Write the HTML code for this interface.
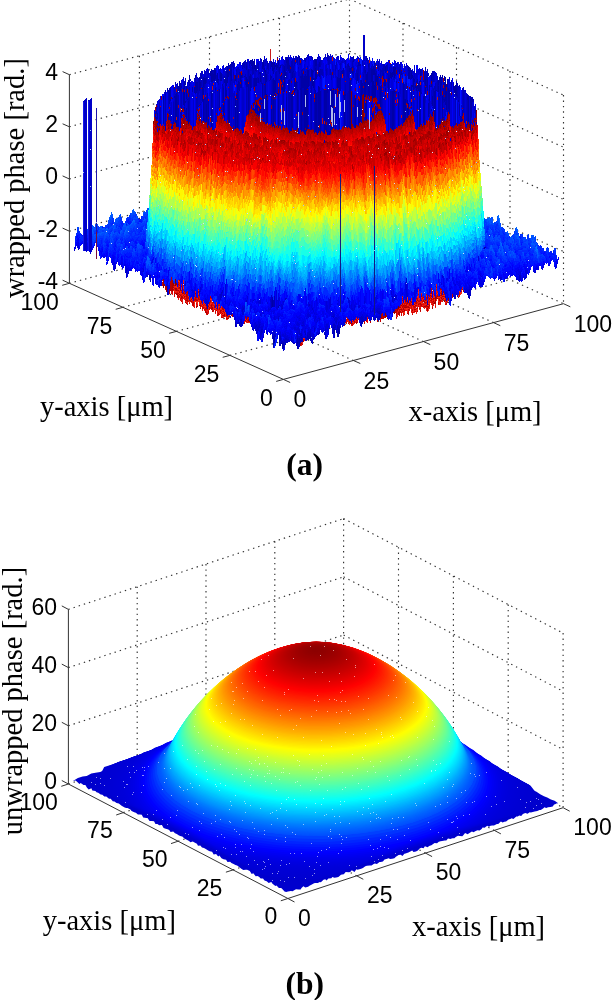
<!DOCTYPE html>
<html><head><meta charset="utf-8"><title>Wrapped and unwrapped phase</title>
<style>
html,body{margin:0;padding:0;background:#fff}
svg{display:block}
.tk text{font-family:"Liberation Sans",Arial,sans-serif;font-size:23px;fill:#000}
.lb text{font-family:"Liberation Serif","Times New Roman",serif;font-size:28.5px;fill:#000}
.cap text{font-family:"Liberation Serif","Times New Roman",serif;font-size:31.5px;font-weight:bold;fill:#000}
</style></head><body>
<svg width="612" height="1000" viewBox="0 0 612 1000">
<rect width="612" height="1000" fill="#fff"/>
<g id="plotA">
<path d="M139.4 55.8L139.4 264.4M209.5 36.8L209.5 245.4M279.5 17.9L279.5 226.5M349.5 -1L349.5 207.6M69.4 283.3L349.5 207.6M349.5 207.6L563.5 303.7M69.4 231.2L349.5 155.5M349.5 155.5L563.5 251.5M69.4 179L349.5 103.3M349.5 103.3L563.5 199.4M69.4 126.8L349.5 51.2M349.5 51.2L563.5 147.2M69.4 74.7L349.5 -1M349.5 -1L563.5 95.1M403 23L403 231.6M456.5 47L456.5 255.7M510 71.1L510 279.7M563.5 95.1L563.5 303.7M353.4 360.5L139.4 264.4M423.4 341.5L209.5 245.4M493.5 322.6L279.5 226.5M229.9 355.4L510 279.7M176.4 331.4L456.5 255.7M122.9 307.3L403 231.6" fill="none" stroke="#333" stroke-width="1.15" stroke-dasharray="1.4 4" />
<g fill="none" stroke-width="1" shape-rendering="crispEdges"><path stroke="#0000a7" d="M149.5 275v5m1 1v1m5-169v1m0 2v3m1-12v2m0 2v2m0 4v4m1-8v6m6-23v28m4-36v2m1 27v2m1-31v16m0 9v1m1-25v12m2-3v1m2-3v2m1-2v27m1-30v24m0 3v7m2-41v5m1-10v12m1-10v8m1-5v2m2 0v17m1-23v7m0 3v14m0 1v4m1-10v2m1-17v13m0 9v11m1-20v1m1-20v1m0 20v23m1-49v3m3 9v5m2-14v1m0 8v6m1-18v19m1-12v11m1-11v9m2-14v14m1-9v6m0 16v1m2-18v14m1-24v10m0 2v6m0 4v22m1-43v6m1-6v6m1 20v18m2-21v16m0 2v6m2-54v5m1-5v11m0 9v36m1-54v9m1-8v7m1-13v13m1-11v9m0 9v2m2-17v10m1-4v1m1 9v19m1-36v9m1-8v8m1 3v2m1 2v13m0 4v11m1-40v2m0 1v4m0 20v1m1-26v19m1-26v2m0 7v6m0 4v8m1-32v17m1-11v5m0 22v24m1-27v27m1-59v12m1-7v12m4-6v6m0 17v8m0 1v22m0 196v1m1-232v5m1-15v44m1-47v9m1-18v1m0 9v9m0 234v1m1-253v9m0 2v4m0 238v1m1-252v3m0 2v8m3-12v1m2-11v4m0 7v10m1-8v8m1-3v30m1-38v8m1-24v4m0 10v17m1-31v6m1-7v10m1-8v3m1-5v10m0 9v9m0 15v1m0 6v2m1-46v6m0 7v8m0 19v8m1-35v8m0 16v6m0 7v1m1-11v10m1-37v5m1-11v2m0 33v7m1-42v10m0 27v4m1-54v2m1 1v7m0 14v16m1-39v7m1 1v4m1-2v25m1-21v8m0 12v30m1-28v1m0 3v23m3-48v5m1-19v6m0 9v2m0 16v11m0 4v15m1-62v9m0 228v8m1-244v2m0 3v6m0 4v20m0 1v27m0 216v5m1-285v7m0 11v15m0 244v4m1-278v2m0 14v12m1-30v7m1-5v3m0 25v1m1-34v5m0 28v35m1-61v7m1-9v3m1 7v7m0 2v6m1-3v3m0 255v4m1-265v8m0 252v4m1-282v26m1-20v4m0 1v1m1-21v6m0 34v30m1-70v12m1-10v12m1-6v8m1-7v1m0 2v4m1 21v37m1-59v6m0 16v34m1-57v1m1 6v9m0 1v5m1-11v9m1-10v9m1-33v4m0 28v39m0 214v2m1 4v1m1-293v6m1 14v2m0 10v2m1-14v56m1-59v15m1-10v10m1-12v58m1-60v21m0 12v21m0 2v5m1-59v55m1-61v19m0 1v39m1-59v17m3-18v7m0 265v2m1-273v16m1-15v1m0 6v2m0 1v7m1 1v1m1-31v7m0 2v12m0 10v42m1-73v7m0 5v8m0 14v40m2-47v40m0 1v6m1-71v5m0 4v6m0 10v38m0 3v3m1-62v1m0 21v42m4-43v31m0 3v10m1-44v40m1-40v32m0 3v7m1-43v4m2 38v4m1-6v5m1-45v18m0 15v1m0 3v2m1-38v18m0 19v2m1-41v40m1 201v4m3-256v11m0 246v3m1-267v1m0 7v10m0 3v5m0 235v6m1-259v16m0 24v11m0 202v3m1-257v14m1-20v1m1-2v4m1-6v8m0 19v1m1-4v8m0 12v16m1-62v2m0 26v2m3-31v2m1 1v4m0 10v46m1-60v2m0 10v49m1-62v2m0 9v1m1-12v1m0 3v3m1-18v6m2 36v30m2-55v8m1-19v4m0 33v25m1-63v5m0 35v22m1-59v2m0 30v26m1-42v16m1-13v10m2-11v15m1-27v3m0 9v15m0 6v17m1-46v9m0 17v21m1-49v13m1-21v3m0 15v3m0 1v10m1-13v14m2-28v13m1-13v29m1-30v7m0 6v17m1-29v6m0 10v13m1-25v24m0 9v3m1-33v6m1-6v9m0 18v1m0 4v3m3-25v21m3-34v6m1 0v7m1-19v6m0 7v6m0 2v4m0 3v3m1-33v1m2 12v12m1-12v2m1-8v6m1-5v6m1-7v5m0 14v39m1-63v8m0 16v35m1-59v11m0 12v3m1-26v3m1 11v2m2 9v34m1-48v3m1-7v5m1-8v4m2 7v41m1-24v23m1-23v12m0 1v8m2-20v4m0 4v10m1-52v5m0 1v7m0 24v12m1-45v9m1-11v4m1-1v8m0 6v14m0 3v4m0 1v1m1-33v3m0 7v2m1-9v12m1-11v3m1 3v3m1-7v2m0 3v5m1-12v5m0 1v4m1-6v8m1-10v11m0 4v31m1-58v7m0 4v2m0 3v23m0 1v16m1-33v2m2 2v27m1-27v29m1-46v7m0 1v7m1-9v1m1-7v12m1 12v14m1-32v16m1-26v1m1-3v8m0 3v3m0 22v2m1-15v10m0 6v4m2-25v18m0 1v12m1-32v36m1-36v1m2-11v5m0 1v6m2-17v21m1-19v8m1-10v3m0 18v24m1-21v1m0 17v1m0 1v1m1-44v5m0 1v5m0 12v3m1-25v24m0 1v3m1-20v2m0 4v19m1-31v7m1 3v20m1-19v24m2-32v3m2-2v7m1-4v7m1-8v10m1-14v15m2 4v2m1-17v3m0 16v12m2 1v1m1-8v6m0 3v1m5-23v3m1-4v26m1-26v1m0 200v1m1-200v32m1-33v20m1-18v3m3 8v4m9 133v2"/><path stroke="#0000b7" d="M150.5 275v6m6-168v1m0 12v1m3-25v22m0 4v2m1-23v17m5-33v40m2 158v6m1-205v18m0 11v1m1-10v3m1-26v2m0 31v1m1-2v1m2-18v22m1-36v1m1-7v2m0 10v2m2-12v43m1-35v1m0 2v10m0 3v19m3-37v19m0 1v8m3-6v1m1-35v7m0 25v7m2 2v2m1-40v2m0 15v3m1-23v8m0 1v35m7-24v22m1-29v18m1-31v16m0 12v1m2-32v3m1-5v6m0 1v6m0 16v1m0 17v3m1-22v1m1-15v2m1-5v4m0 10v24m1-25v26m1-46v6m0 17v4m1-11v35m0 180v1m3-217v1m1-24v2m1-1v3m0 20v15m0 1v13m0 1v7m1-60v4m2 16v1m1-16v7m2-16v1m0 13v5m4 1v17m1-17v2m0 13v2m1-2v2m0 1v9m0 2v6m1-22v1m1-27v7m2-17v9m1-7v4m0 2v4m0 11v10m1-20v9m1-23v7m1-7v5m1-6v9m0 2v4m1 3v6m1 237v3m1-256v3m0 1v9m0 18v28m2-37v38m1-56v2m0 249v1m1-1v2m1-4v3m1-258v2m0 4v5m1-16v5m1-6v7m1 6v11m1-23v4m0 21v29m2-47v13m1-21v5m0 18v26m2-35v13m1-19v6m1-11v10m0 4v11m0 19v2m3-44v6m0 36v6m1-52v7m0 8v6m1-20v12m0 31v2m0 3v4m2-16v6m1-29v8m0 16v3m0 228v1m1-212v1m1-54v3m0 27v25m1-37v11m1 0v1m2-36v8m1-6v7m1 10v1m1-20v1m0 3v4m1 231v8m1-229v17m0 1v30m0 170v2m0 37v3m1-274v3m0 232v7m0 29v6m1-245v25m0 3v3m0 168v11m0 28v4m1-267v9m0 13v4m0 1v25m1-53v10m2-16v7m0 234v2m1-3v1m0 32v8m1-270v4m0 256v5m0 3v2m1-274v1m0 270v1m1-1v2m1-280v15m0 2v2m0 9v15m0 4v14m0 216v2m1 1v1m1-282v8m0 271v2m1-282v8m0 1v7m0 14v4m2-17v50m1-51v12m0 1v41m1-40v38m1-70v18m1-20v13m1-16v2m0 8v5m0 1v6m0 265v1m1-286v8m0 7v5m1-16v2m1-8v6m0 283v1m1-285v4m0 17v1m0 255v4m0 2v5m1-294v3m0 9v2m0 21v22m0 16v6m0 206v4m1-282v3m0 273v7m1-282v2m0 13v10m0 2v40m0 210v3m1-273v6m0 259v1m0 1v5m1-273v2m0 17v24m0 3v16m0 210v1m1-266v2m0 10v44m1-74v3m1-3v4m0 9v2m0 260v2m0 2v1m1 0v1m1-273v3m0 266v3m1-284v5m0 277v1m0 1v2m1-264v10m0 248v1m1 0v3m0 1v2m1-265v54m0 208v3m1-284v3m0 283v1m1-8v1m1-278v12m0 7v11m0 1v4m0 4v1m0 3v31m0 205v1m1-273v2m1-2v5m1-14v3m0 32v43m1-71v12m0 257v2m1-3v2m1-274v7m0 3v9m1-19v1m0 8v6m1-6v7m2-19v2m0 81v3m1 191v1m0 2v2m1-270v7m0 262v1m1-286v8m0 32v42m1-80v10m0 25v28m0 1v16m1-75v4m1 5v6m0 14v2m0 14v15m0 4v5m1-56v7m0 48v2m2 197v6m1-6v1m0 5v4m1-272v6m0 19v4m0 13v23m1-68v3m1 261v4m1-259v7m0 18v34m0 197v4m1-2v2m1-268v6m0 4v4m1-5v5m2 19v2m1-37v1m1-2v6m0 18v10m0 2v30m2-62v13m0 16v35m1-65v2m0 2v11m0 13v36m1-61v2m0 10v4m1-12v4m1-5v4m0 6v2m1-20v6m1-1v12m1-19v1m0 35v33m2-58v14m1-19v8m1-7v17m0 41v2m2-46v16m1 0v19m0 1v7m0 198v6m1-266v5m0 27v2m0 225v4m1-250v3m0 3v6m0 2v6m1-27v6m1 0v7m1-24v5m0 22v12m1-37v2m0 25v13m1-31v15m1-19v20m1-15v15m1-17v3m0 17v10m1 2v4m0 11v4m1-51v2m1-5v6m1-6v10m0 36v1m1-39v5m0 33v2m1-46v4m0 38v1m1-47v10m0 3v11m1-9v1m0 8v19m0 209v1m1-245v13m1-12v2m0 13v26m1-43v8m1-12v9m1-9v7m1-5v1m1-1v6m1-8v7m0 2v2m1-1v4m1-3v3m0 2v3m1 8v37m1-37v38m2-40v2m0 35v5m1-38v36m1-59v6m0 16v2m4-25v5m1-12v1m0 3v8m4 10v15m2-16v6m0 1v13m2-32v1m1-5v3m1 2v8m0 31v1m1-42v1m3 15v3m3 1v19m0 2v18m4-60v7m2 5v1m1-10v12m1-17v12m1-5v11m0 1v2m1-18v9m1-6v3m1 25v13m1-28v1m1 16v1m1-33v12m0 24v1m1-37v11m0 7v22m1-25v3m1-6v7m2-12v1m0 2v11m1-7v1m0 7v35m1-51v6m0 13v29m4-43v3m0 3v11m0 1v3m1-16v8m0 2v2m1 2v1m0 12v2m2-30v26m0 1v2m1-27v1m0 20v3m3-32v2m0 3v6m4 6v28m0 173v1m2-216v15m0 27v1m3-10v1m0 1v4m1-4v4m1-2v1m1-34v26m4-19v3m0 3v25m0 169v1m1 1v2m1 0v1m1-203v2m1 19v1m0 4v1m1-26v2m0 29v2m1-31v3m2 12v4m1 4v2m9 123v1"/><path stroke="#0000c7" d="M74.5 249v2m16 2v1m24 12v1m0 2v2m1-3v1m10 3v1m1-3v4m29-163v2m1-4v2m1-10v4m0 1v3m0 14v2m1-3v1m1-22v1m6-12v1m2-1v3m0 193v3m1-178v3m1 1v5m1-13v13m1-18v13m0 1v3m0 7v3m1-7v7m1-28v1m1-13v7m0 2v24m3-39v1m3 7v17m0 4v16m1-45v3m0 3v1m2-13v11m0 19v2m1-28v1m0 24v1m0 4v1m0 1v2m2-16v3m1-17v4m0 4v6m0 1v19m1-31v5m0 4v1m2-19v2m0 1v2m3 11v32m3-52v7m1-5v5m1 12v12m1-15v2m0 2v10m0 14v2m1-48v2m0 3v4m0 6v16m0 12v1m1-46v2m0 13v2m0 1v12m0 8v10m1-42v10m2-17v8m1-7v7m0 6v11m0 208v1m1-208v4m0 202v1m0 1v2m1-238v10m0 225v5m1-239v6m1-2v1m0 7v4m3-3v4m0 4v2m2 0v1m1-24v1m0 9v2m0 1v6m0 3v37m2-37v25m1-27v20m1-40v9m1 216v6m1-195v5m0 182v6m1-224v4m0 26v8m0 4v1m0 1v1m0 171v3m1-228v8m0 2v9m0 211v2m2-226v7m1-12v1m0 21v2m1 8v22m1-32v2m1-15v11m1-1v12m0 217v1m0 1v1m1-236v46m0 186v2m1-236v18m1-27v2m0 4v7m0 10v24m0 2v7m0 2v3m1-68v6m0 22v38m1 197v1m1-255v1m0 252v2m1-260v10m1-10v8m0 3v3m0 9v1m0 229v1m0 1v2m1-255v3m0 3v7m0 240v2m1-5v5m1-246v2m0 239v3m0 4v1m1-264v4m0 20v47m0 175v3m1-223v44m0 175v2m2-250v9m1 231v2m1-243v20m0 8v28m2-49v2m0 1v7m1-10v5m1-4v4m0 41v1m0 213v1m1-218v1m0 219v1m1-228v1m0 197v1m0 29v1m1-262v9m0 13v4m0 9v1m0 223v1m1-258v7m0 8v7m0 1v6m0 226v2m1-3v2m0 2v2m0 1v2m1-7v6m1-258v3m0 38v1m0 209v5m1-257v10m0 16v1m0 13v2m0 208v4m1-270v2m0 272v7m1-235v14m0 211v2m0 1v3m1-236v19m0 211v1m0 1v2m0 5v2m1-266v2m0 1v20m0 237v4m1-282v12m0 4v12m0 14v1m0 10v13m1-63v7m0 31v3m0 1v23m1-56v6m1-2v9m1-11v4m2-12v3m0 9v1m0 224v3m1-224v16m0 201v5m3-231v3m0 262v1m1-1v3m1-256v13m1-26v25m1-21v9m0 237v2m1-246v5m0 1v46m0 208v4m1-3v1m0 6v2m1-279v1m0 275v2m1-279v21m0 5v38m0 180v1m0 32v2m1-284v1m0 288v1m0 1v1m1-291v6m0 274v3m1-286v7m0 14v11m0 209v2m0 38v5m1-45v1m0 39v5m1-274v10m0 11v1m0 248v2m1-286v4m0 280v3m1-279v2m1 8v9m1-3v2m0 2v10m0 247v2m1 0v1m1-285v8m0 12v2m1-14v7m0 270v1m1-288v4m0 11v6m1-15v1m0 27v24m0 2v14m0 210v5m1-262v6m0 244v5m1-269v7m0 262v2m0 4v4m1-276v18m0 240v5m0 10v2m1-289v2m0 14v2m0 257v5m0 1v1m1-282v6m0 269v2m1-264v2m0 252v1m0 12v3m1-273v3m0 3v2m1-12v12m0 255v2m1-260v1m0 257v2m0 3v1m0 3v1m1-284v3m0 9v7m0 261v1m0 1v2m1-286v3m0 11v1m0 263v2m0 3v2m1-252v27m0 1v9m0 2v2m0 203v4m0 1v1m1-269v7m0 228v2m0 25v3m0 1v4m1-258v8m0 1v3m0 1v36m0 201v4m0 3v1m1-283v3m1 249v2m1-250v11m0 1v1m0 261v2m0 1v3m1-12v4m3-268v6m0 4v3m1-17v4m1-8v6m1 267v1m1-269v4m0 25v41m2-73v2m0 12v6m0 11v44m1 200v2m1-281v4m0 7v6m0 258v1m0 1v1m0 3v2m1-273v5m1-1v7m2-19v4m0 4v11m0 12v37m0 1v6m2-59v1m1-9v6m0 246v1m0 15v1m1-264v9m0 238v2m0 6v3m0 6v2m1-11v3m0 1v1m0 8v1m1-267v7m0 11v1m0 231v1m0 3v3m0 1v1m1-265v4m0 7v12m0 2v5m0 225v4m0 5v4m1-277v2m0 267v1m0 5v3m1-12v5m1-263v1m0 4v9m0 248v3m1-259v3m0 253v2m1-267v4m0 12v1m1-20v5m1 35v28m1-56v22m1-13v2m0 1v2m1-18v61m1-50v16m1-15v13m1-19v2m3-17v4m1 36v8m0 2v19m1-66v1m0 7v4m1 1v7m3-23v2m1 7v10m1-10v9m0 242v3m0 2v1m0 2v1m1-10v5m1-4v3m1-251v5m0 3v3m0 239v2m1-258v2m0 1v1m0 6v9m0 15v16m0 4v4m1-55v4m0 30v1m0 216v2m2-259v4m1-4v4m2 19v13m0 224v1m1-239v4m0 16v3m0 2v8m0 204v1m1-256v5m1 42v5m0 203v1m1-259v2m0 12v10m0 235v1m1-2v1m1-214v3m0 202v1m0 5v1m1-228v10m0 2v1m0 8v1m0 198v3m0 5v2m1-235v19m0 207v3m0 4v3m1-262v2m0 5v4m0 10v5m0 24v2m0 200v2m0 3v4m1-238v2m0 233v1m1-257v5m0 6v6m1 14v21m1-31v3m1 1v1m1-1v2m1-15v1m1 1v13m1-18v4m0 16v43m1-66v8m0 8v6m1-25v8m1-8v9m1 223v6m1-227v5m1-2v2m1 14v6m1-37v6m0 14v6m0 2v3m1-32v13m1-8v5m1-8v5m0 26v31m1-63v3m0 13v15m2-21v4m0 6v43m3-44v17m1 6v13m1-53v7m3 38v1m0 4v1m1-8v1m2-33v2m0 13v4m0 1v20m1-51v14m0 3v4m1-9v2m1-8v10m1 8v1m4-9v11m2-12v1m1 5v10m1 0v7m1-32v3m1-5v1m0 231v4m1-206v2m1 14v3m2-28v13m1-20v13m1-8v1m1-18v11m0 7v2m1-19v1m0 53v2m1-55v3m0 6v8m0 38v1m1-53v2m0 2v1m1 11v1m1-10v11m1 2v28m1-39v13m0 22v1m1-35v5m0 4v1m1 7v5m1-6v18m1-12v6m0 182v2m5-211v2m0 2v1m0 1v1m2 199v1m1 2v1m1 0v2m1-3v2m1-202v4m1 3v22m0 170v2m1-211v14m1-12v16m1 13v1m1-13v2m0 9v1m1-29v20m2-18v33m1-33v2m1 1v28m0 3v4m2-33v1m0 194v6m1-7v8m1-7v6m1-166v1m1-29v6m0 15v2m1-5v3m1-17v2m0 1v2m1-3v2m0 10v1m25 159v1m1-2v1m15-1v1m3-5v5m0 1v1m1-7v5m4-1v1"/><path stroke="#0000c8" d="M83.5 101v1m1-2v151m1-152v152m1-153v153m2-151v1m1-1v151m1-152v31m0 1v18m0 1v36m0 1v64m1-153v153m272-216v26m1-26v26"/><path stroke="#0000d7" d="M77.5 247v1m1-3v2m0 2v1m1-2v1m11 2v2m23 14v3m1-8v4m0 1v2m1-3v2m6-2v1m4 0v1m0 1v3m1-4v2m0 4v3m1-9v3m0 1v4m1-4v2m14-3v1m1-3v3m3 3v2m1-2v2m1-3v1m7 5v4m1-170v2m1-7v4m0 6v1m0 164v1m2-186v2m0 24v1m2 157v3m3-194v34m2 158v2m1-175v2m0 169v4m1-178v1m0 182v4m1-186v1m0 4v1m1-14v5m1 14v4m1-25v1m1-15v16m2-17v10m1-10v5m0 3v1m3 0v1m1 195v1m1-210v3m0 5v1m1-1v1m0 3v16m0 23v2m1-21v1m1-24v1m0 194v2m1-200v15m0 2v7m0 171v5m1-184v6m1-26v3m1-2v5m2 9v28m1-32v2m0 195v1m1-199v4m0 193v4m1 2v2m2-203v32m1-53v2m3 18v2m0 196v1m0 1v3m1-191v11m0 171v5m1-191v1m0 1v6m1-38v6m2 11v4m1 206v4m1-233v8m0 6v13m0 203v3m0 1v1m1-226v6m0 217v2m1-228v3m0 1v5m0 218v1m1-210v3m1-20v6m0 11v23m0 1v1m0 4v6m1-46v9m2-9v1m0 2v45m3-43v26m0 2v7m1 185v2m1-242v6m0 12v4m0 207v5m1-223v3m0 2v6m0 24v2m0 179v7m1-233v4m0 9v8m0 21v3m1-1v1m1-35v1m1-6v2m0 9v2m1-18v8m1-9v3m0 214v20m1-237v4m0 241v2m1-2v4m1-239v10m0 3v7m0 208v1m1-3v2m1-208v29m0 191v1m2-251v1m0 29v31m1 167v1m0 20v1m1-11v1m0 11v2m1-3v5m1-240v11m1-16v7m0 238v2m1-13v1m0 9v1m1-231v21m0 1v18m0 177v1m2-244v1m0 22v42m0 195v1m1-20v3m0 3v3m0 9v2m1-259v11m0 9v2m0 218v1m0 4v3m0 8v1m1-256v8m0 1v3m0 9v38m0 179v3m1-240v5m0 11v3m1-18v7m1 219v3m3-235v2m0 5v3m0 232v1m1-236v4m0 250v1m1-249v10m0 16v1m0 223v2m1-1v2m1-235v7m0 197v1m0 23v5m1-14v1m0 7v4m0 2v3m1-266v1m0 6v6m0 8v9m0 2v3m0 224v1m0 2v2m0 2v1m1-262v7m0 7v16m0 224v3m1-268v4m0 20v16m0 202v2m0 18v5m1-242v14m0 200v1m0 1v4m0 18v2m0 6v2m1-272v6m0 16v15m0 202v5m0 10v2m0 6v1m0 1v1m0 2v1m0 2v2m1-266v10m0 43v1m0 206v3m0 6v2m1-268v3m0 1v10m0 36v1m0 206v3m0 1v1m0 9v1m1-28v1m0 11v1m1 5v1m1-232v1m1-43v10m0 14v12m0 216v1m0 20v3m1-265v3m0 9v14m0 207v2m0 30v1m1-260v7m0 226v4m1-251v10m0 10v16m0 212v1m0 22v1m1-264v5m0 6v15m0 207v8m0 23v2m2-264v8m0 253v4m1-23v1m0 17v5m0 11v1m1-32v4m0 11v3m1-267v5m0 247v1m1-30v19m1-252v1m0 3v4m0 29v31m0 175v1m0 5v4m1-12v8m0 10v2m0 2v1m1-263v9m0 230v4m0 15v1m1 15v3m0 6v1m1-278v1m0 239v6m0 28v3m1-285v3m0 246v3m0 26v2m1-35v2m0 31v3m0 2v3m1-7v3m0 1v1m0 3v2m0 1v2m1-15v5m1-2v2m1-247v37m0 207v4m0 2v2m1-272v9m0 257v2m1-282v6m0 274v1m0 2v2m1-287v11m0 16v11m0 247v1m1-5v4m1 0v2m1-250v3m0 1v34m0 209v4m1-16v3m1-253v1m0 13v39m0 197v3m0 8v1m1-15v1m0 4v2m0 2v1m0 1v2m1-20v1m0 4v4m0 2v5m1-275v9m0 9v14m0 233v3m0 1v7m0 2v2m1-273v7m0 246v1m0 1v1m0 3v1m0 4v1m0 6v2m1-273v9m0 264v1m1-275v6m0 255v1m0 3v1m0 1v2m0 3v1m1-15v2m0 5v2m0 3v4m1-278v1m0 260v5m1-1v1m0 4v1m1-269v9m0 257v1m0 1v1m1-13v1m1-5v3m0 15v1m1-274v11m0 232v5m0 6v5m0 11v3m1-18v3m0 13v1m1-275v5m0 7v9m0 238v2m0 12v2m1-26v3m0 25v4m1-251v43m0 204v10m1-270v5m0 10v33m0 1v8m0 180v2m0 14v1m1-14v1m0 5v2m0 6v1m0 8v2m1-22v3m0 9v1m1-29v1m0 13v1m0 7v1m0 12v1m1-276v4m0 256v2m0 10v3m1-281v6m0 258v1m1-252v4m0 247v3m0 8v3m1-275v1m0 9v2m0 10v12m1-26v4m0 8v13m0 239v1m1-270v9m0 19v30m0 6v8m0 199v1m1-269v9m0 256v1m0 1v2m1-2v1m0 1v1m1-262v4m0 251v3m0 1v1m0 1v2m1-277v2m0 17v2m0 223v11m0 12v6m0 5v3m1-277v4m0 240v5m0 14v8m1-263v7m0 250v1m0 3v4m1-35v10m1-255v10m0 233v10m1-251v8m0 16v9m0 215v1m0 11v1m1-262v2m0 4v3m0 6v2m0 3v14m0 225v1m0 10v3m0 1v3m0 1v1m1-269v4m0 244v3m0 7v1m0 11v3m1-280v8m0 3v6m0 15v16m0 2v5m0 12v4m0 185v3m0 1v3m0 2v1m1-7v4m0 1v1m1-228v29m0 1v4m0 188v3m1-262v1m0 9v9m0 20v33m0 170v1m0 2v2m0 13v2m0 10v1m1-275v7m0 26v1m0 216v1m0 10v1m1-258v4m0 241v1m0 15v2m0 1v2m1-271v8m0 6v1m1-5v6m0 7v11m1-11v12m0 235v2m1-269v5m0 13v15m0 220v1m0 10v2m0 1v1m1-267v2m0 1v2m0 257v1m0 1v2m1-257v11m2 218v2m1-1v5m1-3v8m1-252v6m1-5v10m0 14v4m0 1v5m0 213v6m0 9v4m1-249v6m0 11v33m0 184v3m0 8v1m1-258v4m0 29v2m0 213v1m0 8v2m1-249v1m0 232v5m1-248v4m0 240v1m1-246v6m0 26v32m1-69v5m0 1v3m0 252v2m1-13v2m1-232v4m0 225v3m0 9v2m1 1v2m0 1v2m2-253v11m0 231v3m1-256v8m0 247v3m0 2v1m1-260v1m0 238v3m0 13v4m1-265v10m0 250v1m0 2v2m1-253v6m0 241v5m1-252v4m0 243v2m2-260v3m0 260v1m1-11v2m0 7v1m1-259v3m0 37v1m0 15v4m0 196v2m1-217v6m0 202v2m0 4v1m1-242v6m0 22v4m0 9v3m0 189v4m0 5v2m1-2v3m1-8v1m0 4v2m1-258v4m0 4v2m0 15v12m0 211v2m0 5v1m1-258v6m0 20v1m0 212v1m0 9v2m0 6v2m1-209v2m0 197v3m0 5v2m1-257v5m0 242v3m0 3v2m1-251v4m0 40v1m0 201v6m1-251v4m0 243v1m1-250v4m0 19v1m0 2v1m1-6v12m0 1v18m1-45v8m0 8v32m1-19v24m0 188v1m1-239v5m0 3v8m3-1v1m1 0v1m0 221v2m1-235v12m0 200v4m0 1v1m1-230v5m0 7v12m1 209v3m0 6v3m1-232v2m0 214v1m0 1v3m0 9v1m1-250v6m0 9v3m0 24v26m0 165v6m1-231v1m0 225v5m0 8v1m3-227v13m1-1v3m1-17v35m0 3v6m1-47v1m0 215v2m1-226v5m0 228v1m1-239v7m1-5v8m0 208v8m1-227v20m0 195v5m0 1v17m1-229v4m0 12v12m0 193v4m1-182v1m1-7v3m0 20v2m1-47v4m0 1v12m0 10v1m2-46v6m0 3v7m1-14v5m0 221v3m1-211v9m0 2v22m0 168v9m1-226v4m0 2v6m0 3v3m1 0v39m1-59v8m1-10v6m1-7v6m5-3v1m0 12v2m1 17v22m1-37v10m2 3v2m1-27v2m0 36v1m0 175v3m1-217v10m0 15v13m0 177v1m1-188v2m0 8v2m4-43v10m1-7v6m1-3v1m2 14v2m2 2v21m0 164v2m1-207v8m0 189v3m1-169v8m0 168v2m1 6v1m1-189v3m0 184v4m1-186v2m0 180v2m1-182v1m1-34v9m1-11v13m0 200v1m1-209v5m0 2v2m0 3v32m0 12v3m0 147v1m0 1v5m1-204v1m0 3v32m1 165v1m1-203v38m0 166v2m1-202v3m0 1v28m0 165v3m0 1v2m1-202v2m0 187v2m0 6v1m0 1v2m1-3v2m1-197v5m1 17v4m1-8v2m0 5v1m0 163v1m1 2v2m4-4v2m1-198v35m0 162v4m1-5v5m1-22v1m0 17v5m1-5v1m1-193v27m0 161v4m1-3v4m1-172v4m0 164v2m1-169v1m1-16v16m1-12v1m0 2v2m0 9v4m4 130v5m1 21v1m1-8v1m0 7v1m1-8v1m13 3v1m5-3v1m1-2v3m1-3v2m16 0v1m1-6v1m0 4v2m1-1v1m1-9v3m3 1v1m1 1v1m1-9v3m0 4v2m1-9v8m1-8v3m6-2v1m1-2v3m1-2v2m1-5v2m5-2v1m1 0v1m1-3v1m13-3v3"/><path stroke="#0000e7" d="M74.5 247v2m1-3v3m2-6v4m1-5v3m0 2v2m1-3v2m7 3v1m1-6v3m0 1v1m2 0v1m2-1v1m1-3v1m11 7v1m1-1v1m8 1v6m1-8v10m3-4v1m1-3v1m1 2v1m1 0v1m1-2v1m1-3v4m1-4v3m0 2v2m1-2v1m1-4v2m1-2v3m0 1v1m1-3v2m0 9v1m1-7v1m0 4v1m1-10v5m1-3v2m1-2v2m1-1v1m3-3v1m1 1v2m1-2v1m4 0v4m1-4v1m1-4v1m0 4v2m0 1v4m1-12v1m0 13v1m1-19v2m2 6v3m1-2v2m2-1v1m2-13v2m1-5v4m1-6v3m1-150v7m1 160v3m1-176v1m0 11v1m0 159v1m0 2v1m0 2v3m1-180v1m0 14v1m0 154v3m0 3v3m1-184v22m0 164v1m1-11v1m0 7v4m1-4v2m1-186v26m0 154v3m5-191v29m1-28v18m0 169v2m1-12v5m0 5v1m1-177v3m0 178v4m1-183v1m0 15v1m2-23v22m6-29v2m2 193v1m1-9v3m1-204v9m0 199v3m1-185v2m1 11v2m2-1v2m3-35v1m0 209v1m1-213v13m1-16v12m0 2v31m0 160v4m0 5v2m1-212v2m0 9v1m0 1v32m0 164v5m1-217v13m0 195v5m0 4v2m1-222v7m0 201v7m1-11v8m1-198v4m0 199v1m1-4v1m1-185v1m1-4v2m0 184v1m2-9v6m2-216v3m1 15v6m0 197v2m0 3v3m1-1v1m2-219v9m0 202v6m1-2v3m0 1v1m1-230v7m0 4v8m1-10v9m3-11v1m1-1v11m0 202v2m1-228v1m1-3v9m0 218v3m1-213v7m0 201v9m1-227v6m0 222v2m1-222v2m0 218v3m1-195v1m0 178v2m1-203v18m1-26v5m0 209v3m1-180v2m0 169v3m0 14v4m1-225v17m0 197v2m0 2v1m0 5v2m1-209v21m0 187v4m1-226v2m0 10v25m0 156v1m0 23v1m0 7v1m1-229v13m0 206v3m0 3v1m0 2v1m1-8v1m0 2v4m0 3v1m1-13v1m0 11v1m1-14v2m0 9v2m1-2v1m1-245v11m0 213v2m0 8v1m1 11v2m1-12v2m2 3v2m0 10v4m1-16v3m0 1v2m0 1v1m0 1v4m1-5v3m1-17v4m0 10v3m1-258v6m0 20v41m0 175v5m0 5v5m1-12v5m0 3v4m1-250v4m0 6v8m0 218v1m0 10v1m0 5v2m1-19v2m0 4v1m0 10v1m1-242v8m0 216v1m0 3v3m1-224v34m0 176v4m1-7v1m1 3v5m1-245v10m0 224v2m1-227v1m1 22v18m0 190v3m0 5v4m0 10v3m1-258v1m0 237v5m0 9v1m1-244v2m0 27v5m0 191v3m0 19v5m1-253v1m0 234v1m0 9v3m0 2v4m1-20v5m0 6v4m1-15v2m0 2v2m1-13v3m0 7v2m0 8v3m1-241v1m0 215v4m0 7v2m0 9v3m1-21v3m0 13v2m1-260v11m0 29v3m0 207v2m0 6v3m0 6v2m1-264v3m0 244v1m0 6v2m0 1v1m0 1v2m0 1v2m0 9v1m1-279v5m0 18v14m0 215v4m0 6v3m0 11v1m1-36v2m0 6v1m0 1v2m0 9v3m0 7v1m0 2v2m1-268v4m0 223v1m0 14v1m0 10v2m0 1v1m0 3v4m1-19v2m0 12v2m0 1v1m1-25v4m0 3v1m0 11v3m1-31v3m0 25v4m1-21v2m0 9v4m1-251v1m0 7v15m0 209v2m1-237v9m0 227v2m0 1v1m0 3v1m1-192v2m0 172v2m0 12v1m0 3v2m0 14v2m1-266v9m0 234v4m0 2v3m0 13v2m1-23v1m1-253v4m0 11v4m0 232v3m0 4v2m1-247v8m0 211v5m0 14v3m0 2v1m0 13v2m1-15v3m0 7v2m0 2v4m1-264v1m0 245v3m1-18v5m0 7v6m1-238v2m0 4v2m0 204v5m0 15v3m0 16v3m1-22v3m0 14v4m1-266v3m0 23v15m0 3v14m0 175v6m0 7v2m0 15v1m1-242v15m0 15v2m0 2v6m0 185v2m0 17v3m1-36v4m0 9v3m0 10v1m0 4v2m0 2v1m0 3v1m1-281v5m0 238v2m0 13v1m0 14v1m1-241v18m0 14v3m0 196v1m0 1v2m0 3v4m0 3v1m1-13v1m0 1v1m0 1v3m1-254v12m0 232v1m0 1v4m0 1v1m0 1v1m0 1v2m1-257v5m0 1v5m0 242v2m1-13v1m0 10v2m0 1v2m1-264v6m0 230v1m0 11v1m0 11v4m0 1v2m1-37v2m0 18v2m0 2v1m0 2v5m0 3v2m1-283v4m0 240v5m0 19v1m0 1v2m0 2v2m0 1v2m1-258v13m0 216v2m0 18v3m0 3v2m0 2v3m1-260v10m0 231v1m0 3v4m0 8v2m1-244v23m0 1v11m0 187v1m0 6v3m0 3v1m0 11v1m1-22v3m0 1v2m0 3v1m0 6v1m0 4v1m1-271v9m0 234v2m0 2v5m0 1v1m0 1v2m0 2v2m0 4v3m1-269v11m0 234v1m0 4v1m0 5v1m1-34v2m0 20v7m0 3v1m1-237v44m0 161v6m0 14v3m0 1v1m0 2v2m0 1v2m1-14v3m0 1v4m0 1v2m1-12v1m0 4v1m0 2v5m0 5v1m1-13v4m0 2v1m0 1v1m0 1v1m0 2v3m1-15v2m0 5v4m0 6v2m1-277v3m0 253v8m0 1v4m0 4v4m1-32v2m0 6v3m0 3v2m0 4v2m0 1v1m0 5v1m0 2v2m1-280v8m0 228v10m0 7v1m0 1v3m0 7v4m0 6v2m1-279v8m0 244v4m0 3v2m0 6v2m0 1v1m0 1v1m1-244v1m0 206v6m0 9v4m0 14v2m1-273v11m0 239v4m0 2v1m0 14v3m1-241v1m0 214v8m0 1v2m1-248v2m0 232v4m0 3v3m0 1v2m0 13v6m1-268v5m0 230v8m0 4v2m0 12v3m0 1v1m0 1v1m1-26v3m0 2v1m0 2v2m0 16v1m1-263v7m0 225v5m0 4v1m0 1v1m0 1v3m0 2v1m0 3v2m0 7v1m1-255v10m0 219v7m0 3v9m1-31v3m0 1v10m0 1v2m0 2v2m0 1v3m0 1v2m0 7v3m1-33v4m0 8v1m0 3v2m0 8v1m0 2v1m1-16v2m0 2v1m0 4v1m0 2v5m1-256v10m0 212v4m0 14v1m0 3v2m0 3v3m1-271v2m0 259v1m0 6v2m1-253v2m0 237v1m0 13v1m1-18v3m0 2v1m0 11v3m1-20v6m0 12v1m1-29v1m0 17v1m0 1v6m1-269v7m0 10v10m0 2v2m0 212v9m0 3v2m0 6v2m0 1v2m1-248v12m0 225v3m0 5v1m0 6v4m1-259v14m0 212v4m0 5v3m0 2v3m0 5v1m0 8v1m1-268v4m0 7v8m0 1v3m0 1v1m0 208v16m0 8v4m0 2v2m0 4v1m1-260v12m0 224v5m1-241v14m0 222v4m1-251v1m0 247v4m0 6v2m0 2v2m1-17v3m0 1v1m0 5v2m0 1v1m0 3v1m1-272v8m0 246v2m0 7v3m1-257v3m0 243v2m0 8v1m1-245v11m0 234v2m0 3v1m1-272v5m0 7v7m0 12v1m0 224v1m0 1v1m0 8v5m1-270v3m0 2v4m0 246v4m0 2v2m1-234v1m0 210v7m0 8v3m0 1v4m1-6v3m0 4v1m1-5v7m1-7v2m0 1v3m1-235v37m0 174v3m0 19v2m1-27v5m0 6v2m0 6v3m0 1v1m0 2v1m1-15v2m0 6v3m0 1v1m1-4v3m1-263v7m3 8v4m0 240v2m1-258v6m0 237v4m0 10v2m1-19v2m0 12v3m1-20v9m1-215v2m0 205v10m0 6v3m1-258v7m0 5v6m0 225v1m0 12v3m1-18v4m0 10v1m1-248v1m0 233v2m1-244v1m0 38v7m0 10v8m0 191v1m1-232v11m0 204v6m1-226v6m0 2v9m0 203v2m0 17v1m0 2v1m1-17v1m0 5v5m1-6v5m1-8v1m1 3v4m1-20v5m0 6v1m0 4v5m1-19v5m0 6v2m0 2v3m1-255v7m0 225v1m0 20v1m1-251v4m0 245v2m1 1v3m1-222v2m0 217v4m1-218v20m0 179v4m0 2v3m0 2v2m0 1v1m0 1v2m1-255v2m0 232v8m0 5v2m0 1v1m2-9v2m0 6v3m1-2v2m1-207v2m0 185v7m0 4v4m0 3v2m1-185v2m0 161v8m0 4v2m0 3v1m0 1v2m1-215v1m0 204v2m0 5v3m1-11v3m0 6v2m1-246v6m0 2v2m0 226v2m1-3v6m1-1v3m1-20v6m0 10v1m0 2v1m2 0v2m1-5v1m1-239v1m1-11v2m1-4v10m1-10v1m0 2v4m0 249v2m1-240v10m0 1v1m0 213v3m0 4v2m2-235v2m0 215v2m0 13v1m1-230v9m0 201v10m1-240v7m0 228v1m0 11v1m0 1v1m2-236v7m1-2v20m0 4v25m0 179v1m1-246v5m2 30v28m1-63v8m2 230v2m1-230v4m0 218v4m1-222v6m0 208v9m1 2v1m1-19v10m1 9v1m1-214v13m0 10v3m1-29v1m0 21v1m1 2v3m1-27v23m1 193v2m1-17v1m0 10v1m1-209v38m0 156v12m1-9v6m1-229v6m0 216v5m1-5v2m4-221v7m0 4v4m1 11v2m2 189v1m1-186v20m1-24v25m1-32v10m0 20v1m1-42v7m0 204v1m1-4v5m1-204v3m0 16v1m0 4v3m1-8v1m0 9v1m0 180v1m3-12v1m4 1v1m3 3v3m1-19v9m1-159v1m0 158v3m0 3v2m2-15v2m0 18v3m1-23v3m0 12v7m1-3v1m1-29v10m0 9v2m1-1v1m0 5v1m0 2v4m1-16v2m0 11v2m1-223v4m0 195v4m0 10v1m1-210v1m0 199v2m0 9v1m1-11v3m0 4v1m0 3v1m1-5v2m0 1v1m1-13v2m1-2v2m0 1v1m0 8v2m1-193v18m0 163v1m0 1v1m0 6v3m1-177v2m0 161v6m1-2v5m1-183v3m0 3v3m0 172v1m3-3v2m0 3v2m1-10v6m1-18v1m0 13v3m1-6v2m0 3v2m1-6v2m0 2v2m1-7v1m1-16v4m1-148v1m0 164v2m1-182v11m0 168v1m1-186v2m0 182v1m1-5v3m1-181v4m4 166v1m0 3v4m0 4v1m1-14v2m0 3v5m0 1v3m1-7v7m1-10v2m0 2v6m1-7v5m1-4v1m9-4v1m1-2v3m1-2v1m4-2v1m4-5v2m1 2v4m1-3v1m2-2v1m4-4v2m1-7v1m0 5v1m1-2v1m2-4v1m0 4v1m1-6v8m1-9v1m0 2v2m0 1v3m1-10v5m0 2v3m1-8v4m1-4v1m0 8v1m1-11v2m0 3v5m1-7v1m0 3v4m1-15v1m0 7v2m0 1v1m1-2v2m1-10v1m0 5v3m4-7v1m1-2v1m5-2v3m1-5v2m1-1v3m1-3v3m1-5v1m3 0v3m1-5v3m1-3v1m4 0v1m1-2v2m7-4v3m1-4v3"/><path stroke="#0000f7" d="M76.5 242v4m1-7v4m1-5v4m2 3v1m1-2v1m1-2v1m5-1v3m0 3v1m5-2v1m1-3v2m5 2v1m1-3v2m0 1v4m1-4v1m1-1v3m0 1v2m1-8v3m0 3v2m1-2v2m1-3v3m1-2v2m1-4v4m1-5v4m0 3v5m1-7v4m3 0v2m1-8v4m1-4v2m1-1v6m1 0v4m1-5v2m1-5v3m1-4v1m0 4v2m1-1v2m2-9v6m1-4v4m2-2v4m1-3v3m1-8v1m0 7v2m1-3v5m1-21v1m0 17v2m1-4v3m0 1v2m1-2v2m1-2v3m1-5v4m3-2v3m2-7v1m0 7v1m1-9v1m0 6v1m1-1v1m1-3v3m1-4v4m0 1v4m1-32v2m0 23v2m0 1v1m0 2v1m1-33v3m0 1v1m0 15v5m0 8v1m0 2v3m1-2v2m1-5v1m2-7v2m1-1v2m2 0v1m2 2v2m1-2v9m1-13v2m0 1v2m1-20v5m0 12v2m1 0v2m0 1v2m1-154v4m0 131v5m0 5v2m0 3v2m1-157v3m0 144v1m0 4v3m0 7v1m1-12v2m0 1v1m0 2v4m1-188v10m0 174v4m1-5v1m1-3v1m2-9v3m0 7v3m2-4v1m0 1v4m1-8v2m0 1v1m1-171v2m0 164v2m0 1v2m0 1v1m0 3v6m1-8v1m2-198v11m0 2v3m1-17v13m5 186v3m2-193v37m1 150v1m0 3v3m1-9v1m1-4v6m0 8v3m3-176v1m0 175v1m2-13v2m1 8v3m1-23v13m0 6v1m0 4v1m1-16v8m0 1v1m0 1v1m0 3v3m1-20v8m0 6v3m1-214v4m0 208v1m1 3v2m1-206v33m0 168v1m0 1v1m2-5v4m1-8v1m0 2v2m1-180v1m0 2v1m1-6v2m0 1v1m1 166v2m0 10v1m1-1v1m0 5v2m1-199v14m0 3v2m0 163v4m0 4v4m0 3v4m1-5v1m1-5v1m0 2v3m1-10v2m0 2v4m1-5v1m0 3v2m1-5v1m1-198v2m0 196v4m1-203v30m0 164v10m1-14v8m1 3v1m1-13v8m0 3v3m2-206v36m0 163v1m1 0v3m0 9v2m2-4v4m1-198v2m0 181v4m0 7v1m1-193v2m1 177v4m0 6v1m1-232v4m0 8v6m0 197v8m0 7v2m1-235v8m0 208v3m0 15v5m0 1v1m1-17v5m0 7v2m1-21v1m0 15v1m0 4v3m1-3v4m1-28v14m0 7v2m0 5v3m1-12v3m0 3v3m0 1v2m1-11v4m0 2v1m0 4v3m1-15v3m0 3v1m0 5v3m1-14v1m0 10v1m1-12v2m0 2v2m0 4v2m1-18v3m0 4v1m0 1v1m0 7v1m0 1v1m1-231v10m0 206v6m0 5v4m1-244v5m0 226v3m0 6v8m1-251v4m0 10v4m0 2v9m0 205v8m0 7v1m1-251v3m0 235v2m0 2v1m0 8v4m1-14v1m0 4v1m0 2v1m0 1v1m1-16v2m0 1v1m0 1v4m0 5v1m1-255v7m0 238v1m0 8v1m1-249v4m1-6v5m0 232v4m0 6v1m1-236v1m0 223v3m0 10v1m0 2v4m1-25v3m0 3v2m0 5v1m0 8v3m1-24v7m0 15v1m2-25v4m0 16v3m1-14v1m0 10v1m2-13v1m0 14v2m1-18v3m0 5v1m0 5v4m1-22v3m0 14v2m0 2v1m0 2v2m1-32v7m0 6v2m1-219v13m0 191v7m0 6v3m0 13v2m1-31v3m0 7v1m0 1v3m0 10v1m1-20v4m0 2v3m0 2v2m0 6v4m1-16v1m0 2v2m0 9v1m1-262v3m0 235v2m0 4v1m0 3v3m0 8v3m0 12v4m1-43v7m0 5v1m0 2v3m0 5v2m1-27v6m0 12v1m0 6v2m0 14v6m1-270v3m0 221v3m0 12v5m0 6v1m1-23v7m0 2v2m0 1v4m0 5v2m0 1v2m1-24v3m0 4v4m0 10v3m0 11v2m0 5v1m1-44v3m0 6v5m0 9v2m0 4v1m1-35v7m0 7v2m0 4v2m1-249v4m0 236v2m0 8v2m0 3v2m0 1v3m1-20v3m0 4v1m0 4v2m0 1v5m1-21v2m0 1v1m0 3v1m0 5v2m0 4v2m0 3v4m1-237v28m0 171v10m0 6v2m0 2v1m0 11v4m1-35v4m0 2v4m0 4v3m0 15v3m1-236v27m0 187v1m0 2v2m0 2v1m0 11v2m1-22v1m0 4v2m0 3v1m0 8v4m1-23v2m0 6v1m0 1v2m0 7v3m1-23v2m0 5v1m0 3v1m0 2v2m0 4v3m1-23v2m0 3v2m0 9v4m1-266v3m0 222v21m0 1v2m0 2v3m0 9v1m0 2v2m1-21v2m0 3v2m1-4v1m0 16v4m0 1v4m1-27v2m0 16v3m1-31v4m0 5v3m0 14v1m0 1v1m1-259v4m0 220v1m0 17v1m0 3v2m0 8v4m1-274v7m0 2v6m0 226v6m0 8v3m0 3v4m0 4v8m0 3v1m1-279v5m0 235v2m0 11v2m0 4v4m0 1v4m0 3v2m1-20v1m0 3v2m0 3v6m0 2v4m0 5v1m0 10v1m1-258v1m0 198v11m0 15v2m0 1v3m0 2v1m0 2v3m0 17v2m1-261v39m0 186v4m0 3v5m0 1v1m0 1v1m1-259v1m0 220v6m0 20v1m0 1v3m0 1v1m0 4v1m0 1v1m0 1v1m1-39v2m0 13v1m0 9v2m0 1v4m0 3v2m0 2v1m1-16v2m0 4v1m0 4v2m0 2v1m1-33v7m0 10v2m0 4v2m0 2v4m1-28v4m0 4v1m0 5v4m0 3v1m0 2v1m0 5v3m1-38v1m0 7v1m0 4v2m0 3v7m0 1v1m0 2v2m0 2v1m1-17v5m0 1v4m0 4v2m0 2v2m1-32v5m0 4v7m0 2v2m0 10v2m1-31v4m0 2v5m0 1v4m0 13v1m1-272v7m0 242v8m0 3v1m0 6v2m0 3v1m1-24v2m0 2v2m0 7v1m0 7v1m1-270v6m0 241v4m0 2v3m0 5v1m1-31v6m0 9v5m0 18v2m1-42v1m0 17v3m0 6v1m0 6v1m1-33v1m0 11v5m0 3v1m0 4v1m0 2v1m1-26v4m0 6v3m0 2v3m0 1v2m1-260v9m0 230v4m0 7v3m0 2v3m0 9v1m1-32v5m0 10v3m0 1v4m0 11v6m1-45v4m0 17v2m0 2v1m0 16v1m1-46v18m0 4v4m0 4v2m0 2v3m1-16v4m0 1v1m0 9v1m0 9v1m1-31v2m0 1v3m0 9v2m0 1v1m0 1v1m0 2v1m0 1v1m0 1v1m1-7v2m1-241v43m0 164v11m0 9v1m1-249v3m0 226v10m0 8v1m1-254v8m0 244v1m0 12v3m1-267v5m0 245v2m0 4v1m0 5v4m0 3v1m0 1v1m1-19v2m0 2v2m0 3v4m0 1v6m1-32v2m0 5v4m0 3v1m0 6v3m0 7v1m0 2v1m1-36v9m0 20v2m0 5v1m1-258v14m0 218v1m0 3v1m0 2v1m0 6v3m1-251v15m0 207v3m0 5v3m0 3v1m0 1v3m0 11v2m1-255v10m0 217v1m0 3v2m0 2v5m0 3v1m1-25v3m0 13v3m0 1v2m0 6v3m1-28v6m0 6v9m0 4v3m1-26v5m0 3v4m0 11v5m0 2v2m1-30v3m0 3v3m0 3v2m0 8v4m1-268v3m0 236v6m0 3v3m0 7v3m0 6v1m1-269v18m0 225v4m0 4v5m0 1v3m0 1v1m0 6v3m1-12v3m0 2v1m1-265v5m0 248v3m0 5v3m0 11v1m1-270v3m0 245v2m0 5v3m0 10v4m1-23v3m0 3v2m0 5v1m1-19v2m0 5v1m0 3v2m0 3v3m1-19v2m0 4v1m0 4v3m0 1v1m1-260v7m0 236v3m0 6v2m0 1v2m0 2v2m1-22v1m0 4v2m0 7v3m0 2v1m1-246v10m0 221v2m0 7v2m1-245v14m0 217v3m0 1v2m0 5v1m0 3v1m1-16v1m0 1v5m0 1v1m1-5v3m0 3v1m1-4v1m0 8v3m1-262v1m0 233v2m0 13v2m1-249v4m0 232v4m0 6v3m0 5v2m1-5v3m1-262v4m0 28v27m0 1v12m0 171v4m0 3v2m0 8v1m1-255v7m0 237v3m0 3v3m0 4v3m1-28v3m0 10v1m0 4v1m0 1v2m0 3v1m1-29v8m0 7v3m0 5v3m1-10v4m0 4v3m1-13v3m1-251v6m0 241v3m0 9v1m1-264v9m0 252v2m0 1v1m1-259v6m0 245v1m0 4v2m0 2v1m1-20v1m0 9v8m1-22v5m0 11v3m1-236v11m0 204v4m0 15v4m1-226v1m0 218v5m1-237v16m0 202v7m0 7v6m1-258v3m0 4v7m0 7v8m0 3v4m0 205v2m0 5v1m0 6v2m0 1v2m1-261v3m0 253v1m0 1v1m1-224v6m0 199v7m1-221v1m0 212v3m0 13v3m0 1v1m1-260v3m0 251v5m0 3v2m1-31v15m1-233v7m0 227v2m1-249v1m0 5v6m0 233v3m0 2v4m1-9v3m0 1v3m1-251v1m0 243v2m0 1v1m1-19v8m0 8v3m0 2v2m1-19v10m0 3v2m0 4v1m1-215v20m0 188v1m0 2v3m1 0v1m0 1v1m1-26v14m0 4v1m0 4v3m1-255v7m0 238v1m0 7v1m0 1v1m1-23v4m0 8v3m0 4v1m0 1v2m1-12v2m0 1v2m0 2v4m1-23v9m0 3v1m0 6v2m1-212v2m1 0v2m0 199v3m1-197v3m0 191v2m0 6v1m1-245v7m0 216v6m0 6v2m1-235v3m0 230v1m1-2v3m1-243v2m0 19v2m0 203v12m1-222v6m0 206v10m0 3v3m0 1v2m1-21v4m0 6v3m0 4v3m0 2v1m1-21v8m0 14v3m1-4v1m0 2v1m1-243v6m0 232v1m1-222v41m0 178v6m1-227v4m0 6v33m0 160v6m0 12v9m1-9v4m0 2v3m1-228v23m0 2v15m0 170v2m0 7v7m1-28v1m0 13v1m0 4v3m1-15v1m0 9v3m1-24v10m0 13v2m0 2v6m1-254v2m0 1v1m0 239v3m1-5v1m0 1v1m0 1v1m2-212v7m0 2v21m0 179v2m1-9v2m0 5v1m1-235v10m0 216v1m0 2v1m0 3v1m1-7v2m0 5v1m1-20v9m0 8v1m1-230v5m0 208v8m1-232v9m0 215v5m1-225v1m0 223v3m0 2v3m1-11v5m0 5v1m4-7v3m0 1v5m1-3v1m1-220v6m0 18v3m0 192v2m1-222v6m0 206v5m1-4v8m0 1v4m1-13v3m0 5v3m1-3v2m1-5v5m3-211v19m0 1v16m1-53v7m0 209v1m1-4v4m1-214v4m0 13v30m1-48v3m0 4v9m0 1v33m1-41v9m4 1v1m0 198v5m1-222v12m0 28v2m1 1v1m0 164v4m1-202v14m0 183v2m0 6v1m2-182v1m0 181v4m1-215v6m1-6v4m0 198v1m0 8v2m1 0v2m1-206v36m2 146v10m1 0v5m0 6v2m1-14v1m1-4v4m0 5v1m1 0v3m1-172v1m1 161v3m0 3v3m1-3v4m1-12v3m0 4v5m1-2v3m2-9v4m1-6v1m0 1v4m0 8v2m0 4v1m1-15v1m0 4v6m1-217v44m0 161v2m1-12v5m0 8v3m1-13v3m0 3v4m1-4v4m1-15v6m0 2v2m0 1v7m1-10v1m0 5v4m1-14v1m0 1v2m0 1v1m0 4v3m1-172v3m0 154v1m0 2v1m0 7v2m1-12v1m0 2v4m1-195v14m0 6v3m0 170v2m0 1v2m1-8v1m0 2v1m1-5v3m0 2v2m1-9v1m0 3v3m0 1v1m1-16v2m0 8v3m1-16v4m0 3v2m0 6v3m1-19v5m0 9v2m0 4v1m1-9v5m0 2v2m1-23v6m0 10v2m0 1v2m1-7v3m0 1v4m1-22v3m0 4v1m0 5v2m0 3v4m1-9v2m0 6v2m1-2v1m1-173v5m0 146v4m0 2v1m0 7v4m0 4v2m1-10v2m0 6v3m3-18v4m0 1v3m0 5v1m1-14v3m0 3v1m0 5v3m1-20v1m0 4v2m0 3v2m1-21v1m0 15v3m0 3v1m1-5v2m0 2v2m1-33v1m0 25v1m0 4v1m1 0v1m3-6v1m3 2v1m2-13v1m1 0v1m3 9v1m2 1v1m1-6v3m1-2v2m1-2v2m1-5v1m1 2v2m1-5v1m0 1v3m1-12v2m0 4v2m0 1v4m1-7v1m0 4v3m1-8v3m0 1v2m1-6v5m1-5v1m0 1v2m1-9v2m0 2v4m0 1v2m1-6v3m1-9v4m0 1v1m0 1v3m2-5v1m0 4v1m1-8v3m0 4v1m1-8v3m1-4v3m0 1v2m0 2v1m1-9v2m0 6v1m1-11v3m0 1v2m1-3v3m1-4v3m0 10v2m1-13v1m0 4v3m1-13v1m0 6v3m1-10v5m0 4v3m1-10v2m0 1v1m0 3v1m1-8v4m1-7v1m0 4v2m1-1v1m1-2v2m0 2v1m1-5v1m2-4v1m1 0v5m1-3v2m1-3v1m1-3v1m1-1v2m1-1v1m1-3v1m2 1v2m1-4v2m1-5v3m1-1v1m2-1v1m2-1v2m1-9v2m0 5v1m1-4v2m1-2v1m3 5v1m1-6v2m0 2v4m1-9v2m1-3v2m1-3v2"/><path stroke="#0008ff" d="M75.5 242v4m1-10v2m0 2v1m1-6v4m2-2v1m0 5v3m1-3v2m1-3v2m1-9v1m0 5v2m5-5v3m0 1v1m5 3v2m2-5v3m3 0v1m1 0v3m1-3v1m0 2v1m0 4v1m1-6v1m0 1v3m0 3v1m1-11v3m0 3v1m0 2v1m1-11v2m0 5v1m1-2v2m1-2v1m1-3v4m1-10v1m0 3v4m0 4v4m0 1v3m1-21v3m0 1v1m0 1v2m0 4v1m1-12v2m1 6v4m1-4v5m1-3v1m0 1v4m1-7v1m1-3v3m1-7v2m0 2v4m1-11v2m0 3v1m0 1v3m0 1v3m2-5v4m1-7v1m0 2v3m0 2v3m1-2v3m1-3v4m2-8v2m0 7v2m1-4v4m1-11v4m1-17v3m0 8v2m0 3v2m1-37v1m0 19v1m0 14v5m1-19v1m0 10v2m0 1v4m1-40v1m0 33v1m0 4v3m1-19v1m0 9v2m0 2v3m0 3v1m1-26v1m0 14v1m0 8v2m1-27v1m0 14v1m0 5v1m0 3v2m1-6v4m1-4v4m0 1v2m1-8v2m0 4v2m1-27v2m0 2v1m0 1v1m0 2v1m0 13v2m1-24v2m0 17v3m0 4v2m1-15v1m0 5v2m0 2v6m1-9v1m0 6v1m1-49v1m0 42v2m0 3v1m1-49v1m0 21v2m0 17v1m0 1v4m1-27v4m0 14v2m0 1v5m1-27v4m0 11v1m0 2v4m0 3v3m1-26v1m0 3v1m0 1v1m0 5v3m0 17v2m0 2v1m1-39v1m0 1v7m0 7v1m0 4v3m0 9v1m1-22v3m0 2v1m0 9v10m1-24v2m0 16v1m1-3v2m1-1v2m1 0v2m2-14v2m0 12v4m1-3v2m0 2v6m1-11v1m0 1v1m1-2v1m1-9v1m0 4v2m1-10v6m0 2v4m1-8v5m1-6v3m0 1v2m0 1v1m0 3v1m0 3v3m1-21v6m0 3v1m1-5v1m1-3v3m1-176v6m0 176v1m0 1v2m1-186v2m0 29v1m0 150v3m1-4v4m1-10v3m0 4v1m0 1v4m1-14v5m0 3v2m0 1v1m1-2v1m1-2v1m1-11v4m0 13v1m7-3v1m1 0v1m2-5v1m1-1v2m0 1v3m1-11v5m0 4v1m1-172v3m0 1v2m0 164v5m1-174v1m1 164v1m0 11v1m1-1v3m1-4v3m1-5v3m1-11v4m0 3v5m1-5v4m0 1v4m1-7v1m0 1v1m0 1v3m1-4v1m1-9v6m1-3v4m1-7v4m0 8v1m1-18v2m1 0v1m0 3v8m1-181v2m0 176v2m0 3v4m1-191v2m1 177v5m1-8v4m0 5v1m0 4v3m1-181v1m0 158v2m0 10v3m0 1v5m1-183v3m0 170v3m0 5v2m1-9v8m0 1v1m1-11v5m1-11v6m0 3v2m1-7v6m0 1v3m1-8v5m1-210v3m0 1v9m0 193v5m2-213v1m1 206v3m0 3v2m1-4v3m0 3v1m1-9v3m0 1v2m0 3v2m1-9v1m1-4v3m0 10v2m0 2v1m1-226v5m0 203v3m0 6v3m1-237v8m0 229v1m1-192v5m0 169v7m1-3v5m1-205v3m0 190v2m0 23v1m1-10v1m0 4v3m1-194v3m0 170v5m0 8v2m0 5v1m1-8v4m1-8v2m0 4v1m0 1v2m2-10v5m0 1v1m0 3v4m1-24v3m1 10v3m1-2v1m0 9v3m1-21v4m0 4v2m0 3v2m1-17v8m0 3v1m0 9v1m1-12v3m0 4v1m0 2v1m0 1v1m1-24v8m0 2v2m0 6v1m0 2v2m1-241v1m0 225v1m0 1v4m0 8v1m1-239v4m0 216v5m0 13v2m0 2v3m1-17v5m0 2v1m0 4v1m0 2v3m1-253v3m0 227v13m1-243v3m0 219v11m0 4v1m0 2v1m0 1v1m0 7v2m1-32v2m0 3v4m0 6v4m0 7v2m0 2v2m1-17v5m0 6v4m1-15v4m0 9v1m0 1v1m1-18v2m0 1v2m0 15v1m1-240v9m0 208v2m0 3v3m0 12v4m1-27v6m0 18v4m1-29v7m0 16v2m1-2v1m1-29v10m0 8v1m0 10v1m1-21v10m0 11v1m1-15v2m0 8v3m1-13v1m0 11v3m1-228v16m0 197v2m0 7v5m0 3v1m0 1v2m1-236v16m0 200v3m0 6v1m0 7v2m1-247v3m0 224v4m0 6v1m0 2v4m1-214v4m0 187v3m0 1v3m0 1v1m0 10v3m1-14v1m0 12v1m1-259v6m0 239v2m0 1v2m0 7v4m1-26v3m0 7v3m0 8v3m0 19v3m1-33v2m0 7v1m0 14v10m1-35v4m0 6v1m0 15v1m1-37v3m0 6v3m0 9v2m1-15v2m0 14v1m0 17v4m1-38v2m0 12v2m1-19v6m0 10v4m0 7v2m1-30v4m0 1v2m0 2v4m0 5v6m0 2v3m1-35v8m0 2v2m0 6v3m0 3v3m0 2v1m1-32v7m0 6v2m0 4v3m0 3v2m0 2v1m1-25v5m0 2v2m0 2v1m0 3v1m0 5v1m1-5v1m1-218v27m0 177v2m0 21v5m1-17v1m0 10v6m1-21v1m0 11v1m0 4v3m1-21v2m0 3v2m0 1v2m0 1v1m0 2v1m0 3v3m1-21v1m0 6v1m0 1v1m0 4v1m0 3v3m1-21v1m0 13v3m0 4v1m1-269v2m0 246v1m0 2v2m0 10v2m1-229v30m0 185v3m0 8v9m0 3v1m0 3v3m1-31v2m0 14v3m0 4v1m0 4v1m1-49v1m0 18v2m0 14v4m1-44v12m0 11v2m0 7v2m0 5v2m0 2v1m1-269v5m0 244v4m0 3v1m0 8v2m1-30v1m0 12v2m0 5v1m0 6v2m1-32v5m0 10v3m0 5v1m0 4v1m0 5v2m0 8v2m1-47v8m0 6v2m0 1v2m0 2v2m0 3v2m0 6v2m0 8v1m1-31v2m0 1v1m0 3v3m0 2v1m0 3v1m1-35v9m0 8v6m0 6v3m1-16v8m0 2v3m0 1v1m1-14v4m0 2v1m0 1v1m0 1v4m0 2v1m0 4v3m1-32v6m0 4v3m0 2v1m0 2v1m0 1v1m0 3v3m0 1v4m1-34v6m0 9v3m0 2v3m0 4v2m0 2v2m1-28v2m0 7v3m0 2v4m0 6v1m0 2v1m1-23v2m0 3v2m0 2v3m1-260v1m0 241v2m0 2v3m0 4v3m0 1v2m0 5v1m0 7v1m1-20v3m0 8v1m0 6v4m0 1v1m1-13v2m0 7v1m0 4v1m1-31v7m1-8v3m0 1v4m1-17v8m0 5v3m1-4v3m1-4v5m0 23v1m1-42v2m0 1v5m0 3v3m0 23v2m1-37v1m0 1v1m0 6v4m0 4v1m0 12v1m1-268v1m0 247v3m0 3v2m1-254v7m0 233v4m0 3v3m1-16v14m0 2v1m0 2v2m1-8v2m0 7v1m0 7v1m1-20v3m0 10v1m0 9v5m1-13v1m0 1v1m1-17v2m0 12v4m1-258v2m0 241v2m0 8v2m1-261v4m0 252v1m0 2v4m1-32v9m0 13v2m0 3v1m0 1v3m1-32v5m0 17v2m0 2v4m1-24v9m0 13v2m4-24v1m0 11v3m0 9v1m1-28v8m0 2v2m0 14v3m0 2v2m1-20v1m0 5v1m1-8v3m0 10v3m0 5v1m1-30v1m0 6v2m0 4v2m0 1v2m0 2v2m0 1v1m1-247v12m0 208v6m0 20v2m1 0v3m1-32v3m0 9v3m0 5v1m1-6v3m0 4v1m1-22v3m0 19v2m1-2v2m1-3v3m1-2v2m0 2v3m1-18v2m0 9v2m0 3v1m1-18v2m0 11v1m1-17v1m0 3v2m0 8v1m1-22v10m0 1v2m1-13v3m0 2v5m0 3v1m1-10v6m0 1v1m0 5v1m0 1v2m1-22v10m0 1v4m0 4v1m1-253v2m0 237v2m0 4v6m1-249v6m0 239v3m1-17v6m0 8v2m0 3v2m1-4v4m1-21v5m0 5v2m0 4v1m0 3v2m0 1v1m0 2v1m1-22v1m0 5v1m0 3v3m0 3v4m1-31v4m0 13v2m0 4v1m0 1v1m1-251v6m0 235v2m0 5v3m1-19v2m0 5v5m0 6v2m1-13v3m0 3v2m0 2v4m1-4v2m0 1v1m1-6v4m0 2v1m1-8v1m0 1v4m1-14v3m0 5v1m1 0v2m1-2v3m0 4v1m1-241v14m1 203v2m0 13v1m1-12v1m0 10v4m1-247v2m0 227v7m0 3v1m0 3v4m0 1v1m1-20v2m0 13v5m1-24v5m0 11v1m0 1v3m0 3v1m1-25v8m0 2v3m0 4v3m1-23v2m0 17v4m1-247v8m0 213v21m0 2v2m1-23v17m0 4v1m1-17v11m1 0v1m0 4v3m1-7v1m1-15v2m0 16v2m0 1v1m1-26v18m0 4v1m1-210v20m0 168v16m0 4v5m0 1v1m1-213v6m0 199v1m0 1v1m0 1v2m2-4v2m1-253v6m0 238v3m0 2v1m1-19v4m0 9v3m2-1v1m1-12v1m0 9v2m1-15v2m0 9v3m1-10v5m0 3v2m1-12v6m0 4v1m1-1v3m1-3v2m0 3v1m1-5v3m0 4v1m1-21v1m0 12v2m0 5v3m1-17v3m0 8v5m1-249v3m0 225v8m0 8v3m1-248v3m0 239v1m0 2v2m1-20v2m0 16v2m1-15v4m0 9v2m0 4v2m0 3v2m1-26v1m0 3v2m0 7v2m0 9v1m1-29v5m0 5v2m0 4v1m1-23v7m0 9v5m1-3v1m0 2v2m0 3v1m1-26v5m0 14v2m1-224v8m0 201v4m0 6v3m0 1v1m1-225v10m0 210v1m0 1v6m1-6v3m1-231v4m0 214v3m0 6v4m1-223v9m0 200v6m0 1v2m0 1v3m1-224v1m0 209v8m0 2v5m1-25v6m0 9v8m1-6v2m1-5v1m2 2v1m4-216v20m0 186v4m0 3v1m1-195v5m0 183v5m0 1v3m1-6v2m0 1v3m3-16v2m1-6v9m0 1v1m1-8v3m1-220v6m0 224v3m2-223v8m1 204v3m0 6v2m1-15v4m0 9v5m2-226v1m0 16v1m1-9v1m0 201v3m2 10v1m1-202v2m1 189v5m1-10v3m0 5v3m1-14v4m0 8v1m0 1v2m1-14v1m1-177v2m0 175v4m1-180v1m0 182v2m2-2v2m1-1v3m2-203v5m0 3v25m1 161v1m0 6v1m1-15v4m1 1v2m1-11v4m0 7v2m1-10v7m0 1v3m1-2v4m1-13v4m1-166v5m0 165v2m1-173v4m0 175v4m1-27v5m1 0v6m0 12v2m1-13v1m1-1v1m1-11v1m0 7v5m0 3v4m1-22v6m0 9v1m0 2v2m1-7v1m0 1v4m2-12v6m1-10v1m0 10v1m1-12v7m0 4v4m1-13v3m0 1v1m0 5v3m1-13v1m0 2v1m0 10v1m1-17v4m0 2v1m1-5v2m0 1v4m1-174v1m0 166v4m0 2v1m1-9v5m0 3v2m1-18v3m0 6v2m0 3v1m0 3v1m1-7v2m1-8v2m0 2v1m0 1v4m1-10v1m0 2v1m0 1v1m0 1v1m0 4v2m1-10v2m1-8v1m0 5v4m1-5v3m0 3v1m1-14v3m0 8v3m1-14v3m0 1v2m0 2v1m0 5v3m1-27v5m0 6v2m0 1v1m0 3v5m0 1v3m1-17v1m0 16v1m1-6v6m1-8v6m1-15v2m0 3v1m0 6v1m1-14v3m0 4v1m0 5v3m1-14v1m0 4v2m1-22v2m0 7v2m1-12v3m0 1v1m0 12v2m0 5v1m1-24v4m0 8v2m0 1v5m1-20v3m0 9v1m0 3v3m0 3v2m1-12v3m0 6v4m1-34v1m0 14v1m0 14v3m1-32v1m0 15v2m0 10v1m1-20v1m1-1v1m1 3v1m1-2v2m1-2v2m0 3v2m1-1v1m1-1v2m0 6v4m1-10v1m0 8v1m1-22v1m0 15v1m0 1v5m1-22v1m0 17v3m2-5v1m1-1v2m1-3v4m1-1v1m1-7v3m0 3v4m1-9v4m0 4v2m1-14v2m0 1v3m0 2v1m0 7v1m1-18v1m0 3v3m0 2v1m1-10v2m0 2v3m0 2v3m1-9v4m0 3v1m1-8v4m1-10v1m0 3v6m0 1v1m1-11v2m0 4v2m0 4v1m1-12v3m0 1v4m1-9v3m0 6v1m1-8v3m0 2v5m1-8v4m0 1v4m1-24v2m0 12v3m0 4v3m1-10v3m1-4v3m1-4v4m1-5v3m0 3v1m1-13v3m0 1v1m0 4v3m1-24v1m0 20v2m0 6v2m1-14v2m0 3v3m0 1v3m1-8v1m0 3v2m1-9v2m0 5v4m1-14v1m0 4v2m1-5v2m0 1v2m1-7v4m0 1v3m0 6v1m1-7v2m0 1v5m1-13v2m0 1v3m0 3v1m1-8v4m1-3v2m1-13v1m2 8v5m1-4v3m1-3v1m1-2v2m1-2v3m1-3v1m1-1v3m1-13v1m0 8v4m1-3v1m1-11v2m1-3v2m0 1v1m0 5v2m1-1v1m1-5v4m1-2v3m1-2v2m1-1v1m1-7v1m0 1v2m0 2v2m1-6v2m1-2v1m1-5v1m1 6v5m1-7v1m0 3v2m3-8v1"/><path stroke="#0018ff" d="M75.5 238v4m1-1v1m2-8v4m1-4v3m0 2v4m1-4v4m1-9v1m0 5v2m6-7v3m0 3v1m5 2v2m1-1v1m1-4v1m1-1v1m2-13v2m0 13v1m1-2v3m1-3v3m1-3v3m0 1v2m0 5v3m1-18v4m0 2v2m1-21v1m0 17v2m0 5v2m1-27v1m0 23v2m1-3v3m1-11v1m0 5v3m1-10v4m0 2v2m1-9v4m0 3v1m0 1v1m0 7v2m1-17v3m0 4v1m0 6v1m1-16v2m0 8v1m1-2v3m1-2v4m0 1v1m1-34v1m0 26v4m1-8v2m0 2v2m1-10v6m0 2v2m1-11v4m0 3v2m0 1v1m0 3v1m0 3v3m1-24v3m0 5v2m0 3v2m0 4v4m1-22v1m0 10v4m1-5v2m0 1v2m0 4v1m1-33v1m0 5v2m0 14v3m0 3v3m0 1v2m1-33v2m0 10v1m0 13v2m0 2v3m1-37v2m0 3v2m0 10v4m0 10v2m1-34v2m0 1v1m0 13v2m0 2v1m0 11v1m1-10v1m0 1v1m0 6v2m0 2v4m1-22v2m0 3v3m0 4v3m1-34v1m0 17v3m0 3v2m0 8v3m1-39v1m0 20v3m0 1v1m0 7v3m0 1v2m1-39v3m0 17v1m0 1v3m0 7v4m0 2v1m1-40v4m0 18v6m0 6v4m0 1v4m1-41v4m0 15v2m0 1v3m0 1v1m0 4v4m0 2v2m1-39v3m0 15v2m0 12v3m0 1v2m0 3v3m1-26v1m0 5v1m0 7v2m0 1v2m0 1v2m0 1v3m1-27v3m0 4v2m0 1v1m0 8v4m1-22v3m0 4v2m0 10v3m0 4v1m1-25v3m0 2v1m0 10v3m0 2v4m1-33v1m0 6v1m0 2v2m0 3v2m0 7v3m0 2v2m0 2v1m1-28v3m0 3v1m0 1v1m0 6v1m0 2v4m0 3v4m1-30v3m0 12v2m0 1v3m0 5v1m1-46v1m0 3v1m0 4v1m0 5v1m0 2v1m0 2v1m0 16v5m0 4v3m1-50v2m0 11v1m0 7v4m0 12v1m0 2v3m0 5v2m1-50v2m0 9v2m0 8v3m0 11v8m1-44v1m0 1v3m0 7v2m0 7v2m0 12v6m0 2v1m1-33v1m0 20v5m0 1v2m0 4v3m1-31v1m0 3v4m0 10v2m0 3v2m0 3v1m0 9v2m0 3v1m1-45v1m0 5v1m0 1v1m0 9v5m0 3v2m0 5v7m0 1v6m1-41v3m0 9v1m0 3v2m0 2v3m0 1v4m1-18v4m0 2v1m0 2v2m1-11v5m2 3v1m0 12v2m1-14v3m0 10v3m1-18v4m0 11v3m1-19v4m0 7v1m0 5v3m1-23v4m0 16v2m1-11v2m0 5v3m1 1v1m1-18v7m0 6v2m1 8v1m1-19v2m0 9v1m0 5v3m1-12v1m0 1v1m0 5v2m1-15v4m0 7v4m1-4v3m1-179v25m0 134v7m0 9v1m1-9v2m0 1v2m0 2v2m1-14v1m0 10v2m0 7v2m1-12v4m0 1v1m0 4v4m1-13v3m1-6v3m1 9v3m1-6v4m1-4v2m3 1v1m1-13v1m2 9v2m1-6v1m0 3v3m1-9v6m2-4v3m3-8v3m1 12v4m1-3v3m1-14v8m0 3v2m1-5v3m0 3v1m1-19v7m0 5v2m1-2v2m0 11v3m2-27v2m1-1v9m1-5v5m1-2v2m1-3v3m1-8v2m1 7v4m1-7v4m1-2v3m1 8v3m1-17v4m1 4v1m0 7v1m0 6v1m1-15v1m1-7v6m1 0v1m2-4v3m1-7v8m1-4v4m0 10v2m1-8v2m1-9v2m0 3v3m1 5v1m1-7v1m0 2v1m0 1v1m1-13v5m0 5v2m0 1v4m1-20v6m0 10v3m2-15v3m0 9v2m2-23v10m1-197v15m0 177v4m0 13v1m0 2v3m1-6v2m1-200v1m0 192v2m1-24v13m0 10v1m3 1v1m1-13v6m0 2v4m1-4v2m1-1v2m0 8v2m1-12v2m0 7v6m1-15v3m0 3v2m0 2v3m1-26v9m0 5v1m0 6v1m0 1v2m0 1v1m1-14v1m0 9v2m1-223v6m0 205v1m0 10v2m1-13v5m0 10v2m1-24v10m0 13v2m1-25v5m1 5v2m0 11v2m1-21v3m0 1v2m0 10v1m0 2v2m0 6v2m1-30v2m0 1v3m0 11v1m1-16v5m1-6v4m0 2v1m1-10v5m1 19v2m1-32v2m0 27v1m1-29v10m0 17v2m0 1v1m1-4v3m1-33v11m0 21v2m1-33v19m0 14v3m1-7v1m1-225v1m0 201v9m0 10v2m1-24v6m0 15v4m0 5v3m1-33v6m0 8v1m0 8v2m2-17v4m0 4v1m0 11v2m1-26v10m0 12v2m1-3v3m0 25v1m1-52v5m0 19v3m1-27v3m0 22v2m1-12v1m0 11v1m1-9v1m0 8v1m1-28v9m0 15v4m1-30v9m0 18v2m1-13v1m0 12v1m0 6v2m1-24v2m1-2v3m0 10v2m1-29v9m0 17v4m0 9v3m1-15v1m0 8v4m1-8v2m1-2v3m1-2v4m1-34v6m0 17v1m0 7v3m1-5v1m0 3v1m1-5v1m0 22v5m1-28v3m0 14v9m1-27v3m0 9v1m0 1v1m0 1v3m0 3v2m1-24v7m1-4v3m1-18v1m0 14v2m0 2v1m1-29v3m0 6v2m0 11v5m1-31v3m0 25v2m1 13v1m1-33v2m0 2v1m0 3v1m1-10v3m0 2v1m0 2v2m1-11v3m0 6v2m1-11v2m0 8v2m1-18v3m0 5v1m0 5v1m0 1v1m0 1v1m1-12v4m0 3v2m0 1v2m0 1v1m1-23v1m0 14v1m0 3v2m1-23v8m0 8v1m0 4v1m1-6v2m1-15v1m0 12v2m0 3v1m1-12v1m0 29v1m1-31v3m0 4v2m0 20v3m0 2v5m1-38v2m0 28v2m0 3v3m1-279v9m0 230v3m0 3v1m1-4v4m1-3v2m1-5v4m0 20v1m1-25v2m0 20v6m1-27v1m0 22v2m1-25v3m1 0v1m0 6v1m1-6v2m2 9v4m1-30v6m0 6v1m1-18v5m0 6v2m0 16v3m1-38v4m0 31v2m0 2v5m1-39v2m0 28v2m0 4v5m1-13v3m0 1v1m1-24v3m0 17v1m1-26v4m0 23v1m1 13v1m1-3v5m1-8v4m1-26v1m0 16v5m1-36v3m0 9v1m0 4v2m0 13v1m1-27v1m0 5v1m0 2v1m0 1v2m1-23v10m0 7v2m1-15v7m0 18v2m0 2v1m1-28v2m0 10v2m0 12v2m0 10v1m1-255v11m0 217v2m0 9v1m0 3v3m1-247v12m0 209v3m1-4v4m0 14v2m1-18v2m1-6v6m1-4v1m1 19v1m1-254v5m0 226v2m0 19v2m1-25v11m0 1v1m1-14v11m0 2v2m1-14v3m0 10v1m1-18v4m0 6v2m1-242v6m0 231v4m1-6v1m0 10v1m1-18v12m0 5v2m1 1v1m1-2v2m1-218v11m0 10v18m1 163v2m0 9v1m0 4v2m0 1v3m1-25v10m0 4v2m1-243v5m0 235v3m1-3v2m1-14v3m0 7v2m0 9v2m1-14v3m0 8v2m1-12v4m0 4v4m0 2v1m1-13v8m1-3v2m1-235v3m0 217v2m0 12v1m1-237v5m0 213v6m0 13v1m2-18v7m2-8v7m0 9v2m1-226v9m0 200v2m0 10v1m0 1v3m1-229v11m0 196v8m0 10v1m0 2v2m1-228v1m0 225v1m1-2v1m1-252v7m0 14v2m0 227v1m1-249v6m2 239v1m0 3v1m1-20v7m1-14v8m0 13v2m1-20v6m0 13v3m0 4v1m1-7v2m0 1v1m1-5v4m1-4v3m0 3v1m1-22v2m0 1v2m0 11v1m1-13v1m1-4v12m1-241v5m2 47v2m0 198v2m2-16v2m1-2v3m1-4v4m1-1v1m1-1v1m1 0v1m1-3v3m0 4v3m1-21v7m1 7v4m1-14v3m0 9v2m1-24v6m0 17v1m1-21v8m0 11v2m1-10v1m0 5v4m1-10v3m1-1v1m0 9v11m1-258v5m0 236v2m1-2v1m1-16v3m1-212v2m0 211v2m0 6v1m0 1v1m1-11v2m0 6v3m1-7v3m0 2v1m4-19v3m0 10v2m0 2v4m1-17v1m1-214v8m0 203v7m0 3v2m1-221v8m0 199v6m3-213v10m1-7v4m1-4v8m0 208v1m1-187v1m0 177v6m0 2v1m1-187v2m1 189v1m1-16v4m0 6v2m3-3v1m1-2v3m2-14v5m0 8v1m1-5v2m0 1v2m1-15v6m0 4v1m1 3v2m1-215v2m0 210v2m1-11v1m0 10v4m1-4v3m1-12v4m1-11v6m0 2v1m1-9v4m0 5v3m1 2v1m3-186v2m0 176v3m1-13v7m0 3v3m1-1v2m1-16v6m0 9v2m1-13v5m1-5v12m1-4v6m0 1v2m1-7v5m1-8v2m1-3v1m1-1v1m3-6v6m1-174v3m0 169v3m1-11v2m0 5v2m0 1v4m1-18v4m0 12v6m0 2v1m1-17v3m0 8v14m1-32v3m0 3v3m0 21v3m1-32v3m0 3v1m1-12v2m0 10v5m1-1v1m1-9v3m1-9v5m1-176v23m0 147v4m2-1v1m1-3v5m0 2v1m1-192v29m0 156v2m0 5v1m1-176v1m0 169v2m0 2v1m0 6v1m1-12v2m0 5v1m0 2v3m1-14v1m0 12v4m1-17v2m0 3v2m0 10v1m1-19v1m0 1v1m0 1v2m1-14v3m1-5v4m0 8v1m0 1v1m0 1v1m1-16v7m0 2v4m1-2v2m1-3v2m1-14v3m0 3v1m0 6v3m1-11v2m0 3v1m0 2v2m0 3v3m1-15v2m0 2v1m0 3v1m0 5v1m1-24v3m0 1v2m0 5v1m0 3v5m1-17v4m0 2v3m0 4v4m1-18v1m0 7v1m0 1v2m0 3v3m1-10v1m0 3v2m0 4v3m1-14v1m0 11v2m1-23v5m0 1v1m0 3v2m1-8v2m0 3v1m0 2v1m1-18v1m0 7v2m0 2v6m0 6v1m1-26v3m0 8v1m0 1v2m0 2v1m1-18v3m0 10v2m0 1v3m0 4v2m1-19v1m0 7v1m0 3v1m0 2v3m1-33v3m0 12v3m0 6v1m0 5v3m1-45v2m0 10v4m0 1v1m0 11v1m0 1v1m0 4v1m0 6v1m1-47v2m0 1v1m0 11v3m0 1v2m0 5v2m1-8v1m0 6v1m0 3v1m0 8v3m0 1v2m0 2v1m1-19v2m0 7v1m0 2v8m1-23v4m0 2v3m0 2v2m0 3v2m0 4v1m1-49v1m0 25v4m0 2v3m0 12v2m1-34v1m0 16v4m0 2v2m0 8v1m1-44v1m0 2v1m0 25v2m0 6v2m0 4v1m1-44v3m0 25v5m0 4v5m1-47v1m0 20v5m0 9v3m0 1v3m0 1v1m1-22v1m0 1v3m0 9v1m0 3v5m1-30v2m0 10v1m0 17v2m1-44v1m0 1v1m0 10v4m0 9v1m0 10v3m0 3v4m1-45v1m0 10v1m0 19v3m0 1v3m1-14v5m0 5v3m1-12v4m0 7v4m1-33v1m0 2v2m0 15v2m0 8v1m0 1v1m0 4v2m1-47v1m0 3v3m0 1v2m0 19v2m0 2v2m0 11v3m1-48v1m0 5v1m0 22v2m0 2v1m0 3v1m1-10v2m0 3v1m1-24v1m0 9v2m0 6v2m0 2v2m1-7v2m0 1v3m1-22v1m0 13v3m0 1v4m1-30v1m0 9v2m0 13v3m1-19v1m0 17v2m1-6v3m0 3v1m1-7v2m1-3v5m0 3v2m1-20v1m0 11v5m1-17v2m0 10v1m1-18v1m0 5v5m0 6v4m1-15v2m0 1v2m0 6v1m0 1v1m1-15v1m0 5v1m0 5v2m1-26v1m0 11v1m0 4v5m1-22v2m0 10v1m0 5v1m0 3v1m0 1v4m1-23v2m0 4v2m0 9v2m0 1v3m0 7v1m1-31v1m0 5v1m0 14v3m1-7v5m0 3v2m1-16v3m1-9v1m0 5v3m0 6v2m1-11v1m0 3v4m1-4v1m1-8v2m0 7v1m0 1v6m1-20v1m0 2v1m0 1v3m0 1v1m0 3v2m0 2v1m1-12v3m0 1v3m0 1v3m1-10v2m0 3v6m1-10v1m0 2v7m1-4v5m1-5v2m1-3v4m1-3v3m1-3v2m3-14v4m0 7v3m1-13v3m0 8v1m1-11v3m0 5v4m1-15v2m0 2v1m0 6v2m1-10v1m0 2v1m0 5v1m1-9v6m0 2v2m1-8v4m0 4v1m1-7v4m1-7v2m0 2v4m1-8v3m0 4v2m1-10v4m0 1v1m1-6v6m1-4v1m0 1v2m0 1v1m1-9v3m0 3v5m1-8v7m1-6v4m0 1v1m1-5v4"/><path stroke="#0028ff" d="M76.5 233v3m0 2v2m1-8v3m1-4v3m1-3v3m0 4v1m1-6v3m0 1v2m1-4v5m1-4v5m5-10v4m5 6v3m2-11v1m1-1v1m0 6v2m2-10v1m0 7v5m1-17v2m0 12v2m1-5v5m1-6v1m0 1v4m0 3v1m1-10v2m0 4v2m1-20v1m0 11v7m1 2v4m1-10v1m0 3v2m0 1v2m1-22v1m0 10v3m0 3v3m1-21v1m0 10v3m0 5v1m1-8v1m1-14v3m0 4v1m0 6v2m0 5v2m0 1v1m0 1v4m1-22v1m0 1v1m0 2v2m0 8v2m0 1v1m1-30v1m0 7v1m0 1v1m0 13v3m1-27v3m0 4v2m0 16v3m1-30v2m0 1v1m0 19v6m1-30v4m0 15v1m0 3v3m0 2v2m1-19v2m0 5v4m1-11v1m0 5v4m0 6v1m1-23v3m0 8v2m0 3v1m0 2v2m0 2v3m0 2v4m1-32v1m0 11v2m0 3v2m0 3v3m1-24v1m0 1v1m0 1v3m0 4v2m0 3v1m0 3v3m1-25v2m0 4v2m0 10v1m0 3v2m0 4v2m0 3v1m1-38v1m0 1v2m0 1v2m0 11v1m0 3v2m0 2v1m0 3v3m0 2v2m1-38v4m0 2v3m0 9v3m0 9v2m1-30v1m0 2v1m0 1v1m0 10v2m0 3v1m0 5v2m0 2v3m1-32v2m0 8v1m0 8v1m0 1v2m0 1v1m0 3v4m0 2v2m1-21v3m0 3v2m0 5v2m1-32v1m0 17v1m0 11v3m1-33v3m0 1v1m0 12v3m0 9v3m1-36v3m0 18v2m0 1v1m0 8v2m1-15v4m0 7v1m0 1v3m1-36v4m0 12v1m0 2v4m0 8v4m1-34v3m0 10v1m0 1v3m0 2v1m0 3v4m0 4v3m0 6v3m1-41v2m0 7v9m0 5v1m0 5v3m0 5v1m1-40v2m0 10v2m0 3v2m0 4v3m0 2v1m0 1v3m0 4v1m1-29v4m0 4v3m0 4v3m0 9v3m1-28v2m0 3v6m0 3v2m0 1v2m0 7v1m1-41v1m0 14v2m0 1v2m0 1v3m0 6v1m0 5v5m0 3v2m1-33v2m0 3v2m0 1v2m0 5v1m0 1v1m0 5v2m0 1v2m1-35v2m0 2v2m0 1v1m0 1v1m0 2v2m0 1v1m0 4v2m0 6v3m0 6v2m1-43v1m0 2v2m0 7v4m0 2v1m0 1v2m0 1v2m0 10v4m0 7v2m1-39v5m0 1v2m0 1v4m0 13v3m0 1v2m0 3v2m0 2v1m1-40v3m0 3v7m0 9v1m0 2v2m0 9v1m1-48v2m0 1v1m0 6v4m0 3v2m0 3v1m0 10v4m1-37v1m0 3v2m0 4v3m0 4v1m0 2v4m0 8v2m1-33v3m0 5v2m0 3v4m0 2v2m0 11v3m0 7v3m1-31v2m0 1v5m0 10v2m1-34v2m0 5v4m0 7v4m0 8v4m1-30v2m0 1v1m0 3v1m0 18v2m0 7v2m0 10v3m1-57v1m0 39v2m0 12v1m1-16v2m0 13v2m1-14v1m1-1v2m1 9v4m1-22v6m0 9v2m0 4v2m1-12v3m0 7v2m1-16v3m0 3v1m0 3v4m1-6v3m0 1v4m3-8v3m2 3v1m0 2v3m1-15v6m0 6v3m1-7v2m0 1v3m1-16v8m0 2v1m0 2v2m1-8v3m0 3v1m1-11v1m0 1v3m2 6v3m2-4v1m0 1v2m1-2v3m0 1v1m1-10v2m0 5v1m1-4v7m1 1v1m1-1v3m1-15v4m0 5v1m1-2v3m1-8v4m0 1v3m2-7v3m0 2v1m1-5v2m1-9v7m3 5v5m1-13v10m0 5v1m1-3v3m1-15v9m0 2v1m1-1v1m0 10v2m2-22v6m1-13v2m0 6v3m2 6v2m1-9v4m2 0v3m1-5v5m1 1v4m1-12v6m1-10v2m0 1v5m2-2v5m1 0v5m1-9v3m1-7v7m2-3v6m2-9v9m1-4v4m1-7v8m2-6v10m0 7v1m1-15v1m0 11v1m0 2v1m1-4v1m0 2v1m1-18v8m0 6v3m1-14v3m3 14v2m1-29v9m3 0v10m4-2v3m1-9v4m0 2v4m1-10v4m0 4v2m3-15v3m1 0v11m4 2v2m2-5v1m0 3v1m1-9v4m1-5v4m1-5v2m1-5v7m2 16v1m1-30v2m2 26v5m0 3v1m1-27v10m0 14v1m2-1v4m1-4v2m1-29v7m0 20v2m1-23v3m2-8v7m1-7v2m0 23v1m1-29v5m0 15v2m0 7v1m1-30v9m1 1v3m2 17v1m1-26v4m5-6v10m0 25v2m1-37v10m0 21v1m1-31v7m2 1v4m3-13v3m1-7v17m1-9v2m0 15v1m0 12v1m1-16v1m0 12v3m1-26v2m0 21v1m2-30v4m2-8v1m0 15v2m0 7v1m1-10v1m1-13v2m0 8v3m1-16v8m0 7v3m1-11v4m1-9v6m1-3v1m1-1v8m1-3v3m0 2v2m1-7v1m0 2v3m0 7v1m1-12v4m1-2v3m1-8v5m1 3v1m1-2v3m1-5v2m1-1v1m1 0v1m1-8v3m0 4v1m1 1v2m4-7v4m1-21v6m1 28v1m1-28v4m1-10v5m2 7v2m1-6v4m0 1v3m2-5v2m1-6v7m1-8v1m1-4v7m0 9v1m0 1v2m1-3v1m1 0v1m1-1v1m0 11v3m1-29v8m0 6v1m1-19v8m0 11v1m1-20v10m1-9v8m1-6v5m1-2v4m1-3v5m4-12v6m1 0v3m1-7v7m3-9v10m0 10v1m1-18v5m2-9v7m1-7v4m1 3v1m1-11v6m0 11v3m1-5v3m1-3v2m1 0v1m0 7v1m2-12v3m1-9v4m0 2v4m3-9v1m1 1v1m1-5v2m1 3v1m1 9v1m0 1v2m1-24v7m1-5v2m5-5v5m6 5v7m1-16v8m1-6v3m3-3v10m1-11v7m0 1v1m1-11v6m1-3v7m1-4v2m4 13v2m1-4v4m1-8v4m1-7v1m0 1v2m0 1v3m1-2v4m1-3v2m1-10v2m0 5v1m1-8v2m0 17v6m1-41v5m0 13v2m0 9v1m1-31v6m1 0v1m1-4v7m1 0v4m1 2v1m2-16v13m3-6v2m1-6v5m1-6v1m0 1v2m5-2v1m1-3v9m2-8v9m0 5v2m1-14v8m2-17v4m1 2v1m1-1v7m1 4v1m2-17v4m0 11v4m1-2v1m1-14v1m0 7v3m1-10v5m0 8v1m1-12v3m0 5v3m1-10v1m0 3v4m2-10v5m1-1v2m0 11v2m1-24v3m0 7v2m1-12v4m1-3v5m2-1v5m1-13v3m0 8v2m1-13v10m0 1v4m1-8v5m0 1v3m1-17v6m4-8v11m0 1v1m1-11v2m3-8v7m1-7v13m1-13v11m0 5v1m1-3v2m0 2v1m1-3v5m2-12v3m1-1v2m2-11v8m1-4v4m1-1v2m1-9v1m1-1v5m1 0v2m2-7v3m1 0v2m1-4v4m1-14v7m0 2v4m1-8v1m0 5v2m1 0v1m0 1v1m1-16v4m0 13v1m1-5v1m1-3v1m1-1v3m1-16v9m0 4v2m1-14v2m0 11v2m1-17v9m1-3v4m0 6v2m1-14v1m0 9v2m1-16v4m0 4v2m0 4v3m1-18v2m0 1v1m0 3v1m0 1v3m0 1v1m0 3v2m1-20v3m0 3v3m0 1v3m0 3v1m0 3v3m1-17v6m1-4v1m0 1v3m1-16v3m0 6v1m0 6v2m1-19v2m0 6v2m0 2v2m1-15v2m0 8v3m0 1v1m1-15v1m0 9v5m1-15v1m0 4v3m0 4v4m0 5v2m1-41v2m0 6v3m0 8v2m0 3v2m0 6v3m0 2v4m1-47v5m0 8v4m0 9v2m0 4v2m0 1v1m0 9v3m1-48v2m0 2v1m0 1v3m0 4v4m0 3v1m0 5v2m0 4v3m0 4v10m1-49v4m0 4v3m0 3v8m0 3v4m0 2v1m0 4v2m0 2v2m0 3v1m0 2v2m1-42v1m0 1v2m0 2v7m0 6v5m0 5v4m0 1v2m1-43v2m0 5v3m0 5v3m0 6v4m0 10v1m0 2v3m0 4v2m1-35v3m0 6v3m0 12v1m0 7v1m1-48v5m0 1v1m0 9v1m0 10v1m0 1v5m0 8v2m0 2v4m1-48v5m0 1v2m0 5v2m0 4v1m0 9v5m0 5v3m1-39v2m0 9v2m0 3v4m0 7v3m0 6v3m1-45v3m0 2v4m0 13v2m0 9v2m0 1v2m0 3v1m1-44v5m0 1v3m0 1v1m0 7v3m0 3v3m0 1v1m0 4v1m0 2v2m0 4v3m1-46v3m0 2v1m0 2v2m0 2v2m0 5v2m0 5v3m0 3v1m0 8v2m0 1v2m0 2v3m1-45v1m0 3v1m0 8v3m0 8v2m0 1v2m0 9v2m0 4v2m1-45v4m0 9v2m0 11v3m0 9v1m1-34v3m0 12v1m0 4v3m0 6v2m0 1v1m1-39v1m0 5v6m0 15v3m0 6v5m1-40v3m0 2v6m0 1v2m0 14v1m0 5v4m1-37v2m0 1v3m0 3v1m0 4v4m0 10v3m0 6v1m1-36v1m0 1v5m0 1v1m0 7v3m0 8v3m1-29v1m0 2v1m0 15v3m0 4v2m1-24v1m0 3v2m0 7v3m0 4v1m1-22v4m0 2v2m0 7v1m0 3v5m0 2v1m1-21v2m0 13v1m0 3v1m1-27v1m0 8v2m0 3v1m0 6v4m1-18v3m0 1v1m0 1v1m0 8v4m1-18v1m0 3v3m0 7v2m1-2v2m1-22v1m0 5v1m0 2v2m0 9v1m1-20v4m0 4v2m0 3v1m1-7v3m0 9v3m0 1v3m1-24v1m0 6v2m0 5v3m0 1v2m1-18v3m0 1v3m0 2v1m0 3v5m0 1v1m1-18v4m0 1v5m0 3v3m1-25v1m0 10v2m0 2v3m0 5v3m1-28v3m0 3v3m0 4v2m0 2v4m1-18v1m0 1v3m0 3v3m0 3v4m0 1v3m0 2v1m1-26v1m0 3v2m0 4v2m0 1v3m0 4v5m1-24v1m0 8v2m0 2v2m0 6v1m1-13v2m0 2v3m0 5v4m1-16v1m0 3v3m0 3v3m0 1v2m1-12v3m0 2v1m0 7v1m1-28v3m0 9v5m0 5v1m1-19v1m0 2v2m0 4v1m0 3v1m0 2v3m1-16v4m0 1v2m0 1v1m0 3v1m0 1v3m1-15v1m0 3v4m0 3v1m0 3v1m1-10v3m0 2v3m1-9v4m0 2v2m1-8v3m0 2v6m1-3v3m1-4v3m1-5v1m0 2v3m1-13v1m0 10v2m1-16v3m0 1v1m0 12v1m1-17v6m0 6v5m1-18v4m0 4v2m0 1v4m1-14v4m0 6v1m0 1v3m1-13v3m0 6v2m1-9v2m0 5v2m1-1v2m1-9v1m0 6v2m1-9v3m1-7v1m0 4v4m1-8v1m0 2v2m0 2v2m1-5v1m0 5v2m1-9v1m1-1v1m1 1v1m0 1v1m1-1v2m1-7v4m1-3v4m1 0v1"/><path stroke="#0038ff" d="M75.5 236v2m2-9v3m1-4v3m2 5v1m7-8v2m5 5v5m1-2v1m0 2v3m1-18v1m0 3v2m0 7v2m1-12v3m0 5v2m2-14v4m0 3v1m0 3v3m1-14v2m0 4v1m0 5v4m1-15v1m0 8v3m1-3v2m0 1v1m1-4v2m1-8v2m0 4v2m1-8v2m0 3v8m0 1v3m1-20v1m0 12v1m0 1v3m0 2v1m1-22v2m0 10v1m0 4v2m1-20v2m0 9v2m1-14v4m0 8v3m1-16v3m0 11v3m0 11v1m1-30v1m0 1v4m0 2v4m0 1v1m0 1v2m0 5v5m1-30v4m0 1v3m0 2v2m0 1v1m0 5v1m0 5v3m1-27v3m0 5v2m0 9v3m0 2v4m1-31v4m0 7v3m0 5v2m0 3v3m1-26v2m0 14v5m0 1v3m1-14v2m0 3v1m0 1v2m1-15v2m0 4v2m0 4v2m1-14v2m0 4v3m0 3v1m0 6v2m1-21v2m0 3v4m0 1v4m0 3v2m0 3v2m1-26v5m0 1v1m0 1v1m0 5v2m0 3v2m0 1v3m1-26v4m0 3v3m0 6v3m0 1v2m0 2v2m0 5v1m1-35v3m0 1v1m0 2v1m0 4v2m0 5v2m0 2v2m0 2v2m0 3v1m1-33v2m0 15v3m0 9v3m0 2v3m1-21v4m0 4v1m0 2v4m0 2v2m1-22v3m0 1v3m0 1v4m0 1v1m0 6v1m1-21v2m0 4v2m0 5v1m0 5v2m1-14v2m0 10v2m1-33v2m0 15v3m0 8v4m1-25v1m0 9v3m0 8v4m1-33v2m0 13v2m0 1v2m0 12v1m1-35v2m0 13v3m0 1v2m1-22v4m0 10v3m0 1v1m0 3v2m0 10v2m1-32v3m0 7v2m0 11v3m0 3v3m1-33v2m0 10v2m0 2v3m0 5v1m0 11v3m1-41v3m0 9v1m0 5v3m0 6v1m0 8v4m1-40v2m0 2v1m0 6v4m0 2v3m0 17v4m1-42v2m0 1v1m0 1v4m0 5v3m0 5v1m0 14v1m1-38v2m0 3v4m0 1v5m0 2v3m0 2v1m0 11v4m1-33v3m0 2v2m0 4v1m0 1v2m0 2v1m0 4v1m0 6v2m1-30v1m0 3v4m0 1v1m0 5v1m0 13v4m1-30v4m0 8v1m0 12v5m1-31v5m0 5v1m0 17v2m1-28v2m0 6v1m0 2v3m0 8v3m1-32v3m0 3v3m0 5v2m0 1v2m0 10v2m1-25v2m0 10v1m1-22v4m0 3v5m0 31v2m1-45v1m0 1v1m0 6v1m0 6v5m0 23v1m0 3v1m1-48v6m0 2v1m0 1v3m0 32v1m1-49v2m0 1v1m0 3v1m0 46v2m1-24v3m0 1v5m0 2v2m0 7v4m1-14v2m0 10v4m1-18v4m0 7v2m0 2v4m1-17v2m0 8v3m1-4v1m0 4v2m1-14v1m0 7v1m0 4v1m1-11v3m0 3v1m3-13v10m1-11v5m1 0v7m1-10v11m0 6v2m1-3v3m1-2v1m2-9v3m1 1v2m1-7v6m1-2v4m1-3v1m1 3v1m0 1v1m0 2v3m1-10v2m0 1v2m0 3v1m1-11v1m0 5v3m1-9v2m0 2v2m1-7v3m0 3v2m0 4v1m1-14v5m0 1v1m0 5v1m0 1v2m1-7v4m1-7v6m3-1v2m1-10v6m2-11v13m1-2v6m1-14v6m2 1v3m4-14v12m3 9v1m2-14v8m1-1v3m5-11v9m1-10v11m1-2v4m0 1v1m3-4v8m4-15v10m2-1v4m2 0v2m1-6v1m0 15v2m2-22v8m5-13v10m2-13v14m3 10v2m1-9v6m1-7v1m0 4v2m2-8v4m1-10v1m1 5v3m1-8v1m5 6v3m0 7v1m1-8v3m1-5v3m1-6v5m1-5v4m1 24v2m1-28v5m0 20v2m1-8v3m0 1v3m1-6v3m0 1v2m1-1v3m7-31v9m6-8v2m0 2v6m2-9v2m2 2v5m3-3v5m0 22v6m1-8v4m1-39v2m0 36v1m1-35v3m1-7v10m6-12v11m1-13v6m1 3v9m1-6v5m3-7v4m1-10v8m0 11v2m1-19v7m0 9v1m1 0v2m1-11v3m4-5v7m1 2v2m1-2v1m1-2v4m1-6v1m0 5v1m2 0v1m3-9v2m1-6v6m4-3v3m3-9v6m1-13v3m1 6v3m1-8v8m1-7v2m1 9v1m0 3v1m1-8v7m1-8v3m1-9v5m1 0v1m1-9v4m2 1v4m1 1v1m1-7v4m5 0v2m1-6v7m1 0v1m6-10v8m7-11v7m1 0v3m1-7v1m0 8v2m1-5v2m0 1v4m1-4v3m0 2v1m1-8v6m1-3v2m1-8v2m1-6v6m1-4v8m2-7v6m2-11v10m1-12v7m2 1v3m1-7v1m3 4v3m1-16v7m8 2v1m1-4v6m3-9v6m3 0v4m1-4v3m1 1v1m2 8v1m1-1v4m2-25v3m0 1v6m0 9v1m0 2v1m1-4v5m1-17v1m0 12v5m1-16v7m8-13v12m1-15v1m1-8v20m1-13v3m1-7v2m3 5v2m1-6v5m3 2v4m2-7v6m3 2v3m4-10v5m1-14v9m1-2v2m1-5v6m1 4v1m0 4v1m1-3v4m1-5v2m1-10v3m0 2v2m0 5v3m1-12v1m0 7v4m1-18v3m0 10v3m2-20v3m2 0v1m1 0v5m1-8v6m1 3v1m3-14v2m5-4v4m1 0v2m1-1v1m4-9v5m1-3v4m0 10v1m1-15v1m0 10v1m1-13v3m1-10v9m0 8v1m1-12v3m2-1v1m0 2v1m1-7v6m1-3v1m2-2v6m1-4v1m1-7v2m1 4v3m1-5v3m1-3v2m1-8v1m0 1v1m0 5v2m1-9v1m0 1v6m2-11v3m1-9v5m0 4v1m1-9v10m5-10v2m1-3v2m0 15v1m1-18v3m0 2v1m0 3v1m0 1v1m0 7v1m1-21v3m0 4v2m0 3v1m2-11v4m1-1v4m2-13v2m0 9v1m1-15v3m0 3v1m0 6v2m1-40v9m0 16v2m0 2v1m0 2v3m0 5v2m1-41v2m0 1v8m0 5v3m0 8v3m0 2v3m0 6v2m0 4v1m1-47v4m0 9v4m0 10v3m0 3v2m0 8v2m0 1v3m1-46v1m0 23v3m0 5v1m0 3v2m0 1v1m1-41v2m0 5v3m0 3v3m0 9v2m0 7v1m0 2v1m0 2v2m1-41v3m0 4v2m0 4v2m0 7v2m1-24v2m0 13v2m0 22v1m0 8v2m1-53v1m0 1v5m0 4v2m0 6v1m0 12v1m0 16v3m0 1v1m1-51v2m0 5v1m0 2v1m0 4v3m0 2v2m0 5v2m0 1v1m0 15v2m1-48v4m0 10v1m0 1v1m0 2v4m0 1v1m0 3v5m1-36v6m0 3v1m0 6v5m0 2v3m0 7v4m1-36v3m0 4v1m0 10v7m0 8v3m0 2v1m1-41v1m0 7v1m0 3v1m0 6v2m0 3v3m0 10v2m0 3v2m1-39v2m0 1v2m0 2v2m0 5v2m0 4v3m0 4v2m0 3v3m0 2v1m0 2v1m0 2v2m1-46v4m0 1v2m0 3v1m0 2v1m0 2v1m0 13v1m0 6v5m1-40v3m0 8v2m0 1v2m0 4v1m0 5v3m0 6v2m1-34v5m0 19v1m0 11v1m1-40v2m0 2v4m0 6v2m0 10v3m0 7v2m1-38v3m0 3v2m0 21v2m0 1v2m0 2v1m1-36v3m0 12v2m0 6v1m0 4v3m0 5v2m1-37v4m0 10v2m0 3v1m0 3v4m0 1v3m1-28v2m0 1v2m0 1v4m0 5v5m0 4v4m1-26v4m0 1v3m0 6v3m0 5v2m0 1v3m1-27v2m0 4v2m0 6v3m0 3v1m1-19v3m0 1v2m0 4v2m0 1v1m0 2v5m1-20v2m0 2v3m0 4v1m0 6v1m1-9v1m0 3v2m0 3v1m1-15v1m0 2v2m0 7v3m1-23v2m0 4v2m0 2v1m0 2v3m0 5v2m1-23v3m0 7v2m0 2v3m0 3v1m1-25v3m0 3v1m0 5v4m0 3v2m0 6v3m1-21v3m0 2v1m0 7v2m1-22v2m0 4v2m0 1v2m0 1v3m0 10v1m1-25v1m0 4v4m0 3v1m0 8v1m1-23v1m0 6v5m0 11v2m1-13v2m0 3v1m1-12v1m0 3v3m0 4v1m1-17v3m0 1v1m0 11v1m0 4v1m1-22v2m0 1v3m0 3v3m0 7v3m1-15v5m0 2v2m0 6v2m1-17v1m0 1v3m0 2v2m0 6v2m1-18v2m0 1v3m0 2v2m1-10v1m0 3v6m0 4v1m0 1v1m1-22v1m0 9v3m0 5v4m1-22v5m0 1v2m0 4v2m0 3v1m0 2v1m1-18v5m1-3v5m0 1v1m0 1v1m1-8v2m0 4v4m1-2v1m1-8v1m0 5v2m0 4v1m1-14v1m0 6v1m0 3v6m1-19v2m0 4v2m0 6v1m0 1v2m1-15v1m0 11v1m0 1v2m1-15v3m0 1v1m0 10v1m1-11v1m0 1v3m0 4v5m1-10v3m0 1v2m1-3v1m1-2v2m0 1v1m1-3v2m1-2v2m1-1v2m2-10v3m1-3v4m1-3v2m5-1v1m1-3v2m1-2v3"/><path stroke="#0048ff" d="M77.5 227v2m1-2v1m14 0v1m0 5v2m1-7v3m0 2v5m0 1v2m1-13v2m0 3v1m0 1v4m1-15v4m0 6v3m2-13v1m0 10v1m1-7v2m0 3v3m1-9v1m0 1v2m0 1v2m1-7v4m0 2v1m1-7v3m0 2v2m1-8v1m0 4v3m1-3v2m0 8v1m1-15v11m1-15v1m0 4v3m0 2v3m1-4v2m1-6v2m0 1v3m1-15v2m0 6v4m0 1v3m1-18v3m0 1v1m0 4v2m0 13v1m1-17v2m0 6v3m0 1v5m1-28v4m0 6v2m0 8v3m0 3v1m1-17v2m0 4v4m0 2v3m1-15v2m0 1v3m1-9v2m0 8v1m0 1v1m1-15v2m0 3v3m0 3v3m1-15v3m0 5v1m0 3v3m1-17v1m0 1v3m0 3v2m0 4v1m0 11v1m1-28v4m0 12v2m0 4v1m1-23v3m0 14v2m0 3v1m0 3v1m1-29v2m0 16v3m0 11v2m1-17v2m0 10v2m1-19v6m1-6v3m0 7v1m1-11v3m0 5v1m1-9v3m0 4v3m1-11v1m0 5v3m1-11v1m0 3v2m0 2v3m1-11v2m0 2v3m0 3v1m1-9v4m1-17v1m0 12v2m0 18v2m1-35v1m0 1v3m0 7v3m0 18v1m1-33v3m0 7v5m0 23v1m1-41v3m0 3v2m0 3v4m0 5v1m0 15v3m1-38v2m0 2v2m0 6v1m0 23v3m1-40v2m0 4v1m0 5v4m1-11v2m0 4v1m1-7v2m0 27v2m1-3v4m1-27v1m0 21v4m1-3v4m1-26v1m0 21v1m1-24v1m0 7v1m1-17v3m0 4v2m0 6v1m1-19v3m0 13v4m1-19v2m0 1v1m0 4v3m0 5v2m0 13v4m1-37v5m0 30v2m0 16v5m1-59v3m0 4v3m0 1v2m0 25v2m0 16v1m1-58v2m1 40v4m0 6v1m0 1v1m1-1v1m0 2v2m2 0v1m1-5v1m0 1v4m1-23v1m0 5v4m1-1v1m0 7v1m1-9v2m2 0v5m3-14v13m1 5v3m2-16v9m1-5v5m0 1v1m2-5v4m1 1v2m0 2v2m1-5v2m1-4v3m0 5v1m1-4v1m0 2v2m2-4v3m0 2v4m0 1v2m1-26v10m0 7v2m0 1v2m0 1v1m1-6v1m1-11v8m1-7v8m1-7v9m1-8v4m2-8v1m3 9v6m2-13v8m5-4v4m2-9v9m3-5v7m1-4v8m1-6v8m6-9v8m1-8v4m1-1v1m2 2v4m4-8v7m2 1v2m1-2v2m3-3v4m2-13v10m3-15v1m5 15v3m1-4v3m1-4v5m2-6v3m1-8v3m2 10v3m1-7v5m1-3v1m3-4v6m1-5v1m2-7v6m1-7v8m1-10v9m0 22v5m1-9v3m1-24v5m0 23v1m1-36v3m0 33v1m1-6v2m2-20v3m1-9v6m1-5v5m1-7v6m1-9v2m2 4v4m1-5v5m2-12v6m2 6v3m1-3v1m1-4v5m2-1v4m2-13v12m0 26v1m1-3v1m1-33v4m1-9v7m2 1v10m6-13v2m1-7v5m2 5v2m1-2v5m4-12v3m2 0v5m1 0v3m2-9v1m1-1v3m0 2v9m1-5v6m1-5v4m1-4v2m1-1v2m4-8v6m1-7v3m1 0v4m10-7v5m1-5v5m1-5v6m1-7v6m1-7v1m3-3v5m1-1v1m1-3v8m4-10v3m1 2v2m1-5v6m2-7v10m1-4v3m2-13v3m0 1v3m1-6v8m1-6v6m1-9v5m1 1v2m2-6v8m2-11v6m1 0v1m1-8v4m2 4v5m1 2v1m1-4v4m1-6v4m1 0v3m1-9v3m2-5v3m1 2v3m1-8v4m1 1v1m1-10v3m1-7v5m1 2v2m1-6v2m6-2v3m1-7v10m1-6v4m3 0v6m0 2v1m1-10v3m2-7v5m4-3v4m1 0v3m1-3v2m1-5v5m1-2v6m1-2v1m1-3v4m2-4v3m1-1v3m0 1v1m1-12v2m1-5v7m2-12v10m1-6v2m1-6v5m1-5v11m1-4v1m2 5v6m4-27v13m1-2v7m1-5v4m1 0v1m1-7v5m4 7v1m2-10v2m1-5v6m2-8v2m2-3v8m3 1v5m2-14v4m1 1v2m1 6v4m1-14v7m1-6v4m1-3v6m0 2v6m1-21v5m1-9v13m1-7v1m1-3v6m3-3v1m0 6v1m1-11v3m4-3v8m1 4v3m1-12v5m4-10v2m1 3v4m7-9v4m1-14v7m2-4v3m0 7v1m2-9v4m1-4v5m1-5v2m1-6v9m0 1v1m1-14v6m0 2v4m1-6v1m0 2v3m1-3v1m3-9v3m1-2v1m1-3v2m1 0v3m3-5v2m1-9v3m0 2v2m1-8v3m0 1v2m1-3v1m0 3v2m1-3v2m1-11v6m0 9v1m1-12v2m0 6v1m1-4v1m5-7v1m1-31v1m0 21v2m0 8v1m0 7v1m1-41v2m0 2v1m0 10v3m1-18v3m0 12v1m0 19v1m1-33v3m0 10v4m0 24v1m1-43v3m0 6v1m0 29v1m1-38v2m0 4v3m0 17v4m0 8v2m1-44v2m0 3v1m0 5v4m0 3v3m0 5v2m0 2v2m1-34v2m0 2v1m0 10v1m0 4v4m0 7v3m0 16v4m1-53v2m0 3v2m0 9v1m0 4v1m0 7v2m0 2v1m1-14v1m0 11v1m0 1v1m1-25v3m0 6v1m0 15v2m1-33v1m0 12v6m1-19v2m0 12v4m0 22v1m1-45v5m0 14v3m0 12v1m0 4v1m0 3v2m1-44v1m0 1v4m0 11v2m0 1v2m0 8v4m0 6v3m1-37v2m0 8v3m0 2v1m0 11v1m0 6v3m1-39v4m0 1v2m0 8v4m0 4v4m0 1v3m0 9v1m1-34v1m0 16v6m1-1v4m1-7v2m0 4v1m1-14v1m0 2v3m0 8v1m1-15v5m1-15v2m0 11v3m1-15v2m0 10v4m0 4v2m1-21v3m0 3v1m0 5v1m0 2v1m0 1v2m1-13v2m0 10v4m1-17v4m0 7v2m0 4v1m1-19v5m0 2v1m0 5v4m1-15v1m0 2v2m0 1v2m0 4v4m1-22v1m0 6v3m0 10v1m0 1v2m1-24v3m0 1v1m0 14v5m1-29v6m0 1v4m0 3v2m0 10v3m1-27v2m0 4v2m1-6v1m1 5v1m1 3v2m1 1v1m2 5v1m1-15v3m0 11v4m1-19v4m0 1v1m1-6v3m0 2v1m1-4v1m0 1v3m1-5v6m1-11v1m0 10v2m0 7v1m2-17v2m1-3v2m0 1v1m0 4v2m1-10v3m0 5v4m1-8v1m0 3v3m0 5v1m1-17v4m0 1v2m0 2v2m0 1v3m1-16v3m0 2v1m0 1v2m0 6v2m0 1v1m1-11v2m0 6v2m1-8v1m1 6v2m0 1v1m1-2v1m3-2v1"/><path stroke="#0058ff" d="M92.5 226v2m0 4v2m1-8v3m0 3v2m1-6v1m0 6v1m1-12v1m0 4v1m0 4v1m2-11v1m0 9v2m1-3v2m1-7v1m0 1v1m0 2v1m1-7v2m0 4v2m1-8v2m0 3v2m1-5v1m0 2v1m1-5v2m0 2v1m1-5v1m1 0v1m0 3v2m1-6v2m0 1v2m1-6v2m0 2v1m1-13v1m1-4v2m1-2v2m0 15v1m1-21v2m0 16v4m1-22v3m0 8v1m0 5v1m1-7v1m0 2v1m0 3v2m1-12v1m0 2v4m1-10v2m0 4v1m1-8v2m1-1v1m2-5v2m1-3v1m0 16v2m1-3v2m2-7v2m1-3v3m0 5v3m1-11v3m0 5v2m1-7v2m0 1v2m1-9v1m0 2v2m0 2v2m1-6v2m1-3v1m1-2v2m1-12v1m0 9v1m1-14v3m0 9v1m1-14v2m0 10v1m1-12v2m0 9v3m1-2v1m1-8v1m1-1v1m0 27v2m1-3v2m5-33v2m0 6v1m0 6v2m1-11v3m0 5v1m1-8v1m1 21v4m0 16v2m1-55v1m0 51v5m1-23v2m0 16v4m1-18v1m0 11v2m0 1v1m0 1v3m1-5v1m2-15v2m1-5v8m2-3v3m0 2v1m0 1v2m1-4v1m3-7v4m4 3v4m1-10v1m1 2v3m1 4v1m1 3v3m1 0v1m1-6v4m1 1v3m1-6v4m1-5v5m0 2v2m1-11v6m1 8v1m1-9v3m4 1v3m2-10v4m2-6v5m3-5v1m6 6v6m1-1v5m1-6v2m3-7v1m2 6v3m4 6v1m3-8v3m1-7v8m1-9v7m5 0v3m1-8v1m0 2v6m1-6v5m1-2v3m2-7v6m3-12v3m6 10v2m1-5v4m1-4v3m2-1v3m2-6v3m1-1v4m1-4v1m0 1v6m1-6v2m1-4v6m0 2v1m2-9v4m1-4v3m1 2v2m1-8v5m3 18v4m1-26v5m2-8v5m0 23v5m1-40v1m1 3v10m1-5v8m5-6v10m3-16v9m1-3v3m1-8v6m1 1v4m4-6v7m1-6v6m2-6v5m4-5v1m1 5v3m1-8v4m1-6v6m2-14v6m3 5v5m1-5v4m1-8v8m3-9v4m2-1v9m2-9v7m1-8v7m1-4v5m1-12v2m0 7v2m1-6v5m0 2v3m1-2v1m0 1v1m1-2v2m1-4v5m1-5v5m1-7v7m1-8v8m1-10v4m2 6v2m4-17v15m1-15v4m1-11v11m1 0v5m7-4v1m1-4v9m1-9v2m1-6v6m2 0v2m1-5v6m1-7v8m2-1v2m1-6v6m2-6v5m2-6v9m1-10v12m12-14v5m2 4v4m1-4v3m1-3v1m1-3v2m0 3v2m1-9v3m1-8v1m2 3v7m2-8v8m3-15v9m1-2v6m1-1v3m3-11v3m4 3v3m1-1v2m1-2v2m3-8v6m4-8v2m1-6v6m1 3v1m1-4v4m1-6v3m2 1v6m1-8v6m1-3v6m1-10v4m0 6v2m2-17v7m3-9v1m0 10v5m5-7v7m1-8v3m7-7v5m5-9v11m3-9v2m1-1v9m1-8v7m1-12v4m2-1v7m1-8v2m0 3v4m2-14v8m1-6v3m1 0v5m1-1v4m1-9v4m1-7v8m2 4v1m2-18v9m1-4v2m1 2v4m1-1v2m1-8v4m1-7v4m2-5v6m4-6v4m1-5v6m2-1v3m1 2v1m4-12v2m1 0v2m2-8v3m0 7v3m3-9v5m1 0v2m4-5v1m1-11v4m2 0v3m0 1v2m1-2v2m1-7v1m1 4v1m1-4v1m0 1v1m1-9v4m2-1v1m2-7v3m1 0v1m2-1v3m1-10v3m1-1v1m1 1v1m1-6v3m1 0v5m1-5v4m1-8v6m1-2v1m1-10v1m0 3v2m1-7v2m1-24v1m0 19v1m2-6v1m1-16v4m1-4v3m1-4v1m0 2v3m0 5v1m1-11v1m0 2v3m0 5v1m0 17v2m1-30v2m0 2v1m0 6v2m0 3v2m0 8v3m1-31v1m0 2v3m0 13v3m0 10v2m1-28v2m0 15v1m0 10v1m1 0v1m2-18v1m1-20v1m1 3v1m1 1v3m0 21v1m0 1v4m1-25v1m0 15v3m1 0v1m1-1v6m1 0v3m4-24v2m1 0v1m1 17v1m1-15v2m0 15v2m1-20v2m1-1v3m0 11v1m1-13v2m0 11v2m2-26v1m0 6v1m1-7v2m0 4v2m1-7v3m0 2v4m1-3v3m1 0v4m12-8v2m0 2v1m0 3v2m1-10v2m0 3v5m1-10v6m0 2v2m1-1v2m1-4v1m0 5v2m1-7v1m1 10v4m1-3v1"/><path stroke="#0068ff" d="M92.5 225v1m0 3v3m8-6v1m1-1v1m5 1v1m4-14v2m1-5v2m13 9v1m1-1v1m0 6v2m1-3v1m5-7v1m1-14v1m0 10v2m1-14v1m0 11v1m1-2v2m11 20v1m1-13v1m0 3v2m1 6v4m0 10v4m1-3v3m1-22v5m1 0v9m2-6v1m2 3v1m1 1v2m1-3v2m3-1v5m1-9v6m2-5v4m0 2v1m1-9v8m2 0v2m1-3v3m0 3v2m2-3v5m3-5v4m4-3v2m0 2v2m5-6v8m3-2v5m2-10v10m2-9v10m1-8v8m1-13v12m2-14v10m1-8v9m2 6v3m1-10v3m1-7v3m3 4v4m1-4v3m3-12v16m0 4v1m2-11v1m1-3v6m3-3v5m2-11v13m2-8v7m2-5v1m1-2v7m1-4v2m2-3v5m1-11v1m1 3v3m1-8v1m1 0v6m1-14v2m1 4v11m0 5v1m2-6v5m1-6v2m3-3v4m0 1v1m3-9v7m2-4v7m1-8v2m0 11v1m1-6v4m1-7v1m1-3v3m1-1v5m5-15v11m1-6v5m2-2v6m1 1v5m2-14v6m1-6v7m1-8v2m1 3v4m3-7v6m3 0v2m0 2v2m2-7v4m1-2v1m1-5v10m7-12v4m2-1v8m2-12v5m4 2v3m2-6v4m2-2v4m3-2v3m4-9v1m0 9v4m3-5v2m1-10v11m0 1v1m1-8v7m1-8v6m2-5v3m1-6v5m1-5v3m1-1v4m1-2v2m0 1v2m1-4v4m1-4v2m1-3v8m2-21v7m3-3v8m1-6v6m1-3v4m1-3v5m1-8v8m1-9v8m1-8v6m1-7v4m3-3v9m2-11v4m2 4v3m1-8v2m2 0v4m5-8v3m2-4v7m1-4v1m1-3v9m2-11v7m2-5v2m1-5v11m1-9v1m1-4v5m1 3v4m1-2v4m1-4v4m1-3v3m1-4v1m0 3v3m1-11v4m1-4v6m3-6v5m1-6v3m5-1v5m1-3v4m1 0v2m1-12v2m0 3v9m1-17v4m1-6v8m3 3v4m1 2v2m2-9v1m2-5v1m2-3v8m3-5v5m1-7v4m4-2v2m5-4v2m1-2v11m2-18v8m1-10v6m1-2v2m1 4v3m2 3v3m5-18v6m1-2v6m1-4v2m1-5v5m1-3v4m1 0v1m3-6v9m1-7v5m4-11v3m9-8v9m2-1v7m1-2v2m2-15v1m1 4v1m1 2v2m1-1v4m1-10v4m1-5v2m1-2v9m1-9v1m0 6v3m1-11v7m3-1v4m2-6v1m1-2v2m1-7v4m0 5v3m5-12v2m1-4v4m5 1v3m1-8v5m1-5v4m1-4v4m1-4v1m0 1v1m2-9v3m2 1v6m1-10v2m1 6v1m1-12v7m1-6v3m1 0v2m3-2v3m1-2v1m2-14v3m0 6v1m1 0v1m1-3v2m1-13v6m2-1v5m1-2v1m2-5v6m1-8v3m0 2v1m1-6v3m1-9v1m0 6v2m5-27v2m8-3v1m1-3v4m1 1v2m1 20v1m1 0v3m15-19v2m1 0v1m1 4v2m1 2v1m16 8v1m0 2v1m1-1v2m1-2v4"/><path stroke="#0078ff" d="M133.5 220v1m13 10v1m0 4v2m1 0v1m0 7v1m1-10v5m1-7v1m0 7v1m0 3v3m2 0v2m3-11v2m0 6v1m0 1v1m1-9v6m1 0v1m0 3v1m1-7v6m1-9v4m2-7v7m2 8v3m2-9v3m1-7v6m1 5v2m1-7v7m1-5v3m1 0v4m1-6v8m2-10v9m1-4v2m4-4v8m1-7v8m1-8v9m2-8v4m5 0v1m0 1v1m1-7v1m7 7v3m2-2v1m1 0v3m1-5v7m2-6v3m1-5v4m3 2v1m1-4v3m1-6v4m3-6v9m1-4v4m1-10v1m3 11v2m1-2v2m2-7v6m2-3v2m3-6v4m3 5v4m0 2v1m1-6v1m1-3v1m1 1v1m1-4v4m1-4v6m2-10v7m1-8v5m2 1v4m2-4v4m1-5v2m0 3v2m1-5v2m1-4v2m2-2v4m1-6v5m1-12v11m1-14v12m9 1v4m3 1v2m8-8v4m2-7v10m2-8v8m1-12v11m1-11v8m1-2v1m1 6v3m2-11v8m1-8v1m1-3v10m2-9v3m1-8v2m1 8v5m4-9v6m1-4v2m1-5v7m2-3v6m3-14v13m1-4v4m1-10v9m2-3v5m1-7v3m1 2v7m5-2v1m1-3v1m1-4v4m5-17v11m10-8v5m1-2v3m1 3v2m4-2v2m1-6v5m2-4v4m1 1v1m4-12v9m1-7v2m2-1v2m1-3v13m8-7v3m1-4v4m1-3v4m1-7v6m0 1v1m1-15v9m2-4v9m2-9v4m1-3v1m1-5v8m1-11v7m2-1v4m3 2v5m4-15v4m1 1v3m2 3v2m1-4v3m1-5v3m1-5v4m3 3v4m1-18v9m1-8v4m1 2v2m2-2v2m1-2v8m1-9v7m2-7v8m1 0v3m2-16v4m1 1v1m6-5v6m1-3v3m1-13v2m1-4v19m1-21v18m2-18v5m4 5v1m2 2v4m1-1v2m0 1v4m3-10v1m7 3v1m1-18v13m1-11v6m1-2v4m2 0v7m8-8v2m1-6v5m1-6v2m1-5v4m4-1v7m1-4v6m3-7v2m1-7v3m0 5v1m2-16v13m1-13v13m1-10v10m1-6v3m2 0v4m1-5v4m1-11v4m2-5v3m0 2v1m3-6v5m1-2v2m1 1v1m0 1v1m1-13v5m2-2v6m1-4v1m1-1v3m1-11v13m2-10v1m1 1v2m2-8v7m2-5v6m1-12v4m0 6v2m2-4v1m1-9v1m0 1v5m2-5v2m2 2v1m2-10v2m1-6v3m1-3v1m1-3v1m0 4v2m15-23v2m37 26v4m1-1v1"/><path stroke="#0087ff" d="M146.5 232v2m0 4v3m1-11v8m1-2v1m5 2v5m1 4v1m2-7v2m0 2v3m0 1v1m2-3v4m3-9v5m1-9v5m4 0v6m2 7v2m1-6v2m2 0v4m2-4v2m2-11v11m0 6v1m1-9v8m6-6v6m2-8v11m6-9v5m1-11v3m3 15v3m1-11v4m0 1v1m2-7v7m2-4v4m3-4v5m2 0v2m1-5v3m2-5v5m1-2v5m4-5v8m2-7v6m1-6v6m2-6v1m1 1v6m1-7v4m1-3v3m4-10v7m1 12v1m1-6v2m1-3v1m1-2v2m1-5v4m1-5v5m2-7v1m3-3v10m1-5v4m1-11v10m1 5v1m1-6v3m1-3v1m1 1v3m5-18v2m2 0v11m1-3v6m2-2v4m1-10v6m1-7v7m2-8v1m0 1v8m2-3v7m1-8v3m1-8v7m1-10v10m1-6v7m1-1v8m1-5v3m1-5v7m1-13v5m8-1v8m4-11v2m1-2v2m1-6v7m1-3v7m1-4v5m1-4v5m2-7v9m4-3v3m6-10v1m1-5v11m1-8v8m1 1v3m2-6v7m1-8v5m1-3v3m1 0v2m1-4v2m0 1v3m1-4v4m1-5v2m1 1v2m1-10v4m5-2v1m1-3v6m1-6v1m0 1v5m1-9v6m1-8v4m1-2v5m1-3v2m1-5v9m3-9v9m1-12v6m1-4v8m1-3v8m3-5v2m1-5v2m1-4v9m3-12v6m3-7v9m3-7v3m2-5v7m1-7v4m1 3v1m2-2v5m1-2v1m1-2v1m1-3v4m1-9v6m2-7v8m1-5v2m1 4v3m1-10v3m1 2v1m1-13v7m2-2v4m2 3v2m1-1v4m3-15v6m4 5v4m1-5v1m0 6v2m1-9v3m2-5v1m1-4v5m6-2v1m1-3v3m2-3v2m1-4v7m3-12v12m5-13v4m1-3v1m1-4v8m2-4v1m0 9v4m1-15v14m3-13v4m2-7v4m1 1v3m1 1v1m1-7v3m1-2v5m2-8v9m0 4v1m1-8v1m3-2v4m1-2v3m1-10v9m1-7v1m1 3v2m1-3v2m1 4v1m4-10v6m1-16v4m1-2v4m1 2v4m1-3v2m1-11v14m1-17v13m2-5v6m2 2v2m1-11v3m8-4v5m1-2v3m1-2v3m1-1v3m5-13v3m0 5v2m1-14v4m2-7v7m1-1v4m1 3v2m1-11v9m1-10v8m2-4v1m1-4v7m1-12v3m1-2v5m2-2v1m0 1v2m0 1v1m1-11v3m3-1v2m1-4v6m1-8v8m2-7v6m1-8v2m2-6v1m0 5v3m1-9v8m1-11v3m4-2v10m1-4v2m1-4v2m1-5v2m1-4v3"/><path stroke="#0097ff" d="M147.5 239v3m2-8v1m0 1v2m0 6v2m1-9v6m1 0v4m0 5v2m3-17v2m0 4v3m0 1v1m1-7v1m1 2v2m1-1v2m2-8v4m2-5v5m1 10v2m2-14v8m1-9v6m1 4v4m2-7v4m1-1v2m0 3v2m1-6v4m1-4v2m3-3v5m1 2v3m0 2v1m5-6v3m1-9v7m1-12v11m1-8v6m3 3v3m1-2v3m1-6v4m5-3v7m1-12v9m2-5v1m0 1v5m1-8v2m2 10v3m1-8v5m1-10v8m1-6v4m2 7v1m1-7v1m1-3v3m1 3v4m1-12v6m2-2v4m2-5v1m1 5v2m3-9v10m5-10v7m2-15v13m3 4v3m0 1v1m1-4v3m1-5v4m1-8v5m1-7v3m1 5v3m7 2v2m1-6v1m1-4v4m1-5v7m1-8v7m1-11v9m4-11v12m4-9v10m3-11v10m2-6v12m2-10v3m4-3v2m1 5v1m1-4v2m2-10v15m2-7v5m3-10v1m1-4v10m1-6v4m1 3v3m3-11v2m6 6v3m2-6v1m1-4v6m2-6v8m1-5v4m1-5v9m1-11v7m0 1v2m1-19v1m1 1v13m1-14v9m3-3v8m1 2v3m4-5v4m1 0v1m3-5v6m1-13v5m1-11v8m1-9v5m2 1v7m1-5v6m4-2v3m1-7v2m2-7v6m1-4v4m1 2v1m1-7v4m1 3v1m2-5v3m1-1v6m2-5v5m2-8v3m1 3v4m4-14v7m4-8v6m3-3v1m1-3v9m1-6v3m1 1v2m1 0v3m1-4v3m1-5v3m5-6v9m2-12v9m2-13v6m1 0v1m1 4v1m1-3v1m0 6v1m1-4v2m1-4v7m1-11v6m2-10v5m4 7v4m1-9v4m1-1v2m1-4v1m4-13v7m1 0v1m1-1v7m1-3v2m4-7v3m1 2v2m4-9v9m1-13v14m6-8v3m4-18v14m2-10v7m2 0v9m4 1v2m1-15v10m2-2v4m2-5v3m2-8v4m1 0v4m1-4v1m0 4v2m1-15v9m0 1v4m2-12v1m1-4v8m2-11v1m0 5v5m1-14v7m1-1v7m1-1v2m0 2v3m2-18v1m1 5v4m2 0v6m1-10v6m1-8v4m1-2v2m2-2v6m1-3v2m2-7v10m1-13v12m8-9v1m0 1v1m1-1v3m1-6v4m3-8v3m1 3v2m0 1v1m3-12v5m1 2v1m1-11v4m3 0v3m1-6v2m0 3v1m1-4v3m2-12v10m5-8v2m1 1v3m1-9v1m0 6v3m2-13v2m1 5v1m1-8v3m1-2v5m1-2v4m2-8v7m1-8v1m1-6v3m1-7v2m0 6v1m1-7v5m0 3v1"/><path stroke="#00a7ff" d="M148.5 232v4m1-6v4m2 6v2m1-4v5m1-8v4m1-5v1m0 4v2m1-5v2m0 4v1m1-9v4m1 2v5m1-6v2m1 2v5m3-4v5m1-6v4m4-6v4m0 3v4m1-1v3m1-10v3m2 6v2m1-9v7m1-5v4m1-9v7m3-2v8m1-6v7m1-4v4m1-6v3m5-2v9m1-10v7m1-8v8m1 2v4m2-17v10m1-3v3m2-9v9m1 4v5m3-9v3m1-4v10m6-10v12m6-13v9m1-1v3m1-8v3m1 2v6m1-4v2m1-3v3m2-5v5m0 1v1m1-4v1m2-6v8m2-10v9m4 7v1m1-6v3m1-5v3m2-3v3m1-2v4m1-3v2m1-6v5m1-1v3m2-11v10m1-15v3m1-1v17m2-9v4m4-12v8m1-13v5m4 0v12m1-3v7m5-14v2m1 1v1m1 7v3m4-8v3m1-8v1m1 9v6m1-8v5m1-13v9m1-12v2m2 3v11m2-8v1m4 6v4m1-4v2m1-5v5m2-10v6m3-4v7m1-4v5m1-1v3m2-7v4m2-6v3m4-7v7m5-8v4m2 1v1m0 3v7m1-4v2m1-6v5m1-3v5m2-2v3m1-5v1m0 1v5m1-6v5m4-12v4m1-10v4m3 5v4m1-5v5m1-7v2m3-2v7m4-9v1m1-4v6m1-8v7m3 5v4m1-6v3m1-2v4m2-7v8m1-9v12m1-12v3m1-7v8m2-6v4m1 2v3m4-11v6m5 0v6m1-6v5m1-3v1m1-7v5m1-11v6m1-2v6m1 0v3m2-7v6m5-4v6m1-1v4m1-4v3m2-11v5m1-5v2m1-6v5m2 4v6m2-8v9m1-5v1m1 1v2m1-7v5m1-6v4m2-8v11m4-7v5m1-3v3m1-5v8m1-11v8m2-9v9m1-8v14m2-17v8m3-10v12m1-9v2m1-5v6m1-5v2m2 8v3m7-13v8m2-4v2m1 0v1m1 3v2m3-10v9m1-7v2m1 0v3m1 1v1m2-10v1m2 5v2m3-18v9m2 0v6m1-1v4m6-17v6m3-3v1m3 1v7m2-6v3m1-2v4m4-7v6m2-12v11m3-11v2m1 5v1m0 1v1m3-14v13m4-15v4m1-3v3m2 1v6m2-11v3m1 0v1m1-5v3m1 3v2m2-16v12m2-6v2m0 1v4m1-9v7m1-7v4m1-4v7m1-8v2m1-3v3m1-7v1m1 6v2m1-8v1m1 4v3m2 0v2m1-7v1m2-5v1m2-9v2m0 6v2m1-7v6m1 0v1"/><path stroke="#00b7ff" d="M147.5 222v1m0 2v5m3 1v4m1-1v5m1 4v3m2-11v2m1 1v3m1-3v4m1-9v3m1 5v3m3-15v9m2 1v4m1-5v3m1-7v6m3 1v2m1 9v1m1-6v4m1-4v4m2 1v3m3-6v6m3-8v6m1 1v3m3-2v6m1-16v5m3-4v1m2 3v4m3-9v14m3-5v7m1-8v3m1-6v2m2 5v6m1-8v7m2-11v8m1-4v6m2 0v3m1-7v5m3-3v4m2-11v10m1-1v2m0 1v2m2-7v6m1-4v3m2-6v2m1 1v4m0 1v3m1-7v3m2-7v2m3-13v13m1-1v7m1-6v11m1-7v5m1-9v7m1-8v7m1-9v7m2 2v2m2-5v6m3-10v5m2 3v6m2-7v3m1-4v3m3-10v5m1-12v5m0 7v6m1-13v1m1 0v1m2-2v11m2-7v9m1-9v8m1-10v1m4 4v7m1-13v11m1-15v12m1-9v10m1-4v8m0 2v3m2-14v8m3-3v6m2-3v5m1-7v3m1-8v7m1-6v3m1 0v4m6-9v6m1-4v6m3-1v6m3-7v4m1 0v3m1-7v2m1 0v5m3-11v7m1-15v1m0 1v2m2 2v2m0 1v4m1-1v4m1-9v4m2 7v2m2-3v1m1-1v5m1-7v6m1-6v2m0 3v1m1-4v3m1-7v9m1-13v6m5-1v1m3 0v3m1-9v7m1-6v6m2-6v1m1-4v6m1-4v10m3-6v3m1-8v5m0 6v2m1-6v2m1 0v1m1-3v1m1-1v2m1-5v4m3-7v4m4-4v8m4-9v1m2-1v4m1 1v2m1 3v1m2-6v2m1-5v7m1-10v4m1 0v4m1-10v4m3-2v4m1-4v5m1-5v3m1-8v6m2 3v2m1 0v4m1-4v5m1-6v7m4-11v8m2 2v5m2-11v5m1-3v5m4-13v1m1-5v5m1-5v12m2-4v3m1-3v5m3-3v1m11-4v7m5-23v5m1 4v3m2-2v3m1 2v1m1-1v2m1 1v1m1-8v12m1-17v3m0 1v7m3 2v2m1-7v5m1-8v9m1-10v7m2-3v5m8-19v4m6 2v8m1-4v5m1-12v5m1-4v5m1-3v5m3-3v3m2-12v5m2 0v8m1-13v6m1-3v11m2-18v11m2-1v4m1-7v7m1-10v4m0 1v4m4-7v1m1-5v10m3-10v2m1-2v3m1-6v4m0 5v2m1-9v1m1-2v1m0 2v2m1-1v4m5-15v3m2 5v1m2-4v2m0 2v1m1-12v2m0 5v3m1-3v2m2-12v2m0 6v1m1-13v10m1-3v3m4-1v1m1-6v5m0 1v3m1-12v3"/><path stroke="#00c7ff" d="M148.5 219v7m0 1v5m1-6v4m1-5v2m0 8v2m1 10v3m2-18v3m1-7v6m1-3v2m2 3v4m1-8v3m1-2v2m1-4v10m3-10v2m3-3v14m1 1v3m1-5v4m1 0v3m1-7v4m1-3v3m2-7v4m2-3v5m1-4v5m5 0v3m3 0v5m1-10v3m3-2v6m1 2v5m2-16v8m6 1v3m1-3v4m5-12v11m2 4v2m2-7v9m2-6v2m4-3v7m2-9v7m1-2v3m1-8v1m0 5v2m1-5v1m1 7v3m2-8v2m4-17v14m6 1v8m1-7v5m1-4v3m2-3v4m4-1v2m1-6v5m1-7v7m2-6v4m11-5v5m1-2v5m1-11v3m0 5v4m1-9v2m0 3v7m6-3v3m6-10v8m4-8v5m2 1v6m1-6v3m2-10v5m3-1v3m1-1v4m2 1v2m1-6v3m1-5v2m1-6v7m1-7v1m0 7v2m1-5v3m1-2v6m1-14v5m1-12v3m2 6v2m1-8v6m2 5v3m1-8v4m1 2v6m1-5v3m1 0v1m1-5v5m1-9v7m1 2v2m1-7v5m1-6v2m1-5v1m3 2v3m1-7v7m1-1v1m1-4v6m1-8v7m4-8v6m3-8v4m1 3v1m1-12v7m2 5v3m1-7v1m0 7v1m1-4v3m2-5v3m6-5v2m1-5v4m1-3v1m1-5v15m1-16v8m3-6v9m1-7v1m1-3v8m1-7v12m1-10v7m1-6v4m5-7v9m1-3v3m5-10v9m2-6v5m1-4v4m1-2v1m1-5v3m1-7v7m4-5v3m0 8v1m1-6v2m1-2v1m1-4v6m1-6v1m0 3v2m1-6v5m7-7v4m1 1v2m2-9v8m4-7v2m1 3v1m3-7v4m4-13v14m1-5v5m5-10v3m2 0v6m2-4v1m1-4v3m1-9v4m1 3v4m2-4v5m1-1v1m2-5v1m1-1v2m0 1v2m2-4v9m2-21v14m1-11v3m1 2v4m1-4v3m1-10v8m3-1v10m5-13v4m1-7v3m0 6v2m2-8v3m1-3v7m1-5v6m2-9v3m0 2v5m2-14v4m2 3v4m2-12v4m2-4v9m7-4v2m2-3v4m1-4v3m1-5v3m1-9v2m0 5v2m1-9v1m0 4v1m2-3v2m2-8v10m1-14v3m0 1v9m2-12v2m1 2v3m0 2v1m1-8v1m1-2v4m1-3v3m1-8v4m2-6v3m0 2v5m1-9v9m1-4v1m4-9v3m0 8v2m1-11v8m1-10v3m0 4v1m1-7v1m1-8v4m1-5v3"/><path stroke="#00d7ff" d="M147.5 223v2m1-7v1m3 10v1m0 9v1m0 2v1m4-18v2m0 6v3m3-1v4m1-4v4m3-16v16m1-5v2m1-6v8m1-10v6m2-4v6m2 0v8m2-2v2m1-3v1m0 1v3m1-2v4m3-1v2m1-7v6m1-4v6m2-8v1m0 1v7m1-8v4m1-7v6m1-9v7m3 4v3m1-4v3m1 2v4m1-11v2m7 0v6m2-11v10m1 0v2m2 0v3m3-6v5m1-12v1m0 4v10m1-5v3m2-6v9m1-10v7m2-8v1m1 1v7m1-6v2m1 3v2m2-9v9m1-4v3m1 0v3m1-6v4m1-1v2m1-5v1m6-4v12m2-9v4m1-8v3m1 2v1m2 1v4m1-5v2m1-3v6m1-5v4m1-10v1m2 4v9m1-11v7m2 1v3m4-9v5m1-4v5m1-4v5m1-11v1m2 7v5m1-12v7m10-9v6m1 1v10m1-14v7m1-10v10m1-12v3m1 3v11m2-9v1m5 3v2m0 2v8m3-10v6m3-9v3m2-2v5m2-1v6m2-10v4m4-3v5m1-13v5m2 0v5m1-12v8m2-8v6m2 7v3m0 1v3m1-7v1m2 0v5m3-7v6m3-9v2m1-7v8m1-9v4m6 1v8m2-5v2m1-6v3m2-5v5m6 3v5m1-4v3m1-2v3m2-7v4m4-10v7m1-5v6m4-10v3m9 2v5m1-8v5m4-2v7m1-6v1m1-4v4m1-7v1m0 1v5m2-3v1m1 4v2m2-3v1m1-4v6m1-8v4m2-5v4m2 5v4m1-7v8m0 1v1m1-15v8m2-10v7m1 1v3m4-17v7m2 2v10m1-10v6m1-5v1m1-5v10m1-4v3m1-10v4m1 2v3m2-11v7m2-5v10m1-5v2m3-6v4m1 0v1m2 3v3m1-24v16m1-5v5m0 1v2m3-16v11m2-6v7m2 2v3m1-7v3m0 1v6m1-16v6m3 0v3m1 3v3m1-12v8m1-11v9m2-3v1m1-2v7m2-17v8m1-9v2m4 10v1m2-6v7m2-16v15m4-2v3m2-13v7m4-1v5m1-3v2m1-3v5m1-7v4m1-8v3m7-8v4m2-4v11m1-15v6m1-5v11m2-12v4m1-3v3m1-1v3m1-4v3m3-1v3m2-9v9m4-7v4m2-3v2m1-9v5m1-2v3m1-1v3m1-3v2m2-11v2m1 4v2m1-10v1m1 6v2m2-3v7m1-12v3m2-14v3m1 1v3"/><path stroke="#00e7ff" d="M148.5 216v2m0 8v1m1-14v1m0 1v2m0 4v5m2 0v1m1 0v11m1-8v2m1-11v7m2-2v3m0 2v3m1-12v4m0 4v3m1-8v3m1 1v2m1-5v1m8 6v8m2-5v7m1-6v5m1-6v5m2-6v3m1-7v10m4-1v7m1-7v1m5 7v4m1-10v6m1-11v9m7-1v7m1-9v11m2-11v7m2 4v3m1-9v7m1-6v5m3-8v5m2-4v7m4-2v3m1-5v2m1-6v4m1 4v2m1-5v6m4-8v3m0 1v4m1 2v3m1-7v3m1-2v2m1-4v4m1-9v5m3 1v5m2-4v4m2-6v3m1-7v3m1 6v2m2-2v4m3-11v4m2-5v1m2 2v2m1-2v8m1-12v10m1-8v6m9-8v10m2-12v12m1-1v4m1-2v3m1-5v4m3-16v9m1 1v4m1-11v3m3 7v6m2-8v5m1-11v1m1 9v4m1-9v5m1 0v1m1-4v2m2 5v1m1-3v3m1-5v1m2-4v2m1-5v4m1 3v1m1-4v1m1 4v3m2-6v5m3-5v5m1-4v3m3-11v7m4-4v5m1-11v10m3 3v3m2-13v12m1-12v8m1-7v5m1 1v4m1-4v4m1-9v4m2-2v4m1-9v8m2 0v6m1-8v5m1-7v2m2-3v7m1-7v6m2-6v8m3-9v10m2-15v10m1-6v8m1-5v5m1 2v1m1-4v5m1-5v5m1-5v1m1-5v11m1-9v5m1-8v7m3-5v3m5-5v6m1-6v3m2-3v3m2-6v9m1-8v9m1-7v3m1-8v5m1-7v10m1-7v7m2-2v2m2-7v5m2-6v5m2 1v6m1-6v5m1-5v5m1-8v5m2-7v5m5-1v1m1-2v10m1-13v3m1-2v9m1-4v4m2-11v9m0 1v2m4-11v6m1-5v6m2-7v9m2-12v11m1-10v14m1-5v6m1-13v7m2-9v9m2-5v4m2-5v6m4-17v11m1-12v18m4-11v2m2 0v2m1-3v6m3-7v8m1 2v4m4-14v8m3-5v3m1-2v6m2-17v7m1-1v6m1-7v4m0 6v4m1-19v5m3-5v7m2-8v12m2-6v7m3-13v4m1 0v6m2-4v6m1-7v2m1-9v6m3 4v3m2-11v4m4-2v8m1-6v5m1-11v4m2 0v4m2-8v2m0 1v7m3-6v3m1-4v3m1-6v1m0 3v2m1-10v6m1-3v3m1-8v10m2-13v4m2-9v5m1-2v3m0 2v1m1-6v3m1-5v6m0 3v2m2-8v3m1-6v3m2 4v1m1-10v1m0 1v1m1-5v9m3-2v9m2-14v1m0 4v1m1 1v3m1-21v2m0 3v3m2 3v3"/><path stroke="#00f7ff" d="M148.5 214v2m1-5v2m0 1v1m0 2v1m1 0v3m1 2v1m2 1v3m2-6v2m0 3v4m1-2v2m2-3v4m1 0v1m4 3v3m4-3v5m4-12v8m1 5v1m2-5v5m2-13v12m1-4v4m1-3v5m2-3v1m0 1v1m2-7v3m1 4v5m6-2v3m1-6v3m1-7v3m1-5v1m1 2v7m1-14v11m2-1v3m3-1v2m3-1v4m5-2v5m3-8v6m2-2v1m1-4v5m2-1v3m2-9v9m1-11v2m3 6v4m1-8v6m4-3v5m2-7v8m1-5v4m2-2v3m0 1v3m1-5v4m1-6v5m1-7v6m2-9v9m2-5v6m1-13v1m0 6v4m1-9v5m1 4v3m4-18v12m2-9v12m1-10v11m1-4v5m2-2v4m3-14v12m3-8v9m2-7v5m1-12v8m1-10v4m5 5v6m4-3v7m1-6v1m1-3v8m2-7v6m0 2v2m1-5v1m0 2v3m1-4v2m2-6v2m1-5v4m2-2v6m1-9v4m1 0v7m1-3v3m1-7v1m1-5v7m1-7v7m1-5v5m1 1v1m1-4v3m5-14v7m3 0v6m1-1v5m0 1v1m1-4v2m1-5v6m3-5v3m1-8v6m1-6v6m5-4v4m1-3v3m2-2v3m1-7v1m3-3v5m2-3v1m1-4v7m1-9v5m1-3v3m1-8v3m2 12v1m1-4v5m1-8v5m1-5v5m1-6v6m2-5v3m0 5v3m3-12v3m1-3v3m1 2v2m2-13v5m4-2v9m2-13v12m2-7v1m1-6v8m6-3v7m5-5v2m4-7v7m3-1v6m1-10v1m0 9v1m1-5v1m3-15v8m1-7v4m1 2v7m2-14v7m8-4v7m4-3v1m2-3v1m1-1v10m1-8v3m1-4v5m2 1v7m4-24v2m2 2v2m1 5v3m2 0v3m1 2v1m2-13v3m1-7v7m2 2v2m1-8v11m1-6v2m2-5v1m1-3v10m1-10v9m1 0v3m9-9v5m3-11v10m2-14v7m1-9v11m2-5v2m1-2v8m2-3v3m1-6v5m1-14v6m2-6v5m1-5v11m1-2v5m1-16v8m0 7v2m1-11v3m2-5v3m2 2v4m5-6v4m1-13v3m0 6v4m1-12v4m1-5v4m3-3v2m2-4v2m1 1v4m1-18v8m1 2v6m2-5v5m1-4v3m1-10v6m1 1v2m1-5v3m1-6v8m1-12v8m1-1v2m2-5v1m3-6v6m3-6v8m0 1v1m2-20v10"/><path stroke="#08fff7" d="M148.5 213v1m1-7v4m0 7v3m1 6v4m1-14v5m0 5v2m0 1v4m4-19v4m1 1v6m1 0v4m1-10v1m1-2v2m0 4v2m1 0v4m1-6v4m2-9v6m1 1v3m1-7v5m4 0v8m1-10v10m2-12v12m1-11v7m0 3v5m3-16v3m3 8v3m1-3v5m1-3v2m1-9v7m2-2v10m1-10v10m3-14v15m2-6v4m2-4v5m1-11v7m4-2v4m2-7v10m0 2v4m1-9v2m1-4v8m1-8v6m2-13v12m1-1v4m2-7v7m1-4v2m3-3v5m2-6v1m2 1v6m1-5v4m1-10v1m1 4v4m1-7v13m1-3v2m6-17v13m4-6v7m3-2v4m1-8v3m4-8v12m2 0v2m1-6v6m5-15v12m5-6v11m5-11v11m2-1v4m4-13v5m1 2v5m1-12v8m4-7v11m1 0v3m3-8v1m1 4v1m2 2v2m1-3v2m1-4v4m1-6v2m2-4v2m1-3v4m1 1v2m1-7v1m1 1v7m1-3v3m4-4v4m1-8v5m1-17v12m2-12v13m6 1v2m1 1v4m1-8v5m10-3v1m1-3v4m1-5v6m2-3v3m2-9v6m2-5v5m6-5v3m1-8v11m1-3v5m6-8v5m1-7v7m3-4v8m4-9v5m1-4v4m1-8v4m1 2v2m2-12v9m1-8v8m5-3v10m2-11v4m2-5v6m2-5v9m1-5v1m1-5v8m1-8v8m1-5v2m1-5v1m4 5v7m0 1v2m1-17v10m8-14v1m0 1v3m1 2v5m2-7v3m1-7v8m1 0v2m7-2v1m3-5v2m3-5v8m1-12v7m4-13v11m2-5v2m0 1v5m2 1v2m1-11v8m0 4v4m1-16v7m1-9v6m3 1v2m2-9v10m1-4v3m4-9v6m3-8v3m2 9v3m1-13v1m1-3v9m6-10v5m1 3v5m1-16v2m1 3v1m1-4v6m2-3v3m1-7v5m3-4v4m4 1v3m1-12v7m1-4v9m2-10v3m2-6v4m3-4v4m1-7v4m2 4v3m1-4v3m1-8v8m0 1v1m1-14v8m1 0v3m1-12v4m1-5v4m2-1v6m0 3v1m2-18v4m0 10v1m4-13v7m2-6v1m3-7v2m2 5v5m3-4v1m1-8v10m1-17v1"/><path stroke="#1414eb" d="M83.5 102v70m0 1v78m5-150v150"/><path stroke="#141982" d="M340.5 174v138m34-146v84m0 1v64"/><path stroke="#18ffe7" d="M148.5 211v2m2 0v2m0 6v4m1-1v2m2 2v2m2-11v3m0 2v1m4 2v2m1-8v3m1-4v5m2 1v5m0 2v1m1-9v2m2-10v13m1-11v5m1-1v5m5 4v2m1-7v4m3-3v6m0 2v2m1-6v7m1-7v1m0 5v2m2-1v4m5-10v9m1-10v5m2-2v10m2-9v4m1-1v1m4-3v7m2-7v5m2 3v3m3-10v6m2-12v12m1 0v3m2 0v4m1-9v8m3-7v3m1-2v3m1-6v10m3-10v4m3-1v8m1-4v3m2-5v3m1-7v5m3 1v4m2-11v10m2-7v6m1-5v10m2-7v3m1-8v2m0 4v7m2-15v10m2-5v5m3-1v4m2-13v11m5-10v10m1-1v5m2-15v12m1-13v5m2-4v2m2 0v3m1 1v8m4-18v9m3-7v12m4 2v4m2-5v4m2-4v6m1-7v2m1 1v6m1-7v7m1-6v4m2-6v3m3-4v3m1 0v4m2-7v7m1-11v7m1-9v9m1-8v10m1-6v8m1-8v4m2-16v14m2-10v10m2-11v11m1-11v11m1-8v11m1-7v1m0 9v2m1-5v4m1-8v4m1-9v9m1-9v9m1-8v9m1-6v6m1-6v6m1-6v7m1-8v7m1-8v4m0 1v2m1-7v6m1-3v6m1-6v4m2-4v7m2-8v7m2-5v2m1-5v3m1-4v8m1-7v4m2-10v10m1-6v1m1-6v10m2 1v2m1-6v8m1-7v7m1-6v5m1 0v2m4-3v1m1-3v3m1-6v3m1-6v12m7-17v6m4-6v10m1-11v6m3 4v7m2-11v6m7-6v6m2-1v1m1-4v8m3-10v2m1-3v11m3-7v4m1-9v7m4-7v7m1-1v8m1-13v4m2-5v9m2-10v4m5-1v7m3-8v2m1 2v1m1 1v2m1 1v2m1-21v7m6-2v2m1 4v2m2 4v2m3-16v4m2 11v2m3-18v9m8-7v8m1-10v5m1-8v6m2-1v3m0 1v7m5-8v4m3-16v9m1-6v3m2 6v4m1-6v5m2-4v5m1-6v5m1-5v5m2-11v2m4 4v2m1-5v3m1-12v10m1-3v5m1-14v5m1 0v6m1-2v3m0 2v1m2-7v3m7-5v2m1-11v2m3 5v2m2-17v10m1-8v7m3-5v2m1-5v2m1-3v8m0 1v1m1-7v3m1 0v3m1 4v3m1-10v3m1-9v5m1-6v9m1-10v1m1-3v1m1-7v13"/><path stroke="#1e14aa" d="M96.5 108v114m0 1v9"/><path stroke="#28ffd7" d="M150.5 215v3m1 4v1m1-4v2m1 0v4m3-9v4m1-5v2m1-3v3m0 4v4m1-4v4m1-1v2m2-6v3m2-7v5m0 2v2m1-8v6m2 1v6m1-2v5m1-13v4m2 1v4m2 5v1m1-4v4m1-9v5m1-4v3m1-8v2m3 9v2m1-10v11m2-5v6m7-3v4m2-4v4m3-10v15m2-12v8m9-4v9m5-1v1m5-7v9m2-13v10m3-4v9m2-10v8m2-7v6m1-13v1m1 4v11m1-5v5m5-3v4m7-9v7m1-6v7m1-7v9m5-13v2m1 1v2m2 0v9m3-6v5m1-11v2m1 2v5m1-11v4m3 0v11m4-15v13m3-14v13m1 0v6m6-5v2m1 1v2m1-6v5m1-6v5m1-5v6m1-2v4m2-3v1m1-3v2m1-6v4m1-7v9m1-2v4m1-9v1m5-2v5m5-10v8m4 1v7m1-8v7m1-8v4m11-1v1m1-4v7m2-6v8m2-7v2m1-5v6m3-5v2m1-5v6m2-12v9m3-3v9m4-4v7m1-5v6m3-8v6m1-6v1m0 1v2m2-9v3m1 1v2m3-1v4m1-5v1m1-4v10m4-14v8m2-2v3m1-7v10m2-6v1m1 0v2m1-5v2m1-1v2m1-5v9m2-4v6m0 1v1m1-14v8m1-7v7m2-6v6m1-5v7m2-1v6m1-12v8m2-8v1m1-7v17m1-21v10m4-3v3m1-7v7m5-2v2m1-5v12m1-12v3m1 4v3m3-1v3m1-9v4m1 1v2m2-9v5m2 4v2m1-12v7m5-13v3m3 4v6m1-11v2m0 8v6m1-13v4m1-10v10m1-10v8m1-3v1m1 2v8m2-13v10m3-10v12m1-14v12m2 1v5m2-21v8m16-4v8m1-10v4m2-11v6m2-2v3m3-1v2m4-6v10m1-10v4m3 0v5m3-4v4m1-12v4m3-5v4m2-5v10m1-3v3m1-4v2m1-5v4m2-12v2m1 5v3m1-15v2m0 1v2m0 2v8m3-12v3m1 0v7m1-9v2m0 5v2m1-7v3m2-9v2m1 3v2m2-2v1m0 6v4m3-18v1m0 3v1"/><path stroke="#38ffc7" d="M148.5 210v1m1-9v5m1 2v2m2 11v5m1-13v7m1-6v3m0 1v2m1-8v2m1-2v2m1-3v1m0 4v5m2-13v5m1 1v2m0 2v1m2-6v6m1-6v2m1 5v1m5 2v4m1-6v4m1-9v8m4-6v7m2 8v2m1-9v5m1-8v5m0 4v2m1-7v5m3-12v10m1-5v5m1 1v3m2-5v2m3 6v2m1-5v1m5-2v3m2-11v11m1-6v5m1-3v10m1-6v4m2-11v8m2-12v2m1 1v2m1 7v4m1-6v9m2-6v7m2-4v1m1-2v2m2-3v5m7-5v7m5-15v1m3 5v6m1-6v6m2-6v7m1-9v9m2-1v4m3-14v11m4 0v5m2-17v3m3 6v4m1-10v2m1 1v1m2-4v1m5 9v4m1-9v2m3-10v10m3-9v12m3-9v12m2-7v10m1-5v8m1-6v3m1-3v4m1-4v1m1-4v5m4-3v4m1-4v4m1-3v4m1-7v5m4-4v4m1-10v2m2-4v7m1-2v6m15-10v7m1-5v8m1-7v7m1-6v6m1-6v3m3 0v4m3-5v2m2-3v5m1-6v5m2-5v5m1-5v4m3-13v8m3-4v8m2-5v7m1-6v7m1-7v8m3-6v7m1-7v5m2-3v2m1-5v6m2-10v8m2-1v5m1-7v4m2-8v4m1 3v1m1-8v4m1-10v11m1-9v4m8 0v5m3-4v6m3-6v5m5-4v2m0 9v2m1-16v7m2-11v1m1-6v4m1 1v10m1-9v8m5-2v5m1-10v8m1-6v6m2-9v3m1 3v1m1-6v9m1-8v6m1-3v11m1-11v7m2-9v8m1-6v4m1-8v3m0 7v2m1-6v5m1-5v3m1-14v7m1-11v7m1 2v5m4-10v11m3 0v1m1-14v8m5 11v2m1-19v3m1 3v2m4-4v9m2-17v16m1-15v1m0 8v5m1-7v2m2 4v4m1-14v2m1 2v2m2-11v14m1-13v13m1-12v11m1-8v10m2-19v15m2-11v3m1 2v1m5-8v5m2-7v7m1-4v9m1 1v4m1-17v10m1-5v4m1-2v1m4-8v4m2 2v1m1-8v9m1-10v4m2-4v11m1-11v10m1-4v3m1-14v5m2-1v2m1-6v4m8-1v2m1-6v1m1-5v3m0 7v1m1-11v2m1-5v4m3 2v4m1-2v1m1-4v2m3-15v10"/><path stroke="#48ffb7" d="M150.5 207v1m0 3v2m1-4v3m1-1v3m0 7v1m2-4v1m2-12v3m0 5v1m2 1v3m1-6v5m1 1v1m1-4v3m7-6v4m2 0v4m2-4v6m1-14v8m1 3v3m2-4v4m1 0v4m2 1v3m2 4v1m3-6v4m1-7v4m2-10v7m2-7v13m2-5v1m0 1v3m3-7v6m2-3v3m5-3v6m1-7v11m5-11v8m2-3v7m1-5v2m1-3v4m0 1v2m1-2v1m1-6v5m1-5v5m1-8v7m2-9v9m1-13v1m1 8v6m1-12v14m2-14v10m2-8v10m4-2v3m4-2v4m3-11v9m0 2v4m1-8v3m7-2v3m2-9v5m1-12v10m1 0v5m1-11v2m4 2v4m1-9v4m1 5v5m1-11v2m1 4v4m1-10v4m3-6v12m2-19v11m8 5v4m2 2v1m1-2v2m2-7v7m1-8v7m1-7v7m1-6v4m2-1v4m1-11v8m1-8v9m1-11v2m1 9v4m2-8v4m1-11v9m3-9v9m1-12v3m2-3v5m1 1v3m1-7v5m3-2v6m1-2v6m1-7v7m1-10v8m1-9v9m1-9v9m5 1v2m1-6v5m1-6v6m1-2v1m1-4v7m1-8v3m1 3v3m1-8v2m3-4v5m4-7v5m3-10v8m2-5v7m8 2v3m6-3v1m1-4v2m1-5v8m1-9v1m1-4v6m1-9v8m5-1v3m1 3v5m2-8v5m1-8v5m2-3v1m1 4v3m3-13v6m3-2v4m1 1v3m1-3v2m9-16v10m1-8v4m2 0v5m7 2v6m3-12v4m2 3v4m2-7v1m1 3v3m10-12v4m6-4v10m2-18v9m5-12v8m3-6v8m5-10v8m0 8v1m5-19v13m2-15v12m2-10v8m2 4v3m1-20v9m1 3v6m2-5v3m1-5v5m4-11v4m1-4v4m0 4v3m2-4v3m2-7v4m2-10v8m0 1v1m3-3v3m3-18v6m1 2v5m1-11v4m1 3v3m1-5v4m1-19v14m2-6v2m0 4v5m4-13v3m2-1v1m0 2v2m1-4v2m0 2v1m1-6v3m1-4v3m1-7v4m0 2v2m1 4v1m1-3v5m1-16v9m0 2v3m1-15v7m1-6v3m1 1v2m0 2v2m2-19v3"/><path stroke="#58ffa7" d="M149.5 199v1m1-5v7m1 10v5m3-10v8m1-4v2m1-3v3m1-6v2m1-3v4m2-5v10m0 2v2m1-4v1m2 0v4m1 2v1m1-8v2m3 1v5m4-14v9m1 0v7m4-11v8m1-2v3m2-2v7m2-5v7m4-5v8m2-8v6m2-5v8m1-3v1m1-4v6m1-12v6m1-9v9m2-6v9m3-13v13m5-2v5m1-6v4m1-10v3m0 6v4m1-9v1m3 4v6m1-7v6m1-9v1m0 5v8m2-11v6m2-3v4m3-11v10m2-3v6m4-5v5m1-6v4m1-10v2m1 2v9m1-3v4m1-9v6m1-6v6m1-3v5m2-9v2m3 5v3m1-5v4m1-10v1m1 2v7m1-6v7m2-9v10m6-3v3m1-9v4m1 4v4m2-9v4m2-3v4m2-2v4m1 0v4m5-21v5m2-1v9m1-12v4m2 11v5m1-11v3m2 8v2m2-6v4m1-6v5m1-9v2m3 7v2m1-5v5m1-5v2m4-8v10m1-12v11m4-11v9m2-8v6m1-13v3m1 6v4m1-10v7m2-9v11m1-11v11m1-9v6m14 2v3m1 2v2m1-6v5m1-1v3m1-8v2m1-3v5m2-4v4m1-1v1m1-4v7m3-13v4m1-9v5m1 2v3m1-8v6m1 2v3m1-8v1m1 4v4m1 2v4m1-9v7m1-6v2m1 1v1m1-3v4m1-4v5m1-8v5m4-1v3m8-15v11m1-10v9m1-2v1m1 1v5m1-7v8m0 1v3m1-14v6m4-1v5m1-9v4m1-9v9m1-9v4m1 3v2m1-5v7m1-6v3m1 0v5m1 2v3m1-12v4m1-6v3m10 8v3m2-16v5m1 1v2m2-11v8m5-6v5m4-3v7m1-13v11m3-16v13m1-3v8m1-8v5m3-7v8m2 4v1m1-24v9m1-7v9m1-9v9m1-5v10m4-10v2m1 4v4m4-3v6m3-13v1m1 0v11m2-13v6m1 1v3m1-2v5m7-19v2m1 4v1m1-4v1m1 0v10m2-6v7m2-5v5m4-2v1m3-3v1m1-14v4m2-3v9m2-7v2m3 2v3m3-10v1m1 0v4m3-7v2m2 4v1m1-17v13m2-14v14m1-2v2m1-13v9m1-1v3m1-6v4m1-8v2m0 3v1m0 1v1m1-13v4m2-5v3m2 6v4m0 5v1m2-14v1m3-12v3m0 6v6m2-9v4"/><path stroke="#68ff97" d="M149.5 200v2m1 0v4m0 2v1m1-6v1m1-2v5m0 1v1m0 6v4m1-12v7m3-13v3m1 5v3m0 1v2m1-5v4m3-6v7m0 1v1m1-4v1m1-4v2m1-5v4m1 1v3m1-2v4m1-9v11m2-9v10m5-12v7m0 9v3m2-16v9m2 3v4m3-7v5m1-9v3m3 6v3m3-14v11m3-3v8m2-2v6m2-10v4m2-1v4m3-14v16m4-14v9m2-3v4m2-3v10m1-4v3m4-2v3m5-8v5m3-12v12m2 0v5m4-5v4m2-10v10m5-4v3m1-8v3m7 5v5m2-6v6m3-16v12m1-2v5m3-4v5m3-12v10m4-6v8m3-17v9m2-2v6m1-13v5m4 9v4m1-3v3m1-7v7m0 4v1m1-5v5m1-1v2m3-9v3m1-8v7m1-8v8m1-5v6m1-4v5m1-3v3m3-5v6m5-8v3m1-7v3m6-6v6m4-4v11m5-8v6m1-4v6m1-5v6m1-6v7m1-7v7m3-4v6m5-4v3m1-7v1m1 1v1m1-4v3m2-5v5m1-8v7m6-9v9m1-4v8m2-4v6m1 2v4m1-8v2m1-5v4m1-4v2m1-6v6m1-4v1m1-4v9m1-8v4m2-1v4m1-4v4m1-9v6m1 0v1m1-12v7m3-8v9m6-3v3m1 1v2m1-5v6m1 0v1m2-9v5m3-6v8m4 0v3m2-9v3m1-8v16m1-8v2m1-17v9m1-6v11m1-10v11m2-11v6m1 1v1m1 0v11m2-15v8m1-7v4m1-3v9m2-13v4m4-2v12m1-12v4m1 2v4m1-13v1m1 7v3m1-3v1m1 5v3m1-15v4m1-9v5m2-3v9m1-9v2m0 1v6m4 1v5m1 1v2m4-17v1m2 0v6m1-8v7m2-9v10m1-11v13m8-9v11m1-12v1m1 4v1m5-8v5m4-10v8m3-7v13m7-10v9m3-3v2m1-8v5m1-11v11m2-10v3m1-5v1m0 7v3m1-14v9m3-9v12m1-12v4m1-1v1m3-6v3m0 6v3m1-12v3m2 6v3m4-22v6m2 0v3m1-2v2m1 0v3m1-6v5m1-1v1m1-7v4m2 6v3m1-10v3m3 0v4m1-13v3m1-12v4"/><path stroke="#78001e" d="M171.5 97v2m17-6v4m45 29v2m1-53v4m33 18v3m11-11v3m5 16v4m7-45v2m1 12v2m12-12v3m2 54v2m20-45v2m7-15v3m20-7v3m3 17v3m10-11v2m6 23v2m5-25v4m13 27v2m7-45v4m9 0v2m39 19v2m2-10v4m5 1v3"/><path stroke="#780a3c" d="M96.5 232v27"/><path stroke="#78ff87" d="M149.5 195v1m1 10v1m2 7v1m3-8v4m1-7v3m2-7v1m1 0v4m3 5v3m1-1v2m1-3v5m1-10v3m1 2v2m4-5v10m1-11v10m6-9v3m1 0v5m1-4v12m2-7v3m1 0v2m2-7v11m1-9v1m0 2v5m5-2v3m1-8v2m1 1v4m5-6v8m1-7v6m3-6v4m0 1v6m4-16v11m2 1v3m2-3v5m1-4v3m1-11v10m1-2v5m1-6v6m3-10v10m1-6v4m1-9v1m5-1v11m2-7v8m2-5v3m4-3v3m2 2v4m2-7v3m1 0v7m1-8v5m1-6v4m1-5v3m1-8v7m1-5v6m1-8v10m7-10v10m1 1v2m0 1v2m6-14v9m1-10v7m2 2v5m7-10v5m5 3v3m1-4v8m1-5v2m1-6v4m5-9v6m1-5v7m1-9v7m1-9v9m1-11v3m3-1v12m1-15v10m1-9v9m1-5v1m1-6v5m2 1v6m8-8v11m1-13v10m1-10v9m1-9v9m1-6v3m5 3v6m1-5v4m1-6v4m1-1v1m1-4v6m1-10v9m1-7v9m2-6v1m1-4v6m2-5v8m3-12v4m1-10v9m2-9v11m7-1v6m1-5v4m1-5v5m3-8v3m3 1v3m1-2v2m1-7v2m1-5v10m2-15v9m1-8v10m8-3v6m8-8v7m1-5v6m2 5v3m1-12v5m3-16v13m8-6v8m3-9v3m1 3v2m4-4v9m3-14v8m1-8v14m1-16v9m3-12v6m4-5v2m1 5v3m4-15v12m5-1v11m2-18v3m3-4v1m1-2v13m1-12v15m8-5v2m4-12v4m1 3v4m9-19v5m2-3v14m2-9v2m1-11v7m1-7v12m1-4v2m5-1v3m1-7v2m1-7v1m1 0v10m1-11v10m2-5v5m1-13v4m0 7v2m2-14v4m2 7v2m1-16v12m3-1v2m2-11v6m2-3v2m1-2v2m1-12v8m2-7v10m2-6v2m2 4v4m1-14v6m1-8v4m1-7v5m0 1v3m1-6v3m1-5v4m1-3v1"/><path stroke="#870000" d="M153.5 121v3m2-10v2m12-2v1m1 0v2m0 10v2m6-42v1m0 35v1m1 155v7m7-175v1m4 12v1m1-4v1m10-13v2m1 4v1m1-11v1m0 11v2m21-1v1m1-5v1m27-1v1m1-5v2m2-5v1m2-5v3m2-6v2m3 13v1m1-18v1m2 19v1m3-35v1m1 52v1m8-40v1m3 27v1m36 14v1m1-12v1m6 0v1m1 1v1m31-42v37m11-34v14m0 1v14m1-30v29m8-25v1m4-2v1m0 5v1m0 8v1m1-11v3m0 9v2m1-12v3m0 5v1m4-2v4m13 196v2m1-222v1m3-10v1m0 223v3m3-239v1m5 47v4m1-36v2m1 28v1m1-30v2m0 29v1m3-9v3m9 11v1m1 1v1m7-9v2m1-4v1m1-36v3m10 35v1m1 2v1m1-5v1m0 6v2m2 12v2m1-20v1m0 21v1m1-29v5m13 5v1m9-2v4m5-10v4m2-12v1"/><path stroke="#87ff78" d="M150.5 191v1m1 14v3m1 0v2m1-7v1m1-1v3m1-7v4m2-6v9m2-2v4m2-10v9m1-7v9m1-3v1m2 3v1m1-5v4m2-8v5m6 7v6m1-11v9m2-8v3m3-2v9m1-11v7m2 0v4m2-3v2m1-3v2m0 3v3m4-13v11m1-3v2m1-6v1m0 8v3m3-9v5m7-5v11m1-11v4m0 1v6m4-11v1m0 1v5m3-6v8m2-13v1m0 1v10m3-1v7m3-10v4m6 1v4m1-9v1m1-1v9m3-8v1m1 2v5m2-1v4m1-8v7m1-12v9m10-6v10m1-13v11m1-12v8m2-7v11m4-5v8m1-12v8m2-5v8m3-8v3m1-1v7m1-7v4m1-10v1m3 5v5m4-6v10m1-10v8m1-4v3m2-4v7m1-5v8m2-13v9m2-5v1m1-5v8m1-6v2m4-2v6m6-13v8m1 0v5m8-11v6m7 3v2m1-6v7m1-7v5m0 1v1m1-6v4m2 2v1m1-4v2m1-3v6m3-12v2m1 2v9m1-9v6m2-5v5m1-6v4m1-2v2m1-7v4m1-9v8m4-8v8m2 2v1m1-5v10m6-6v3m1-7v9m1-9v1m1 5v1m2-4v4m1-2v3m3-11v3m1-7v2m3-1v8m2-1v9m2-12v12m1-10v5m3 1v6m1-12v13m1-13v4m1-9v9m1-7v7m1-5v4m2-1v1m1 5v4m1-8v4m1-4v1m1-4v4m12-8v5m2-6v10m2-9v12m1-9v5m2-6v1m1-4v5m3-5v1m1 5v4m3-18v7m4-1v8m3 0v2m1-20v6m0 12v5m1-18v4m1-9v2m4 19v4m2-17v7m7-9v6m1 0v3m6-9v4m1-3v3m0 1v5m1-3v4m5-13v2m1 3v2m1-6v3m6-6v9m1-1v4m3-5v3m1-13v13m5-6v3m7-18v5m1 3v5m1-3v2m1-2v3m1-21v5m1 2v3m3-3v1m7-8v3m1-1v1m2 3v9m2-13v1m1 4v4m1-14v1m1-7v4"/><path stroke="#96000a" d="M161.5 96v4m26-11v4m21 24v2m8-6v2m8-2v2m34-7v3m12 14v1m1-21v4m6-51v3m20 67v4m3-72v3m2 49v3m6 10v2m6-28v3m0 31v1m12-12v3m8-19v2m16-30v2m1 11v1m2 13v2m10-21v2m3 10v2m21-7v1m2-33v2m7 41v2m0 21v1m21-19v2m2-19v4m23-5v4"/><path stroke="#970000" d="M155.5 107v1m0 11v2m0 3v1m0 2v2m1-8v5m1-1v3m1-2v9m1-11v1m0 1v2m3 4v1m1-7v3m0 150v9m1-4v2m3-173v1m0 2v2m0 4v2m1-4v2m0 2v2m5-1v1m0 157v3m1-164v1m2 160v2m1-145v1m1-14v2m0 8v2m3-17v2m1-16v3m0 4v1m0 2v3m0 9v1m0 2v1m1-25v2m0 3v10m1-9v3m0 2v3m1 5v1m1-3v1m2-3v2m1-4v1m8-7v1m0 1v1m0 4v1m0 7v2m1-23v3m0 1v1m0 2v3m0 3v2m0 8v1m1-19v2m0 4v2m2-35v1m0 44v1m1-11v1m1-3v1m3 0v2m1 4v2m1-5v5m1-4v4m4 0v1m0 1v1m1-4v3m2-2v3m0 7v1m1-51v1m0 29v2m2-13v2m1-4v2m0 8v1m1-8v2m0 1v1m0 1v8m1-8v1m0 1v1m1-14v1m1-5v1m1-4v2m1 38v2m1-42v1m1-1v2m4 29v1m0 14v2m3-14v1m1-39v1m4-22v1m0 9v2m0 46v4m5-3v3m0 9v1m1-3v2m2-61v1m0 32v2m0 16v2m1-23v3m0 21v1m1-27v4m1-9v2m0 1v4m0 1v1m1-2v1m0 2v2m0 1v1m1-9v3m0 3v1m1-14v1m0 7v5m1-3v2m0 3v3m0 23v2m1-46v2m0 15v4m1-21v2m0 1v2m0 10v2m0 2v2m1-22v3m0 15v2m1-20v1m0 36v3m1-42v2m0 6v2m0 15v1m1-25v2m0 3v1m1 14v1m0 39v2m1-38v2m1-28v2m0 24v2m0 14v1m1-44v1m0 28v1m2-30v1m4 28v2m1-30v1m2-2v1m1 28v1m1 2v1m0 10v5m2-51v1m1-14v1m2 60v2m1-2v1m1-49v1m0 37v1m0 9v1m0 1v1m1-13v2m0 8v2m1-14v2m1-39v2m0 34v2m1-1v2m3 1v1m1 1v1m1-43v3m0 34v1m1 1v1m1 1v1m1-3v1m1-1v1m10 0v1m1-43v1m0 39v1m1-1v5m1-5v3m3-3v1m1 1v1m0 9v2m1-1v2m6-10v2m5 5v2m1-2v2m1-1v3m4-15v1m1-2v1m0 11v2m1-12v1m0 10v3m1-56v1m0 39v2m1-1v1m1-42v1m1-2v4m0 38v1m1-41v1m0 39v2m1-3v3m1-2v2m3-6v3m0 11v2m8 9v4m1-31v3m1-1v1m3-2v1m1-1v2m0 11v1m1-13v1m1-1v2m1-5v2m1 12v1m1-1v3m1-1v2m1-20v3m1-4v3m0 3v1m1-32v3m0 24v1m1 2v1m1-28v1m0 24v1m0 12v2m1-39v2m0 37v1m1-43v3m0 23v1m1-27v2m0 1v2m1 16v1m1-20v1m0 20v2m1-23v3m0 3v1m0 2v13m1-22v2m0 2v1m0 12v6m1-23v1m0 17v2m1-18v1m0 12v2m0 3v1m0 17v1m1-33v5m0 2v3m0 1v2m0 17v1m1-24v4m0 19v1m1-25v5m0 42v1m2-45v2m0 1v3m1 13v1m1 1v1m0 5v4m0 9v3m1-4v3m0 158v5m1-166v3m0 160v2m4-189v2m1-1v2m2 181v1m3-176v3m0 12v2m2 1v2m1 0v1m2-31v1m1-50v1m2-8v1m0 62v2m1-16v1m0 16v1m2-17v1m1-5v3m1-1v1m1-13v1m0 4v2m0 2v8m0 10v2m1-22v5m1-6v2m0 4v1m1 21v1m1-3v2m1-9v2m4 4v2m1-64v4m0 45v2m0 9v3m1-14v3m1-1v2m1-59v10m0 43v3m1-1v3m2-8v3m1-2v1m0 14v1m0 5v1m1-12v3m1-13v8m0 2v4m1-21v2m0 1v4m0 3v1m0 9v1m1-19v7m1-3v1m0 2v2m1-14v1m0 1v1m0 29v1m2-16v3m1-2v2m0 1v1m1-8v5m1 7v1m1-1v3m0 3v4m1-23v4m1-7v2m0 11v2m1-12v1m0 18v1m1-66v3m0 40v4m1-5v3m0 5v2m2-46v1m0 37v3m0 6v3m1-13v1m0 8v6m1-9v4m0 167v3m1-181v1m0 9v2m3-6v2m2 8v2m1 2v2m1-19v2m1 3v1m2-5v7m1-4v2m1-4v1m0 6v1m1-25v1m0 7v3m2 11v2m1-5v2m1-1v1m1-4v2m1-5v5m0 2v1m3 5v4m1-19v3m1 2v2m3-16v8"/><path stroke="#97ff68" d="M149.5 196v2m1-6v3m1 1v3m1 8v1m1-3v2m1-9v6m1 0v3m1-9v3m2 0v4m2-11v11m3 3v2m1-8v2m4 4v6m8-6v3m2 5v4m4 2v1m1-12v6m2-7v7m2-4v9m2-15v15m6-12v9m1-1v4m2-5v3m8-7v9m5-9v1m3 6v10m1-10v6m2-9v10m3-3v6m2-7v7m5-10v7m1 0v4m3-6v4m1 0v2m3-10v7m1-3v9m2-8v6m9-14v3m3 5v7m4-10v3m8-5v5m1-11v6m2-1v10m2 1v6m4-5v7m2-12v1m1 0v9m2-12v9m1-8v6m2-3v1m1-6v9m1-10v3m3 5v6m1-7v5m1-12v1m5-3v12m2-10v10m1-8v7m2-13v11m1-11v11m2-7v8m1-9v3m5 4v5m3 1v2m1-5v5m1-4v4m3-6v5m5-7v5m7-14v9m3-5v6m1-4v7m3-4v11m1-10v5m1-4v5m1-4v3m1-8v6m3-8v10m4-9v6m1-9v6m4-10v9m2-3v7m2-2v11m1-18v4m2 1v4m1-1v4m2-8v2m1-6v6m6 4v4m2-7v3m3-17v7m5 2v1m1-3v10m2-10v7m1-7v7m3-9v4m1 2v1m2 6v5m3-19v5m4 0v6m1-10v9m7-5v8m1-7v7m1 0v3m3-21v9m1-6v6m1 0v3m1 0v1m3-10v3m6-7v7m1 4v5m1-12v7m1-5v9m1-13v6m1-6v10m1-4v9m1-17v13m1-4v5m3-18v9m1-10v16m1-15v14m1-13v10m2-5v6m1-1v4m3-6v7m1-15v15m4-7v4m5-15v5m1-3v10m2-17v13m1-7v3m3-8v4m1-2v3m1 4v3m0 1v2m1-10v5m2-9v3m3-15v10m2-2v13m3-18v11m1-8v8m1-5v6m2-17v12m2-4v3m3-3v9m3-14v2m0 9v3m2-21v2"/><path stroke="#a0c3ff" d="M83.5 172v1m7-43v1m0 55v1m6 35v1m27 26v1m5-19v1m9-4v1m9 0v1m2 17v1m1-50v1m9 6v1m1 25v1m19-141v1m3 17v1m0 140v1m4-166v1m1 177v1m1-35v1m8-78v1m1-9v1m0 112v1m1-90v1m1 6v1m2 99v1m1-52v1m2-102v1m1 104v1m1-85v1m0 64v1m2 10v1m3-105v1m2-25v1m0 29v1m0 76v1m0 16v1m3-136v1m1 53v1m2 116v1m2-107v1m0 107v1m2-2v1m2 42v1m1-227v1m1 138v1m1-39v1m2-49v1m2 155v1m1 32v1m3-207v1m0 174v1m1 25v1m10-89v2m4-78v1m4 15v1m1 22v1m1 97v1m1-212v1m0 87v1m0 76v1m2 64v1m1-168v1m2 178v1m8-165v1m3 73v1m4-84v1m2 1v1m2 31v1m3-23v1m1-75v1m1 100v1m3-87v1m3 85v1m1 29v1m1 52v1m1-130v1m2 0v1m1 98v1m3 14v1m2-42v1m1 84v1m1-25v1m3-152v1m0 80v1m1 55v1m1-42v1m1 125v1m2-258v1m2 99v1m0 15v1m4 97v1m2-113v1m1 67v1m1 35v1m10-63v1m5-82v1m3-28v1m0 168v1m2 8v1m2-169v1m1 13v1m0 177v1m11-227v1m7 35v1m4-44v1m0 58v1m1 6v1m5 98v1m8 1v1m1-120v1m2 40v1m1 106v1m0 9v1m1-200v1m3-5v1m0 200v1m2-41v1m1-92v1m0 41v1m1-45v1m3 31v1m0 70v1m8-149v1m1-23v1m0 193v1m2-142v1m2 77v1m2-26v1m1-101v1m4-12v1m1 25v1m1 42v1m1-46v1m3 193v1m1-11v1m1-199v1m7 96v1m2-83v1m1 75v1m4 50v1m6-99v1m3 112v1m1-65v1m6-40v1m16 17v1m5-5v1m29 89v1m1 19v1m21-6v1"/><path stroke="#a70000" d="M154.5 124v1m1-17v2m0 11v3m0 1v2m0 4v4m1-30v2m0 20v3m1-9v2m2 7v1m3-2v1m2-1v5m2-13v1m0 164v6m1-177v1m0 2v2m0 5v1m1-12v1m0 7v2m0 2v1m0 4v3m1-27v2m0 11v9m0 1v1m0 158v2m1-170v1m1 2v2m0 13v2m1-6v1m0 144v11m1-165v1m0 1v3m1-7v5m1-6v5m0 3v1m1-4v2m1-3v3m0 9v1m0 3v2m1-16v3m0 7v2m3-23v2m0 6v2m0 5v3m1-12v3m0 1v2m0 4v1m1-8v2m0 16v1m1-23v3m0 14v4m1-26v3m1 0v3m0 1v1m0 1v2m1-7v3m1 3v1m0 10v1m1-17v3m0 1v1m1-2v2m1-1v3m0 7v2m2-8v2m0 9v2m1-18v4m2-10v3m0 8v2m1-20v3m0 6v1m1-3v3m0 4v3m0 2v1m0 1v3m0 5v4m1-33v1m0 9v1m0 6v5m0 8v2m1-28v1m0 1v2m0 8v1m0 7v1m0 5v1m1-21v3m0 11v2m0 4v2m0 3v4m0 1v2m1-34v2m0 10v2m0 15v3m2-26v2m1-6v2m0 2v2m0 22v2m1-29v3m1 8v5m0 3v5m1-18v1m3 11v2m1-5v3m1-11v1m2-1v4m0 4v5m0 1v1m0 4v2m1-11v3m1-28v2m0 17v2m0 2v1m1-9v1m0 4v2m1-18v5m0 7v6m1-25v4m0 2v4m0 10v4m1-12v1m1-3v1m0 20v3m1-44v1m0 16v3m2 13v5m0 11v2m1-31v1m1-28v1m0 23v6m1-3v5m1-4v1m0 12v5m1-15v2m0 2v2m1-6v3m0 14v5m1-4v2m3-18v2m1-3v2m0 24v1m1-27v4m0 3v1m0 8v1m1-70v2m0 52v4m0 10v2m1-12v2m0 5v3m2-72v4m0 55v3m3-53v1m0 65v1m1-13v1m1-4v1m0 3v1m0 7v1m1-12v4m0 1v1m0 6v3m1-30v1m1-3v1m1-7v1m0 4v3m0 4v1m0 15v1m1-24v2m0 1v4m1-11v2m0 1v2m0 2v1m0 1v3m0 15v2m1-33v2m0 5v3m0 1v3m0 13v4m1-50v4m0 25v1m0 1v1m0 14v5m0 9v1m1-46v3m0 10v3m0 16v5m0 7v2m1-34v1m0 1v1m0 4v1m0 12v5m1-37v1m0 14v2m0 2v4m0 12v3m0 5v3m1-46v2m0 1v1m0 13v7m0 13v1m1-36v1m0 11v3m0 2v3m0 18v1m1-20v3m1-6v6m0 2v2m1-9v6m1 10v5m1-18v2m0 1v1m0 11v3m1-17v1m0 12v4m1-18v4m0 10v3m0 5v3m1-23v1m1-2v4m0 10v3m1-18v5m1-3v2m0 15v2m1-19v2m0 12v2m1-15v2m2-1v3m1-38v1m0 4v1m0 26v3m0 12v3m1-49v2m0 47v1m1-19v4m2-1v1m0 12v1m1-67v1m0 50v3m0 11v3m1-70v2m0 55v2m0 10v2m1-16v4m0 9v3m1-18v4m0 1v3m0 16v2m1-24v1m0 13v3m1-15v1m1-2v3m0 19v1m1-22v4m1-4v3m0 7v3m0 8v2m0 4v1m1-25v1m0 14v5m0 2v1m1-24v2m0 8v3m0 3v2m1-57v1m0 37v1m0 16v2m1-21v3m1-42v2m0 39v3m0 1v1m0 12v1m1-56v1m0 36v2m0 1v1m0 15v2m1-73v4m0 50v2m0 8v1m0 5v5m1-22v3m0 8v2m1-11v2m1 17v1m1-4v4m1-23v5m0 6v3m1-12v2m1-3v2m0 2v1m1-4v1m0 11v2m1-5v2m1-1v1m0 20v1m1-32v1m0 9v5m0 14v4m1-35v1m0 1v2m0 3v1m0 13v1m1-18v2m0 13v3m1-20v2m1-4v2m0 2v4m1-8v4m0 7v2m1-13v3m0 9v2m1-1v1m1 0v2m0 3v4m1-18v2m1-4v2m0 16v1m1-4v3m2-19v3m1 1v2m0 4v1m0 5v2m1-7v3m0 5v3m1-11v3m1-13v3m0 6v3m1-56v1m1-1v1m0 40v1m1 1v1m0 3v2m1 7v2m1-5v2m1-3v4m1-11v1m0 7v3m1-14v3m1-45v1m0 40v2m0 11v2m1-17v3m0 15v2m1-16v1m0 9v2m0 1v1m1-15v3m0 6v4m1-15v3m0 1v4m0 4v4m1-53v1m0 1v2m0 35v1m0 9v3m1-12v2m1-2v1m1-1v3m1-4v2m1-6v2m0 12v4m1-16v2m0 11v2m3 0v2m1-18v1m2 18v5m3-25v5m0 23v2m0 8v4m3-74v3m1 28v1m0 12v1m1-1v2m0 5v3m1-22v1m0 12v3m1-43v1m0 22v3m1-1v1m0 3v1m0 9v1m1-16v5m0 9v4m1-18v1m0 2v4m0 9v3m0 16v1m1-37v5m0 10v1m0 16v4m1-35v3m0 13v4m1-47v3m0 27v2m1-8v1m1-24v1m0 20v6m1-29v2m0 1v1m0 24v1m1 11v2m0 1v2m1-42v3m0 21v2m0 16v1m1-21v2m1-15v1m0 2v2m0 5v2m0 18v2m1-41v2m0 6v4m0 23v4m1-37v1m0 18v1m0 18v2m1-41v2m0 19v1m0 23v2m1-48v3m0 3v1m0 14v2m0 12v1m0 9v3m1-14v2m0 10v4m1-35v1m0 4v1m0 15v3m0 4v5m1-70v1m0 26v5m0 6v6m0 14v3m0 8v3m1-42v2m0 6v6m0 33v3m1-79v1m0 36v3m0 41v2m0 153v5m1-243v11m0 28v1m0 3v2m0 21v1m1-64v2m0 35v3m0 22v3m0 172v1m1-198v1m0 13v1m0 1v1m0 8v2m1-67v1m0 53v4m0 6v2m0 4v1m1-8v3m0 10v3m1-27v2m0 9v3m0 173v1m1-186v2m0 22v7m1-32v2m0 17v1m1-22v3m1-2v3m1-4v4m0 6v2m1-11v3m0 9v1m1-15v4m1 0v1m1-40v2m0 44v1m0 10v1m1-9v6m0 159v3m1-167v5m1-23v3m0 14v4m0 11v1m1-34v5m0 16v2m0 3v5m0 6v1m1-39v3m0 1v1m0 16v3m2-25v3m1-4v4m0 10v3m0 10v4m1-32v5m0 10v1m1-34v2m0 17v2m0 11v4m0 4v2m1-27v3m0 1v5m0 12v1m0 6v1m2-32v3m0 2v3m0 11v2m1-12v1m0 7v2m0 2v1m0 10v3m0 151v1m1-196v1m0 12v2m0 10v6m0 10v6m1-38v2m0 3v3m0 12v2m1-47v1m0 41v4m0 4v1m0 4v5m1-20v4m0 11v2m0 3v5m1-21v1m0 3v7m0 3v1m1-7v3m2-18v5m0 11v1m0 3v4m1-24v4m0 2v1m1-7v3m0 9v3m0 8v7m1-29v3m0 2v1m0 3v7m1-14v1m0 5v4m1-14v2m0 6v5m1-11v1m0 1v1m0 7v2m0 11v1m1-66v1m0 47v4m1-4v5m0 11v1m1-60v4m0 27v5m0 5v4m0 12v4m1-18v6m0 8v1m1-12v1m1-15v1m0 3v3m0 2v2m0 3v2m0 3v3m1-22v7m0 10v3m1-26v3m0 18v4m1-30v1m0 1v7m0 20v1m1-12v4m0 2v1m0 3v3m0 152v1m1 1v4m1-153v7m1-13v1m1-5v3m0 4v3m1-23v3m0 21v1m1-22v1m0 4v6m0 9v1m1-23v1m0 10v3m1-20v1m0 2v1m0 11v1m1-3v4m0 7v2m1-23v3m0 1v1m0 5v3m1-15v6m0 1v2m0 4v2m0 5v4m1-26v2m0 6v3m0 4v2m0 1v1m1-1v1m1-26v4m3 11v4m0 6v5m1-14v4m1-4v6m1-8v5m0 1v2m1-9v4m0 7v3m1-13v4m1 4v2m1-12v8m1 1v3m1-14v3m0 1v1m0 9v1m1-15v3m0 2v1m0 5v1m1-2v7m1-26v2m0 1v1m0 1v7m0 165v2m2-163v8m1-8v1m1-3v2m1-2v2m4-4v3m0 4v4m1-13v2m0 5v4m2-16v2m0 7v3m1-11v3"/><path stroke="#a7ff58" d="M150.5 187v1m1 2v1m0 1v1m1 1v3m1-1v3m0 3v2m3-7v1m1-5v2m1 1v1m1-3v2m0 1v2m3-1v3m1-8v6m0 5v3m1-3v3m1 2v2m1-8v4m1-7v4m2-5v11m3-7v6m1-12v6m4-2v7m2-5v3m3-5v15m0 3v1m2-8v3m2-5v4m0 5v3m5-11v7m1-9v7m0 1v4m1-10v5m1-2v5m2-11v10m2-10v9m1-5v2m0 1v3m6-8v1m2 2v4m1 4v5m1-8v9m2-13v6m1-13v2m1 3v15m5-15v10m1-2v3m0 1v2m1-11v9m2-13v12m2-7v1m0 3v8m4-9v8m1-2v2m1-5v5m1-3v1m1-4v8m4-9v2m1 5v6m2-12v9m1-9v5m1-4v6m2-2v6m6-13v2m0 1v1m2 5v3m0 1v4m3-10v3m1-7v3m1-1v4m1-6v3m1 5v3m3-13v3m1-9v7m1 0v5m3-8v9m1-7v11m5-6v6m1-3v5m1-11v1m1-1v1m3-2v7m1-5v6m2-3v5m1-14v12m6-10v8m4-10v12m3-4v4m3-11v7m2 0v5m1-11v5m3 2v5m6-1v3m1-2v3m1-5v4m3-4v5m1-11v4m1-2v6m2 0v1m1-4v3m1-4v6m1-10v5m2-12v9m2-8v8m4 3v1m1 0v10m1-13v3m3-2v5m2-8v5m1 1v2m3-6v6m1-5v7m5-13v4m1-10v4m6 5v5m3 0v6m4-11v2m1-5v7m1-6v8m1-6v7m2 6v3m2-13v3m3-12v4m1-9v12m1-6v7m4 2v2m3-5v1m1-4v7m5-6v5m1-8v8m0 1v1m7-15v8m10-16v11m4 6v2m1-11v13m1-7v2m1-7v2m1 4v2m4-14v17m1-6v8m4-7v5m2-15v5m4-5v1m1 6v5m4-8v1m3-14v11m1-11v17m3-11v4m2 0v8m3-10v9m2-13v12m1-6v4m2-7v8m2-16v7m1-4v8m1-8v4m5-7v3m2-6v12m2-19v1m1 1v13m6-9v4m1-14v12m2-1v2m2-3v7m0 2v2m3-15v2m0 3v2m2-11v3m0 8v1m1-11v5m1-10v1m0 2v4"/><path stroke="#a00" d="M172.5 291v1m1-5v1m0 1v1m2-2v2m0 3v1m1-6v3m0 2v2m1-1v1m0 1v1m1-13v1m0 5v1m0 4v1m1-16v1m0 6v1m0 4v1m0 1v1m0 1v1m1-7v1m1-5v1m0 3v1m0 5v3m1-6v1m0 3v1m1-15v1m0 9v1m1-3v1m0 4v1m1 5v1m1-11v1m0 1v3m0 3v1m0 2v1m1-4v2m2-2v1m1-1v1m1-2v1m0 1v1m2 0v1m2-10v1m0 3v1m0 1v1m1-3v1m0 2v1m0 5v1m1-7v1m0 5v1m1-9v1m1 6v1m1-1v1m0 2v1m1-8v2m2-3v1m1 8v1m1 1v1m1-5v2m0 3v2m1 0v1m1-9v1m1-5v1m1-6v1m0 3v1m1 3v2m0 1v1m1-2v2m0 2v1m1-10v1m0 7v1m1-5v2m2-3v1m1 9v1m1-3v1m1-6v1m1 1v2m2-4v1m0 4v1m1-5v1m0 1v1m0 3v1m1-2v2m2-2v2m1 2v1m1-1v1m1-3v1m16-1v2m0 2v1m1-2v1m2-3v1m0 1v3m1-1v1m51 21v3m1-3v1m2-3v1m45-23v1m0 3v1m1-3v2m1 0v1m1-1v1m3-3v1m1-3v1m1 2v2m39-14v1m0 1v1m1 4v1m2-6v3m1-8v1m0 4v3m1-8v1m0 1v1m0 1v1m1-7v1m0 3v1m0 2v1m1-13v1m0 3v1m0 6v1m1-7v1m0 2v2m1-3v1m0 2v1m1-12v3m0 3v1m0 1v1m1-1v1m1-7v3m0 9v1m1-7v1m0 1v1m0 1v1m0 1v1m1-11v2m2-3v1m1 7v1m2-2v1m1-5v1m0 3v1m1-12v1m0 2v1m0 1v1m1-4v1m0 7v1m0 2v1m1-8v1m1 3v1m1-6v1m0 6v1m1-15v1m0 3v1m2-4v1m0 2v1m1 0v2m0 3v1m1-7v1m0 5v1m1-2v1m1 0v1m0 1v3m1-16v1m0 11v1m1-10v2m0 5v1m1-13v1m0 1v1m1-7v1m0 2v2m0 2v1m0 1v1m1 8v2m1-19v1m0 7v1m0 2v1m0 1v1m1-2v2m1-3v3m1-7v2m1-3v1m0 1v1m2-3v1m0 2v2m1-13v2m0 10v1m1-12v1m0 1v1m0 1v3m0 2v1m1-3v1m0 2v1m1-9v2m0 3v1m0 1v1m1 1v2m2-1v1m0 1v1m12-7v1m4-9v1"/><path stroke="#af0505" d="M176.5 89v3m2 13v3m4-19v3m2-2v2m6 33v1m9-18v3m4-16v4m2-4v2m5 21v4m23-5v2m41 3v3m6-16v3m3-32v2m12-22v2m15 15v4m4 13v4m5 27v3m11-8v4m29-38v2m5 25v4m12-52v1m0 1v2m11 25v4m20 6v4m7-10v2m2-17v3m27-1v3"/><path stroke="#b0baec" d="M260.5 113v9m4-23v10m17-4v15m3-9v14m14-13v13m0 1v2m7-33v12m25-16v14m1 2v15m1-14v19m2-14v12m1-31v13m4-13v24m1-16v10m4-12v12m13-5v10m12-9v21"/><path stroke="#b70000" d="M153.5 127v3m1-13v6m0 3v1m0 2v2m1-21v1m1 19v10m1-3v4m1-3v1m4-13v3m0 1v2m0 2v3m1-13v1m0 4v5m1-8v3m1 157v3m1-166v2m1-5v2m0 4v1m0 1v2m0 8v1m2 152v3m1-171v5m0 5v3m0 145v10m1-14v14m2-167v1m0 2v1m3-1v1m0 5v3m1-6v4m0 2v1m0 4v2m2-12v1m1 11v4m1-26v1m0 8v3m0 4v8m1-24v3m0 3v1m1-17v1m0 13v2m0 4v3m0 9v2m1-19v7m0 14v4m1-30v7m0 2v2m0 10v6m2-23v4m0 11v2m1-16v2m0 8v3m0 3v2m0 6v1m1-25v1m0 1v1m0 2v2m0 3v5m0 1v2m1-12v2m0 4v7m1-19v1m0 12v6m1-15v1m0 2v3m0 2v1m1-12v4m1-45v1m0 43v2m0 6v5m1-17v9m1-38v1m0 39v1m1-21v1m0 1v3m0 2v4m0 5v5m1-13v2m0 4v1m1-8v3m1-6v3m0 1v1m0 2v1m0 2v5m0 8v4m1-14v3m0 15v1m1-29v4m0 17v2m1-25v1m0 1v5m0 12v9m0 1v4m1-33v5m0 4v1m0 18v6m1-31v2m0 2v1m1-3v2m0 14v1m1-14v4m0 14v3m1-20v2m0 1v1m0 4v4m0 4v1m1-18v1m0 7v3m1-13v6m0 2v9m1-18v8m0 4v3m1-12v4m0 2v1m0 5v3m0 7v8m1-27v3m0 3v2m1 0v5m0 3v3m1-17v4m0 5v1m0 4v1m1 1v1m1-34v2m0 2v2m0 16v6m1-30v6m0 4v1m0 5v4m1-28v1m0 6v5m0 26v1m1-24v2m0 4v1m0 9v7m0 1v1m1-25v2m0 8v7m0 3v2m1-26v4m0 1v2m0 7v2m0 7v2m1-21v1m0 19v5m1-27v3m0 2v1m0 30v2m1-38v5m0 15v2m0 8v1m1-28v5m0 10v2m0 3v4m0 3v3m1-28v4m1-43v1m0 40v4m0 6v6m1-18v6m0 16v2m1-24v1m0 2v2m0 14v6m1-21v1m0 24v2m1-7v5m0 159v3m2-180v1m0 2v4m1-12v4m0 20v1m1-27v2m0 21v1m1-22v3m0 11v2m0 4v2m1-77v1m0 55v2m0 17v2m1-23v2m0 10v2m1-16v1m0 4v2m0 7v1m0 2v5m1-18v3m0 11v1m1-14v1m0 2v1m1-4v5m0 19v1m1-26v3m0 1v1m1-3v4m0 5v4m0 9v1m1-42v2m0 14v3m0 9v2m0 8v2m1-33v1m0 14v2m0 7v1m1-65v1m0 34v2m0 15v5m0 4v6m0 8v2m1-44v3m0 35v5m1-42v2m0 3v2m0 14v2m0 10v3m1-37v1m0 4v3m0 11v2m0 8v5m0 8v4m1-40v1m0 16v2m0 17v1m1-39v3m0 14v4m0 6v3m1-33v1m0 1v2m0 17v4m0 1v3m0 2v3m1-30v5m0 24v2m1-30v2m0 21v4m1-24v3m0 20v7m1-51v1m0 35v2m0 2v3m1-42v2m0 12v2m0 3v2m0 13v3m0 4v1m1-40v2m0 17v2m0 9v2m0 8v2m0 10v3m0 1v1m1-38v2m0 18v3m1-22v1m0 19v4m1-27v6m0 12v5m0 11v1m1-33v1m0 1v2m0 12v3m1-19v4m0 1v1m0 10v2m0 6v1m0 4v2m1-29v4m0 10v1m0 7v1m1-24v1m0 11v1m0 1v4m0 3v1m0 1v1m1-22v4m0 9v1m0 5v2m1 2v2m1-26v2m0 11v2m1-1v2m0 6v2m1-23v2m0 8v3m0 3v2m1-21v5m0 4v1m0 9v1m0 7v2m1-24v1m0 7v5m0 11v2m1-29v2m0 13v2m0 12v3m1-32v2m0 14v3m1-18v3m0 11v2m1-17v2m0 12v2m1-18v2m0 1v4m0 9v4m1-66v14m0 35v4m0 1v2m0 7v4m1-65v2m0 48v3m1-49v1m0 45v3m1-1v2m0 5v1m0 1v2m0 7v2m1-25v1m0 2v3m1-4v2m0 8v3m0 5v4m1-21v5m0 5v5m0 5v2m1-20v3m0 5v7m0 1v5m0 5v1m1-28v3m0 7v6m0 1v1m0 2v1m1-20v3m0 16v1m0 2v2m0 2v3m1-29v2m0 14v3m1-21v1m0 1v4m0 4v2m0 6v1m1-19v4m0 12v5m1-19v1m0 14v2m0 2v5m0 1v3m1-68v1m0 39v3m0 14v5m1-22v3m0 6v3m0 1v1m0 5v6m1-25v1m0 9v2m0 4v2m1-17v2m0 5v8m1-16v1m0 7v5m0 4v1m0 1v3m1-22v2m0 7v1m0 9v1m0 3v1m1-23v3m0 6v3m1-13v4m0 8v1m1-14v2m0 1v1m0 12v1m1-17v3m0 24v2m1-28v4m0 5v3m0 13v4m1-20v3m1-78v1m0 64v1m1-3v1m0 2v3m0 1v2m0 3v4m0 5v3m1-19v2m0 3v4m0 7v2m0 6v1m1-27v6m0 4v1m0 6v4m0 6v3m1-32v2m0 4v1m0 3v1m0 19v1m1-13v4m1-21v1m0 10v2m1-14v4m0 8v1m0 7v2m1-19v2m0 9v1m0 6v3m1-24v3m0 10v4m0 1v5m1-20v2m0 7v2m0 4v1m0 8v4m1-22v4m0 16v1m1-29v3m0 6v4m0 2v5m0 7v3m1-28v3m0 4v7m0 3v1m0 8v1m1-24v2m0 3v5m0 2v6m1-25v7m0 1v1m0 6v2m1-16v4m0 1v3m1-4v2m0 7v3m0 3v4m1-21v3m0 13v3m0 1v4m1-27v8m0 4v2m1-12v3m0 2v1m0 4v4m1-12v1m1-1v1m0 8v4m1-3v4m1-14v1m0 16v2m1-20v1m0 13v6m1-22v2m0 11v3m1-16v1m0 12v1m1-15v1m0 1v2m0 9v1m0 1v9m1-11v4m1-16v1m0 5v1m0 6v4m0 4v3m1-63v1m0 2v1m0 35v5m0 7v4m1-14v3m0 7v2m0 2v4m1-19v2m0 12v3m1-15v2m1-8v2m0 2v4m0 6v3m1-17v5m0 1v2m0 18v4m1-68v4m0 36v1m0 5v1m0 6v2m0 4v2m0 5v1m1-24v4m0 5v5m0 2v1m0 3v5m1-78v1m0 45v3m0 12v4m0 176v1m1-196v4m0 8v1m0 1v3m0 9v1m1-25v2m0 9v2m1-15v5m0 18v1m0 7v1m1-31v1m0 23v1m0 4v5m1-33v4m0 13v1m0 1v8m0 2v2m1-31v5m0 12v5m0 4v2m1-25v2m0 7v1m0 12v1m0 2v1m0 6v1m1-38v3m0 25v2m0 12v3m1-44v2m1-2v2m0 9v4m0 4v1m1-21v4m0 9v4m0 11v2m1-58v1m0 27v2m0 12v1m1-14v2m0 13v2m0 4v4m1-56v3m0 28v4m0 7v5m0 7v1m1-77v3m0 48v3m0 11v6m0 3v2m0 7v2m1-37v1m0 5v2m0 11v2m1-19v2m0 4v2m0 10v1m1-3v3m0 2v1m1 14v1m1-61v2m0 20v3m0 3v3m0 6v4m1-19v4m0 26v4m0 1v3m1-35v3m0 7v4m0 5v9m1-34v3m0 2v2m0 11v4m1-1v3m0 11v6m0 3v1m1-40v6m0 7v3m0 1v2m0 14v1m0 162v2m1-200v4m0 2v1m0 8v4m0 1v7m1-30v6m0 11v1m0 17v1m1-55v2m0 18v5m0 12v4m0 6v1m1-44v2m0 14v3m0 9v5m0 9v1m1-26v1m0 14v1m0 9v1m1-30v2m0 2v2m0 11v4m0 10v5m1-68v4m0 25v3m0 1v4m0 1v4m0 9v2m0 11v1m0 1v1m1-36v2m0 1v3m0 15v3m0 6v1m0 1v2m0 2v1m1-16v3m0 3v2m1-25v3m0 11v5m0 2v1m1-25v4m0 4v1m0 17v1m0 2v3m0 6v3m1-71v2m0 1v1m0 51v3m0 167v6m1-238v1m0 39v2m0 21v2m0 3v1m0 167v2m1-173v6m0 164v2m1-187v2m0 6v2m0 4v3m0 7v4m1-80v3m0 49v4m0 15v2m0 6v3m1-28v3m0 9v8m0 3v5m1-16v1m0 1v7m0 1v1m1-26v2m0 2v4m0 1v12m0 2v4m1-94v1m0 69v4m0 5v5m0 7v1m1-21v4m0 18v3m1-25v3m0 17v5m1-17v1m0 13v2m1-25v3m0 7v1m0 11v1m0 1v5m0 151v1m1-180v3m0 1v6m0 3v3m0 2v3m0 1v9m1-37v4m0 9v2m0 2v5m0 7v3m1-32v5m0 8v2m0 8v2m1-27v6m0 5v1m0 19v4m1-32v1m0 6v6m0 11v2m1-12v2m0 3v2m0 6v2m0 2v2m1-33v3m0 19v1m0 3v3m0 2v1m1-35v2m0 2v1m0 1v2m0 15v1m0 8v2m1-25v5m2-14v3m0 9v6m0 1v3m0 11v1m1-11v7m1-20v3m0 3v4m0 4v5m1-21v1m0 6v1m0 1v4m0 2v1m1-43v2m0 17v1m0 20v4m1-26v2m0 10v10m0 3v2m1-31v2m0 1v3m0 3v1m0 8v1m1-23v2m0 4v1m0 24v5m1-37v4m0 2v2m0 18v3m1-7v1m0 2v4m0 2v3m1-19v1m0 13v1m0 14v2m1-27v2m0 2v3m0 7v1m0 2v3m0 6v1m1-33v3m0 24v1m1-25v2m0 6v3m1-12v2m1-3v4m0 15v1m1-74v1m0 68v1m0 6v7m1-30v1m0 3v2m0 13v3m1-23v1m0 10v1m0 9v3m1-23v1m0 4v4m0 17v3m2-35v5m0 21v1m1-11v3m0 1v5m0 4v3m2-26v1m0 5v2m0 10v5m1-31v2m0 2v2m0 8v2m0 13v3m1-22v5m0 3v1m0 3v10m1-32v2m0 9v1m1-12v1m0 3v1m0 16v1m1-20v1m0 5v1m0 15v7m1-14v3m0 11v2m1-23v1m0 4v6m1-10v2m0 1v1m1-8v5m0 8v1m1-14v2m0 3v1m0 6v1m0 6v2m1-19v2m0 10v6m1-25v3m0 1v2m0 7v1m0 7v8m1-25v3m0 6v2m0 6v1m1-64v1m0 45v2m0 11v1m0 1v2m1-12v1m0 14v3m1-23v1m1-3v2m0 9v1m0 4v2m0 1v7m1-31v1m0 1v2m1-8v8m0 1v1m0 6v7m0 3v4m1-32v6m0 12v2m0 14v2m1-15v1m1-5v3m0 2v1m0 5v1m1-8v2m0 3v1m1-5v1m1-3v1m1 4v1m1-15v1m1 0v1m0 2v2m0 1v1m1-1v7m0 3v2m2-15v7m0 1v5m1-16v1m0 4v1m0 2v2m1-15v8m1-14v1m0 1v1m1 14v4m3-7v2m0 3v3m1-7v7m2-7v3m1-9v6m0 1v4m1-5v2m2-6v7m1-12v6m1-3v9"/><path stroke="#b7ff48" d="M150.5 184v1m0 4v2m1-7v3m0 1v1m0 10v4m2-10v1m4-7v3m0 5v3m1-9v6m1 4v2m2-5v3m1-7v6m1 1v5m1-8v3m1-5v5m2 5v4m3-12v12m1-9v7m1-9v6m1 0v7m1-18v16m2-8v8m2-9v12m1-5v6m1-13v8m4 4v1m2 2v3m2-9v6m3-8v2m2 8v6m1-15v7m3-2v7m3-9v7m1-12v9m3 0v5m1-8v4m1-10v5m1 7v2m1-6v1m0 2v5m2-6v5m6-2v5m3-14v11m2-5v6m4 3v2m1-5v2m5-3v4m2-1v4m10-12v11m2-9v1m2 3v4m1-10v3m1 5v3m1-8v8m1-6v5m0 1v2m0 3v1m1-6v2m5-3v2m1-6v6m2-7v9m1-15v6m3-7v11m5-1v5m1-3v7m5-9v5m1-11v5m1 1v3m1-7v2m5-8v14m1-11v15m1-14v13m1-6v5m1-13v10m2-7v4m1-9v12m4-3v2m1-6v6m6-1v4m1-10v10m1-5v5m2-4v5m1-6v7m1-8v8m1-7v8m1-6v7m2-5v4m1-4v2m1-5v7m1-3v4m2-5v4m1-9v3m1 3v1m1-3v5m1-7v4m7-10v5m6-1v2m0 1v5m1-4v5m1-7v3m1-8v8m1-4v1m1-3v8m1-9v5m2-4v5m2-3v3m1-8v5m1-6v9m1-6v2m1-8v7m7-4v7m1 3v1m1-3v6m1-7v2m0 1v2m1-10v8m2-12v9m1-8v8m6 0v6m1-6v2m1-10v13m6-15v11m2 5v4m2-13v2m1-5v7m1-6v3m1-2v1m1-4v10m3 1v5m1-18v5m1-1v1m1-4v12m4-9v2m2-5v1m1-4v12m6-4v10m5-13v6m1-7v4m0 7v2m2-16v6m2-9v11m1-4v4m13-10v8m1-7v9m5-12v6m2-9v7m1 0v6m6-13v3m3-4v3m5-2v1m4 1v3m1-4v5m1-11v2m0 5v4m3-8v3m1 0v3m2-10v1m3-9v4m1 7v2m3-12v3m5-8v9m1-6v4m1-2v8m3-11v4m1-14v1m1-1v3"/><path stroke="#c70000" d="M154.5 123v1m0 9v3m1-7v2m2 1v5m1-2v3m0 1v3m2-36v1m1 23v3m1-8v1m0 7v1m0 146v1m0 1v4m2-148v3m1-8v4m0 152v1m1-168v1m0 2v1m0 3v1m0 4v6m1-16v1m0 2v1m0 4v6m1-9v2m0 3v7m1-12v1m0 1v6m1-9v2m0 1v2m1-1v1m0 4v2m1-10v3m0 4v3m1-6v2m0 10v3m1-19v9m0 5v5m1-20v3m0 5v9m1-15v3m0 5v3m2-9v5m1-5v1m2-13v1m0 3v2m0 10v1m1-2v14m1-20v2m0 3v8m0 4v6m1-17v1m0 8v3m1-18v1m0 4v3m1-8v1m1 1v2m0 18v4m0 136v9m1-169v4m0 5v2m0 4v4m1-21v2m0 10v1m1-14v4m1 3v2m1 2v6m0 3v5m1-20v3m1-4v5m0 6v3m1-8v3m1-16v1m0 7v4m0 2v3m0 6v2m1-20v1m0 9v2m0 1v6m1-19v1m0 15v3m1-22v1m1-4v1m0 1v2m0 2v1m0 9v3m0 12v2m1-31v2m1 7v9m1-9v6m0 14v2m1-28v2m0 4v1m1-6v4m0 9v1m0 1v1m0 7v2m1-6v2m1-11v3m1-44v2m0 47v6m1-23v5m0 5v4m0 2v5m2-15v1m0 6v5m1-15v2m0 1v2m1-3v2m0 3v6m1-15v9m0 5v3m1-3v3m1-24v1m0 7v2m0 1v2m1 12v4m0 6v3m1-41v4m0 2v1m0 24v7m1-35v3m0 14v3m1-20v2m0 4v1m0 5v2m1-13v2m0 3v1m0 13v5m1-24v3m0 6v3m0 12v2m1-28v4m0 27v9m1-40v2m0 1v2m0 15v1m0 4v1m0 1v6m1-31v5m0 16v2m0 5v3m1-16v3m0 5v2m0 4v2m1-27v2m0 5v6m0 3v1m0 4v4m1-23v1m0 13v5m1-26v1m1 9v2m0 4v4m0 6v1m1-21v6m0 12v6m0 160v1m1-179v6m0 4v3m1-10v1m0 5v3m0 2v2m1-24v8m0 7v3m0 15v2m1-68v2m0 42v2m0 4v7m0 6v1m1-61v1m0 32v2m0 1v3m0 9v1m0 7v3m1-22v2m0 7v1m0 2v4m0 2v4m1-23v5m0 8v1m0 5v5m1-24v5m0 9v4m0 6v1m1-24v3m0 5v2m1-10v3m0 2v6m0 1v7m1-20v2m0 13v3m1-14v2m0 4v1m0 13v1m0 3v2m1-29v1m0 1v6m0 3v2m0 8v8m1-43v2m0 27v4m0 3v1m1-41v3m0 15v5m0 5v4m0 6v6m1-47v2m0 4v2m0 13v1m0 17v7m1-41v4m0 16v3m1-24v7m0 11v7m0 2v4m0 1v3m0 5v5m1-45v2m0 3v3m0 17v6m0 8v2m1-23v7m0 6v4m0 8v3m1-42v2m0 23v4m0 3v1m0 8v1m1-42v1m0 5v1m0 11v2m0 10v6m1-38v6m0 15v1m0 3v1m1-8v5m0 4v2m0 2v8m1-36v3m0 12v6m0 4v2m0 2v7m1-20v5m0 13v1m0 1v1m1-35v4m0 12v2m0 6v1m0 2v3m0 1v2m1-33v5m0 12v3m0 1v5m0 3v2m1-29v3m0 8v4m0 6v3m1-22v3m0 7v3m0 6v2m0 9v3m1-35v5m0 12v2m0 4v4m0 5v1m1-31v3m0 14v5m0 7v3m1-32v4m0 11v1m0 5v3m0 8v1m1-33v1m0 13v3m0 4v3m0 3v1m0 1v4m1-31v1m0 8v1m0 1v3m0 3v1m0 11v1m1-34v3m0 18v1m0 3v2m0 1v1m0 5v1m1-20v4m0 10v5m1-33v6m0 8v1m0 6v2m0 2v4m1-28v3m0 21v6m1-32v6m0 18v3m1-24v1m0 10v3m0 2v3m0 2v4m0 6v1m1-32v4m0 8v2m0 1v1m0 12v4m1-31v1m0 11v3m0 2v2m0 6v2m0 4v1m1-34v3m0 12v3m0 15v2m1-35v4m0 19v4m0 3v2m1-17v2m0 5v5m0 5v1m1-33v3m0 11v3m0 1v1m0 3v1m0 6v1m1-26v1m0 2v2m0 7v2m1-15v1m0 2v1m0 26v2m1-30v3m0 6v3m0 13v4m1-79v1m0 49v4m0 14v2m0 8v2m1-29v1m1-2v1m0 9v1m0 6v4m0 4v6m1-33v7m0 4v3m0 6v2m1-18v2m0 15v2m0 5v4m1-28v1m0 3v1m0 14v1m0 4v4m0 3v1m1-33v3m0 10v1m0 4v1m0 9v2m1-29v3m0 6v2m0 6v1m0 3v1m0 4v3m1-30v3m0 6v3m0 5v2m0 1v1m0 1v2m0 2v3m1-27v2m0 4v2m0 5v7m0 2v5m1-29v3m0 4v4m0 6v5m1-22v2m0 13v2m0 12v1m1-29v2m0 5v4m0 8v4m0 1v2m1-26v2m0 7v1m1-12v2m0 9v2m0 4v3m0 1v1m1-2v1m0 4v3m1-28v2m0 24v3m0 3v6m1-37v4m0 4v5m0 5v1m0 4v4m1-25v1m0 8v2m0 1v4m0 4v6m1-26v3m0 6v1m0 4v1m0 4v1m0 2v3m1-26v3m0 7v2m0 1v7m0 5v3m0 2v3m1-34v2m0 8v5m0 1v2m0 2v2m0 4v2m1-18v4m0 13v3m1-31v3m0 1v2m0 5v4m0 4v5m1-25v3m0 1v2m0 7v5m0 3v3m1-18v1m0 6v2m0 11v3m1-25v2m0 5v3m0 6v6m0 1v3m1-19v1m0 9v6m1-22v3m0 1v3m0 6v7m1-25v6m0 3v5m0 6v1m0 4v1m1-26v3m0 9v1m0 7v3m1-21v4m0 5v3m0 6v4m1-24v1m0 2v3m0 7v2m0 7v6m0 3v2m1-24v2m0 16v3m1-18v2m0 4v5m0 1v1m1-24v5m0 5v3m0 3v3m1-18v4m0 6v2m0 9v1m1-20v1m0 10v1m0 3v4m1-1v2m1-20v1m0 1v1m0 7v3m0 3v3m1-21v1m0 3v1m0 5v5m0 3v5m0 3v2m1-26v2m0 8v2m0 6v1m0 3v6m1-29v3m0 3v5m0 5v1m0 4v6m1-8v5m1-22v2m0 12v2m1-19v5m0 6v4m0 2v2m1-19v5m0 7v2m0 4v2m0 5v2m1-28v6m0 20v5m1-30v5m0 13v2m1-21v3m1-4v4m0 13v7m1-25v3m0 14v7m1-22v3m1-4v4m0 10v4m1-15v1m0 12v1m1-14v2m0 9v6m1-17v1m0 8v2m0 4v2m0 4v4m1-27v2m0 13v2m0 10v2m1-17v2m0 1v6m0 6v1m1-26v2m0 7v2m0 7v4m1-25v1m0 2v2m0 6v5m1-18v4m0 2v2m0 6v2m0 4v2m0 11v1m1-38v6m0 14v2m0 9v8m0 158v1m1-196v4m0 12v1m0 6v1m0 2v1m1-26v5m0 10v5m0 13v1m1-34v3m0 8v5m0 2v3m0 8v3m0 155v1m1-187v2m0 12v1m0 4v3m0 5v3m1-33v7m0 10v1m1-14v2m0 12v1m0 8v2m0 2v1m1-4v5m1-28v3m0 21v1m1-29v3m0 3v2m0 3v4m0 5v1m0 6v1m0 9v2m1-39v3m0 8v3m0 4v1m0 5v8m1-32v5m0 8v4m0 1v5m0 1v6m1-29v4m0 9v2m0 2v4m1-23v3m0 10v3m0 4v6m1-59v3m0 31v3m0 12v3m0 5v2m0 6v5m1-22v4m0 4v7m1-37v1m0 7v3m0 13v1m0 6v5m1-27v4m0 9v1m0 11v4m1-27v2m0 9v3m0 8v3m0 2v3m1-35v1m0 8v1m0 6v2m0 1v2m0 2v4m0 4v3m1-35v1m0 11v1m0 4v4m0 173v3m1-182v1m0 1v6m0 2v5m1-23v2m0 1v7m0 2v2m0 13v3m0 156v2m1-182v2m0 12v2m1-29v4m0 11v2m0 3v3m0 1v3m0 5v4m1-18v5m0 11v3m1-20v4m0 3v4m0 4v5m1-49v2m0 10v2m0 2v1m0 10v1m0 9v5m0 1v1m0 2v7m1-59v2m0 15v5m0 9v5m0 2v1m0 8v6m1-36v4m0 19v3m0 6v12m1-46v5m0 12v4m0 3v6m0 4v8m1-43v2m0 25v1m1-27v3m0 12v2m0 6v2m0 5v2m0 2v2m1-37v1m0 4v1m0 10v3m0 7v1m0 1v1m0 1v1m0 3v2m0 161v2m1-199v2m0 29v1m1-34v5m0 15v3m0 5v3m1-28v1m0 15v2m0 176v4m1-200v4m0 9v6m0 4v2m0 3v5m1-34v5m0 8v8m0 4v2m0 3v2m0 1v3m1-38v2m0 2v3m0 8v4m0 1v2m0 5v1m0 3v6m1-36v5m0 11v1m0 19v4m0 1v6m0 2v1m1-78v3m0 43v1m0 2v1m0 8v2m0 7v5m1-29v6m0 4v3m1-12v2m0 16v2m0 5v5m1-31v5m0 6v1m0 17v4m1-2v3m1-32v3m0 13v1m0 1v5m1-20v1m0 1v8m0 1v2m1-16v3m0 2v6m0 15v2m1-31v3m0 22v4m1-27v2m0 9v1m1-19v4m0 17v2m0 3v1m1-24v4m0 7v2m0 9v3m0 152v7m1-183v3m0 4v1m0 12v7m1-24v1m0 1v5m1 4v6m0 2v2m0 2v4m1-33v4m0 8v1m0 7v1m0 7v2m1-28v2m0 2v8m0 4v3m0 7v2m0 1v4m1-37v2m0 1v1m0 2v6m0 20v2m1-36v7m0 12v11m0 1v7m1-38v5m0 22v5m0 3v3m1-35v5m0 18v6m1-34v4m0 11v4m0 2v4m0 7v2m1-23v1m0 4v2m0 7v1m1-30v8m0 1v1m0 20v1m1-28v3m0 10v3m0 4v4m1-20v1m0 24v1m1-30v1m0 3v3m0 7v2m0 1v7m0 9v1m1-33v4m0 9v11m1-28v2m0 14v4m0 10v5m1-21v4m0 17v8m1-28v3m0 16v2m0 146v2m1-174v5m0 10v4m0 6v6m1-29v7m0 2v5m1-7v1m0 6v1m0 6v1m1-20v3m0 3v6m0 6v1m0 1v7m1-27v2m0 6v4m0 13v4m1-32v2m0 3v1m0 7v1m0 4v3m1-21v2m0 7v8m1-19v5m0 6v5m1-2v1m1-19v7m0 6v1m0 4v15m1-27v3m0 8v3m0 2v2m0 2v4m1-26v3m0 5v2m1-17v6m0 1v2m0 12v5m0 1v5m1-24v1m1-1v2m0 7v3m1-12v1m0 5v3m1-14v5m0 3v5m0 4v9m1-29v2m0 8v7m0 8v7m1-20v2m0 2v2m0 3v2m1-14v7m0 3v4m0 4v3m1-19v3m0 6v5m0 10v2m1-29v2m0 2v1m0 8v2m0 8v3m1-20v1m0 5v3m1-15v3m0 3v1m0 4v2m1-14v1m0 2v1m0 16v7m1-27v5m1-9v2m0 3v1m0 1v2m0 4v5m0 2v9m1-25v4m0 4v3m0 6v7m1-23v2m0 4v11m1-17v3m0 3v2m0 7v5m1-12v3m1-17v4m0 8v1m0 4v2m1-17v1m1-6v5m0 12v9m1-15v3m0 9v5m1-6v5m0 1v1m1-18v3m0 159v4m1-164v1m1-4v1m0 6v4m1-13v7m0 8v3m1-14v1m1-7v1m1 18v1m0 1v1m1-18v2m0 8v4m2-17v3m2-6v8m0 5v3m2-2v3m1-12v9m1 0v2m6-14v3m0 7v3"/><path stroke="#c7ff38" d="M150.5 179v3m1 22v2m1-17v2m0 6v5m1-11v1m0 7v3m1-9v5m1-9v11m3-3v3m3-13v9m3 3v3m1-3v7m1-8v5m2-10v5m7-3v7m0 1v1m0 1v5m2-14v3m3 8v5m1-12v10m2-1v2m1-6v6m1-4v3m2-5v3m1-9v9m2 0v4m1-4v3m1-7v1m5-2v9m2-12v12m1-8v6m1 4v6m1-13v12m1-10v10m1-11v6m2-4v3m1-7v5m3-3v7m2-6v6m1-14v1m3 7v9m7-1v5m1-12v2m1 5v6m4-5v6m1-5v3m3-6v7m1-4v3m1-7v6m1-7v4m0 4v3m1-5v7m1-4v3m2-7v2m1-7v8m1-2v6m3-8v4m1-9v2m2 3v4m1-10v3m2 4v1m1-6v4m1 4v2m2 1v2m12-12v1m1 8v4m3-3v7m1-18v11m1-3v5m1-4v5m2-6v3m1-8v6m2-4v4m1-10v11m11-11v3m2 0v5m6-2v4m5 2v1m1-4v2m5 0v6m1-4v1m1-4v4m3-5v5m3-5v6m3-6v5m2-12v8m2-10v7m3 2v2m1-6v8m1-6v8m4-5v3m1-7v5m6-9v6m1-2v8m1-9v5m3-9v6m3 0v3m1-7v9m1-5v10m4-10v7m1-5v3m1 1v1m2-13v9m3-6v4m2-1v4m1-3v12m1-10v10m1-12v3m1-4v4m3-16v10m2-2v3m4 5v2m1-9v6m1-7v5m2-6v4m2-4v2m1 4v5m1-9v12m4-15v2m1-4v15m1-13v11m1-10v1m5-3v13m1-12v10m2-6v4m1-4v8m4-20v7m1-3v8m4-5v1m3-5v9m1-11v14m1-14v15m3-12v5m2-5v5m3 2v5m10-13v7m1-2v4m4-14v3m2-1v8m2-15v13m1-10v10m2-12v12m3-9v7m1-1v1m1-10v3m3-6v4m2-1v1m1-5v13m4-22v1m1-4v12m0 6v3m4-15v13m1-17v15m1-11v3m1 4v2m1-12v3m0 2v6m3-13v11m2 0v2m2 0v1m1-3v2m1-11v1m0 7v4m1-17v8"/><path stroke="#c80000" d="M174.5 285v1m0 2v1m0 3v1m0 1v1m1-5v1m2-1v1m0 2v1m1-12v1m0 5v1m0 4v1m1-9v1m0 2v1m0 2v1m1 3v1m0 2v2m1-8v1m0 8v1m1-6v1m1-12v1m0 3v2m0 1v1m0 2v1m1-3v2m0 2v1m1 2v1m1-4v2m1 5v1m1-8v2m1 4v1m3-2v3m1-2v3m1-7v2m1-3v1m0 1v1m1-2v1m0 3v1m0 3v1m2-19v1m0 1v2m0 2v1m0 1v1m0 1v1m1-4v1m0 2v1m1 3v1m0 2v1m2-3v1m0 1v3m1-4v1m0 1v1m2 0v3m0 1v1m1-7v1m0 2v1m1-1v1m1 1v1m1-9v2m0 2v3m1-14v1m0 3v1m1-3v1m0 5v1m0 2v1m0 1v1m1-8v1m0 6v1m3 1v2m1-5v1m0 1v1m1-2v1m0 1v1m1-7v1m0 8v1m1-10v1m0 3v1m1 2v1m1-3v1m0 1v1m0 4v1m1-11v1m0 1v1m0 5v1m0 1v1m1-10v1m1 3v1m0 3v1m2 1v1m1-3v1m1-1v1m16 6v1m2-3v1m1-5v2m0 1v1m55 23v1m1-6v2m44-22v1m4 4v1m1-4v1m0 1v3m2-4v1m2-6v1m0 1v2m1-1v1m0 1v1m1-4v1m37-11v1m0 1v1m4-3v3m0 3v1m1-11v1m1 8v1m1-19v1m0 1v1m0 4v1m0 2v2m1-2v1m0 4v1m1-9v1m0 1v2m1-5v1m0 3v1m1-4v4m1-1v2m1-2v1m0 5v1m1-13v1m0 4v1m0 1v1m0 1v1m1-7v1m0 1v1m1-5v1m0 2v1m1 0v1m0 3v1m0 2v1m0 1v1m1-9v1m1-3v1m0 1v2m0 3v1m1-1v1m1-10v1m0 2v1m1-8v2m1-6v1m0 6v1m1-1v1m0 1v1m1 0v1m0 3v1m1-14v1m0 8v2m1-8v1m0 2v1m0 4v1m1-6v1m2 0v2m1-10v1m0 2v3m0 2v1m0 3v1m2-10v1m0 6v1m0 1v1m2-10v1m0 2v1m1-11v2m0 7v2m1-2v1m0 2v1m0 1v1m1-6v1m1-2v1m2-12v1m0 8v1m1-2v1m1 0v1m0 5v3m1-7v1m1-4v1m0 5v2m1-6v1m2-4v1m1-1v1m0 1v1m1 3v1m0 3v1m14-12v3m2-7v1m0 1v1"/><path stroke="#c8140a" d="M176.5 117v3m4-12v4m32-26v4m1-7v2m16-16v2m6 14v2m21 8v2m11 26v3m11-43v4m3 35v2m15-10v2m21-46v1m0 1v2m5 44v6m2-3v3m7-1v3m1-69v4m10 13v4m16-19v3m11-2v3m18 8v2m9 16v2m1 8v4m2-29v4m2 37v3m1-39v4m9 16v3m9-20v3m8 35v2m9-25v3m29 21v3"/><path stroke="#c81e1e" d="M270.5 49v12"/><path stroke="#d70000" d="M153.5 124v3m0 5v1m1-8v1m0 5v2m0 6v3m1-3v4m5-19v11m1-9v4m0 3v4m2 2v4m1-9v4m2-10v1m0 1v2m1 10v6m4-19v3m0 12v3m1-8v6m1-14v2m0 5v7m1-7v5m1-11v4m1 5v7m1-14v2m0 1v2m2-6v9m1-7v7m0 8v3m1-25v2m1 23v2m2-19v4m1-8v2m0 3v5m1-9v1m1-5v2m0 4v1m0 1v1m0 6v7m1-22v2m0 13v2m0 5v5m2-19v1m0 9v2m1-19v5m1-4v2m0 3v2m1-2v3m1-2v1m1 3v7m0 1v3m0 1v3m1-33v2m0 1v1m0 1v2m0 13v1m0 1v3m0 7v1m1-28v2m0 8v2m0 11v1m0 2v3m1-16v1m0 7v3m1-24v2m0 5v8m0 2v5m1-14v1m0 1v2m0 12v3m1-27v2m0 12v1m0 2v3m1-20v4m1 25v2m1-22v10m1-8v4m1-14v3m0 12v4m0 3v8m1-25v1m0 16v2m1-18v4m0 4v4m0 9v6m1-26v2m0 8v1m0 5v3m1-10v4m3-2v7m2-2v3m1-32v2m0 3v2m0 8v2m0 4v6m1-26v6m0 4v1m0 2v2m0 7v2m0 7v5m1-33v1m0 10v7m0 15v3m1-35v2m0 8v4m0 3v1m0 1v5m0 2v4m1-31v2m0 1v1m0 17v5m1-25v2m0 20v5m1-26v1m0 1v1m0 6v4m0 5v3m1-32v2m0 8v2m0 11v2m0 9v2m0 12v3m1-40v4m0 4v7m0 1v2m0 12v5m1-33v2m0 1v2m1-7v2m0 1v2m0 14v1m0 5v1m1-20v2m0 7v2m0 1v1m0 7v5m1-16v2m0 5v3m0 6v3m1-31v5m0 5v6m0 2v3m0 4v4m1-28v2m0 3v2m0 21v3m1-23v3m0 13v2m1-29v7m0 18v12m1-36v2m0 8v5m0 11v1m1-20v2m0 19v2m1-19v4m0 7v3m1-22v1m0 3v3m0 1v5m0 1v3m0 9v7m1-29v4m0 16v1m1-14v3m0 1v3m0 8v6m1-21v1m0 9v3m0 3v7m1-29v4m0 8v3m0 2v7m1-24v2m0 14v7m1-24v4m0 13v1m0 1v7m1-4v3m1-19v2m0 3v8m0 8v5m1-31v4m0 5v3m0 4v2m0 2v2m1-40v1m0 3v2m0 23v3m1-36v3m0 4v2m0 14v4m1-20v3m0 23v8m0 2v2m1-36v4m0 38v1m0 1v1m1-44v2m0 11v3m0 10v4m0 8v4m1-45v2m0 2v1m0 15v1m1-20v2m0 14v5m0 16v2m1-40v3m0 1v1m0 14v1m0 1v1m0 13v4m1-12v8m0 1v2m1-36v5m1-4v6m0 18v2m1-25v4m0 24v1m0 6v5m0 2v2m1-42v4m0 13v3m0 2v1m0 9v2m0 1v6m1-40v4m0 24v10m1-38v1m0 1v4m0 7v2m0 6v3m1-4v7m1-25v4m1-4v1m0 18v6m1-24v3m0 9v2m0 1v2m0 3v7m1-29v3m0 12v2m0 9v1m1-8v5m1-24v2m0 11v3m0 3v2m0 4v5m1-15v1m0 2v4m1-18v1m0 7v6m0 9v1m0 1v1m1-29v2m0 10v2m0 1v2m0 2v2m0 8v2m1-30v1m0 20v5m1-28v5m0 22v3m0 1v3m1-30v3m0 8v3m0 5v4m0 4v10m1-40v5m0 9v2m0 12v2m0 2v3m0 1v2m1-38v3m0 13v7m0 4v3m0 2v1m1-19v5m0 10v2m1-32v3m0 12v4m1-18v3m0 5v1m0 5v1m0 12v4m1-31v1m0 1v2m0 11v3m0 12v2m1-28v3m0 7v4m0 2v3m0 5v2m1-25v2m0 7v2m0 7v2m0 1v1m1-21v1m0 4v2m0 2v2m0 5v4m1-22v3m0 5v3m0 6v5m1-23v3m0 7v3m1-9v1m0 6v2m0 6v9m1-25v2m0 6v4m0 5v4m0 5v1m1-28v3m0 14v1m0 9v3m1-29v1m0 18v2m0 3v1m1-24v1m0 18v1m0 6v1m1-28v2m0 14v1m0 1v1m0 7v2m1-27v1m0 5v2m0 17v1m1-19v1m0 13v4m1-21v4m0 10v1m0 3v3m1-26v3m0 18v1m1-22v2m0 18v8m1-30v3m0 15v1m0 1v2m0 6v5m1-33v4m0 9v1m0 6v3m0 8v2m1-33v1m0 9v4m0 5v5m1-21v1m0 17v1m1-20v2m0 8v1m0 16v2m1-27v3m0 4v3m0 12v8m1-31v4m0 13v5m1-24v3m0 10v1m0 6v2m0 4v7m1-33v3m0 9v3m0 3v3m0 7v2m0 1v1m1-32v1m0 2v1m0 8v2m0 1v1m1-17v1m0 2v2m0 16v2m1-19v2m0 6v2m0 4v5m0 3v5m1-28v1m0 23v7m1-31v3m0 3v4m0 14v3m1-21v3m0 14v1m1-24v1m0 14v4m0 1v7m1-30v4m0 6v3m0 7v4m1-21v1m0 7v3m0 12v2m1-25v2m1-5v6m0 6v1m0 5v5m0 7v4m1-34v1m0 10v2m0 7v1m0 5v7m1-30v1m0 13v4m0 4v5m1-26v1m0 11v4m0 1v2m0 3v4m1-28v3m0 8v2m0 5v3m0 2v3m1-25v2m0 16v4m1-21v2m0 14v3m0 4v2m1-25v1m0 22v3m1-27v2m0 13v1m1-8v2m0 14v1m1-26v2m0 4v3m0 3v5m0 5v7m1-21v3m0 11v3m1-23v1m0 15v5m0 1v2m1-24v1m0 8v2m0 16v1m1-20v2m0 6v1m0 8v6m1-31v1m0 3v2m0 9v2m0 6v5m1-31v4m0 12v2m0 5v3m1-26v1m0 19v1m0 2v2m1-27v5m0 7v2m0 13v4m1-29v3m0 14v6m0 3v4m1-30v1m0 13v5m0 6v8m1-32v2m0 8v1m0 1v2m0 3v3m0 2v2m1-24v1m0 14v5m1-21v2m0 14v4m0 4v2m1-27v2m0 14v5m0 6v1m0 1v6m1-35v1m0 11v1m0 6v5m0 2v1m0 3v4m1-32v1m0 8v6m0 6v5m0 1v1m1-28v2m0 9v4m0 5v3m1-26v1m0 11v2m0 4v1m0 3v7m1-27v2m0 11v2m0 17v2m1-38v3m0 1v1m0 1v2m0 5v4m0 11v3m1-29v1m0 17v4m0 7v1m0 151v1m0 1v5m1-190v5m0 8v2m0 14v2m1-31v6m0 7v2m0 13v4m1-30v4m0 13v4m0 5v3m1-30v2m0 24v9m1-36v1m0 27v1m0 2v1m1-29v1m0 4v6m0 1v1m0 1v3m0 5v3m1-29v3m0 2v3m0 6v2m0 2v4m0 3v6m0 2v1m1-34v5m0 6v4m0 1v4m0 11v5m1-34v3m0 22v5m1-30v4m0 7v2m0 9v1m1-26v4m0 9v1m0 9v10m1-32v1m0 21v4m1-27v5m0 11v2m0 11v5m1-33v2m0 12v2m0 2v2m0 12v2m1-22v3m0 1v7m0 4v5m1-30v2m0 12v6m0 11v1m1-38v3m0 3v2m0 12v2m0 11v3m1-36v3m0 16v3m0 11v2m1-21v1m0 6v1m1-24v7m0 10v2m0 2v5m0 4v1m1-29v4m0 1v1m0 7v3m0 11v6m1-31v4m0 15v1m0 3v2m1-27v5m0 10v1m0 5v1m0 1v2m1-20v3m0 11v3m0 4v3m1-28v1m0 1v5m0 22v2m1-30v4m0 10v2m0 2v5m0 8v4m1-36v2m0 10v5m0 5v6m1-27v2m0 5v1m0 7v1m0 7v3m1-32v2m0 11v4m0 6v2m0 1v8m1-18v3m1-15v2m0 11v3m0 9v3m0 2v8m1-42v3m0 13v1m0 9v2m0 2v1m0 3v3m1-10v7m1-34v6m0 12v11m0 4v6m1-37v6m0 8v3m0 17v3m1-34v1m0 17v1m0 4v1m0 3v4m1-35v4m0 8v1m0 8v2m0 8v3m1-23v3m0 12v1m0 7v1m0 6v2m1-45v4m0 9v1m0 4v1m0 21v1m0 5v2m1-31v1m0 6v2m0 11v5m1-28v4m0 24v1m1-23v1m0 11v1m1-19v1m0 18v9m1-26v2m0 6v5m1-15v2m0 19v5m1-5v4m1-26v1m0 3v1m0 2v9m1-15v3m0 3v3m0 1v1m1-49v3m0 34v1m0 6v1m1-49v1m0 39v1m0 13v1m1-15v1m0 12v2m0 9v5m1-33v4m0 13v6m0 6v2m1-33v6m1 9v1m1 19v1m1-26v4m0 6v8m1-2v1m1-18v9m0 10v3m1-17v1m0 19v4m2-41v3m0 17v2m1-21v1m0 1v1m0 4v3m0 9v2m0 2v5m1-29v5m0 7v2m0 10v3m0 1v10m1-35v1m1 22v3m1-28v3m0 2v1m2-9v1m1 20v2m0 1v5m0 3v3m2-11v6m0 7v4m1-32v5m0 5v2m0 5v2m0 1v1m2 2v2m1-25v2m0 12v1m0 13v2m1-12v10m1-17v4m1-18v3m0 6v3m0 1v7m0 1v3m1-16v4m1-15v3m0 8v3m1-15v2m0 26v6m1-33v1m1 9v9m0 5v6m1-13v5m0 3v7m2-30v2m0 21v1m1-30v1m0 1v1m0 17v3m1-25v1m0 14v1m1 7v4m0 8v3m1-13v1m1-12v5m0 4v8m2-19v2m1 3v3m0 17v1m1-20v4m1-13v1m1-24v1m2 24v1m1-4v1m0 21v3m1-27v2m0 8v3m0 9v4m1-30v1m1 9v4m1-2v2m0 3v3m1-10v2m0 15v2m1-12v4m1-10v1m1-1v1m1 6v2m1-14v1m0 1v1m0 1v11m0 5v3m1-22v1m0 4v11m1-8v3m3-6v8m1-14v2m0 9v3m1-11v5m2 6v2m1-5v2m1-12v3m0 8v1m1-5v1m1-11v2m0 1v2m3 3v9m2-11v2m1-6v7m2-12v2"/><path stroke="#d70a0a" d="M171.5 291v1m0 1v1m1-2v2m1-8v1m1 6v1m0 1v2m3-8v1m0 2v1m0 2v1m0 1v1m1-15v1m0 1v3m0 8v2m1-15v2m1 9v1m1-11v2m0 5v1m0 2v2m0 4v1m1-3v2m0 3v1m1-6v1m1-7v1m1 3v1m0 1v2m1-7v1m0 5v1m2 1v1m2-1v1m2-2v2m0 3v1m1-5v1m1-4v1m0 8v1m1-14v3m1 1v1m0 5v1m1-6v1m0 4v2m1-10v1m1 0v2m0 2v1m1 2v1m1 0v1m2-3v1m0 4v1m1-5v1m0 2v1m1-3v1m1 5v1m1-2v1m0 1v2m1-9v1m0 6v1m2-15v1m0 3v1m0 2v1m0 1v2m2-6v3m0 4v1m1-6v1m1-1v1m0 3v1m2-4v1m1 5v1m0 1v1m1-11v1m0 4v1m1-6v1m0 2v1m0 6v1m1-2v1m1 0v1m0 1v1m1-6v1m1-2v1m0 5v1m1-4v1m2 2v2m2-1v1m16 4v1m1-5v1m0 2v1m2-3v1m0 2v1m1-5v1m53 25v1m3-6v1m43-19v1m3 0v1m1 2v1m2-5v1m1-2v1m1 1v1m1-2v1m1-1v1m40-11v1m0 1v1m0 2v1m1-8v1m0 1v1m2-6v1m0 5v1m1-5v1m0 1v1m0 4v1m1-17v1m0 5v1m0 3v2m1-4v1m0 5v1m1-10v1m0 4v1m0 1v1m0 2v1m1-12v1m0 6v1m1-9v1m0 7v1m1-11v1m1 9v1m0 3v1m1-13v1m0 5v1m0 1v1m1-9v1m0 1v1m1-7v2m0 5v4m0 2v1m2-7v1m0 1v1m0 4v1m1-11v1m0 5v1m0 1v1m1-5v2m1-9v1m0 8v1m1-7v1m0 4v1m0 2v1m1-11v1m0 2v1m0 1v2m1-7v1m0 3v1m0 1v1m1-2v2m0 4v1m1-18v1m0 3v2m0 6v1m1-10v1m0 6v1m1-9v1m0 2v1m0 4v1m0 1v2m2-3v1m1-6v1m0 7v1m1-2v1m1-12v1m0 1v3m1 0v2m0 1v1m0 1v1m1-11v1m0 1v1m1-11v1m0 6v1m0 5v2m1-2v1m0 4v1m1-16v1m0 8v1m2 5v1m1-18v2m0 2v1m0 1v1m1-5v2m0 1v1m1 3v1m2-7v2m0 3v1m0 5v1m1-12v1m0 7v1m1 0v1m3-4v2m1 4v1m1-3v1m12-11v1m0 3v1m3-10v1"/><path stroke="#d7e1fa" d="M90.5 149v1m16 81v1m0 29v1m5-19v1m2-20v1m12 23v1m4-7v1m24 32v1m6-5v1m1-97v1m0 6v1m2 98v1m8-152v1m1-16v1m0 90v1m2 50v1m1-107v1m0 28v1m6-11v1m2 29v1m1-77v1m0 159v1m4-123v1m3-82v1m2 15v1m3 167v1m1 0v1m3-53v1m1-97v1m1-40v1m2 143v1m5-146v1m0 8v1m0 45v1m3 106v1m1-133v1m0 192v1m6-126v1m1 46v1m5-146v1m1 92v1m1-41v1m4 183v1m1-135v1m1-53v1m0 110v1m0 38v1m1-120v1m4 147v1m2-197v1m8 100v1m2 7v1m0 16v1m2-113v1m0 98v1m4-133v1m0 174v1m1 46v1m3-158v1m3-87v1m1 3v1m4 63v1m0 14v1m2 4v1m1-66v1m2 235v1m1-145v1m1-92v1m2 235v1m11-249v1m2 237v1m4-228v1m0 160v1m0 47v1m1-218v1m0 30v1m1 144v1m0 69v1m3-209v1m2 59v1m1-32v1m0 142v1m6-63v1m3-143v1m2 176v1m1-150v1m1 154v1m3-206v1m1 54v1m0 55v1m6 148v1m3-180v1m1-69v1m0 3v1m0 29v1m1 5v1m2 186v1m2-29v1m3-160v1m0 125v1m0 42v1m3-155v1m0 12v1m0 153v1m4-117v1m7-117v1m1 10v1m1 126v1m4 35v1m0 7v1m2-56v1m3-87v1m1-7v1m2-45v1m0 144v1m3 72v1m1-58v1m1-126v1m0 74v1m1 7v1m1-28v1m1-4v1m4-89v1m0 109v1m0 69v1m1-112v1m1 12v1m2 35v1m3-88v1m2 50v1m4 3v1m4-88v1m1 117v1m0 113v1m4-70v1m3 16v1m6 11v1m1-46v1m2-122v1m0 97v1m4 69v1m2 47v1m1-40v1m0 6v1m7-110v1m1-72v1m1 127v1m2-148v1m3 206v1m1-132v1m0 42v1m0 94v1m4-164v1m1 110v1m2-48v1m1 22v1m2-94v1m2-41v1m1 86v1m3-38v1m2-40v1m2 87v1m2-88v1m0 3v1m2 33v1m6-3v1m1 57v1m0 65v1m1-64v1m1 33v1m1-10v1m2 54v1m1-141v1m0 88v1m9-48v1m0 54v1m8 29v1m3-23v1m10 28v1m29-5v1m2-14v1"/><path stroke="#d7ff28" d="M150.5 188v1m1 2v1m2-4v1m0 5v2m1-6v1m3-11v4m0 6v3m1-8v4m0 6v1m1-11v9m0 2v1m1-8v5m4-8v5m3 3v3m1 1v5m9-4v2m1-6v1m5 5v3m0 2v1m2-6v6m1-4v7m1-2v5m3-15v10m2-3v4m3-3v4m12 1v2m1-5v1m0 5v2m1-5v7m2-11v6m3 0v7m1-9v9m2-7v4m4-4v2m2-11v13m1 0v3m1-7v2m1 0v6m1-4v3m2-5v2m1 1v1m1-4v5m1-4v5m4-3v2m2 0v3m1-4v2m1-5v3m2-1v2m2 0v5m2-10v4m1-9v3m2 2v4m1-10v9m1-6v7m1 3v4m2-9v6m2-3v4m1-6v4m2-3v10m6-16v4m13 0v2m1-7v7m2-7v11m3-16v3m1 0v2m3 3v4m1-9v9m4 2v2m1-6v6m2-14v10m1-12v12m1-8v7m1-6v7m1-8v11m3-1v2m1-5v7m1-4v1m1-5v6m1-9v8m1-5v6m1-2v4m2-3v4m2-9v7m1-6v10m2-14v9m1-7v6m2 0v4m1-5v3m2-4v3m4-8v2m1-6v7m5 5v3m1-9v5m1-3v4m4-5v3m7-11v7m4-5v8m2-3v3m1-7v17m1-10v3m1-11v5m1 0v3m1 1v1m1-3v5m1-12v7m5-4v7m6-8v2m1-6v6m7 1v6m3-8v3m4-3v6m4-13v11m4-3v9m1-13v7m1-11v7m1-6v7m4 0v7m1-1v3m2-21v11m1-15v13m1-13v7m4 14v3m0 2v1m3-16v5m7-8v2m0 5v4m1-12v11m1-3v5m1-18v7m1-4v11m3-7v10m14-17v4m0 7v3m2-6v3m3-15v5m2-2v3m1-5v9m2 0v1m1-18v9m2-1v3m2-7v4m3-8v13m2-8v9m1-17v1m0 3v4m8-5v1m3-8v3m4 1v3m2-6v5m3-6v3"/><path stroke="#e70000" d="M153.5 133v1m1-7v2m1 6v4m1 7v5m1-8v4m1 0v4m1-20v3m0 3v3m2-3v2m1 1v4m1-10v5m2 3v4m1-20v2m1 2v2m0 7v3m1 2v6m1-13v8m1-9v3m1 2v3m1-12v3m1 0v3m1 12v1m0 1v2m1-9v6m1-15v2m0 10v5m1-8v8m3-25v1m0 18v3m2 6v1m1-2v3m1-25v2m0 19v4m1-10v8m1-26v3m0 1v2m0 2v7m1-12v2m0 4v1m0 2v2m2-11v3m0 8v5m1-15v3m0 8v2m1-2v3m0 9v4m1-16v1m0 7v3m1-17v1m0 4v6m1-4v15m1-26v3m0 10v1m0 7v4m1-22v1m0 3v1m0 7v5m1-6v2m1-14v4m0 11v10m1-12v3m0 1v7m1-13v4m0 10v4m1-27v3m0 13v5m1-28v1m0 14v3m0 3v1m1-25v6m1-3v2m0 2v1m0 10v3m0 6v5m1-27v1m0 11v5m1-19v4m0 2v1m0 1v2m0 6v1m3-4v1m1-12v2m0 13v9m1-23v2m0 1v1m0 11v6m1-11v6m2 1v8m1-5v9m1-42v1m0 3v2m0 22v1m0 1v2m1-24v4m0 15v1m0 4v1m1-26v2m0 14v8m1-23v2m0 20v2m0 8v2m1-32v1m0 20v11m1-32v1m0 7v3m0 13v10m1-36v1m0 21v6m1-28v6m0 1v2m0 9v4m0 2v1m1-22v3m0 28v3m1-34v1m0 9v4m0 10v7m1-7v7m1-32v3m0 8v1m0 4v3m0 9v7m1-34v5m0 18v4m1-7v4m1-20v1m0 14v5m0 3v1m1-2v8m2-34v7m0 9v2m0 2v4m0 1v2m0 1v10m1-24v9m0 5v1m1-5v2m0 1v4m1-13v2m0 5v2m1 1v4m1-25v3m0 23v4m1-24v2m0 10v1m0 1v1m0 7v3m1-8v1m2-22v2m1-3v4m0 1v12m2-34v3m1 0v2m0 24v1m0 8v3m1-45v1m0 5v3m0 19v6m0 7v7m1-41v3m0 13v1m0 18v4m1-36v1m1-2v1m0 30v3m0 6v3m1-45v1m0 26v4m1-31v2m0 18v1m0 4v3m0 4v3m1-18v1m0 5v3m1-21v1m1-2v3m1-1v1m0 32v3m1-37v4m0 19v1m0 3v1m0 1v2m1-29v1m0 1v1m0 14v1m0 7v3m1-10v3m1-12v1m0 11v4m0 3v1m1-30v6m0 4v3m0 12v1m0 8v3m1-33v2m0 16v3m0 3v7m1-34v3m0 25v1m1-15v1m0 12v1m0 1v3m0 2v3m1-36v2m0 12v1m0 4v1m0 8v3m1-33v3m0 26v10m1-41v1m0 31v3m1-33v6m0 15v3m0 14v2m1-38v1m0 22v1m0 8v1m1-33v4m0 21v2m1-27v3m0 6v6m0 10v5m1-28v2m0 11v2m0 4v3m0 8v6m1-23v3m1-2v4m0 4v2m0 3v1m1-29v3m0 9v1m0 7v1m0 9v3m1-35v3m0 15v1m0 4v3m0 8v5m1-38v3m0 13v1m0 5v5m1-26v4m0 9v3m0 2v5m1-20v1m0 12v1m1-2v1m2-6v2m1 19v2m1-30v1m0 9v1m0 1v1m0 4v4m1 4v2m1-25v1m1 7v1m0 7v3m1-5v2m0 3v3m0 3v8m1-33v2m2-2v1m0 16v2m1-21v2m0 17v3m1-23v3m0 25v4m1-27v1m0 4v1m0 14v7m1-29v1m1-2v2m0 6v2m0 9v6m1-14v1m0 4v1m1-19v3m1 0v2m0 12v2m0 6v7m1-16v4m0 6v2m0 2v5m1-29v2m0 5v1m0 1v1m0 1v1m0 2v2m0 11v6m1-33v1m0 20v2m0 3v8m1-37v3m0 10v2m1-3v3m0 12v1m0 1v4m1-22v1m0 6v4m0 1v7m1-19v3m0 5v1m0 4v5m1-2v3m1-23v1m0 22v2m1-30v1m0 23v7m1-25v3m0 7v3m0 2v9m1-25v2m0 17v6m1-23v3m0 8v2m0 1v5m1-18v1m0 6v5m0 2v6m1-4v1m1-8v1m0 3v3m1-29v6m0 28v3m1-8v4m1-31v1m1 19v1m0 4v6m1-9v5m1 0v4m1-29v1m0 8v3m0 5v3m1-12v1m0 6v3m0 6v6m1-7v6m1-23v3m1 4v6m0 3v9m1-22v1m0 3v2m0 8v5m1-18v2m0 2v3m0 4v1m1-6v3m0 11v1m1-26v5m0 6v4m0 7v2m1-29v4m0 10v5m0 5v8m1-35v2m0 7v3m0 12v3m1-25v1m0 15v5m1-21v1m1-3v1m0 17v2m1 0v2m0 3v4m1-28v1m0 22v3m1-26v3m0 21v6m1-12v3m0 4v1m1-28v4m0 22v3m1-27v3m0 11v1m0 4v1m0 7v1m1-14v1m0 7v10m1-17v2m0 9v2m1-28v3m0 10v1m1-17v1m0 1v1m0 11v1m0 5v4m0 4v3m1-31v2m0 27v7m1-34v1m0 12v8m0 5v2m1-27v1m0 8v1m0 6v2m0 8v6m1-32v1m0 24v4m1-32v5m1-7v4m1-1v2m0 8v1m1-4v2m0 17v1m1-27v3m0 12v1m0 8v2m1-26v1m0 14v1m1-2v3m0 3v5m0 1v7m1-35v2m0 27v3m1-34v5m0 9v1m0 17v4m1-20v1m0 8v1m1-25v1m0 24v5m0 2v6m1-38v2m0 28v1m1-19v2m0 9v1m0 4v2m0 2v6m1-41v3m0 30v10m1-43v2m0 17v7m0 6v1m1-33v6m0 13v1m0 5v2m0 4v9m1-36v1m1-4v1m0 1v1m0 26v4m1-31v1m0 9v2m0 9v3m1-25v2m0 18v1m0 10v2m1-36v3m0 30v5m1-19v2m0 16v2m1-35v2m0 11v1m0 17v8m1-42v2m0 36v6m1-47v2m0 14v1m0 11v1m1-31v4m0 11v3m0 14v6m1-38v4m0 25v2m0 2v13m1-42v2m1-5v3m0 1v1m0 23v3m0 3v7m1-43v5m0 28v6m1-1v4m1-13v1m1-30v4m0 1v3m0 15v2m0 10v5m1-10v1m0 7v7m1-46v8m1-35v2m0 30v1m0 34v5m2-17v1m0 13v1m1-28v4m0 10v1m0 13v5m1 0v3m2-35v1m1 6v6m1-16v3m0 12v1m1-5v2m0 11v9m1-26v2m0 18v7m1-10v8m1-33v3m0 25v1m1-23v1m0 19v2m1-23v1m1 20v7m1-36v2m0 8v1m0 21v4m1-8v4m1-33v2m0 5v2m1-11v1m0 16v1m1-15v2m0 12v4m0 6v1m0 1v4m1-36v6m0 24v2m1-30v2m0 23v1m1-25v3m0 4v3m0 15v1m1-3v1m1-27v2m0 23v4m2-26v2m0 20v2m1-31v8m0 23v7m1-40v3m0 1v4m2 7v2m0 11v2m0 14v3m1-14v1m0 1v5m1-7v7m1-12v2m1-6v3m1-3v2m0 11v3m0 5v2m1-34v1m0 15v1m1 0v12m2-32v2m0 28v4m1-11v2m2-17v3m0 11v8m1-4v2m2-7v9m1-8v3m0 1v1m1-32v5m0 7v2m0 13v1m1-31v5m0 23v7m1-5v3m1 4v3m2-31v3m1 14v4m3-20v1m0 22v2m1-18v1m1 8v8m2-7v1m1-6v4m1-11v3m1-16v3m0 18v1m1-22v5m1 17v1m0 1v1m1-14v3m0 13v1m1-17v4m1 1v3m3-12v1m2 2v5m1 4v4m1-2v1m1-9v2m2-18v6m0 7v9m1-8v2m1 0v1m2-3v1m3 1v2m2-7v3m1-4v1m1 3v10m1-14v9"/><path stroke="#e7ff18" d="M150.5 182v2m0 1v2m1 2v1m0 3v3m1-10v1m0 4v3m1-5v2m0 1v1m1-7v2m0 3v2m2-5v4m2-10v3m4 0v7m1-11v12m1-2v5m1-9v3m1 0v2m0 2v4m1-1v3m2-12v5m2-5v8m5 1v3m1-7v1m2 2v3m4 8v2m1-5v1m2-11v9m3-1v5m2-9v8m1-11v9m4 0v4m9-2v3m3 0v4m6-10v10m3-4v4m1-6v5m3-8v9m3-1v4m1-1v2m2-6v6m1-7v9m1-6v1m0 3v1m1-4v4m1-8v5m1-8v9m2 0v3m1-11v7m7-7v10m2-10v12m3-6v4m5 0v4m1-4v4m2-4v4m3-5v4m1-6v1m3-11v9m1-9v10m2 2v3m1-8v3m2-1v10m1-6v5m1-1v3m1-7v5m2-15v13m1-11v12m1-6v6m3-11v6m4-9v9m1-13v3m3 5v11m1-11v4m1-9v8m3 1v5m1-11v4m3-2v7m6-10v10m1-9v8m1-4v7m2-4v4m4-3v3m1 0v3m2-7v6m6-4v3m1-1v1m1-3v2m1-1v2m1-5v3m2-7v3m1-7v4m3 1v8m2-6v4m1-4v13m1-15v9m3-12v8m1-8v8m1-5v9m2-8v5m3-9v8m2-8v7m4-10v7m5-7v12m4-6v5m4-8v5m1-1v2m1-5v3m4-2v8m1-7v6m4-14v7m1-4v7m2-3v1m1 5v4m1 3v2m1-17v6m1-7v6m3-6v10m5-12v7m6-8v5m9 3v6m1-26v5m4 14v4m1-14v2m1 4v5m2-7v3m10-2v7m2-15v6m1-3v10m2-11v9m1-15v1m0 2v12m1-17v15m3-8v9m1-7v6m5-11v15m4-18v6m3 7v2m4-12v1m1-4v11m2-14v9m1 0v3m1-4v4m1-6v5m1 0v2m3-13v9m1-10v2m1 2v3m1-19v4m1 3v5m1-6v1m0 1v1m1-5v4m0 9v4m3-15v2m0 5v3m1-4v2m2-18v12m1-1v4m3-7v4m1 3v3m1-11v3m0 2v10m1-8v4m1-17v1m0 1v8m0 1v3m2-18v8"/><path stroke="#eb190f" d="M171.5 292v1m2-3v1m1-5v2m0 1v3m1-5v1m0 4v1m1-8v1m0 6v1m1-6v2m0 2v1m1-1v1m0 6v1m1-17v1m0 7v1m0 6v1m1-6v1m0 4v1m0 2v1m1-14v1m1 6v2m0 4v3m1-23v1m0 1v1m0 3v1m0 4v1m0 2v1m0 2v1m1 0v2m1-6v2m0 5v1m1 0v1m1-1v2m1-4v1m2-3v2m1-2v1m0 1v1m1-2v1m1 6v1m1-10v1m0 5v1m0 1v2m1-16v2m0 8v1m2-4v1m1-5v1m1 5v1m0 1v1m1-2v2m1 0v2m0 1v1m2-6v2m0 1v1m0 1v1m1-4v1m0 1v1m0 2v1m1-5v1m0 2v1m1 2v1m0 3v1m1-4v1m1-5v4m1-6v1m1 0v1m1-7v1m0 1v1m1 3v1m1-4v2m0 2v2m0 2v1m1-4v1m1 0v2m0 2v1m1-12v3m0 4v1m1 0v1m0 2v1m1-8v1m0 1v1m0 1v1m0 1v1m1-2v2m1-4v1m1-3v3m0 1v1m1 4v1m1-5v1m0 1v1m1-6v2m1 4v1m1 3v1m2-5v1m1-1v1m15 5v1m3-1v1m1 0v1m1-1v1m52 19v1m1-1v1m2-5v1m43-19v1m1-1v3m2-2v1m2-2v1m1 2v2m1-2v1m1-3v1m3-4v1m38-1v1m1-7v1m0 1v1m4-9v1m0 6v1m1-13v2m1 0v1m0 6v1m0 4v1m1-16v2m1 6v2m2-6v1m0 4v1m0 1v2m1-10v3m2 0v2m1 1v2m1 0v1m0 1v1m1-6v2m2-6v1m1-5v1m0 3v1m0 4v1m0 1v2m1-16v1m0 5v1m0 1v1m1-17v1m0 1v1m0 1v1m0 1v4m0 3v1m1-4v1m0 2v1m0 4v1m0 1v1m1-9v2m0 4v1m1-15v1m0 3v1m0 3v2m1-4v2m0 1v1m1 0v1m0 1v1m1-6v1m0 2v3m0 1v2m1-2v1m1-13v1m0 5v1m0 1v2m0 2v1m0 1v2m1-6v1m0 5v1m1-11v2m0 5v1m1-12v1m0 5v1m0 4v1m1-15v1m0 7v1m1 1v1m1-2v1m1-11v2m0 1v1m0 5v1m0 2v1m1-10v2m0 3v1m1 2v2m1-22v3m0 1v1m0 2v2m0 7v1m2-2v1m1 1v3m1-14v1m1-1v1m0 5v1m0 2v1m1-5v1m0 1v2m1-4v1m0 3v1m1-3v1m1 4v2m1-2v1m1-3v1m13-9v1m2-5v1"/><path stroke="#f52814" d="M172.5 294v1m1-7v1m1-5v1m1 1v1m0 4v1m1-6v2m0 3v1m2-12v2m0 7v1m0 2v1m0 1v1m0 4v1m1-19v1m0 4v1m0 2v1m0 3v1m0 1v1m1-5v1m0 1v1m0 2v1m1-9v2m0 3v1m0 5v1m2-19v1m0 5v2m0 7v1m1-2v1m1 1v1m1 3v1m2-6v1m0 2v1m1 1v2m2-6v1m0 4v1m3-2v2m0 1v1m2-4v2m0 2v1m1-5v3m1-14v1m0 2v1m0 6v2m1 1v2m1-5v1m0 6v1m2-3v1m0 3v2m2-5v1m0 3v1m1-5v1m3-3v1m0 8v1m1-8v1m1-8v1m0 3v2m1-6v1m0 1v1m0 1v1m2 2v1m0 2v1m1-6v1m1 3v1m1-2v1m2-1v1m0 3v1m0 3v1m1-10v1m0 3v1m0 2v1m1-6v1m1-3v1m0 6v1m0 1v1m1-6v1m0 1v1m0 1v1m1-2v1m0 3v1m1-7v1m1 0v3m0 1v1m2 0v1m0 1v1m18-1v1m1 0v1m0 1v1m55 22v1m1-3v1m1-6v1m1 1v1m45-18v2m3-3v1m1-1v1m2-3v1m1-3v1m1 0v1m39-4v1m1-2v1m1-6v1m1-3v1m1-1v1m0 1v1m1-7v1m0 2v1m0 3v1m1-15v1m0 10v1m0 3v1m1-9v1m0 7v1m0 1v1m1-13v1m0 5v1m0 3v2m1-10v1m1 3v2m1-13v3m0 5v1m0 2v1m0 1v1m1-3v1m1-8v1m0 4v1m1 1v1m1-9v1m0 2v1m0 8v1m1-7v3m1 1v2m1-9v1m0 1v1m0 6v1m1-5v1m0 1v1m1-5v1m0 3v1m0 2v1m1-18v1m0 4v1m0 2v1m0 1v1m0 2v1m1-20v1m0 1v1m0 6v1m1-2v1m0 6v1m1 3v1m1-7v1m1-1v1m0 1v1m1-8v1m2 2v1m0 2v1m1-9v1m2 6v1m0 1v1m0 3v2m1-11v1m0 6v1m1-9v1m0 1v1m1-8v1m0 2v1m0 5v1m1-6v1m0 1v1m0 4v1m1-14v1m0 2v1m0 1v1m0 6v1m1-6v2m1 6v1m1-14v1m0 4v1m1-7v1m0 3v1m1-1v1m0 2v2m1-5v1m0 6v1m1-14v1m0 2v1m0 1v1m0 1v2m0 4v1m1-4v1m1-2v1m1-8v1m0 3v1m1-3v1m0 2v2m1 1v1m2-1v1m11-7v2m1-6v1m1 1v2m1-5v1m0 1v2"/><path stroke="#f70000" d="M153.5 130v2m0 5v3m1-4v3m1 8v2m1-9v6m1-5v2m1-1v5m2-7v3m1-4v1m0 6v1m1-10v3m3-3v5m1-10v2m0 6v7m3-2v3m1 0v7m1-22v4m2 14v3m5-13v9m2-20v3m0 9v1m1 2v11m1-7v4m0 2v1m1-14v1m0 9v3m0 3v3m1-10v3m2-9v11m1-20v1m0 23v2m1-27v1m1 13v5m1-5v7m1-8v9m0 8v2m1-21v2m0 8v1m1-17v2m3-15v1m0 2v1m1 11v1m0 9v2m2 7v4m1-8v5m1-32v3m2 17v1m1-17v1m1 0v4m0 16v6m1-25v2m0 1v1m0 19v3m1-9v2m1-1v2m0 6v2m3-15v1m1 1v1m1-14v1m0 15v9m2-34v1m1 24v3m1-9v1m2 9v4m2-32v1m0 24v1m1-24v1m0 25v14m1-36v1m0 2v2m0 23v2m1-30v1m0 10v2m0 1v1m1-2v2m1-17v3m2 28v3m1-7v7m1-28v1m0 16v3m1-23v4m0 26v3m3-14v3m1-23v3m1 28v4m1-29v2m0 15v2m1-2v1m1-12v1m0 4v2m1-1v2m1 6v9m1-23v2m0 3v2m0 13v3m3-42v1m0 31v4m1-43v3m0 4v2m1-2v3m0 36v1m1-38v1m0 34v4m1-39v1m0 12v2m0 4v1m0 13v4m1-38v3m0 24v1m1-29v4m0 35v2m1-41v2m0 4v1m0 10v1m0 9v2m0 7v2m1-40v1m0 2v3m0 13v1m0 16v7m1-43v5m0 30v8m1-10v9m1-9v6m1-30v1m0 31v2m1-35v1m0 1v2m0 17v1m0 14v3m1-39v1m0 21v1m1-12v1m1 12v1m1-21v1m1 23v7m1-33v1m0 28v2m1-2v10m1-40v2m0 18v5m1-27v5m0 29v4m1-10v6m1-31v4m0 1v1m0 19v5m0 1v2m1-31v2m0 9v2m0 13v2m1-29v2m0 25v7m1-6v1m1-28v4m0 30v3m1-38v1m0 29v1m1-30v1m1-3v1m0 26v4m1-29v4m0 20v7m1-30v1m0 12v1m0 10v5m1-18v1m0 1v9m0 3v6m1-15v5m0 4v6m1-22v6m0 3v1m0 5v6m1-11v4m1-15v2m0 9v6m1 1v2m1-2v6m1-6v8m1-5v6m2-32v3m1-5v1m0 18v2m2-21v2m0 22v5m1-29v3m1-2v1m0 32v1m2-3v2m1-34v1m0 10v3m0 8v5m0 2v4m1-33v1m0 22v3m0 6v6m1-9v6m1-1v4m1-23v1m0 20v2m1-34v2m0 31v2m1-9v5m4-5v3m1-1v3m1-26v1m1 23v4m2-25v1m0 20v1m1-4v3m1-12v3m0 3v1m1 5v3m1-7v2m1-14v3m0 10v3m1-7v2m3-9v3m0 3v1m1 0v7m2-3v2m1-5v4m1-22v3m0 20v2m1-13v1m0 7v6m1-17v2m0 3v4m0 1v3m1-21v5m1 7v1m0 7v4m1-29v2m0 16v2m1-7v2m1 6v8m1-14v1m0 6v4m1-13v4m0 8v2m1-10v1m0 4v5m1-14v4m0 3v8m2-34v6m0 26v5m1-35v2m0 17v1m0 9v2m1-8v1m0 2v2m2-2v5m1-6v3m1-18v1m0 1v2m0 5v1m0 6v9m1-26v2m0 5v6m0 10v1m1-8v3m1-29v2m0 11v2m1 13v7m1-34v3m0 26v3m1-35v4m0 20v2m0 1v4m1-30v1m0 9v1m0 11v2m0 5v7m1-27v1m0 22v7m1-10v2m0 3v7m1-16v1m1-3v1m2-25v1m0 19v2m0 9v2m1-35v2m0 21v1m0 5v2m1-32v3m1 9v1m0 19v2m1-5v1m0 7v2m2-41v5m0 19v3m0 4v7m1-13v3m0 10v1m2 144v6m1-160v2m2-28v1m1-1v1m2 9v1m2-17v2m0 2v2m0 28v10m1-44v1m2-1v1m0 1v1m0 35v2m1-40v2m0 32v3m1-35v1m0 34v2m1-37v2m0 29v6m2-40v2m0 28v4m2-36v2m0 42v2m1-8v4m3 0v3m1-26v1m1 2v1m0 2v3m1 9v3m1-5v2m1-24v2m0 8v4m2 5v2m1 4v7m1-8v3m1-5v8m1-37v8m1 10v3m1-11v1m0 21v2m1-26v3m1-13v2m3-2v2m1 23v3m1-19v1m1-11v1m0 25v12m2-35v1m3 21v1m0 5v9m1-9v4m1-20v3m2-12v1m0 8v4m3 16v3m2-6v3m0 1v1m1-10v4m1-17v2m0 10v4m1 0v3m1 1v2m4-16v1m1 3v7m3-7v2m0 8v2m1-26v1m0 14v8m1-16v2m1 4v5m1-3v3m0 3v3m1-13v8m2-7v7m4-17v3m1 0v11m1-28v1m0 20v9m3-11v5m0 3v2m1-17v8m5-5v2m1 4v4m1-12v3m1-1v3m0 3v2m2-11v10m0 2v1m3-14v1m1-4v2m1 3v4m1-5v3m8-17v11"/><path stroke="#f7ff08" d="M150.5 178v1m1-4v4m0 8v1m1-7v2m4 9v5m1-13v3m3-1v1m1-2v2m3-9v3m1 9v4m2-5v3m2 1v6m1-15v12m1 0v3m1-9v7m3 5v1m0 1v1m1-12v4m1-3v2m1 0v3m4-4v5m1-10v7m0 7v2m1-6v4m3-7v4m2-2v3m2-10v2m2 4v4m0 4v5m2-15v10m1-11v9m2-1v5m2-18v14m6-5v6m1-4v5m1-2v3m3-11v11m1-14v6m0 1v7m1-1v6m7-3v6m5-9v7m1-1v3m3-1v1m1-5v4m4-6v8m2-8v6m1-5v11m1-9v9m1-8v7m1-9v6m1-7v5m4-1v4m3-11v9m3-7v4m1-10v12m2 1v2m1-3v3m1 1v2m1-5v1m3 0v4m1-9v3m3-9v5m2 5v3m1-2v4m1-10v1m2 7v4m1-9v5m0 5v2m5-18v10m1-8v8m3-14v6m7-2v5m3-8v10m1-10v5m1 5v3m1-8v5m1-2v5m4-12v6m6 4v3m4-3v2m1-5v6m1 1v2m1-5v6m1-6v1m3-6v11m2-7v1m1-3v6m1-2v4m2-5v4m2-8v3m1-8v6m2-7v9m3-3v6m3-7v3m1 1v2m1-5v7m5-10v6m2-2v2m1-6v2m1-1v8m3-12v8m1-8v8m3-4v6m1 0v1m4-8v8m1-3v7m1-9v2m1-6v4m1-8v10m1-8v9m4-4v9m2-6v5m1-9v3m3-10v7m1-9v7m5 7v4m1 4v1m3-10v1m1-4v4m1-8v3m1 3v2m3-4v12m1-20v5m1-5v5m1 2v4m11-6v10m1-10v10m6-6v1m1-7v6m0 1v4m1-14v7m1-6v9m1-6v1m1-3v6m5-11v14m3-15v6m3 2v5m2-9v3m4-11v14m1-11v12m3-13v12m1-15v13m4-9v3m0 6v4m1-5v3m1-10v7m1-4v5m2-11v3m1 4v3m2-12v4m0 6v3m2-11v1m0 3v3m4-10v3m3 5v1m1-17v6m6-11v7m1 2v5m2-17v7m4-9v7m0 8v2m3-16v4m1 3v1m1 4v4m1-9v4"/><path stroke="#ff0800" d="M153.5 141v2m0 3v2m1-2v4m1-1v2m0 1v6m1-6v3m1-5v3m2-19v3m1-2v5m3 6v4m1-5v6m1-20v2m0 14v4m2-2v4m1-12v3m2-5v9m2 5v3m1-8v3m1 5v3m1-8v5m3-6v6m1-14v17m1-30v1m0 23v7m2-3v3m2 0v4m2-28v2m0 18v5m1-23v1m0 16v5m5-3v5m1-12v3m3 3v6m1-5v7m4-4v5m1-21v1m0 9v3m1 2v7m1-4v2m2-22v1m0 19v5m1-12v11m2-11v3m1 0v7m1 5v5m1-15v6m3-38v1m0 1v1m0 33v5m1-12v3m1 3v11m3-10v5m3 0v7m1-9v3m1-6v4m1-1v3m1-2v3m1-17v2m0 7v2m2-1v8m4-8v8m1-33v1m0 24v8m1-31v1m1 26v3m3-7v10m2-30v4m0 8v1m1 8v10m1-48v1m0 4v1m1-6v2m0 1v1m3-1v1m0 39v4m1-42v3m0 34v1m0 1v9m1-47v3m0 27v2m1-32v2m0 30v3m1-37v4m0 1v1m0 30v2m5 3v6m1-14v1m1 5v4m1-10v5m0 1v5m1-36v1m0 23v4m1-27v4m0 24v8m1-6v6m2 0v3m1-7v5m1-11v2m0 6v5m1-11v3m1-30v1m1 22v1m2 10v3m3-9v10m3-10v3m2-20v1m2-3v3m1 16v1m3-10v1m1 17v3m1-7v4m1-11v9m1-9v7m1-8v8m2-4v6m1-6v5m1-8v5m0 3v3m1-8v3m1 1v2m1 3v3m1-6v2m1-5v2m0 6v1m1-3v2m1-1v1m1-5v7m5-7v5m1-7v5m1-6v1m1 0v4m1-15v1m0 5v5m2-5v6m1-4v3m1 1v6m3-10v2m1-6v7m1-11v1m0 7v7m2-6v8m1-7v6m1-7v5m1-2v4m3-23v1m0 16v4m1-2v4m2-13v6m1 4v2m1-6v8m1-7v4m2-3v2m1-6v7m1-31v1m0 14v1m1-18v3m0 26v1m1-4v6m3-4v3m1 2v2m2-9v9m1-36v3m0 26v5m1-36v5m0 30v4m1-10v1m1-28v2m2 20v1m1 5v3m1-8v7m1-2v1m1-4v4m2-4v5m1 0v1m1-8v2m0 2v8m1-3v1m1 0v7m2-21v1m2 3v3m2-2v4m1-2v6m1-5v4m2 2v4m2-47v2m2 32v3m2-37v1m0 34v5m1-42v2m0 1v1m1 35v2m1-6v7m2-3v6m2-6v1m1-3v6m2 2v5m1-21v5m1 2v1m2-14v2m3 14v5m1-2v1m1-6v7m4-30v4m1 15v2m1-2v10m1-2v5m1-43v1m0 25v3m0 9v5m1-43v1m0 21v6m2-20v1m0 27v7m3-22v6m1 1v1m4-24v2m2 20v7m1-5v9m1-8v3m1-5v4m2-8v5m2-2v1m1 2v2m1-4v3m1 1v3m3-12v1m2 1v1m1 0v6m1-7v2m1 5v1m1-17v10m4-6v3m0 6v3m2-5v3m1-14v11m1-2v5m4-33v1m0 22v5m2-14v3m0 6v2m2-11v1m1 1v1m0 1v10m3-12v1m0 1v11m3-12v2m1-6v7m2-22v1m1 12v2m1-1v9m1-11v1m2-9v8m1-8v11m3-3v11m1-16v7m2 3v4"/><path stroke="#ff1800" d="M152.5 146v2m1-14v3m0 12v2m1-9v4m1-3v4m2 0v3m2-6v4m1-5v2m1 4v2m2-8v3m4 2v1m4-2v9m1-11v8m2-5v2m0 4v2m1 0v4m4 2v2m1-31v2m1 30v1m1-6v2m0 1v2m7-11v7m1-5v5m4 7v4m1-12v8m1-6v4m1-2v3m1-5v5m1-14v1m0 16v3m4-7v3m1-8v1m1 2v3m2-1v6m2-14v1m3 7v3m2-5v4m2-8v3m2 0v9m1-8v7m2-5v7m4-5v2m1-6v3m2 5v2m1-6v6m1-2v3m2-8v8m9-4v5m1-12v3m1 8v2m1-49v4m1 33v11m1-11v8m1-4v5m1-42v1m1 2v1m1 0v1m0 35v8m5-11v8m1-8v8m1 1v3m1-7v4m1-9v1m2 0v11m1-37v1m0 31v6m1-6v6m1-11v8m5-9v7m1-10v6m4-2v8m7-24v1m1 9v13m1-13v2m1 1v10m8-8v7m0 1v1m7-1v3m1-2v2m1 0v4m1-4v1m2-8v7m1-10v7m1-8v9m1-5v7m1 0v2m1-4v1m2-7v1m4 3v3m0 1v2m2-9v6m1-11v7m2-2v4m1 0v2m1-6v7m3-4v5m2-6v3m1-7v8m2-18v1m1 11v1m1-3v9m2-19v2m0 16v1m1-4v6m1-10v5m2 2v2m1-5v4m3-9v6m1-5v6m1-4v7m2-9v1m1 5v2m1-1v3m2-38v1m1-1v1m0 24v4m1 2v4m4-8v4m1-4v4m1-4v6m5-3v1m1-4v7m2-15v4m6 6v5m3 2v3m2-14v7m1-6v4m2-5v5m1-3v4m2-5v3m1 2v4m1-5v10m1-14v4m2-2v6m1-10v1m1-5v12m1-13v3m1 1v2m1-5v6m1 0v5m1-4v5m1-2v1m1-2v3m5-9v2m3-2v4m1-6v6m2-12v9m1-4v5m2-13v7m3-1v13m1-47v2m1 38v9m2-16v8m1-2v4m2 0v3m1-3v3m1-6v5m3-12v3m3-5v6m1-6v9m1-1v4m1-13v2m2-1v7m2-3v1m1 4v2m3-11v2m1 2v4m2-4v3m1-9v3m2-6v4m1-5v11m3-16v5m0 9v1m1-11v6m1-1v4m1-13v1m1-4v10m2-11v5m0 3v9m3-17v5m3 4v3m1-3v2m3-1v2m1-14v11m1-15v3m3 1v4m1-2v9m1-14v1m2 7v1m2-11v14"/><path stroke="#ff2800" d="M152.5 148v1m1-9v1m0 11v2m2-3v1m2 5v4m1-10v5m1-16v4m2-4v6m0 1v2m1-5v9m2-12v4m1 1v1m1 0v9m2-6v8m2-1v3m2-4v4m1-6v6m1 1v3m2-11v8m3-2v3m2-6v9m1-3v1m1-2v7m1-10v2m3 4v6m1-14v13m3-8v4m0 2v4m2-18v12m3 1v3m1-2v1m0 1v2m1-4v3m1-5v5m1-4v4m2-13v11m2-2v3m1-8v3m5 1v7m1-16v5m0 3v6m2-4v4m1-10v4m0 6v4m2-11v14m2-5v4m1-2v2m1-7v6m1-1v3m1 1v3m2-11v6m2-4v4m1-9v1m1 0v4m3-2v8m1-3v5m1-9v7m1-6v4m1-3v4m1-6v5m1-11v3m3 6v4m2-11v1m1-35v1m0 43v6m1-13v9m4-5v7m6-7v4m2 2v3m4-14v1m1 12v3m1-1v1m1-3v3m1-6v4m1-4v4m2-11v2m1-1v10m3-5v1m1-6v2m4 0v4m1-9v2m2-10v1m7 11v3m0 1v3m1-6v3m1 0v2m4-1v2m1-5v2m2-6v3m1 0v9m1-8v5m2 0v5m1-4v3m0 1v1m2-5v2m1-1v2m1-4v2m2 1v2m1-5v5m1-3v5m1-8v4m1-6v7m3-11v8m1-7v8m1 2v2m1-6v4m1-5v2m6 1v2m1-6v2m1 1v2m1-5v6m1-6v9m1-8v2m1-5v7m1-5v3m1-7v12m1-6v3m1-22v1m0 12v1m2 7v1m1-6v7m1-9v5m1-4v3m3-4v6m4-3v1m1-5v11m2-9v3m0 3v3m1-6v7m1-13v6m1-6v9m3-2v8m1-16v7m4-7v6m1-5v4m1 0v1m1-3v6m1 1v3m2-13v3m1-8v15m1-14v3m1-7v10m3-1v3m1 2v2m1-1v1m2-6v6m1-8v3m0 1v7m1-7v1m1-3v5m1-7v5m3-5v5m11-7v3m1 2v2m2-2v2m2 3v3m3-14v6m2-10v9m3-12v3m1-4v6m1 1v6m4-14v10m3 4v4m2-13v10m1-6v2m3-3v3m1-3v3m1-8v5m2 2v4m1-10v3m2-1v6m3-11v6m1-7v6m5-3v2m4-6v4m1-5v4m1-3v4m10-3v2m0 2v1m5-6v2m1-3v3m1-7v4m2-8v3m3-8v13m3-9v4m1-10v5m0 1v2m2-11v2m2 11v3m1-9v3m1-4v1m1-6v4m2-3v1"/><path stroke="#ff3800" d="M152.5 143v2m0 5v1m1-8v3m0 2v1m0 8v2m1-6v4m2-6v1m0 6v3m1-8v4m2-6v3m2-2v4m2-4v5m1-2v3m1-3v4m4-11v10m1-3v2m1-1v8m3-5v2m3-8v7m1 3v4m1-2v2m1-7v4m1 2v2m4-12v9m2-2v1m2-3v5m1-5v6m0 1v3m3-6v6m1-10v7m0 6v4m1-10v6m1-5v4m1-1v3m2 1v2m1-8v4m2-6v5m2-9v2m4-2v9m3-12v3m1 5v5m1-11v3m7 11v2m1-6v1m1-2v6m1-2v4m2-10v1m0 1v3m1-5v2m1 0v8m2-6v6m1-5v7m3-4v5m5-13v15m1-14v9m12-10v9m2-4v4m1-9v4m1 7v1m0 1v1m1-7v3m0 3v3m3-12v10m2 2v2m1-6v2m0 1v4m1-4v2m1-4v5m2-11v9m2-3v4m1-10v2m1-6v10m1-11v6m2-2v9m1-5v4m1-5v5m1-11v2m1-3v7m2-8v10m1-10v7m1-8v2m0 1v9m2-12v12m2-10v9m2 0v7m1-8v3m1-7v7m1-9v5m3-1v6m1-8v8m5 2v1m2 0v1m1-4v2m1-1v5m1-7v3m2-7v5m3 0v2m2-8v9m1-12v9m6-8v6m0 1v1m1-11v7m2 0v2m0 1v1m1 0v3m1-7v3m1-2v4m1-1v4m5-6v3m1 2v1m2-10v3m1 0v4m1-1v3m2-6v5m7-4v1m1-3v8m2-7v9m1-4v4m9-14v6m4-3v3m1 0v1m1 3v2m1-9v11m1-14v12m3-13v3m1-7v5m0 1v4m1-6v6m1-4v4m2 0v4m2-1v7m2-13v3m1-1v1m1-3v2m1-5v7m1-6v7m1-5v2m1-6v8m3-7v6m1-7v4m2 3v3m2-16v5m1-3v5m3 2v1m1 0v2m1-3v6m1-8v6m1-10v13m1-14v12m1-6v3m1-9v3m1 2v1m7 2v5m1-19v4m2-5v4m2 4v4m8 2v4m1-8v5m1-12v5m2-5v6m2-3v7m4-14v3m3 2v9m1-9v2m0 4v2m1-5v4m1-15v8m1 2v5m1-3v3m1-5v4m2-9v6m1-3v1m0 1v1m2-1v3m2-13v4m1-4v4m0 1v4m2-6v2m1-14v11m1-5v1m2 7v3m1-20v12m3-10v6m1-3v7m2-8v2m0 5v3m1-16v14m5-10v1m4 2v2m1-11v5m1 3v4m2-1v3m1-18v4"/><path stroke="#ff4800" d="M152.5 145v1m0 7v4m2-7v3m2 2v3m3-1v2m1-14v6m1 0v1m2-2v2m1-1v4m1-4v4m1 11v1m1-8v5m2-6v4m1 1v3m1-2v1m1-5v2m1 3v3m1-2v3m1-9v5m2-5v7m1-11v7m0 6v2m1-7v1m1-1v4m2-3v6m2-1v5m1-10v6m1 0v5m9-2v2m1-3v2m1-4v1m1-2v5m0 1v2m1-5v3m7-9v13m1-8v7m2-20v14m2 6v5m3-16v2m1-1v9m3-1v3m1-9v3m1 1v2m1 0v5m1 1v3m1-6v4m5-10v6m3-2v3m3-4v4m1-9v1m4 7v5m1-6v4m2-12v13m2-5v7m2-7v3m1-8v9m1-2v4m1-5v6m1-6v4m2-15v10m1-9v5m1 7v4m1-9v4m2 0v8m1-11v9m2-12v11m2 3v1m1-3v2m1-1v2m1-7v6m2-10v9m2-9v5m3-6v9m6-15v10m2-4v4m2-2v6m2-6v5m6-6v4m1-9v10m1-3v5m3-8v10m3-6v7m2-1v2m1-5v2m1-1v2m3-10v8m2 0v4m1-2v2m1-4v4m1-3v3m5-7v2m1 0v6m1-9v8m3-12v6m2-3v3m1 1v7m1-7v5m2-5v4m2-7v10m1-8v5m1-4v7m6-7v7m1-6v2m1-6v7m1-8v6m2-5v2m1-6v8m1-7v7m3 0v6m1-2v2m1-2v1m1-4v2m4-10v10m2-9v2m1-6v5m1 1v2m1-6v7m1-6v3m1-4v7m2-2v7m10-9v1m1 3v1m2 6v1m3-12v4m1-5v4m3-4v4m7 0v3m1-10v11m0 2v1m1-18v8m2-7v5m1-1v2m1-2v6m1-4v2m9-5v11m1-11v11m1-20v10m3-9v9m6 3v3m7-10v3m1-9v5m2-5v3m1 1v1m3-4v11m3-15v7m2-6v9m1 4v2m2-21v10m1-3v5m1-7v4m1-1v3m1-5v3m1 2v3m2-13v6m0 6v3m3-19v12m1-6v5m1 0v2m1-11v5m2-1v2m0 1v3m6-3v2m3-11v8m1-9v2m3-6v3m1-1v8m1-16v4m4 9v1m2 1v3m1-15v2m1 4v5m1-1v1m1-14v3"/><path stroke="#ff5800" d="M153.5 151v1m2 11v5m2-2v5m1-14v3m2-9v3m0 6v2m2-9v8m5-8v6m1-1v5m2-3v3m0 7v1m1-6v1m1-4v2m1-4v5m2 0v3m3-1v2m2 4v4m4-13v6m2-9v10m3-5v7m1-6v1m0 8v3m1-8v4m1-13v11m4 2v4m1-4v4m6-10v9m1-9v8m1-10v8m3-2v5m3-3v4m4-1v4m2-8v12m3-7v6m1-2v4m1-6v2m2-4v3m1-7v6m1-5v8m1-3v3m1-1v2m1-5v4m1-2v3m1-3v3m3-9v1m3-6v12m3-5v1m1-3v11m4-8v5m1-11v6m2 9v2m1-4v3m10-3v4m1-3v4m1-10v1m0 3v1m0 2v7m4-6v1m1-2v3m1-2v4m1-5v2m1-6v7m3-3v4m1-7v2m0 1v1m1-10v1m0 5v5m12-3v3m1-1v3m6-8v5m1-5v7m2-5v4m1-9v2m2 4v2m1-2v1m4-2v6m2-6v6m4-7v2m4-4v8m1-4v8m3-11v3m1-7v8m2-4v7m4-3v5m1-4v2m1-3v7m1-2v1m5-13v8m1-4v5m1-1v3m1 0v1m1-5v4m7-9v4m1 1v1m1 3v1m1-1v2m1-3v2m2-13v8m2-8v1m3 1v5m1-6v5m4-1v2m1-5v4m3 4v5m3-23v6m2 3v7m1-7v3m2-2v8m3 1v1m0 2v2m2-15v6m2-3v5m1-7v2m0 1v2m1-4v4m1-3v5m1-7v1m1-3v12m1-2v5m1-14v1m1-4v7m1-6v3m2 7v1m2-15v8m2-3v3m0 1v4m2-6v3m6-12v9m9-14v7m1-4v2m1-6v9m3 2v3m1 1v4m1-14v2m1-2v11m1-11v13m2-10v11m4-15v7m6-11v3m2-3v3m3 1v2m1 5v2m5-13v4m3-7v10m1-9v4m4-5v2m1-2v5m1 1v1m1-14v3m1-1v10m1-7v2m2-2v5m1-13v5m6 2v4m2-2v2m3-21v13m2-3v5m1 2v4m1-14v7m2-8v5m1 7v1m1-19v2"/><path stroke="#ff6800" d="M152.5 149v1m0 1v2m0 8v3m1-10v3m0 5v5m1-5v4m1-8v5m1 1v4m1-7v5m1-10v1m1-9v3m1 7v2m1 0v4m3-2v5m2-4v3m0 2v3m2-8v3m1 1v4m1-5v4m3 1v1m1-8v2m2-5v8m2 2v2m1-6v7m1-6v2m0 1v2m1-5v7m1 1v3m1-11v9m5 0v1m1-3v2m1-6v5m0 3v1m1-5v4m3-7v2m2 6v1m1-1v2m2-4v3m2-16v12m2 1v4m3 3v3m1-9v3m2-9v7m1 6v4m3-20v11m1-7v10m2-7v12m3-13v8m5-8v3m1 2v2m2 2v3m1-8v3m1 3v2m3-8v8m3-11v10m1-11v11m6-3v6m3-14v3m1 8v3m1-7v7m1-5v3m6-10v4m1 2v8m1-6v7m1-4v4m5-3v2m1-3v3m1-2v3m1-3v2m1-6v2m2-1v1m2-5v2m1-6v10m5-10v9m1-9v8m4-2v6m1-13v2m1 5v5m1-12v2m1 6v4m1-9v6m2-4v7m7 0v5m1-11v2m1-3v6m1 0v2m1-2v3m2-4v5m1-5v6m1-4v2m2-6v7m1 1v2m1-6v4m1-4v3m1-3v2m2-3v4m1-9v7m1-9v8m2 5v1m0 1v1m1-7v3m1-4v4m4-3v2m1-6v7m1 0v2m1-6v5m2-4v3m1 1v2m1-5v1m1-4v6m3-11v2m2 4v2m1-5v2m1 4v1m1-2v2m0 2v1m1-8v5m1-7v4m2-7v4m4 1v2m1 2v1m1 0v1m1-2v2m1-6v3m2-9v1m1-3v11m3-5v8m2-11v5m2-7v6m2-2v4m2-2v7m5-17v7m2 0v3m1-7v4m2 1v2m2 5v1m1-10v11m1-8v1m1-3v5m1-1v1m1-3v3m3-7v4m2-2v5m7-7v2m1-6v4m2 1v2m2-3v5m0 1v1m1-6v8m4-9v1m2-10v12m2 5v3m3-17v12m3-16v6m5-3v6m1-8v10m3-9v13m4-13v10m2-12v2m1-2v9m1-6v10m2-14v12m1-14v9m1-7v1m1-3v6m3-1v8m6-5v3m1-11v8m1-8v3m6-7v5m2-2v1m1-10v9m2 1v4m1-15v15m7-8v4m2-13v11m3-16v11m2-16v13m2-3v4m1-3v3m1-6v7m1 1v2m1-13v2m1-3v9m0 1v2"/><path stroke="#ff7800" d="M153.5 159v3m1-5v5m0 10v1m2-12v3m3-10v3m0 4v3m2-8v4m2 3v5m1-10v4m1 2v6m1-14v7m1 6v2m2-9v5m0 6v1m1-1v2m2-11v5m1-1v3m0 1v3m3-6v5m1 0v4m1-5v3m4-5v5m5 1v7m1-15v8m0 1v3m1-8v2m0 2v6m0 1v1m1-5v2m2-9v5m2 0v8m1-10v7m3-5v8m1-5v4m2-8v7m4-6v4m1-2v5m0 3v1m4-17v12m4 0v4m5-3v4m1-3v2m1-6v1m5 3v4m1-10v1m2 3v2m1-1v7m2-4v5m2-12v10m1-3v4m2-7v5m3-7v10m1-6v6m5-11v5m2 4v2m5-14v11m5-1v4m1-9v2m0 6v4m1-10v1m5 5v4m2-8v1m1 1v8m1-7v1m1-7v13m7-11v3m1-8v10m1-11v11m5-4v5m1-12v5m1 7v3m1-8v1m2-6v8m2 0v3m1-8v9m1-6v7m7-6v7m8-4v2m1-3v8m1-10v6m1-9v2m3 6v3m4-11v12m1-11v3m1-7v10m2 2v3m1-7v2m2-1v4m3-3v2m2-4v1m1-5v11m1-13v13m1-10v4m4 1v2m2-5v2m3-7v7m1-7v4m0 1v2m1-6v7m4 1v1m1-4v2m1-6v5m1-9v5m1 3v4m2-7v6m2-9v5m2-6v6m2-4v4m5-3v12m2-22v12m5 0v1m1-3v3m3 8v3m1-14v4m1-2v4m1-4v2m1-2v2m1-5v6m1-4v1m1-3v6m3-11v3m0 8v3m1-11v1m1-4v6m2 0v1m1-8v13m0 4v1m2-16v4m2-1v5m1-6v3m1 2v2m2-1v5m2-17v2m6-3v2m1-5v12m3-12v8m3-7v8m1-5v13m2-2v3m6-12v10m1-13v12m8-11v2m4-5v3m1 6v2m1-13v4m1 2v5m3-12v10m5-11v11m1-6v4m4-12v6m1-1v3m1-1v2m5-16v4m0 8v1m1-9v6m1-13v10m1-2v4m1-10v12m2-14v2m2 6v2m0 1v1m7-3v2m3-5v5m1-21v2"/><path stroke="#ff8700" d="M152.5 166v2m0 2v2m2-3v3m1-1v3m1-3v6m1-3v6m1-17v4m1-8v2m1-7v4m0 4v6m2-7v7m1-11v6m2-4v5m1 3v1m1-4v5m0 2v3m1-8v6m1 4v2m1-7v2m1-7v7m1-2v2m2 1v5m3-12v7m1 2v2m8-2v8m1-14v7m2 6v1m4-1v5m2-5v2m1-6v1m1-1v1m3-6v10m2-11v12m2-8v6m1-8v3m2 4v4m1-8v8m2-2v2m0 7v3m2-22v12m1-2v4m5-8v10m3-3v8m1-9v9m5-11v1m1 0v7m1-4v6m2-9v8m2-10v9m4-2v6m1-11v13m1-13v10m4-12v16m5-9v1m2-7v6m1-11v10m1-10v11m2-4v10m1-2v3m1-3v3m1-4v4m1-10v2m2 2v12m1-8v5m5-9v5m1-3v8m2-9v4m1 2v3m1-8v4m1-10v1m2-4v1m1-1v12m5-14v10m1-10v3m1 4v6m1-13v3m7-2v10m1-9v7m3 0v6m1-9v2m3 1v3m1-2v5m3-3v1m1-3v6m1-6v4m1-3v7m1-8v2m1 0v6m9-6v5m1-5v2m1 3v3m3-9v5m1-4v2m4-2v4m2-2v6m1-7v4m1-6v3m1 3v3m3-10v6m1-6v6m1-4v5m1-2v1m4-10v8m3-2v1m1-4v5m1-2v5m7-10v1m1 5v3m5-10v7m2-5v5m1-5v4m2 1v7m2-19v18m1-10v2m1-5v8m1-8v7m2-10v5m2 1v4m3 9v1m3-13v6m1-6v4m2-6v3m4-8v8m3-6v8m1-4v7m2-13v5m2-2v3m1 0v2m1-5v7m3-11v7m1-9v14m1-15v11m2-16v3m2 9v4m1-4v3m0 5v2m1-18v5m1 2v2m2-6v6m0 1v4m1-11v2m1-6v9m1-12v4m1 4v7m2-2v6m6-5v5m4-17v1m1-4v9m3 1v5m3-17v4m2-2v8m1 2v4m2-9v9m1-17v8m2-6v11m2-11v4m2-2v9m5-15v9m1-8v6m1-2v1m1-5v3m3-7v3m1 6v2m1-11v5m1-4v6m1-15v7m2-1v2m4 4v3m1-12v1m1-9v15m2-9v8m2-8v9m1 1v4m1-10v4m1 3v3m1-6v3m1-14v2"/><path stroke="#ff9700" d="M152.5 157v4m0 13v2m1-5v5m1-1v4m7-11v4m2 0v3m5-3v3m1-4v2m0 1v2m2-3v3m1-7v2m2-2v5m1-6v9m2 1v3m1-3v2m1-6v9m1-6v4m4 0v6m1-16v14m3-4v7m2-6v3m3-14v12m3-2v6m1-5v6m5-3v7m3-10v7m0 4v2m1-6v1m1-4v3m4-5v6m4-8v10m1 1v5m3-8v3m1-8v1m3-2v9m1-11v9m1-8v7m1-6v2m1 2v9m1-3v2m2-3v3m3-4v5m1-5v4m1-9v1m0 4v4m1-9v6m1-10v2m2 10v5m1-7v4m4-11v12m1-14v12m1-6v9m1-9v6m2-7v8m5 0v4m1-9v2m1-1v1m3-4v2m2 8v3m1-11v6m1-6v5m1-4v4m1-1v5m1-5v6m1-1v3m1-5v2m1-5v7m2-14v4m5-5v9m6-11v3m2-4v3m2 2v3m1-1v9m1-11v6m4 4v2m1-6v5m3-11v8m1-9v8m7-1v7m2-7v8m2-9v1m0 1v2m2-3v4m2-9v9m1-10v9m1-8v4m0 5v4m2-5v1m1-4v8m2-13v7m1-4v7m3-5v4m1-5v6m1-4v5m2-5v1m1 4v1m1-4v1m1-4v8m3-11v8m4-3v5m1-9v6m8-1v1m1-5v5m1-4v3m1-5v4m1-5v2m1-6v11m5-9v4m1-6v6m2 0v2m1-6v7m3-3v3m2 7v3m2-18v1m1-6v3m2 0v6m5 2v4m1-5v4m1-7v5m1-3v5m2-3v1m1-4v4m1-4v4m5-11v5m4 5v2m0 3v2m1-13v3m1-6v8m1-4v6m1-4v2m11-1v2m1-11v11m6-16v5m3-1v5m1-3v4m2-7v7m6 1v4m1-16v4m1 1v1m3-5v5m1 3v5m2-16v9m1-10v3m1 4v2m0 1v1m1-6v4m1-2v2m0 5v2m3-18v15m2-3v3m4-15v12m2-17v8m0 8v1m1-18v12m2-3v2m3-10v7m1 0v5m3-9v1m0 5v1m6-20v7m3-1v2m1 5v2m2-17v3m2 9v1m1-5v5m2-8v9m1-11v2m1-2v2m2 1v4"/><path stroke="#ffa700" d="M151.5 165v2m1 11v3m2-15v3m1-1v3m0 5v4m1-12v3m2-11v3m0 10v2m1-11v3m2-3v4m0 4v3m3-2v5m2-3v5m3 0v2m3-1v3m1-5v5m2-7v4m5 0v4m1-10v9m1-5v8m2-12v6m4 10v2m1-8v6m2-12v9m3 3v5m3-8v3m3-7v6m3-8v10m1-9v8m1 0v2m0 2v1m2-7v1m1-4v4m1-10v12m1-2v3m0 5v3m5-9v3m1-6v4m1-7v8m1-4v5m1-11v1m1 3v8m9 0v2m1-6v1m1 1v4m17-5v7m5-5v5m2-3v7m3-11v9m1-6v8m9-6v1m4-7v11m1-14v12m1-11v13m1-6v5m2-12v8m8-8v12m3-6v2m1-7v7m3-3v5m1 1v2m4-6v2m1-5v10m2-5v4m1-10v8m1-6v6m1-3v3m1 2v1m1-4v4m4-4v1m1-1v3m1-10v9m4-4v9m4-9v3m1 0v2m1-5v8m1-7v7m5-8v9m8-9v6m1-5v5m2-4v4m1-11v7m2-4v2m1-5v1m1-1v9m2-6v4m5-5v6m3-11v11m2-6v9m2-9v3m1-7v3m2 4v2m1-5v3m1-4v7m6-2v3m1-7v3m2-8v9m1-8v4m3 5v3m1-1v2m1-7v2m2-1v2m1-3v4m3-8v9m1-10v12m1-4v6m3-18v4m1 3v3m2-4v2m0 3v2m1-8v5m2-1v1m1-3v4m2-7v8m1-8v11m4-21v1m1-4v11m1-4v1m1 5v4m6-11v5m1-2v2m1-5v8m4 3v4m1-16v2m0 8v3m1-7v5m1-10v14m2-13v4m2 4v3m1-12v6m1-8v9m3-2v5m2-11v4m7 4v2m4-11v3m1-5v11m1-14v10m3-2v4m4-11v8m1-11v4m0 1v3m2-6v2m1-11v7m1 3v6m1-11v2m0 5v2m1-10v5m0 1v3m0 1v1m1-9v6m4-4v3m1-8v10m1-11v6m1-1v2m1-9v1m0 1v8m4-14v1m0 1v4m3-1v8m2-13v3m1-5v2m1-5v1m0 2v1"/><path stroke="#ffb700" d="M151.5 169v6m1-11v2m0 3v1m1-3v4m1 2v2m3-4v3m1-3v2m0 3v1m1-10v1m0 8v2m1-10v7m2-7v7m1-7v4m1-5v6m1 2v6m1-10v4m1-1v7m1 1v2m1-6v2m1-5v9m2-11v8m1-6v4m3-5v13m0 2v1m1-9v5m1-6v5m1 2v3m2-6v5m2-12v13m5-2v3m4-13v10m1 5v5m1-12v5m1-6v7m1-4v3m2-5v9m5-3v4m1-3v3m1-7v2m0 5v3m1-9v4m2-4v3m1-1v5m2-7v6m1-8v5m1-12v3m2 11v5m2-6v5m3-3v4m1-5v5m2-7v5m3-8v8m1-1v3m1-8v2m1 0v2m1 0v4m1-7v1m1-1v8m2-10v1m8-2v12m2-4v5m1-5v4m2-3v3m2-3v4m1-13v10m4-4v1m0 4v7m1-3v2m1-10v8m1-8v9m1-3v3m2 2v3m6-6v1m3-3v4m1-6v10m8-19v9m1-9v6m2-7v12m5-7v10m5-12v10m3-7v7m1-9v9m4-7v4m1-4v2m3 2v4m2-1v2m2-3v3m1-7v4m1-2v7m5-10v2m2 0v7m2-5v7m1-8v6m6-5v2m1-6v3m2 2v2m1-5v6m1-2v1m3-4v2m1-5v7m3-2v1m5-10v8m2-7v7m5-4v4m4-1v2m1-5v2m1 4v3m1-12v6m2-7v7m3-3v4m1-1v1m1-4v4m1 0v5m1-7v5m0 6v3m2-21v5m1-2v3m1-1v3m1-7v2m3-1v5m3 5v7m4-11v3m1-7v5m1-5v2m1 3v2m2-9v5m2-9v6m6-2v5m2-1v2m1-6v9m1-4v3m2-7v12m3-24v4m1 5v2m3 3v2m1 3v2m2-16v14m2-13v7m1-7v4m5-1v3m1-10v8m5 2v5m1-11v4m4-12v13m1-9v4m1 4v4m2-17v10m0 1v2m2-15v4m3 4v3m0 6v3m1-2v1m1-13v6m0 1v3m6-7v3m8-14v10m1-7v9m2-15v5m1-1v3m5-10v9m2-10v2m0 10v2m1-19v6m1-3v3m1 9v1m2-12v6m2-15v5m4 13v5m3-19v8m1-12v3"/><path stroke="#ffc700" d="M152.5 168v1m0 3v2m0 9v3m3-12v2m1 6v6m3-20v4m2 3v2m2-1v5m2-11v5m1 7v3m2-10v7m0 3v1m1-1v3m3-1v3m5-4v2m1-2v2m1 5v3m5-6v4m1-9v10m1-11v6m1 1v6m4-9v4m4 0v4m1-9v1m0 4v3m3-10v9m4 2v3m1-8v2m0 9v1m3-13v4m3 2v2m4-10v10m5-9v1m2 10v4m3-9v4m1-9v9m1 0v4m2-7v8m1-6v6m5-8v9m1-9v8m1-11v9m1-6v8m1 1v6m1-11v7m1-10v8m1-12v10m1-1v6m4-7v3m1-8v3m1 3v4m1-9v2m2-10v11m1-3v5m1-12v5m1 13v2m1-6v1m1 1v3m1-3v3m1-7v1m1 2v3m1-5v5m1-5v8m1-13v4m1 0v3m1-8v8m1-4v5m1-4v3m2-4v9m3-13v9m1-3v5m7-10v4m1-10v11m3-13v14m1-11v14m3-4v4m1-9v1m1-1v4m1-9v11m3-1v4m0 1v1m11-5v3m1 2v2m1-7v5m1-9v3m1 0v4m1 1v2m1-7v5m1-6v7m4-2v4m2-7v4m1 1v3m2-9v6m1-3v4m1-4v4m1-10v8m1-7v6m7-5v14m1-17v12m5-7v7m1-7v2m1-6v2m2-4v5m5-3v5m1-5v6m1-7v7m4-10v2m4 3v7m1-10v6m2-7v7m7 4v6m5-15v2m1-6v9m4 9v2m1-16v4m0 6v1m1-11v5m1-4v6m1-2v2m1-4v4m1-7v4m4-7v15m2-19v10m4-4v6m2-6v4m1-1v5m7-18v12m2-13v12m1-3v1m1 3v3m1-5v5m1-14v13m2-8v10m1-7v1m1-4v1m0 1v3m9-11v14m2-11v5m2 3v4m2-18v3m3 2v4m3-8v1m1-4v7m4-1v3m3-1v5m2-2v2m2-11v3m1 2v4m1-11v3m1-5v4m0 1v10m7-10v4m3-8v1m0 3v2m1-4v3m2-18v9m2-5v4m0 6v3m5-12v6m0 1v2m1-20v6m1-1v8m1-1v2m1-5v4m1-2v9m2-9v4m1-7v12m1-8v1"/><path stroke="#ffd700" d="M151.5 167v2m2 12v5m1-5v3m2-7v5m4-3v3m1-5v2m2-4v1m1 5v5m1-1v2m1 1v2m2-6v1m0 3v1m3-13v9m1-1v3m4 0v2m0 1v3m3-10v4m5 0v3m2 0v4m1-10v7m1 2v2m2-10v9m2-4v5m1-7v5m11 3v6m2-8v3m2-4v4m1 7v2m3-20v2m2 10v5m9-5v6m1-13v4m3 5v8m1-4v3m1-1v2m1-8v6m1-8v7m1-4v6m2-2v3m3-4v5m1-11v7m1 2v2m5-6v5m1-12v2m1 1v2m6-11v7m1 16v3m1-6v4m1-7v3m1-5v1m3-2v1m3-3v3m1-8v5m4 2v7m6-9v6m1-4v6m1-14v1m1 0v10m1-9v8m5-11v13m3-3v5m1-3v5m1-11v2m1-4v8m4-5v8m2-6v5m2-11v11m1-10v8m1-3v1m1-4v3m1 3v4m1-10v8m1-8v7m2-1v7m1-8v3m5-1v2m2-10v9m1-10v10m1-5v9m5-6v7m1-5v4m6-12v5m2-1v5m1-4v4m1-5v2m3-4v5m2 0v3m1-7v2m2 0v4m4-3v2m1-7v8m1-8v3m1-5v8m5-7v8m1-9v6m1-8v14m2-12v11m6-11v6m1-4v8m1-8v5m1-5v4m1 1v3m1-2v3m1-10v7m1-10v9m0 1v2m1-8v7m1-8v6m8-4v2m3 1v3m1-3v1m1-4v4m8-9v8m1-3v11m2-13v4m7-9v12m1-16v16m1-8v4m5-8v2m0 7v7m1-10v2m6-13v10m1-9v15m7-7v5m2-8v7m1-9v4m1-7v11m1-15v9m0 1v2m4-7v9m2-15v4m5 10v3m2-10v5m1-14v6m3 3v4m2-12v4m4-11v12m1-4v6m1-9v9m2-1v3m1-14v5m2 1v4m1-7v2m0 4v3m1-12v3m0 6v2m1-20v15m6-13v2m0 6v4m1-2v2m1-17v3m4-2v2m2 9v3m3-14v5m1 3v1"/><path stroke="#ffe700" d="M151.5 179v5m1-8v2m0 9v2m1-13v5m0 5v2m1-9v2m0 3v2m1-6v9m3-22v4m0 4v1m0 2v4m1-1v4m1-9v3m0 5v2m2-11v10m5-4v8m1-3v2m0 1v4m1-11v3m2 0v3m3-9v1m0 1v11m3-4v5m1-8v1m5 11v4m1-7v4m3 3v4m1-10v4m2-5v4m3 4v4m3-15v1m1-1v8m2-5v6m2-16v21m1-13v15m2-2v3m2-11v2m1-5v7m1-4v2m1-2v7m1-3v7m3-20v13m2-1v11m1-13v11m3-16v11m3-9v10m3-6v7m1-8v1m1 9v3m1-3v2m1-6v2m1 0v2m1-2v4m2-13v11m2-4v4m1-6v6m3 1v3m1-7v5m1-7v6m2-10v10m2-7v11m2-11v8m1-10v2m5-2v13m0 3v1m1-3v1m1-5v4m1-5v5m1-5v6m1-9v7m1-5v7m6-5v3m1-7v6m1-1v4m1-4v3m1-7v5m1-1v7m1-12v7m6-7v3m1-8v1m3 4v6m10-3v4m3-4v1m1-6v8m5-9v4m2 1v2m1-4v4m1 4v1m1-4v1m4-2v2m1-2v1m0 1v3m1-6v7m5-4v2m1-6v7m1-3v1m2 0v2m1-5v2m4-8v5m4 1v2m1-5v9m4-11v7m1-8v4m1-2v5m1 0v1m1-2v7m1-15v7m2-6v10m1-11v5m6-1v2m1-6v5m1 2v1m1-4v10m4-9v2m1-1v2m1-6v8m1-10v6m9-1v1m3-12v7m2 1v2m1-6v3m2 0v10m1-1v1m1-8v4m1-5v7m1-5v4m4-6v9m1-9v11m1-3v5m2-20v6m1-1v1m1-5v12m1-4v6m3-7v2m1-5v1m2 1v6m1-7v10m1-10v11m1-2v4m8-3v1m4-16v4m2-9v12m1-4v6m2-12v15m2-11v9m1-13v12m1-2v5m2-15v5m10-6v1m0 1v8m1-13v6m2-10v1m1 1v14m1-11v4m1-2v3m1 2v3m1-13v5m2-5v10m1-7v2m0 5v3m1-14v6m2 4v3m1-7v5m1-2v2m1-19v7m0 1v8m4-4v5m4-14v4m3 3v2m1-14v2m2 0v3m2 1v6m2-11v1m4-9v4m0 4v5m2 0v5m1-11v3m3-5v9m2-18v14"/><path stroke="#fff700" d="M154.5 188v2m4-13v1m1-6v4m0 2v3m1 2v1m0 3v2m1-10v6m4-4v4m1-5v2m0 3v3m0 4v2m1-2v2m6-10v13m2-16v14m3-7v7m1-5v3m0 6v4m1-18v14m1-10v11m1-13v8m2 3v2m1-5v6m4-10v8m2-5v4m1-10v2m2 6v11m3-8v4m1-8v8m5-4v10m1-6v2m1-6v7m3-7v5m0 3v1m1-2v5m4-9v4m4-7v10m1-14v12m1-3v5m1-9v9m2-4v6m2-12v11m2-7v6m0 1v2m2-5v1m1 0v5m1-5v2m1-5v1m2 2v8m10-7v6m3-11v9m3-10v9m1-12v9m1-9v8m2 9v1m2-1v1m1-4v4m1-2v2m1-5v4m1-1v3m1-8v5m4-6v3m1-7v4m4 2v6m3-10v6m1-13v1m1 1v1m1-2v14m3-14v9m1-9v10m1-3v4m1-10v3m2 1v6m1-3v6m1-14v3m0 7v5m1-11v1m3-5v8m4 4v2m1-6v2m5-8v8m4-2v4m2-2v5m1-8v8m1-11v8m1-7v8m2 0v4m2-10v7m1-7v8m1-4v5m2-11v5m3 2v3m1-2v4m1-7v4m1-6v7m1-9v4m4-5v4m1-1v4m5-6v7m4-3v2m1 3v1m6-13v6m1-3v2m1-5v1m3 1v5m4-9v5m1 3v1m2-2v4m5-4v1m1-4v8m1-9v6m2 2v7m1-2v4m2-14v5m1-7v7m4-11v6m4 1v7m3-8v5m1-7v4m4-5v6m7-8v11m2-12v5m1-2v3m1 1v3m3-5v4m4-22v3m1 6v1m1-3v9m1-3v7m5-8v5m1-8v6m1 0v4m5-12v2m7 7v3m9-19v4m1-6v15m4-8v4m6-8v9m2-10v4m5 2v3m1-12v5m1-3v3m1-2v10m1-9v5m2-8v2m1-3v3m0 4v2m1-7v1m4-2v2m0 1v2m2-15v4m1-1v3m0 4v2m1-10v1m0 2v8m1-9v5m2-10v2m1 1v5m3 2v1m1-2v2m2-15v4"/></g>
<path d="M69.4 74.7L69.4 283.3M69.4 283.3L283.4 379.4M283.4 379.4L563.5 303.7M283.4 379.4L290.2 382.5M353.4 360.5L360.3 363.5M423.4 341.5L430.3 344.6M493.5 322.6L500.3 325.7M563.5 303.7L570.3 306.8M283.4 379.4L276.2 381.4M229.9 355.4L222.7 357.3M176.4 331.4L169.2 333.3M122.9 307.3L115.7 309.3M69.4 283.3L62.2 285.3M69.4 283.3L62.6 280.2M69.4 231.2L62.6 228.1M69.4 179L62.6 175.9M69.4 126.8L62.6 123.8M69.4 74.7L62.6 71.6" fill="none" stroke="#333" stroke-width="1"/>
<g class="tk"><text x="293.6" y="407.4">0</text><text x="363.6" y="388.5">25</text><text x="433.6" y="369.5">50</text><text x="503.7" y="350.6">75</text><text x="573.7" y="331.7">100</text><text x="272.8" y="405.7" text-anchor="end">0</text><text x="219.3" y="381.7" text-anchor="end">25</text><text x="165.8" y="357.7" text-anchor="end">50</text><text x="112.3" y="333.6" text-anchor="end">75</text><text x="58.8" y="309.6" text-anchor="end">100</text><text x="58.1" y="288.7" text-anchor="end">-4</text><text x="58.1" y="236.6" text-anchor="end">-2</text><text x="58.1" y="184.4" text-anchor="end">0</text><text x="58.1" y="132.2" text-anchor="end">2</text><text x="58.1" y="80.1" text-anchor="end">4</text></g>
</g>
<g id="plotB">
<path d="M137.2 586.7L137.2 761.3M206 564L206 738.6M274.8 541.3L274.8 715.9M343.6 518.6L343.6 693.2M68.4 784L343.6 693.2M343.6 693.2L563.1 807.7M68.4 725.8L343.6 635M343.6 635L563.1 749.5M68.4 667.6L343.6 576.8M343.6 576.8L563.1 691.3M68.4 609.4L343.6 518.6M343.6 518.6L563.1 633.1M398.5 547.2L398.5 721.8M453.4 575.9L453.4 750.5M508.2 604.5L508.2 779.1M563.1 633.1L563.1 807.7M356.7 875.8L137.2 761.3M425.5 853.1L206 738.6M494.3 830.4L274.8 715.9M233 869.9L508.2 779.1M178.1 841.2L453.4 750.5M123.3 812.6L398.5 721.8" fill="none" stroke="#333" stroke-width="1.15" stroke-dasharray="1.4 4" />
<path d="M72.9 781L75.6 780.6L77.3 782.1L79.4 783.9L80.7 783.1L83.5 785.1L85.4 785.1L87 787.8L88.7 789.4L91.4 788.2L92.3 790.5L95.4 791.1L96.5 792.2L98.2 792.8L100.7 794.4L102.4 794.8L104.3 796.4L106.3 796.4L109 798.7L110.7 798.8L113 801.4L114 801.2L116.6 803.1L118.8 803.4L120.7 805.1L122 805.9L124.7 807.5L126.2 807.9L127.5 808.1L130.4 809.5L131.6 810.9L134.2 812.2L135.8 812.7L137.9 814.5L139.9 814.6L141.8 814.7L143.2 817.4L146.3 818.1L147.5 818.1L149.6 821.1L151.9 821.1L154 821.3L155.5 824.1L157.5 823.9L159.1 825.2L161.9 824.9L163.6 827.9L165.7 828.7L167.6 829.2L169.2 830L170.6 832.1L173.2 831.5L175 833.2L176.8 833.9L179 835.5L181 836.2L182.3 836.6L184.4 838.5L187.2 840L189.1 841.1L190.4 842.2L192.8 841.4L194 842.2L196.9 843.8L198 845.7L200.3 845.4L202 847.6L204 848L206.6 849.4L208.1 850.5L209.7 851.3L212.1 851.8L213.7 854.6L216.1 853.9L218.2 856.4L219.4 855.5L221.5 858.2L223.5 859.2L226.1 859.8L227.5 861.9L230.1 861.8L231.4 863.1L233.6 864L235.4 865.1L237.1 865.4L240.1 867.8L241.3 868.8L243.3 870L245.7 869.7L247.1 869.8L249.8 870.9L251.7 874.1L253.3 873.2L255.7 876.2L257.4 876.1L259 876.7L260.7 878.5L263 878.4L264.5 880.5L266.7 881.2L268.7 883.1L271.3 882L272.5 883.8L275.4 885.9L276.5 885.6L278.9 888.1L281.2 887.9L283 889.8L284.5 891.5L286.2 891.9L288 891.6L290.9 891L292.6 891.3L294.6 890.1L296 889.3L298.5 889.4L300.6 889.5L301.5 888L303.4 886.2L305.3 887.5L308.1 886.8L309.5 885.7L311.9 884.5L313.6 883.4L314.9 882.9L317.8 883L319.8 882.1L320.9 882.3L323.5 879.8L325.3 879.3L326.5 880.6L328.4 878.4L331.4 878.2L332.3 877L334.4 877.7L336.1 877.5L338.4 877L341 874.7L342.1 874.5L343.8 874.3L345.7 872.1L348.8 872.2L350.2 871.9L351.8 870.3L354.5 871.9L356.4 869.2L357.5 869.8L360.3 869L361.9 868.6L363.3 867.7L365.3 866.3L366.9 865.8L369.9 865.6L371.5 865.4L373.7 864.1L374.9 863.4L376.9 864L379.5 862L380.7 862L382.9 861.5L384.5 859.4L386.4 858.9L388.7 858.3L390 859L392.2 858.8L394.4 858.3L395.9 856.8L398.6 855.1L400.7 854.7L402.4 856L404.4 853.8L405.5 853.6L408.4 852.5L410.3 851.5L412.2 850.6L413.5 852L416 851.4L417.9 850.4L419.7 848.4L421.3 847.7L423.6 848.3L424.9 846.2L427.7 847.3L429.1 846.1L431.4 845.2L432.8 844.3L434.6 842.9L437 843.2L438.8 841.7L440.5 841.3L442.1 840.9L444.9 840.6L446.3 840.5L448 838.4L450.3 839L452.4 838.2L454.4 838.3L455.7 837.1L458 835.8L459.8 835.9L462.3 836.2L463.5 834.9L465.1 832.9L467.6 834.2L469.1 833.3L471.9 831.5L473.6 832.2L475.2 831.2L477.5 830.3L479.6 830.4L481.6 829L482.6 827.6L484.6 827.7L487.2 825.8L489 826.8L490.5 825.7L492.3 825.6L494 825.5L496.9 824L498.2 824.1L500.9 821.6L502.6 822.6L504.4 821.7L506.1 821.6L508.6 819.6L510.4 819.1L511.5 818.2L513.4 819L516.3 816.5L517.8 816.5L519.2 815.6L521.2 816.1L522.9 814.1L525.3 813L527.5 813.8L529.7 812.2L530.9 812.4L532.8 811.9L534.7 811.5L537.3 811.1L539.5 809.9L540.8 810L543.1 808.6L544.5 807.3L546.1 807.9L548.1 807.2L550.5 807L552.7 806.4L553.9 804.7L556.3 803.6L558.2 803.2L554.6 800.7L550.9 799.6L547.2 797.6L544 796.2L540.2 794.3L536.5 791.7L532.7 789.9L529.6 789L526.2 786.6L522.7 784.6L519 782.7L515.3 781.7L511.4 778.5L508.1 777.3L504.3 774.5L500.7 773.3L497.1 772.2L493.7 770.1L490.4 768.3L486.4 766.4L483 764.4L479.4 762.1L475.8 760.6L472.5 759L468.8 757.1L465.2 754.9L461.2 752.5L457.9 751.6L454.2 748.6L450.9 747.3L447 744.7L443.4 743.9L439.8 741.4L436.4 739L432.7 738.6L429.2 735.9L425.7 734.4L421.7 731.9L418.6 730.1L414.4 729.1L411.2 726.5L407.6 725.2L403.7 723.2L400.6 721.6L396.6 719.4L393 717.5L389.4 716L386.4 713.3L382.3 712.5L379.1 710.4L374.9 708.6L371.8 705.8L368.1 704.7L364.8 701.9L361.1 700L357.8 698.6L354.1 697.2L350.3 694.5L346.6 692.5L342.8 691.5L338.4 693.1L333.8 694.5L329.7 695.3L324.7 696.9L320.6 698L315.8 699.4L311.7 702.2L306.9 702.3L302.8 705L298.5 706.2L293.5 708L288.8 709.3L284.3 710.3L280.1 711.7L275.4 713L271.4 714.8L266.7 715.9L262.3 717.6L257.7 720L253.5 720.1L248.9 722.9L244 723.6L239.7 726L235.1 727.4L230.9 727.7L226.5 729L221.4 731.5L216.8 732.5L212.4 734.1L208.5 736.3L203.3 736.5L199.5 737.9L194.5 739.5L189.9 740.8L185.8 743.5L181.4 745.1L176.9 745.9L172.3 748.3L167.9 748.6L162.9 751.2L158.8 751.7L154.3 753.6L149.8 754.2L145.1 756.3L140.5 758.5L136.2 759.7L132 761.3L127.5 762.8L122.6 764.6L118 766L114.1 767.4L108.9 767.6L105.1 769.7L100.2 772L95.5 772.8L91.3 773.6L86.7 776L82.6 776.4L77.9 778" fill="#0000cd"/>
<path fill="#0000d1" d="M450.6 744L441.2 739.1L431.7 734.1L422.4 729.3L413.1 724.5L404.1 719.7L395.3 715.1L386.8 710.7L378.5 706.4L370.7 702.3L359.6 699.6L344.6 698.5L329.4 697.9L314.3 697.8L304.6 701L294.5 704.3L284 707.8L273.2 711.4L262 715.1L250.5 718.8L238.9 722.7L227.1 726.6L215.2 730.5L203.3 734.4L191.4 738.3L179.6 742.2L168 746.1L156.5 749.9L145.3 753.5L134.4 757.1L123.9 760.6L113.8 763.9L104.2 767.1L101 773.2L99.1 779.5L98.2 785.8L102.1 790.9L109.9 795L118.2 799.3L126.7 803.8L135.5 808.4L144.5 813.1L153.8 817.9L163.1 822.8L172.6 827.7L182.1 832.6L191.5 837.6L201 842.5L210.3 847.4L219.6 852.2L228.6 856.9L237.4 861.5L245.9 866L254.2 870.3L262 874.4L273.1 877.1L288.1 878.1L303.3 878.8L318.4 878.9L328.1 875.7L338.2 872.4L348.7 868.9L359.5 865.3L370.7 861.6L382.2 857.8L393.8 854L405.6 850.1L417.5 846.2L429.4 842.2L441.3 838.3L453.1 834.4L464.7 830.6L476.2 826.8L487.4 823.1L498.3 819.5L508.8 816.1L518.9 812.7L528.5 809.5L531.7 803.4L533.6 797.1L534.5 790.8L530.6 785.7L522.8 781.6L514.5 777.3L506 772.9L497.2 768.3L488.2 763.6L478.9 758.8L469.6 753.9L460.1 749"/><path fill="#0000d2" d="M450.6 744L441.2 739.1L431.9 734.2L422.6 729.4L413.5 724.6L404.5 719.9L395.8 715.4L387.4 711L379.2 706.7L371.4 702.6L359.2 700.4L344.3 699.3L329.3 698.7L314.2 698.5L303.8 701.2L293.8 704.5L283.3 708L272.6 711.5L261.5 715.2L250.1 718.9L238.6 722.7L226.9 726.6L215.1 730.5L203.3 734.4L191.6 738.2L179.9 742.1L168.3 745.9L157 749.6L145.9 753.3L135.1 756.9L124.7 760.3L114.7 763.6L106 767.2L103.1 773.3L101.1 779.5L100.2 785.8L102.8 791.3L110.6 795.3L118.8 799.6L127.2 804L135.9 808.5L144.9 813.2L154 818L163.3 822.8L172.6 827.7L182.1 832.6L191.5 837.5L200.8 842.4L210.1 847.2L219.2 852L228.2 856.6L236.9 861.2L245.3 865.6L253.5 869.9L261.3 873.9L273.5 876.2L288.4 877.3L303.4 877.9L318.5 878L328.9 875.3L338.9 872L349.4 868.6L360.1 865.1L371.2 861.4L382.6 857.7L394.1 853.8L405.8 850L417.6 846.1L429.4 842.2L441.1 838.3L452.8 834.5L464.4 830.7L475.7 826.9L486.8 823.3L497.6 819.7L508 816.3L518 813L526.7 809.4L529.6 803.2L531.6 797L532.5 790.8L529.9 785.3L522.1 781.2L513.9 777L505.5 772.6L496.8 768L487.8 763.4L478.7 758.6L469.4 753.8L460.1 748.9"/><path fill="#0000d2" d="M450.6 743.9L441.3 739.1L432.1 734.2L422.9 729.4L413.8 724.7L405 720.1L396.3 715.6L387.9 711.2L379.9 707L372.1 703L358.8 701.1L344 700.1L329.1 699.5L314.2 699.3L302.9 701.5L293 704.7L282.6 708.1L272 711.7L261 715.3L249.7 719L238.3 722.8L226.7 726.6L215.1 730.4L203.4 734.3L191.7 738.1L180.2 741.9L168.7 745.7L157.5 749.4L146.5 753L135.8 756.6L125.5 760L115.6 763.2L108 767.3L105.1 773.4L103.1 779.6L102.2 785.8L103.6 791.6L111.3 795.6L119.4 799.8L127.7 804.2L136.4 808.7L145.2 813.3L154.3 818.1L163.5 822.8L172.7 827.7L182.1 832.5L191.4 837.4L200.6 842.2L209.8 847L218.9 851.7L227.7 856.4L236.4 860.9L244.8 865.2L252.8 869.5L260.6 873.5L273.9 875.3L288.7 876.4L303.6 877L318.5 877.1L329.8 875L339.7 871.7L350.1 868.3L360.7 864.8L371.7 861.2L383 857.5L394.4 853.7L406 849.9L417.6 846L429.3 842.2L441 838.3L452.5 834.5L464 830.7L475.2 827L486.2 823.4L496.9 819.9L507.2 816.5L517.1 813.2L524.7 809.1L527.6 803L529.6 796.9L530.5 790.7L529.1 784.9L521.4 780.8L513.3 776.6L505 772.3L496.3 767.7L487.5 763.1L478.4 758.4L469.2 753.6L460 748.8"/><path fill="#0000d2" d="M450.6 743.9L441.4 739L432.2 734.3L423.1 729.5L414.2 724.8L405.4 720.3L396.8 715.8L388.5 711.5L380.5 707.3L372.8 703.3L358.4 701.9L343.8 700.9L329 700.3L314.2 700.1L302 701.7L292.2 704.9L281.9 708.3L271.4 711.8L260.5 715.4L249.4 719.1L238 722.8L226.6 726.6L215 730.4L203.4 734.2L191.9 738L180.4 741.8L169.1 745.5L158 749.2L147.1 752.8L136.5 756.3L126.3 759.7L116.5 762.9L110 767.5L107.1 773.5L105.1 779.6L104.3 785.7L104.4 791.9L112 795.9L119.9 800.1L128.2 804.4L136.8 808.9L145.6 813.5L154.5 818.1L163.6 822.9L172.8 827.7L182.1 832.5L191.3 837.3L200.5 842.1L209.6 846.8L218.5 851.5L227.3 856.1L235.9 860.5L244.2 864.9L252.2 869L259.9 873L274.3 874.4L288.9 875.5L303.7 876.1L318.5 876.2L330.7 874.6L340.5 871.4L350.8 868L361.3 864.5L372.2 861L383.3 857.3L394.7 853.5L406.1 849.8L417.7 846L429.3 842.1L440.8 838.3L452.3 834.5L463.6 830.8L474.7 827.1L485.6 823.5L496.2 820.1L506.4 816.7L516.2 813.4L522.7 808.9L525.6 802.8L527.6 796.7L528.4 790.6L528.3 784.5L520.7 780.4L512.8 776.3L504.5 771.9L495.9 767.5L487.1 762.9L478.2 758.2L469.1 753.5L459.9 748.7"/><path fill="#0000d3" d="M450.6 743.8L441.5 739L432.4 734.3L423.4 729.6L414.5 724.9L405.8 720.4L397.4 716L389.1 711.7L381.2 707.6L372.2 704.1L358 702.6L343.5 701.6L328.9 701L314.2 700.9L301.1 701.9L291.4 705.1L281.2 708.5L270.8 711.9L260 715.5L249 719.1L237.8 722.8L226.4 726.6L215 730.3L203.5 734.1L192.1 737.9L180.7 741.6L169.5 745.3L158.5 749L147.7 752.5L137.2 756L127.1 759.3L117.4 762.5L112 767.6L109.1 773.6L107.2 779.6L106.3 785.7L106.4 791.8L112.6 796.2L120.5 800.3L128.8 804.6L137.2 809L145.9 813.6L154.8 818.2L163.8 822.9L172.9 827.6L182.1 832.4L191.2 837.2L200.3 841.9L209.3 846.6L218.2 851.2L226.9 855.8L235.3 860.2L243.6 864.5L251.5 868.6L260.5 872.1L274.7 873.5L289.2 874.6L303.8 875.1L318.5 875.3L331.6 874.3L341.3 871.1L351.5 867.7L361.9 864.3L372.7 860.7L383.7 857.1L394.9 853.4L406.3 849.6L417.7 845.9L429.2 842.1L440.6 838.3L452 834.6L463.2 830.9L474.2 827.2L485 823.7L495.5 820.2L505.6 816.9L515.3 813.7L520.7 808.6L523.6 802.6L525.5 796.6L526.4 790.5L526.3 784.4L520.1 780L512.2 775.9L503.9 771.6L495.5 767.2L486.8 762.6L477.9 758L468.9 753.3L459.8 748.6"/><path fill="#0000d4" d="M450.6 743.7L441.6 739L432.6 734.3L423.7 729.6L414.9 725L406.3 720.6L397.9 716.2L389.7 711.9L381.9 707.8L371.7 704.8L357.6 703.4L343.2 702.4L328.8 701.8L314.3 701.6L300.2 702.1L290.6 705.3L280.5 708.6L270.2 712L259.5 715.5L248.6 719.2L237.5 722.8L226.2 726.5L214.9 730.3L203.6 734L192.2 737.7L181 741.5L169.9 745.1L159 748.7L148.3 752.2L137.9 755.7L127.9 759L118.3 762.1L114 767.7L111.1 773.6L109.2 779.6L108.3 785.6L108.5 791.7L113.3 796.5L121.1 800.5L129.3 804.8L137.7 809.2L146.3 813.7L155.1 818.2L164 822.9L173 827.6L182.1 832.3L191.1 837L200.1 841.7L209 846.4L217.8 851L226.4 855.5L234.8 859.9L243 864.1L250.8 868.2L261 871.2L275.1 872.6L289.5 873.6L303.9 874.2L318.4 874.4L332.5 873.9L342.1 870.7L352.2 867.4L362.5 864L373.2 860.5L384.1 856.9L395.2 853.2L406.5 849.5L417.8 845.8L429.1 842L440.5 838.3L451.7 834.6L462.8 830.9L473.7 827.3L484.4 823.8L494.8 820.4L504.8 817.1L514.4 813.9L518.7 808.3L521.6 802.4L523.5 796.4L524.4 790.4L524.2 784.4L519.4 779.6L511.6 775.5L503.4 771.2L495 766.8L486.4 762.4L477.6 757.8L468.7 753.1L459.7 748.4"/><path fill="#0000d4" d="M450.6 743.6L441.7 738.9L432.8 734.3L423.9 729.7L415.2 725.1L406.7 720.7L398.4 716.3L390.3 712.1L382.6 708.1L371.2 705.5L357.2 704.1L343 703.1L328.7 702.5L314.3 702.4L299.9 702.6L289.8 705.5L279.8 708.7L269.6 712.1L259 715.6L248.2 719.2L237.2 722.8L226.1 726.5L214.9 730.2L203.6 733.9L192.4 737.6L181.3 741.3L170.3 744.9L159.5 748.5L148.9 752L138.6 755.3L128.7 758.6L119.8 762.1L115.9 767.8L113.1 773.7L111.2 779.6L110.4 785.6L110.5 791.5L114 796.7L121.7 800.8L129.8 805L138.1 809.3L146.6 813.8L155.3 818.3L164.2 822.9L173.1 827.6L182.1 832.2L191 836.9L199.9 841.6L208.8 846.2L217.5 850.7L226 855.2L234.3 859.5L242.4 863.7L250.1 867.7L261.5 870.3L275.5 871.7L289.7 872.7L304 873.3L318.4 873.5L332.8 873.2L342.9 870.4L352.9 867.1L363.1 863.7L373.7 860.2L384.5 856.7L395.5 853L406.6 849.3L417.8 845.6L429.1 841.9L440.3 838.2L451.4 834.6L462.4 830.9L473.2 827.4L483.8 823.9L494.1 820.5L504 817.2L512.9 813.8L516.8 808L519.6 802.2L521.5 796.2L522.3 790.3L522.2 784.3L518.7 779.1L511 775.1L502.9 770.9L494.6 766.5L486.1 762.1L477.4 757.5L468.5 752.9L459.6 748.3"/><path fill="#0000d5" d="M450.6 743.5L441.8 738.9L432.9 734.3L424.2 729.7L415.6 725.2L407.1 720.8L398.9 716.5L390.9 712.3L383.2 708.3L370.6 706.2L356.8 704.8L342.7 703.9L328.5 703.3L314.3 703.1L300.1 703.4L289 705.6L279.2 708.9L269 712.2L258.5 715.7L247.8 719.2L236.9 722.8L225.9 726.4L214.8 730.1L203.7 733.8L192.6 737.4L181.5 741.1L170.6 744.7L159.9 748.2L149.5 751.6L139.3 755L129.5 758.2L121.7 762.2L117.9 767.9L115.1 773.7L113.2 779.6L112.4 785.5L112.5 791.4L114.6 797L122.3 801L130.3 805.1L138.5 809.4L147 813.8L155.6 818.3L164.3 822.9L173.2 827.5L182.1 832.1L190.9 836.7L199.8 841.4L208.5 845.9L217.1 850.4L225.6 854.8L233.8 859.1L241.8 863.3L249.5 867.3L262.1 869.4L275.9 870.8L290 871.8L304.2 872.3L318.4 872.5L332.6 872.3L343.7 870L353.5 866.8L363.7 863.4L374.2 859.9L384.9 856.4L395.8 852.8L406.8 849.2L417.9 845.5L429 841.8L440.1 838.2L451.2 834.5L462.1 831L472.8 827.4L483.2 824L493.4 820.6L503.2 817.4L511 813.4L514.8 807.7L517.6 801.9L519.5 796.1L520.3 790.2L520.2 784.2L518.1 778.7L510.4 774.7L502.4 770.5L494.2 766.2L485.7 761.8L477.1 757.3L468.4 752.7L459.5 748.1"/><path fill="#0000d6" d="M450.6 743.4L441.9 738.8L433.1 734.2L424.5 729.7L415.9 725.3L407.6 720.9L399.4 716.7L391.5 712.5L383.5 708.7L370.1 706.9L356.4 705.5L342.4 704.6L328.4 704L314.3 703.8L300.2 704.1L288.2 705.8L278.5 709L268.4 712.3L258 715.7L247.4 719.2L236.7 722.8L225.7 726.4L214.7 730L203.7 733.6L192.7 737.3L181.8 740.9L171 744.4L160.4 747.9L150.1 751.3L140 754.6L130.3 757.9L123.6 762.4L119.9 768L117.1 773.7L115.3 779.5L114.4 785.4L114.6 791.2L115.7 797.1L122.9 801.2L130.8 805.3L139 809.5L147.3 813.9L155.9 818.3L164.5 822.9L173.3 827.4L182.1 832L190.8 836.6L199.6 841.1L208.2 845.7L216.8 850.1L225.1 854.5L233.3 858.7L241.2 862.8L249.2 866.7L262.6 868.5L276.3 869.8L290.3 870.8L304.3 871.4L318.4 871.5L332.5 871.3L344.5 869.6L354.2 866.4L364.3 863.1L374.7 859.7L385.3 856.2L396 852.6L407 849L418 845.4L429 841.7L440 838.1L450.9 834.5L461.7 831L472.3 827.5L482.6 824L492.7 820.7L502.4 817.5L509.1 813L512.8 807.4L515.6 801.6L517.4 795.8L518.3 790L518.1 784.2L517 778.3L509.8 774.2L501.9 770.1L493.7 765.8L485.4 761.5L476.8 757L468.2 752.5L459.4 748"/><path fill="#0000d7" d="M450.6 743.2L442 738.7L433.3 734.2L424.7 729.7L416.3 725.3L408 721L399.9 716.8L392.1 712.7L382.8 709.3L369.5 707.6L356 706.2L342.2 705.3L328.3 704.7L314.3 704.5L300.4 704.8L287.4 705.9L277.8 709.1L267.8 712.3L257.5 715.7L247.1 719.2L236.4 722.7L225.6 726.3L214.7 729.9L203.8 733.5L192.9 737.1L182.1 740.6L171.4 744.1L160.9 747.6L150.7 751L140.7 754.3L131.1 757.5L125.6 762.5L121.9 768L119.1 773.7L117.3 779.5L116.5 785.2L116.6 791L117.7 796.8L123.5 801.3L131.3 805.4L139.4 809.6L147.7 813.9L156.1 818.3L164.7 822.8L173.4 827.3L182.1 831.9L190.7 836.4L199.4 840.9L208 845.4L216.4 849.8L224.7 854.1L232.8 858.3L240.6 862.4L249.9 865.7L263.2 867.5L276.7 868.9L290.5 869.8L304.4 870.4L318.4 870.5L332.3 870.3L345.3 869.2L354.9 866L364.9 862.7L375.2 859.4L385.6 855.9L396.3 852.4L407.1 848.8L418 845.2L428.9 841.6L439.8 838L450.6 834.5L461.3 830.9L471.8 827.5L482 824.1L492 820.8L501.6 817.6L507.1 812.6L510.8 807L513.6 801.4L515.4 795.6L516.2 789.8L516.1 784L515 778.3L509.2 773.8L501.4 769.7L493.3 765.5L485 761.2L476.6 756.8L468 752.3L459.3 747.8"/><path fill="#0000d8" d="M450.6 743.1L442 738.6L433.5 734.1L425 729.7L416.6 725.3L408.4 721.1L400.5 716.9L392.7 712.8L382.2 710L369 708.2L355.6 706.9L341.9 705.9L328.2 705.4L314.4 705.2L300.6 705.5L286.8 706.1L277.1 709.1L267.2 712.4L257 715.7L246.7 719.2L236.1 722.6L225.4 726.2L214.6 729.7L203.8 733.3L193.1 736.8L182.4 740.4L171.8 743.9L161.4 747.3L151.3 750.6L141.4 753.9L132.1 757.2L127.5 762.6L123.8 768.1L121.1 773.7L119.3 779.4L118.5 785.1L118.6 790.8L119.7 796.6L124.1 801.5L131.9 805.5L139.8 809.7L148 813.9L156.4 818.3L164.9 822.7L173.4 827.2L182.1 831.7L190.7 836.2L199.2 840.6L207.7 845.1L216.1 849.4L224.3 853.7L232.2 857.9L240 861.9L250.5 864.8L263.7 866.5L277.1 867.9L290.8 868.8L304.5 869.4L318.3 869.5L332.1 869.3L345.9 868.7L355.6 865.6L365.5 862.4L375.7 859L386 855.6L396.6 852.1L407.3 848.6L418.1 845L428.9 841.5L439.6 837.9L450.3 834.4L460.9 830.9L471.3 827.5L481.4 824.1L491.3 820.9L500.6 817.6L505.2 812.2L508.9 806.7L511.6 801.1L513.4 795.4L514.2 789.7L514.1 783.9L513 778.2L508.6 773.3L500.8 769.3L492.9 765.1L484.7 760.8L476.3 756.5L467.8 752L459.3 747.6"/><path fill="#0000d9" d="M450.6 742.9L442.1 738.4L433.6 734L425.3 729.6L417 725.3L408.9 721.1L401 717L393.3 713L381.5 710.6L368.4 708.9L355.1 707.5L341.7 706.6L328 706L314.4 705.9L300.7 706.1L287.1 706.7L276.4 709.2L266.6 712.4L256.6 715.7L246.3 719.1L235.8 722.5L225.2 726L214.6 729.5L203.9 733.1L193.2 736.6L182.6 740.1L172.2 743.5L161.9 746.9L151.9 750.2L142.1 753.5L134 757.3L129.5 762.6L125.8 768.1L123.1 773.6L121.3 779.3L120.5 784.9L120.7 790.6L121.8 796.3L124.7 801.6L132.4 805.6L140.3 809.7L148.4 813.9L156.7 818.3L165.1 822.6L173.5 827.1L182.1 831.5L190.6 835.9L199.1 840.4L207.4 844.7L215.7 849.1L223.8 853.3L231.7 857.4L239.4 861.4L251.2 863.8L264.3 865.5L277.6 866.9L291 867.8L304.7 868.3L318.3 868.5L332 868.3L345.6 867.6L356.3 865.2L366.1 862L376.1 858.7L386.4 855.3L396.9 851.8L407.5 848.3L418.1 844.8L428.8 841.3L439.5 837.8L450.1 834.3L460.5 830.8L470.8 827.5L480.8 824.1L490.6 820.9L498.7 817.1L503.2 811.8L506.9 806.3L509.6 800.7L511.4 795.1L512.2 789.4L512 783.8L510.9 778.1L508 772.8L500.3 768.8L492.4 764.7L484.3 760.4L476 756.1L467.6 751.7L459.2 747.3"/><path fill="#0000da" d="M450.6 742.7L442.2 738.3L433.8 733.9L425.5 729.5L417.3 725.3L409.3 721.1L401.5 717L393.4 713.2L380.8 711.2L367.9 709.5L354.7 708.1L341.4 707.2L327.9 706.7L314.4 706.5L300.9 706.7L287.4 707.4L275.7 709.2L266 712.4L256.1 715.6L245.9 719L235.6 722.4L225.1 725.9L214.5 729.3L203.9 732.8L193.4 736.3L182.9 739.8L172.6 743.2L162.4 746.5L152.5 749.8L142.8 753L135.9 757.4L131.4 762.7L127.8 768.1L125.1 773.6L123.4 779.1L122.6 784.7L122.7 790.4L123.8 796L125.8 801.5L132.9 805.6L140.7 809.7L148.7 813.9L156.9 818.2L165.2 822.5L173.6 826.9L182.1 831.3L190.5 835.7L198.9 840.1L207.2 844.4L215.4 848.7L223.4 852.8L231.2 856.9L239.3 860.7L251.9 862.8L264.8 864.5L278 865.8L291.3 866.7L304.8 867.3L318.3 867.4L331.8 867.2L345.3 866.6L357 864.8L366.7 861.6L376.6 858.3L386.8 854.9L397.1 851.5L407.6 848.1L418.2 844.6L428.8 841.1L439.3 837.6L449.8 834.2L460.1 830.7L470.3 827.4L480.2 824.1L489.9 820.9L496.8 816.6L501.3 811.3L504.9 805.9L507.6 800.4L509.3 794.8L510.1 789.2L510 783.6L508.9 778L506.9 772.4L499.8 768.3L492 764.2L484 760L475.8 755.8L467.5 751.4L459.1 747.1"/><path fill="#0000dc" d="M450.6 742.4L442.3 738L434 733.7L425.8 729.4L417.7 725.2L409.7 721.1L402 717L392.6 713.7L380.1 711.7L367.4 710L354.3 708.7L341.1 707.8L327.8 707.2L314.4 707.1L301 707.3L287.7 707.9L275 709.1L265.4 712.3L255.6 715.5L245.5 718.9L235.3 722.2L224.9 725.7L214.5 729.1L204 732.6L193.6 736L183.2 739.4L173 742.8L162.9 746.1L153.1 749.4L143.5 752.5L137.8 757.4L133.3 762.7L129.8 768L127.1 773.5L125.4 779L124.6 784.5L124.7 790.1L125.8 795.6L127.8 801.1L133.4 805.6L141.1 809.7L149.1 813.8L157.2 818.1L165.4 822.3L173.7 826.7L182.1 831L190.4 835.4L198.7 839.7L206.9 844L215 848.2L223 852.4L230.7 856.4L240.1 859.7L252.6 861.7L265.3 863.4L278.4 864.7L291.6 865.6L304.9 866.2L318.3 866.3L331.7 866.1L345 865.5L357.7 864.3L367.3 861.1L377.1 857.9L387.2 854.6L397.4 851.2L407.8 847.8L418.2 844.3L428.7 840.9L439.1 837.4L449.5 834L459.7 830.6L469.8 827.3L479.6 824.1L489.2 820.9L494.9 816L499.4 810.8L502.9 805.4L505.6 800L507.3 794.5L508.1 788.9L508 783.4L506.9 777.8L504.9 772.3L499.3 767.8L491.6 763.7L483.6 759.6L475.5 755.4L467.3 751.1L459 746.8"/><path fill="#0000de" d="M450.6 742.1L442.4 737.8L434.2 733.5L426 729.3L418 725.1L410.2 721L402.5 717L391.8 714.2L379.5 712.2L366.8 710.5L353.9 709.2L340.9 708.3L327.7 707.8L314.4 707.6L301.2 707.9L288 708.5L275 709.5L264.8 712.2L255.1 715.4L245.1 718.7L235 722L224.7 725.4L214.4 728.8L204.1 732.2L193.7 735.7L183.5 739L173.3 742.4L163.4 745.7L153.7 748.9L144.9 752.4L139.7 757.4L135.3 762.6L131.8 767.9L129.1 773.3L127.4 778.7L126.6 784.2L126.8 789.7L127.8 795.2L129.8 800.7L133.9 805.6L141.6 809.6L149.4 813.7L157.4 817.9L165.6 822.1L173.8 826.4L182.1 830.7L190.3 835L198.5 839.3L206.7 843.6L214.7 847.7L222.5 851.8L230.2 855.8L240.9 858.6L253.2 860.6L265.9 862.3L278.8 863.6L291.8 864.5L305 865L318.3 865.2L331.5 865L344.7 864.4L357.7 863.4L367.9 860.6L377.6 857.4L387.6 854.1L397.7 850.8L408 847.4L418.3 844L428.6 840.6L439 837.2L449.2 833.8L459.4 830.4L469.3 827.2L479 824L487.8 820.4L493 815.4L497.4 810.2L500.9 804.9L503.6 799.5L505.3 794.1L506.1 788.6L505.9 783.1L504.9 777.6L502.9 772.2L498.8 767.2L491.1 763.2L483.3 759.1L475.3 754.9L467.1 750.7L458.9 746.4"/><path fill="#0000e0" d="M450.6 741.8L442.5 737.5L434.4 733.3L426.3 729.1L418.4 724.9L410.6 720.9L402.8 717L391 714.6L378.8 712.6L366.3 711L353.5 709.7L340.6 708.8L327.6 708.3L314.5 708.1L301.4 708.4L288.4 709L275.5 709.9L264.2 712.1L254.6 715.2L244.7 718.5L234.7 721.8L224.6 725.1L214.4 728.5L204.1 731.9L193.9 735.3L183.7 738.6L173.7 741.9L163.9 745.2L154.2 748.3L146.8 752.4L141.6 757.4L137.2 762.5L133.7 767.8L131.1 773.1L129.4 778.5L128.7 783.9L128.8 789.4L129.8 794.8L131.8 800.2L134.6 805.5L142 809.5L149.8 813.5L157.7 817.7L165.8 821.9L173.9 826.1L182.1 830.4L190.2 834.6L198.3 838.9L206.4 843.1L214.3 847.2L222.1 851.3L229.9 855.2L241.7 857.5L253.9 859.5L266.4 861.1L279.2 862.4L292.1 863.3L305.1 863.9L318.2 864L331.3 863.8L344.3 863.2L357.2 862.2L368.5 860.1L378.1 856.9L388 853.7L398 850.4L408.1 847L418.3 843.6L428.6 840.3L438.8 836.9L449 833.5L459 830.2L468.8 827L478.5 823.8L485.9 819.7L491.1 814.7L495.5 809.6L499 804.4L501.6 799L503.3 793.7L504 788.2L503.9 782.8L502.9 777.4L500.9 772L498.1 766.7L490.7 762.6L482.9 758.6L475 754.5L466.9 750.3L458.8 746"/><path fill="#0000e3" d="M450.6 741.4L442.6 737.1L434.5 732.9L426.6 728.8L418.7 724.7L411 720.7L401.9 717.3L390.2 715L378.1 713L365.7 711.4L353.1 710.1L340.3 709.2L327.4 708.7L314.5 708.6L301.5 708.8L288.7 709.4L275.9 710.4L263.6 711.8L254.1 715L244.4 718.2L234.4 721.5L224.4 724.8L214.3 728.1L204.2 731.5L194.1 734.8L184 738.1L174.1 741.4L164.4 744.6L154.8 747.7L148.6 752.4L143.5 757.3L139.2 762.4L135.7 767.6L133.1 772.8L131.5 778.2L130.7 783.5L130.8 788.9L131.9 794.3L133.8 799.6L136.6 804.9L142.4 809.3L150.1 813.3L158 817.4L165.9 821.6L174 825.8L182.1 830L190.1 834.2L198.2 838.4L206.1 842.5L214 846.6L221.7 850.6L230.8 854L242.5 856.3L254.6 858.3L267 859.9L279.6 861.2L292.4 862.1L305.3 862.6L318.2 862.8L331.2 862.5L344 861.9L356.8 861L369.1 859.5L378.6 856.3L388.3 853.1L398.3 849.9L408.3 846.5L418.4 843.2L428.5 839.9L438.6 836.5L448.7 833.2L458.6 830L468.3 826.7L477.9 823.6L484.1 819L489.2 814L493.5 809L497 803.8L499.6 798.5L501.2 793.2L502 787.8L501.9 782.4L500.8 777.1L498.9 771.7L496.1 766.5L490.3 762L482.6 758L474.7 753.9L466.8 749.8L458.7 745.6"/><path fill="#0000e6" d="M450.6 740.9L442.7 736.7L434.7 732.6L426.8 728.5L419.1 724.4L411.5 720.5L401 717.6L389.4 715.3L377.4 713.4L365.2 711.7L352.7 710.5L340.1 709.6L327.3 709.1L314.5 708.9L301.7 709.2L289 709.8L276.4 710.7L263.9 712.1L253.6 714.7L244 717.9L234.2 721.1L224.2 724.4L214.2 727.7L204.2 731L194.2 734.3L184.3 737.5L174.5 740.8L164.9 744L156.4 747.5L150.5 752.3L145.4 757.1L141.1 762.2L137.7 767.3L135.1 772.5L133.5 777.8L132.7 783.1L132.8 788.4L133.9 793.7L135.8 799L138.6 804.2L142.9 809.1L150.5 813L158.2 817.1L166.1 821.2L174.1 825.3L182.1 829.5L190 833.7L198 837.8L205.9 841.9L213.6 846L221.2 849.9L231.7 852.8L243.3 855.1L255.3 857L267.5 858.6L280 859.9L292.6 860.8L305.4 861.3L318.2 861.4L331 861.2L343.7 860.6L356.3 859.7L368.8 858.3L379.1 855.7L388.7 852.5L398.5 849.3L408.5 846L418.5 842.7L428.5 839.4L438.5 836.1L448.4 832.8L458.2 829.6L467.8 826.4L476.3 822.8L482.2 818.1L487.3 813.3L491.6 808.2L495 803.1L497.6 797.9L499.2 792.6L500 787.3L499.9 782L498.8 776.7L496.9 771.4L494.1 766.2L489.8 761.3L482.2 757.4L474.5 753.3L466.6 749.2L458.6 745.1"/><path fill="#0000ea" d="M450.6 740.3L442.7 736.2L434.9 732.1L427.1 728.1L419.4 724.1L411.1 720.4L400 717.8L388.6 715.5L376.8 713.6L364.7 712L352.3 710.8L339.8 709.9L327.2 709.4L314.5 709.2L301.9 709.5L289.3 710.1L276.8 711L264.5 712.3L253.1 714.3L243.6 717.4L233.9 720.6L224.1 723.9L214.2 727.1L204.3 730.4L194.4 733.7L184.6 736.9L174.9 740.1L165.3 743.3L158.1 747.4L152.3 752.1L147.2 756.9L143 761.9L139.7 766.9L137.1 772.1L135.5 777.3L134.8 782.6L134.9 787.8L135.9 793.1L137.8 798.3L140.5 803.4L144.2 808.5L150.8 812.7L158.5 816.7L166.3 820.7L174.2 824.8L182.1 829L190 833.1L197.8 837.2L205.6 841.2L213.3 845.2L221.6 848.9L232.7 851.5L244.1 853.8L255.9 855.7L268 857.3L280.4 858.5L292.9 859.4L305.5 859.9L318.2 860.1L330.8 859.8L343.4 859.3L355.9 858.3L368.2 857L379.6 855L389.1 851.9L398.8 848.7L408.6 845.4L418.5 842.2L428.4 838.9L438.3 835.6L448.1 832.4L457.8 829.2L467.4 826L474.6 821.9L480.4 817.2L485.5 812.4L489.7 807.4L493 802.4L495.6 797.2L497.2 792L497.9 786.7L497.8 781.5L496.8 776.2L494.9 771L492.2 765.9L488.5 760.8L481.9 756.6L474.2 752.6L466.4 748.6L458.5 744.5"/><path fill="#0000ee" d="M450.6 739.7L442.8 735.6L435.1 731.6L427.4 727.6L419.8 723.6L410 720.5L399.1 717.9L387.8 715.7L376.1 713.8L364.1 712.2L351.9 711L339.6 710.1L327.1 709.6L314.5 709.5L302 709.7L289.6 710.3L277.2 711.2L265.1 712.5L253.2 714.1L243.2 716.9L233.6 720.1L223.9 723.3L214.1 726.5L204.3 729.8L194.6 733L184.8 736.2L175.3 739.4L166.4 742.8L159.9 747.2L154.1 751.8L149.1 756.6L145 761.5L141.6 766.5L139.2 771.6L137.5 776.8L136.8 782L136.9 787.2L137.9 792.3L139.8 797.5L142.5 802.6L146.1 807.6L151.2 812.2L158.8 816.2L166.5 820.2L174.2 824.3L182.1 828.3L189.9 832.4L197.6 836.5L205.3 840.5L212.9 844.4L222.7 847.5L233.6 850.1L244.9 852.4L256.6 854.3L268.6 855.8L280.8 857.1L293.1 857.9L305.6 858.4L318.2 858.6L330.7 858.4L343.1 857.8L355.5 856.8L367.6 855.5L379.5 853.9L389.5 851.1L399.1 847.9L408.8 844.7L418.6 841.5L428.4 838.3L438.1 835.1L447.9 831.8L457.4 828.7L466.3 825.3L472.8 820.8L478.6 816.2L483.6 811.5L487.7 806.5L491.1 801.5L493.5 796.4L495.2 791.3L495.9 786.1L495.8 780.9L494.8 775.7L492.9 770.5L490.2 765.5L486.6 760.5L481.5 755.8L473.9 751.9L466.2 747.8L458.5 743.8"/><path fill="#0000f3" d="M450.6 739L442.9 734.9L435.2 730.9L427.6 727L419.3 723.3L408.9 720.5L398.1 717.9L386.9 715.7L375.4 713.8L363.6 712.3L351.5 711.1L339.3 710.2L327 709.7L314.6 709.6L302.2 709.8L289.9 710.4L277.7 711.3L265.7 712.6L253.9 714.2L242.8 716.3L233.3 719.5L223.7 722.6L214.1 725.8L204.4 729L194.7 732.2L185.1 735.4L175.6 738.5L168.1 742.5L161.7 746.9L156 751.4L151 756.2L146.9 761L143.6 766L141.2 771L139.6 776.1L138.8 781.2L138.9 786.4L139.9 791.5L141.8 796.6L144.5 801.6L148 806.6L152.4 811.4L159 815.6L166.6 819.6L174.3 823.6L182.1 827.6L189.8 831.6L197.5 835.6L205.1 839.6L213.4 843.2L223.8 846.1L234.6 848.6L245.8 850.8L257.3 852.7L269.1 854.3L281.2 855.5L293.4 856.4L305.7 856.9L318.1 857L330.5 856.8L342.8 856.2L355 855.3L367 854L378.8 852.4L389.9 850.2L399.4 847.1L409 843.9L418.6 840.8L428.3 837.6L438 834.4L447.6 831.2L457.1 828.1L464.6 824.1L471 819.7L476.7 815.1L481.7 810.4L485.8 805.6L489.1 800.6L491.5 795.6L493.1 790.5L493.9 785.3L493.8 780.2L492.8 775L490.9 770L488.2 764.9L484.7 760L480.3 755.2L473.7 751L466.1 747L458.4 743"/><path fill="#0000f9" d="M450.6 738.1L443 734.1L435.4 730.2L427.8 726.3L418.1 723.2L407.9 720.4L397.2 717.8L386.1 715.6L374.7 713.8L363 712.2L351.1 711L339 710.2L326.8 709.7L314.6 709.6L302.3 709.8L290.2 710.3L278.1 711.3L266.3 712.5L254.7 714.1L243.3 716.1L233.1 718.7L223.6 721.8L214 725L204.4 728.1L194.9 731.3L185.4 734.4L176.9 738L169.8 742.1L163.4 746.5L157.8 751L152.9 755.6L148.9 760.4L145.6 765.3L143.2 770.3L141.6 775.3L140.9 780.4L141 785.5L142 790.6L143.8 795.6L146.4 800.6L149.9 805.5L154.2 810.2L159.3 814.9L166.8 818.8L174.4 822.8L182.1 826.7L189.7 830.7L197.3 834.7L204.9 838.6L214.6 841.7L224.8 844.5L235.5 847L246.6 849.2L258 851.1L269.7 852.6L281.6 853.8L293.7 854.7L305.9 855.2L318.1 855.3L330.4 855.1L342.5 854.5L354.6 853.6L366.4 852.3L378 850.7L389.4 848.8L399.6 846.2L409.1 843L418.7 839.9L428.3 836.7L437.8 833.6L447.3 830.4L455.8 826.9L462.9 822.7L469.3 818.4L474.9 813.9L479.8 809.2L483.8 804.5L487.1 799.6L489.5 794.6L491.1 789.5L491.8 784.5L491.7 779.4L490.7 774.3L488.9 769.3L486.3 764.3L482.8 759.4L478.5 754.6L473.4 750L465.9 746.1L458.3 742.1"/><path fill="#0000ff" d="M450.6 737.1L443.1 733.2L435.6 729.3L426.5 725.9L416.9 722.9L406.8 720.1L396.3 717.6L385.3 715.4L374.1 713.6L362.5 712.1L350.7 710.9L338.8 710.1L326.7 709.6L314.6 709.4L302.5 709.6L290.5 710.2L278.6 711.1L266.8 712.4L255.4 713.9L244.2 715.9L233.4 718.1L223.4 720.9L214 724L204.5 727.1L195.1 730.3L186.2 733.6L178.5 737.5L171.5 741.6L165.2 745.9L159.6 750.4L154.8 755L150.8 759.7L147.6 764.5L145.2 769.5L143.6 774.4L142.9 779.5L143 784.5L144 789.5L145.8 794.5L148.4 799.4L151.9 804.2L156.1 808.9L161.2 813.5L167 817.9L174.5 821.8L182.1 825.8L189.6 829.7L197.1 833.6L206.2 837L215.8 840L225.9 842.8L236.4 845.3L247.4 847.5L258.6 849.3L270.2 850.8L282 852L293.9 852.9L306 853.4L318.1 853.5L330.2 853.3L342.2 852.7L354.1 851.8L365.9 850.6L377.3 849L388.5 847.1L399.3 844.8L409.3 842L418.7 838.9L428.2 835.8L437.6 832.7L446.5 829.3L454.2 825.4L461.2 821.3L467.5 817L473.1 812.6L477.9 808L481.9 803.2L485.1 798.4L487.5 793.5L489.1 788.5L489.8 783.5L489.7 778.4L488.7 773.4L486.9 768.4L484.3 763.5L480.8 758.7L476.6 754L471.5 749.4L465.7 745L458.2 741.1"/><path fill="#0008ff" d="M450.4 736.1L442.6 732.3L434.2 728.8L425.3 725.5L415.7 722.4L405.8 719.7L395.3 717.2L384.5 715.1L373.4 713.3L362 711.8L350.3 710.6L338.5 709.8L326.6 709.3L314.6 709.1L302.7 709.4L290.8 709.9L279 710.8L267.4 712L256.1 713.6L245 715.5L234.3 717.7L224 720.2L214.2 723L204.8 726.1L196 729.5L187.8 733.1L180.2 736.9L173.2 741L167 745.2L161.5 749.6L156.7 754.1L152.7 758.8L149.5 763.6L147.2 768.5L145.6 773.4L144.9 778.4L145 783.3L146 788.3L147.8 793.2L150.4 798.1L153.8 802.8L158 807.5L163 812L168.7 816.4L175.2 820.6L182.3 824.6L190.1 828.4L198.5 831.9L207.4 835.2L217 838.2L226.9 841L237.4 843.4L248.2 845.6L259.3 847.4L270.7 848.9L282.4 850.1L294.2 850.9L306.1 851.4L318.1 851.5L330 851.3L341.9 850.8L353.7 849.9L365.3 848.6L376.6 847.1L387.7 845.2L398.4 843L408.7 840.4L418.5 837.6L427.9 834.5L436.7 831.2L444.9 827.6L452.5 823.8L459.5 819.7L465.7 815.5L471.2 811.1L476 806.5L480 801.8L483.2 797.1L485.5 792.2L487.1 787.3L487.8 782.3L487.7 777.3L486.7 772.4L484.9 767.5L482.3 762.6L478.9 757.8L474.7 753.2L469.7 748.7L464 744.3L457.5 740.1"/><path fill="#0010ff" d="M448.8 735.3L441.1 731.6L432.8 728.1L424 724.8L414.6 721.8L404.7 719.1L394.4 716.7L383.7 714.6L372.7 712.8L361.4 711.3L349.9 710.1L338.2 709.3L326.5 708.8L314.6 708.7L302.8 708.9L291.1 709.5L279.5 710.4L268 711.6L256.8 713.1L245.9 715L235.3 717.2L225.1 719.7L215.4 722.4L206.1 725.5L197.4 728.8L189.3 732.4L181.8 736.1L174.9 740.1L168.8 744.3L163.3 748.7L158.6 753.2L154.7 757.8L151.5 762.5L149.2 767.3L147.7 772.2L146.9 777.1L147.1 782L148 786.9L149.8 791.8L152.4 796.6L155.7 801.3L159.9 805.9L164.8 810.4L170.5 814.7L176.8 818.8L183.9 822.8L191.6 826.5L199.9 830L208.7 833.3L218.1 836.3L228 839L238.3 841.4L249 843.5L260 845.3L271.3 846.8L282.8 848L294.5 848.8L306.2 849.3L318.1 849.4L329.9 849.2L341.6 848.6L353.2 847.8L364.7 846.5L375.9 845L386.8 843.1L397.4 840.9L407.6 838.4L417.3 835.7L426.6 832.6L435.3 829.3L443.4 825.7L450.9 822L457.8 818L463.9 813.8L469.4 809.4L474.1 804.9L478 800.3L481.2 795.6L483.5 790.8L485 785.9L485.8 781L485.6 776.1L484.7 771.2L482.9 766.3L480.3 761.5L477 756.8L472.8 752.2L467.9 747.8L462.2 743.4L455.9 739.3"/><path fill="#001aff" d="M447.2 734.4L439.6 730.7L431.4 727.3L422.7 724L413.4 721.1L403.6 718.4L393.5 716L382.9 713.9L372 712.1L360.9 710.7L349.5 709.5L338 708.7L326.3 708.2L314.7 708.1L303 708.3L291.4 708.8L279.9 709.7L268.6 710.9L257.5 712.5L246.7 714.3L236.3 716.5L226.2 718.9L216.6 721.7L207.5 724.7L198.8 728L190.8 731.5L183.4 735.2L176.6 739.2L170.5 743.3L165.1 747.6L160.5 752L156.6 756.6L153.5 761.3L151.2 766L149.7 770.8L149 775.7L149.1 780.5L150 785.4L151.8 790.2L154.3 794.9L157.7 799.6L161.8 804.1L166.6 808.5L172.2 812.8L178.5 816.9L185.5 820.8L193.1 824.5L201.3 827.9L210 831.2L219.3 834.1L229.1 836.8L239.2 839.2L249.8 841.3L260.7 843.1L271.8 844.5L283.2 845.7L294.7 846.5L306.4 847L318 847.1L329.7 846.9L341.3 846.4L352.8 845.5L364.1 844.3L375.2 842.7L386 840.9L396.4 838.7L406.5 836.3L416.1 833.5L425.2 830.5L433.9 827.2L441.9 823.7L449.3 820L456.1 816L462.2 811.9L467.6 807.6L472.2 803.2L476.1 798.6L479.2 793.9L481.5 789.2L483 784.4L483.7 779.5L483.6 774.7L482.7 769.8L480.9 765L478.4 760.3L475 755.6L470.9 751.1L466.1 746.7L460.5 742.4L454.2 738.3"/><path fill="#0025ff" d="M445.6 733.3L438.1 729.6L430 726.2L421.4 723L412.2 720.1L402.6 717.5L392.5 715.1L382.1 713L371.4 711.3L360.3 709.8L349.1 708.7L337.7 707.9L326.2 707.4L314.7 707.3L303.2 707.5L291.7 708L280.3 708.9L269.2 710.1L258.2 711.6L247.6 713.4L237.2 715.6L227.3 718L217.8 720.7L208.8 723.7L200.3 726.9L192.3 730.4L185 734.1L178.3 738L172.3 742L167 746.3L162.4 750.7L158.6 755.2L155.5 759.8L153.2 764.5L151.7 769.3L151 774L151.1 778.8L152.1 783.6L153.8 788.4L156.3 793L159.6 797.6L163.6 802.1L168.4 806.5L174 810.7L180.2 814.7L187.1 818.6L194.6 822.3L202.7 825.7L211.3 828.9L220.5 831.8L230.1 834.4L240.2 836.8L250.6 838.9L261.3 840.6L272.4 842.1L283.6 843.2L295 844L306.5 844.5L318 844.6L329.5 844.4L341 843.9L352.4 843L363.5 841.8L374.5 840.3L385.1 838.5L395.5 836.3L405.4 833.9L414.9 831.2L423.9 828.2L432.4 825L440.4 821.5L447.7 817.8L454.4 813.9L460.4 809.8L465.7 805.6L470.3 801.2L474.1 796.7L477.2 792.1L479.5 787.4L481 782.6L481.7 777.8L481.6 773.1L480.6 768.3L478.9 763.5L476.4 758.9L473.1 754.3L469.1 749.8L464.3 745.4L458.7 741.2L452.5 737.1"/>
<circle r="1" fill="#0032ff" transform="matrix(127.71 -42.14 -101.86 -53.13 316.4 774.1)"/><circle r="1" fill="#0040ff" transform="matrix(126.12 -41.61 -100.59 -52.47 316.4 772)"/><circle r="1" fill="#004fff" transform="matrix(124.53 -41.09 -99.32 -51.81 316.4 769.6)"/><circle r="1" fill="#0050ff" transform="matrix(124.50 -41.08 -99.30 -51.80 316.4 769.6)"/><circle r="1" fill="#0050ff" transform="matrix(124.43 -41.05 -99.25 -51.77 316.4 769.5)"/><circle r="1" fill="#0050ff" transform="matrix(124.34 -41.03 -99.17 -51.73 316.4 769.5)"/><circle r="1" fill="#0051ff" transform="matrix(124.23 -40.99 -99.09 -51.69 316.4 769.4)"/><circle r="1" fill="#0051ff" transform="matrix(124.10 -40.95 -98.98 -51.63 316.4 769.3)"/><circle r="1" fill="#0052ff" transform="matrix(123.96 -40.90 -98.87 -51.57 316.4 769.2)"/><circle r="1" fill="#0053ff" transform="matrix(123.80 -40.85 -98.74 -51.51 316.4 769.1)"/><circle r="1" fill="#0054ff" transform="matrix(123.63 -40.79 -98.60 -51.44 316.4 769)"/><circle r="1" fill="#0055ff" transform="matrix(123.44 -40.73 -98.45 -51.36 316.4 768.8)"/><circle r="1" fill="#0056ff" transform="matrix(123.24 -40.66 -98.30 -51.27 316.4 768.7)"/><circle r="1" fill="#0057ff" transform="matrix(123.03 -40.59 -98.13 -51.19 316.4 768.5)"/><circle r="1" fill="#0058ff" transform="matrix(122.80 -40.52 -97.95 -51.09 316.4 768.3)"/><circle r="1" fill="#0059ff" transform="matrix(122.57 -40.44 -97.76 -50.99 316.4 768.1)"/><circle r="1" fill="#005bff" transform="matrix(122.32 -40.36 -97.56 -50.89 316.4 767.9)"/><circle r="1" fill="#005dff" transform="matrix(122.06 -40.27 -97.36 -50.78 316.4 767.6)"/><circle r="1" fill="#005fff" transform="matrix(121.79 -40.18 -97.14 -50.67 316.4 767.3)"/><circle r="1" fill="#0061ff" transform="matrix(121.51 -40.09 -96.92 -50.56 316.4 767)"/><circle r="1" fill="#0063ff" transform="matrix(121.23 -40.00 -96.69 -50.44 316.4 766.7)"/><circle r="1" fill="#0066ff" transform="matrix(120.93 -39.90 -96.45 -50.31 316.4 766.3)"/><circle r="1" fill="#0069ff" transform="matrix(120.62 -39.80 -96.21 -50.18 316.4 765.8)"/><circle r="1" fill="#006cff" transform="matrix(120.30 -39.69 -95.95 -50.05 316.4 765.3)"/><circle r="1" fill="#0070ff" transform="matrix(119.98 -39.58 -95.69 -49.92 316.4 764.8)"/><circle r="1" fill="#0074ff" transform="matrix(119.64 -39.47 -95.42 -49.78 316.4 764.1)"/><circle r="1" fill="#0078ff" transform="matrix(119.30 -39.36 -95.15 -49.63 316.4 763.5)"/><circle r="1" fill="#007dff" transform="matrix(118.94 -39.24 -94.87 -49.49 316.4 762.7)"/><circle r="1" fill="#0082ff" transform="matrix(118.58 -39.12 -94.58 -49.34 316.4 762)"/><circle r="1" fill="#0088ff" transform="matrix(118.21 -39.00 -94.28 -49.18 316.4 761.2)"/><circle r="1" fill="#008eff" transform="matrix(117.83 -38.88 -93.98 -49.03 316.4 760.3)"/><circle r="1" fill="#0094ff" transform="matrix(117.44 -38.75 -93.67 -48.86 316.4 759.4)"/><circle r="1" fill="#009aff" transform="matrix(117.05 -38.62 -93.36 -48.70 316.4 758.5)"/><circle r="1" fill="#00a0ff" transform="matrix(116.65 -38.49 -93.04 -48.53 316.4 757.5)"/><circle r="1" fill="#00a7ff" transform="matrix(116.24 -38.35 -92.71 -48.36 316.4 756.5)"/><circle r="1" fill="#00adff" transform="matrix(115.82 -38.21 -92.38 -48.19 316.4 755.5)"/><circle r="1" fill="#00b4ff" transform="matrix(115.39 -38.07 -92.04 -48.01 316.4 754.5)"/><circle r="1" fill="#00bbff" transform="matrix(114.96 -37.93 -91.69 -47.83 316.4 753.5)"/><circle r="1" fill="#00c2ff" transform="matrix(114.52 -37.78 -91.34 -47.65 316.4 752.5)"/><circle r="1" fill="#00c9ff" transform="matrix(114.07 -37.64 -90.98 -47.46 316.4 751.4)"/><circle r="1" fill="#00d0ff" transform="matrix(113.61 -37.49 -90.62 -47.27 316.4 750.4)"/><circle r="1" fill="#00d7ff" transform="matrix(113.15 -37.33 -90.25 -47.08 316.4 749.3)"/><circle r="1" fill="#00deff" transform="matrix(112.68 -37.18 -89.87 -46.88 316.4 748.3)"/><circle r="1" fill="#00e5ff" transform="matrix(112.20 -37.02 -89.49 -46.68 316.4 747.2)"/><circle r="1" fill="#00ecff" transform="matrix(111.72 -36.86 -89.11 -46.48 316.4 746.2)"/><circle r="1" fill="#00f3ff" transform="matrix(111.23 -36.70 -88.71 -46.28 316.4 745.1)"/><circle r="1" fill="#00faff" transform="matrix(110.73 -36.53 -88.32 -46.07 316.4 744.1)"/><circle r="1" fill="#02fffd" transform="matrix(110.22 -36.37 -87.91 -45.86 316.4 743)"/><circle r="1" fill="#09fff6" transform="matrix(109.71 -36.20 -87.50 -45.65 316.4 742)"/><circle r="1" fill="#10ffef" transform="matrix(109.19 -36.03 -87.09 -45.43 316.4 740.9)"/><circle r="1" fill="#17ffe8" transform="matrix(108.67 -35.85 -86.67 -45.21 316.4 739.9)"/><circle r="1" fill="#1effe1" transform="matrix(108.13 -35.68 -86.25 -44.99 316.4 738.8)"/><circle r="1" fill="#25ffda" transform="matrix(107.59 -35.50 -85.82 -44.77 316.4 737.8)"/><circle r="1" fill="#2cffd3" transform="matrix(107.05 -35.32 -85.38 -44.54 316.4 736.7)"/><circle r="1" fill="#33ffcc" transform="matrix(106.50 -35.14 -84.94 -44.31 316.4 735.7)"/><circle r="1" fill="#3affc5" transform="matrix(105.94 -34.95 -84.50 -44.08 316.4 734.7)"/><circle r="1" fill="#41ffbe" transform="matrix(105.38 -34.77 -84.05 -43.84 316.4 733.6)"/><circle r="1" fill="#48ffb7" transform="matrix(104.81 -34.58 -83.59 -43.61 316.4 732.6)"/><circle r="1" fill="#4effb1" transform="matrix(104.23 -34.39 -83.13 -43.37 316.4 731.5)"/><circle r="1" fill="#55ffaa" transform="matrix(103.65 -34.20 -82.67 -43.12 316.4 730.5)"/><circle r="1" fill="#5cffa3" transform="matrix(103.06 -34.00 -82.20 -42.88 316.4 729.5)"/><circle r="1" fill="#63ff9c" transform="matrix(102.46 -33.81 -81.72 -42.63 316.4 728.5)"/><circle r="1" fill="#6aff95" transform="matrix(101.86 -33.61 -81.24 -42.38 316.4 727.5)"/><circle r="1" fill="#71ff8e" transform="matrix(101.25 -33.41 -80.76 -42.13 316.4 726.4)"/><circle r="1" fill="#77ff88" transform="matrix(100.64 -33.20 -80.27 -41.87 316.4 725.4)"/><circle r="1" fill="#7eff81" transform="matrix(100.02 -33.00 -79.77 -41.61 316.4 724.4)"/><circle r="1" fill="#85ff7a" transform="matrix(99.39 -32.79 -79.28 -41.35 316.4 723.4)"/><circle r="1" fill="#8cff73" transform="matrix(98.76 -32.59 -78.77 -41.09 316.4 722.4)"/><circle r="1" fill="#92ff6d" transform="matrix(98.12 -32.38 -78.26 -40.83 316.4 721.4)"/><circle r="1" fill="#99ff66" transform="matrix(97.48 -32.16 -77.75 -40.56 316.4 720.4)"/><circle r="1" fill="#a0ff5f" transform="matrix(96.83 -31.95 -77.23 -40.29 316.4 719.4)"/><circle r="1" fill="#a6ff59" transform="matrix(96.18 -31.73 -76.71 -40.02 316.4 718.4)"/><circle r="1" fill="#adff52" transform="matrix(95.52 -31.52 -76.19 -39.74 316.4 717.4)"/><circle r="1" fill="#b3ff4c" transform="matrix(94.85 -31.30 -75.65 -39.46 316.4 716.4)"/><circle r="1" fill="#baff45" transform="matrix(94.18 -31.07 -75.12 -39.18 316.4 715.5)"/><circle r="1" fill="#c0ff3f" transform="matrix(93.50 -30.85 -74.58 -38.90 316.4 714.5)"/><circle r="1" fill="#c7ff38" transform="matrix(92.82 -30.63 -74.03 -38.62 316.4 713.5)"/><circle r="1" fill="#cdff32" transform="matrix(92.13 -30.40 -73.48 -38.33 316.4 712.5)"/><circle r="1" fill="#d4ff2b" transform="matrix(91.44 -30.17 -72.93 -38.04 316.4 711.6)"/><circle r="1" fill="#daff25" transform="matrix(90.74 -29.94 -72.37 -37.75 316.4 710.6)"/><circle r="1" fill="#e1ff1e" transform="matrix(90.03 -29.71 -71.81 -37.46 316.4 709.7)"/><circle r="1" fill="#e7ff18" transform="matrix(89.32 -29.47 -71.25 -37.16 316.4 708.7)"/><circle r="1" fill="#edff12" transform="matrix(88.61 -29.24 -70.67 -36.87 316.4 707.8)"/><circle r="1" fill="#f4ff0b" transform="matrix(87.89 -29.00 -70.10 -36.57 316.4 706.8)"/><circle r="1" fill="#faff05" transform="matrix(87.16 -28.76 -69.52 -36.26 316.4 705.9)"/><circle r="1" fill="#fffe00" transform="matrix(86.43 -28.52 -68.94 -35.96 316.4 704.9)"/><circle r="1" fill="#fff800" transform="matrix(85.69 -28.27 -68.35 -35.65 316.4 704)"/><circle r="1" fill="#fff100" transform="matrix(84.95 -28.03 -67.76 -35.34 316.4 703.1)"/><circle r="1" fill="#ffeb00" transform="matrix(84.20 -27.78 -67.16 -35.03 316.4 702.1)"/><circle r="1" fill="#ffe500" transform="matrix(83.45 -27.53 -66.56 -34.72 316.4 701.2)"/><circle r="1" fill="#ffdf00" transform="matrix(82.69 -27.28 -65.95 -34.40 316.4 700.3)"/><circle r="1" fill="#ffd900" transform="matrix(81.93 -27.03 -65.35 -34.09 316.4 699.4)"/><circle r="1" fill="#ffd300" transform="matrix(81.16 -26.78 -64.73 -33.77 316.4 698.5)"/><circle r="1" fill="#ffcd00" transform="matrix(80.39 -26.52 -64.12 -33.45 316.4 697.6)"/><circle r="1" fill="#ffc700" transform="matrix(79.61 -26.27 -63.49 -33.12 316.4 696.7)"/><circle r="1" fill="#ffc100" transform="matrix(78.82 -26.01 -62.87 -32.80 316.4 695.8)"/><circle r="1" fill="#ffbb00" transform="matrix(78.03 -25.75 -62.24 -32.47 316.4 694.9)"/><circle r="1" fill="#ffb500" transform="matrix(77.24 -25.48 -61.61 -32.14 316.4 694.1)"/><circle r="1" fill="#ffaf00" transform="matrix(76.44 -25.22 -60.97 -31.80 316.4 693.2)"/><circle r="1" fill="#ffaa00" transform="matrix(75.64 -24.96 -60.33 -31.47 316.4 692.3)"/><circle r="1" fill="#ffa400" transform="matrix(74.83 -24.69 -59.68 -31.13 316.4 691.5)"/><circle r="1" fill="#ff9e00" transform="matrix(74.01 -24.42 -59.03 -30.79 316.4 690.6)"/><circle r="1" fill="#ff9800" transform="matrix(73.20 -24.15 -58.38 -30.45 316.4 689.8)"/><circle r="1" fill="#ff9300" transform="matrix(72.37 -23.88 -57.72 -30.11 316.4 688.9)"/><circle r="1" fill="#ff8d00" transform="matrix(71.54 -23.61 -57.06 -29.77 316.4 688.1)"/><circle r="1" fill="#ff8800" transform="matrix(70.71 -23.33 -56.40 -29.42 316.4 687.2)"/><circle r="1" fill="#ff8200" transform="matrix(69.87 -23.05 -55.73 -29.07 316.4 686.4)"/><circle r="1" fill="#ff7d00" transform="matrix(69.03 -22.78 -55.06 -28.72 316.4 685.6)"/><circle r="1" fill="#ff7700" transform="matrix(68.18 -22.50 -54.38 -28.37 316.4 684.8)"/><circle r="1" fill="#ff7200" transform="matrix(67.33 -22.21 -53.70 -28.01 316.4 684)"/><circle r="1" fill="#ff6c00" transform="matrix(66.47 -21.93 -53.02 -27.66 316.4 683.1)"/><circle r="1" fill="#ff6700" transform="matrix(65.61 -21.65 -52.33 -27.30 316.4 682.4)"/><circle r="1" fill="#ff6200" transform="matrix(64.74 -21.36 -51.64 -26.94 316.4 681.6)"/><circle r="1" fill="#ff5d00" transform="matrix(63.87 -21.07 -50.94 -26.57 316.4 680.8)"/><circle r="1" fill="#ff5700" transform="matrix(62.99 -20.78 -50.24 -26.21 316.4 680)"/><circle r="1" fill="#ff5200" transform="matrix(62.11 -20.49 -49.54 -25.84 316.4 679.2)"/><circle r="1" fill="#ff4d00" transform="matrix(61.22 -20.20 -48.83 -25.47 316.4 678.5)"/><circle r="1" fill="#ff4800" transform="matrix(60.33 -19.91 -48.12 -25.10 316.4 677.7)"/><circle r="1" fill="#ff4300" transform="matrix(59.44 -19.61 -47.41 -24.73 316.4 676.9)"/><circle r="1" fill="#ff3e00" transform="matrix(58.54 -19.31 -46.69 -24.35 316.4 676.2)"/><circle r="1" fill="#ff3900" transform="matrix(57.63 -19.02 -45.97 -23.98 316.4 675.5)"/><circle r="1" fill="#ff3400" transform="matrix(56.72 -18.72 -45.24 -23.60 316.4 674.7)"/><circle r="1" fill="#ff2f00" transform="matrix(55.81 -18.41 -44.51 -23.22 316.4 674)"/><circle r="1" fill="#ff2b00" transform="matrix(54.89 -18.11 -43.78 -22.84 316.4 673.3)"/><circle r="1" fill="#ff2600" transform="matrix(53.97 -17.81 -43.04 -22.45 316.4 672.6)"/><circle r="1" fill="#ff2100" transform="matrix(53.04 -17.50 -42.30 -22.07 316.4 671.9)"/><circle r="1" fill="#ff1d00" transform="matrix(52.11 -17.19 -41.56 -21.68 316.4 671.2)"/><circle r="1" fill="#ff1800" transform="matrix(51.17 -16.88 -40.81 -21.29 316.4 670.5)"/><circle r="1" fill="#ff1300" transform="matrix(50.23 -16.57 -40.06 -20.90 316.4 669.8)"/><circle r="1" fill="#ff0f00" transform="matrix(49.28 -16.26 -39.31 -20.50 316.4 669.2)"/><circle r="1" fill="#ff0b00" transform="matrix(48.33 -15.95 -38.55 -20.11 316.4 668.5)"/><circle r="1" fill="#ff0600" transform="matrix(47.38 -15.63 -37.79 -19.71 316.4 667.8)"/><circle r="1" fill="#ff0200" transform="matrix(46.42 -15.32 -37.02 -19.31 316.4 667.2)"/><circle r="1" fill="#fd0000" transform="matrix(45.46 -15.00 -36.26 -18.91 316.4 666.6)"/><circle r="1" fill="#f80000" transform="matrix(44.49 -14.68 -35.48 -18.51 316.4 665.9)"/><circle r="1" fill="#f40000" transform="matrix(43.52 -14.36 -34.71 -18.11 316.4 665.3)"/><circle r="1" fill="#f00000" transform="matrix(42.54 -14.04 -33.93 -17.70 316.4 664.7)"/><circle r="1" fill="#ec0000" transform="matrix(41.56 -13.71 -33.15 -17.29 316.4 664.1)"/><circle r="1" fill="#e80000" transform="matrix(40.57 -13.39 -32.36 -16.88 316.4 663.5)"/><circle r="1" fill="#e40000" transform="matrix(39.58 -13.06 -31.57 -16.47 316.4 662.9)"/><circle r="1" fill="#e00000" transform="matrix(38.59 -12.73 -30.78 -16.06 316.4 662.3)"/><circle r="1" fill="#dd0000" transform="matrix(37.59 -12.40 -29.98 -15.64 316.4 661.8)"/><circle r="1" fill="#d90000" transform="matrix(36.59 -12.07 -29.18 -15.22 316.4 661.2)"/><circle r="1" fill="#d50000" transform="matrix(35.58 -11.74 -28.38 -14.80 316.4 660.7)"/><circle r="1" fill="#d20000" transform="matrix(34.57 -11.41 -27.57 -14.38 316.4 660.1)"/><circle r="1" fill="#ce0000" transform="matrix(33.55 -11.07 -26.76 -13.96 316.4 659.6)"/><circle r="1" fill="#cb0000" transform="matrix(32.53 -10.73 -25.95 -13.54 316.4 659.1)"/><circle r="1" fill="#c70000" transform="matrix(31.51 -10.40 -25.13 -13.11 316.4 658.6)"/><circle r="1" fill="#c40000" transform="matrix(30.48 -10.06 -24.31 -12.68 316.4 658.1)"/><circle r="1" fill="#c10000" transform="matrix(29.45 -9.72 -23.49 -12.25 316.4 657.6)"/><circle r="1" fill="#be0000" transform="matrix(28.41 -9.37 -22.66 -11.82 316.4 657.1)"/><circle r="1" fill="#bb0000" transform="matrix(27.37 -9.03 -21.83 -11.39 316.4 656.7)"/><circle r="1" fill="#b80000" transform="matrix(26.32 -8.69 -21.00 -10.95 316.4 656.2)"/><circle r="1" fill="#b50000" transform="matrix(25.27 -8.34 -20.16 -10.52 316.4 655.8)"/><circle r="1" fill="#b20000" transform="matrix(24.22 -7.99 -19.32 -10.08 316.4 655.4)"/><circle r="1" fill="#af0000" transform="matrix(23.16 -7.64 -18.47 -9.64 316.4 655)"/><circle r="1" fill="#ad0000" transform="matrix(22.10 -7.29 -17.63 -9.19 316.4 654.6)"/><circle r="1" fill="#aa0000" transform="matrix(21.03 -6.94 -16.78 -8.75 316.4 654.2)"/><circle r="1" fill="#a70000" transform="matrix(19.96 -6.59 -15.92 -8.31 316.4 653.8)"/><circle r="1" fill="#a50000" transform="matrix(18.89 -6.23 -15.07 -7.86 316.4 653.4)"/><circle r="1" fill="#a30000" transform="matrix(17.81 -5.88 -14.20 -7.41 316.4 653.1)"/><circle r="1" fill="#a00000" transform="matrix(16.73 -5.52 -13.34 -6.96 316.4 652.8)"/><circle r="1" fill="#9e0000" transform="matrix(15.64 -5.16 -12.47 -6.51 316.4 652.4)"/><circle r="1" fill="#9c0000" transform="matrix(14.55 -4.80 -11.60 -6.05 316.4 652.1)"/><circle r="1" fill="#9a0000" transform="matrix(13.45 -4.44 -10.73 -5.60 316.4 651.8)"/><circle r="1" fill="#990000" transform="matrix(12.35 -4.08 -9.85 -5.14 316.4 651.6)"/><circle r="1" fill="#970000" transform="matrix(11.25 -3.71 -8.97 -4.68 316.4 651.3)"/><circle r="1" fill="#950000" transform="matrix(10.14 -3.35 -8.09 -4.22 316.4 651.1)"/><circle r="1" fill="#940000" transform="matrix(9.03 -2.98 -7.21 -3.76 316.4 650.9)"/><circle r="1" fill="#920000" transform="matrix(7.92 -2.61 -6.32 -3.29 316.4 650.7)"/><circle r="1" fill="#910000" transform="matrix(6.80 -2.24 -5.42 -2.83 316.4 650.5)"/><circle r="1" fill="#900000" transform="matrix(5.68 -1.87 -4.53 -2.36 316.4 650.3)"/><circle r="1" fill="#8f0000" transform="matrix(4.55 -1.50 -3.63 -1.89 316.4 650.2)"/><circle r="1" fill="#8e0000" transform="matrix(3.42 -1.13 -2.73 -1.42 316.4 650)"/><circle r="1" fill="#8e0000" transform="matrix(2.28 -0.75 -1.82 -0.95 316.4 649.9)"/><circle r="1" fill="#8d0000" transform="matrix(1.14 -0.38 -0.91 -0.48 316.4 649.9)"/>
<path d="M231 682h1M110 778h1M223 847h1M162 789h1M382 737h1M457 818h1M192 787h1M328 862h1M426 716h1M148 766h1M443 787h1M361 789h1M294 853h1M263 861h1M248 864h1M277 737h1M323 798h1M125 802h1M299 765h1M329 681h1M331 838h1M234 700h1M209 709h1M306 807h1M436 764h1M235 844h1M244 781h1M387 776h1M216 705h1M277 873h1M316 777h1M158 762h1M424 783h1M232 774h1M342 839h1M126 784h1M195 714h1M319 784h1M288 797h1M318 772h1M408 757h1M305 878h1M397 839h1M393 680h1M267 766h1M375 772h1M278 871h1M517 787h1M526 802h1M293 729h1M225 721h1M214 769h1M340 692h1M283 768h1M240 851h1M415 803h1M289 710h1M259 763h1M317 695h1M221 703h1M330 831h1M391 823h1M504 801h1M142 775h1M318 852h1M356 866h1M403 817h1M249 671h1M344 801h1M376 814h1M310 646h1M435 770h1M332 809h1M259 764h1M404 835h1M372 804h1M432 720h1M398 817h1M400 717h1M299 761h1M143 775h1M320 865h1M413 702h1M292 832h1M240 719h1M220 783h1M314 700h1M349 865h1M136 770h1M378 859h1M267 756h1M326 814h1M386 835h1M295 782h1M196 803h1M327 790h1M262 700h1M536 805h1M315 812h1M277 709h1M238 749h1M431 770h1M225 848h1M276 810h1M264 868h1M233 691h1M303 737h1M199 830h1M536 798h1M201 823h1M312 875h1M447 796h1M91 782h1M315 821h1M373 812h1M395 675h1M216 786h1M254 828h1M254 860h1M291 709h1M363 807h1M265 781h1M225 785h1M247 748h1M270 864h1M340 804h1M253 770h1M262 869h1M373 849h1M182 745h1M267 773h1M95 784h1M132 794h1M340 801h1M222 749h1M280 808h1M373 766h1M188 834h1M320 655h1M449 772h1M144 770h1M130 777h1M381 734h1M342 789h1M378 743h1M353 734h1M288 689h1M197 804h1M283 772h1M183 790h1M358 696h1M303 678h1M345 732h1M288 877h1M428 707h1M96 777h1M367 771h1M384 847h1M452 822h1M433 760h1M236 831h1M417 711h1M285 841h1M327 711h1M434 726h1M233 704h1M378 817h1M301 853h1M285 825h1M374 664h1M380 818h1M250 848h1M466 802h1M472 802h1M211 823h1M252 725h1M317 856h1M285 837h1M242 820h1M334 699h1M311 843h1M164 768h1M242 851h1M211 698h1M315 672h1M410 840h1M265 866h1M257 864h1M187 759h1M438 832h1M393 829h1M354 676h1M220 819h1M194 726h1M457 827h1M284 694h1M409 769h1M365 745h1M447 819h1M485 814h1M451 822h1M294 799h1M272 812h1M449 741h1M124 787h1M335 823h1M321 804h1M474 774h1M272 880h1M176 815h1M264 834h1M277 818h1M329 699h1M380 761h1M345 701h1M245 803h1M300 718h1M246 856h1M220 764h1M281 803h1M392 735h1M533 808h1M242 683h1M368 839h1M170 817h1M330 829h1M286 864h1M142 767h1M144 767h1M315 779h1M300 785h1M395 853h1M255 749h1M321 765h1M376 729h1M251 763h1M328 836h1M341 850h1M216 850h1M269 770h1M206 771h1M219 790h1M380 839h1M501 780h1M368 808h1M369 798h1M376 818h1M362 814h1M177 810h1M295 834h1M390 736h1M453 784h1M228 752h1M273 670h1M192 827h1M416 759h1M388 848h1M352 754h1M250 805h1M452 786h1M235 795h1M202 750h1M350 713h1M463 815h1M341 843h1M401 760h1M187 789h1M326 763h1M162 819h1M250 785h1M269 773h1M255 671h1M241 774h1M348 710h1M280 880h1M100 783h1M266 675h1M199 785h1M198 732h1M416 805h1M401 719h1M471 763h1M341 681h1M236 687h1M396 697h1M475 776h1M164 753h1M180 787h1M117 796h1M370 821h1M465 790h1M271 824h1M236 854h1M304 861h1M289 773h1M229 821h1M258 831h1M322 777h1M333 650h1M352 775h1M312 769h1M141 792h1M479 775h1M236 753h1M195 750h1M250 777h1M380 846h1M203 813h1M207 779h1M520 799h1M196 774h1M284 881h1M213 721h1M133 792h1M204 761h1M338 853h1M368 786h1M388 695h1M297 781h1M370 761h1M321 740h1M190 783h1M311 716h1M217 836h1M287 827h1M245 812h1M371 856h1M470 773h1M430 829h1M440 763h1M453 821h1M357 768h1M276 839h1M495 796h1M258 757h1M355 667h1M231 854h1M173 751h1M314 873h1M447 779h1M324 815h1M262 734h1M400 775h1M345 787h1M309 754h1M322 672h1M407 848h1M321 770h1M365 733h1M357 811h1M170 768h1M341 711h1M326 849h1M370 845h1M230 822h1M261 659h1M286 799h1M247 691h1M215 784h1M130 777h1M318 701h1M368 698h1M134 772h1M336 712h1M260 808h1M229 809h1M127 784h1M249 769h1M211 745h1M392 818h1M244 801h1M428 822h1M349 823h1M198 753h1M486 796h1M264 830h1M408 828h1M474 801h1M293 658h1M281 772h1M541 803h1M323 755h1M244 719h1M143 785h1M235 847h1M339 834h1M156 810h1M363 759h1M127 766h1M284 692h1M385 801h1M525 807h1M382 855h1M232 691h1M229 736h1M253 851h1M377 848h1M355 665h1M167 824h1M280 715h1M286 810h1M538 799h1M368 719h1M393 737h1M275 776h1M339 673h1M196 766h1M341 701h1M129 772h1M340 822h1M264 687h1M346 837h1M280 865h1M374 861h1M239 834h1M402 850h1M123 781h1M290 853h1M164 782h1M215 815h1M258 681h1M334 816h1M316 862h1M469 814h1M264 763h1M264 862h1M249 761h1M316 710h1M447 802h1M221 834h1M431 771h1M381 732h1M293 755h1M220 722h1M247 837h1M281 860h1M171 795h1M491 806h1M166 778h1M496 804h1M435 806h1M270 813h1M236 768h1M363 709h1M279 779h1M358 783h1M391 794h1M234 829h1M199 821h1M442 837h1M224 837h1M390 837h1M185 833h1M342 690h1M315 803h1M241 844h1M296 725h1M268 859h1M104 785h1M272 873h1M530 801h1M440 804h1M179 786h1M309 866h1M153 814h1M362 757h1M248 838h1M456 816h1M133 766h1M405 682h1M314 873h1M243 698h1M271 783h1M389 780h1M339 816h1M231 805h1M339 723h1M486 772h1M188 801h1M433 739h1M264 776h1M370 813h1M230 801h1M336 700h1M303 824h1M326 763h1M329 775h1M329 847h1M296 804h1M409 756h1M459 833h1M147 814h1M251 774h1M456 798h1M252 822h1M217 746h1M417 737h1M257 775h1M314 869h1M297 760h1M275 762h1M321 850h1M397 829h1M268 655h1M341 836h1M346 659h1M417 765h1M276 790h1M324 646h1M342 772h1M100 778h1M255 760h1M310 790h1M251 844h1M331 746h1M231 713h1M215 821h1M461 792h1M294 877h1M289 863h1" stroke="#fff" stroke-opacity=".55" stroke-width="1" fill="none" shape-rendering="crispEdges"/>
<path d="M68.4 609.4L68.4 784M68.4 784L287.9 898.5M287.9 898.5L563.1 807.7M287.9 898.5L294.5 902M356.7 875.8L363.3 879.3M425.5 853.1L432.1 856.6M494.3 830.4L500.9 833.9M563.1 807.7L569.7 811.2M287.9 898.5L280.8 900.8M233 869.9L225.9 872.2M178.1 841.2L171 843.6M123.3 812.6L116.2 815M68.4 784L61.3 786.3M68.4 784L61.8 780.5M68.4 725.8L61.8 722.3M68.4 667.6L61.8 664.1M68.4 609.4L61.8 605.9" fill="none" stroke="#333" stroke-width="1"/>
<g class="tk"><text x="298.1" y="925.7">0</text><text x="366.9" y="903">25</text><text x="435.7" y="880.3">50</text><text x="504.5" y="857.6">75</text><text x="573.3" y="834.9">100</text><text x="277.3" y="924.1" text-anchor="end">0</text><text x="222.4" y="895.5" text-anchor="end">25</text><text x="167.5" y="866.9" text-anchor="end">50</text><text x="112.7" y="838.2" text-anchor="end">75</text><text x="57.8" y="809.6" text-anchor="end">100</text><text x="57.1" y="789.4" text-anchor="end">0</text><text x="57.1" y="731.2" text-anchor="end">20</text><text x="57.1" y="673" text-anchor="end">40</text><text x="57.1" y="614.8" text-anchor="end">60</text></g>
</g>
<g class="lb">
<text x="106.5" y="416.2" text-anchor="middle">y-axis [μm]</text>
<text x="475" y="421.2" text-anchor="middle">x-axis [μm]</text>
<text transform="translate(24.3 178) rotate(-90)" text-anchor="middle">wrapped phase [rad.]</text>
<text x="109.3" y="930.3" text-anchor="middle">y-axis [μm]</text>
<text x="478.5" y="936.2" text-anchor="middle">x-axis [μm]</text>
<text transform="translate(21.5 701) rotate(-90)" text-anchor="middle">unwrapped phase [rad.]</text>
</g>
<g class="cap">
<text x="304.6" y="474.9" text-anchor="middle">(a)</text>
<text x="304.7" y="993.6" text-anchor="middle">(b)</text>
</g>
</svg>
</body></html>
